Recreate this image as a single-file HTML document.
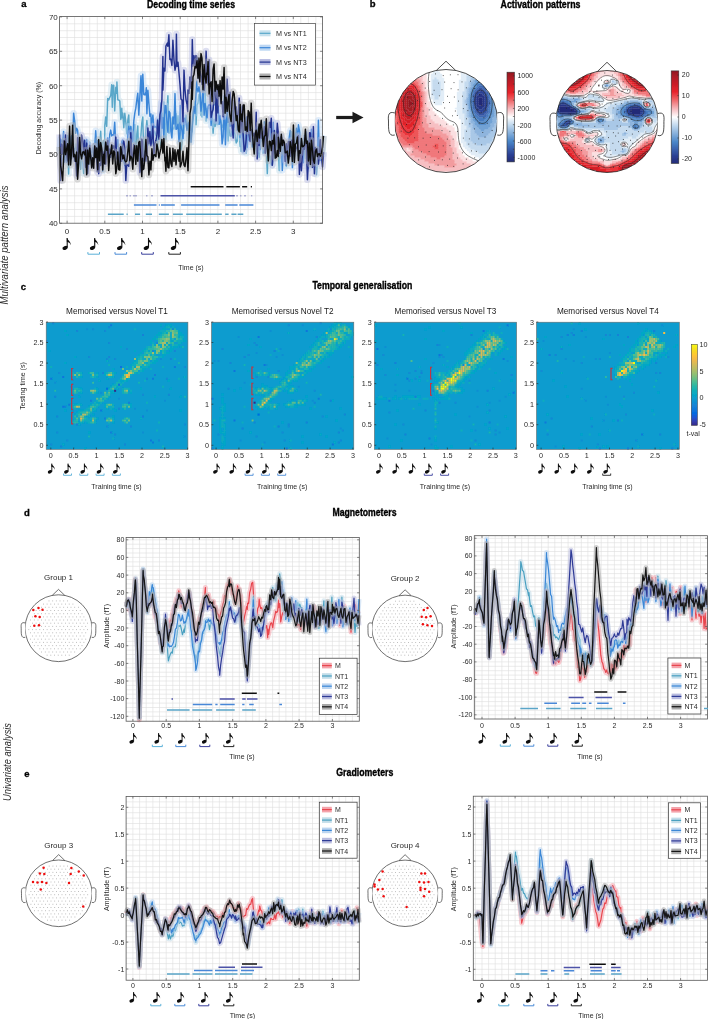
<!DOCTYPE html>
<html><head><meta charset="utf-8"><style>
html,body{margin:0;padding:0;background:#fff;width:708px;height:1019px;overflow:hidden}
svg{display:block;font-family:"Liberation Sans", sans-serif}
</style></head><body>
<svg width="708" height="1019" viewBox="0 0 708 1019">
<defs><filter id="soft" x="0" y="0" width="708" height="1019" filterUnits="userSpaceOnUse"><feGaussianBlur stdDeviation="0.35"/></filter></defs>
<rect width="708" height="1019" fill="#fff"/>
<g filter="url(#soft)"><text x="21.3" y="7.2" font-size="9.5" text-anchor="start" fill="#000" font-weight="bold" font-style="normal" stroke="#000" stroke-width="0.3">a</text><text x="369.8" y="7" font-size="9.5" text-anchor="start" fill="#000" font-weight="bold" font-style="normal" stroke="#000" stroke-width="0.3">b</text><text x="20.8" y="290.2" font-size="9.5" text-anchor="start" fill="#000" font-weight="bold" font-style="normal" stroke="#000" stroke-width="0.3">c</text><text x="24" y="516.2" font-size="9.5" text-anchor="start" fill="#000" font-weight="bold" font-style="normal" stroke="#000" stroke-width="0.3">d</text><text x="24.2" y="776.6" font-size="9.5" text-anchor="start" fill="#000" font-weight="bold" font-style="normal" stroke="#000" stroke-width="0.3">e</text><text x="191" y="8" font-size="10" font-weight="bold" text-anchor="middle" fill="#000" stroke="#000" stroke-width="0.35" textLength="88" lengthAdjust="spacingAndGlyphs">Decoding time series</text><text x="540.5" y="8" font-size="10" font-weight="bold" text-anchor="middle" fill="#000" stroke="#000" stroke-width="0.35" textLength="80" lengthAdjust="spacingAndGlyphs">Activation patterns</text><text x="362.4" y="289" font-size="10" font-weight="bold" text-anchor="middle" fill="#000" stroke="#000" stroke-width="0.35" textLength="100" lengthAdjust="spacingAndGlyphs">Temporal generalisation</text><text x="364.5" y="516.3" font-size="10" font-weight="bold" text-anchor="middle" fill="#000" stroke="#000" stroke-width="0.35" textLength="64" lengthAdjust="spacingAndGlyphs">Magnetometers</text><text x="364.8" y="776" font-size="10" font-weight="bold" text-anchor="middle" fill="#000" stroke="#000" stroke-width="0.35" textLength="57" lengthAdjust="spacingAndGlyphs">Gradiometers</text><text transform="translate(8.2 304.5) rotate(-90)" font-size="10" font-style="italic" fill="#2a2a2a" textLength="119" lengthAdjust="spacingAndGlyphs">Multivariate pattern analysis</text><text transform="translate(10.5 801) rotate(-90)" font-size="10" font-style="italic" fill="#2a2a2a" textLength="78" lengthAdjust="spacingAndGlyphs">Univariate analysis</text><path d="M67.1 16.6V223.2M74.6 16.6V223.2M82.2 16.6V223.2M89.7 16.6V223.2M97.3 16.6V223.2M104.8 16.6V223.2M112.3 16.6V223.2M119.9 16.6V223.2M127.4 16.6V223.2M135 16.6V223.2M142.5 16.6V223.2M150 16.6V223.2M157.6 16.6V223.2M165.1 16.6V223.2M172.7 16.6V223.2M180.2 16.6V223.2M187.7 16.6V223.2M195.3 16.6V223.2M202.8 16.6V223.2M210.4 16.6V223.2M217.9 16.6V223.2M225.4 16.6V223.2M233 16.6V223.2M240.5 16.6V223.2M248.1 16.6V223.2M255.6 16.6V223.2M263.1 16.6V223.2M270.7 16.6V223.2M278.2 16.6V223.2M285.8 16.6V223.2M293.3 16.6V223.2M300.8 16.6V223.2M308.4 16.6V223.2M315.9 16.6V223.2M59.6 216.4H322.6M59.6 209.5H322.6M59.6 202.7H322.6M59.6 195.8H322.6M59.6 188.9H322.6M59.6 182H322.6M59.6 175.1H322.6M59.6 168.3H322.6M59.6 161.4H322.6M59.6 154.5H322.6M59.6 147.6H322.6M59.6 140.7H322.6M59.6 133.9H322.6M59.6 127H322.6M59.6 120.1H322.6M59.6 113.2H322.6M59.6 106.3H322.6M59.6 99.5H322.6M59.6 92.6H322.6M59.6 85.7H322.6M59.6 78.8H322.6M59.6 71.9H322.6M59.6 65.1H322.6M59.6 58.2H322.6M59.6 51.3H322.6M59.6 44.4H322.6M59.6 37.5H322.6M59.6 30.7H322.6M59.6 23.8H322.6" stroke="#dedede" stroke-width="0.6" fill="none"/><path d="M59.6 154.1l1 -14.7l1 1.4l1 19.1l1 -2.5l1 2.5l1 -12.2l1 6.8l1 -8.9l1 28.4l1 -37.6l1 18.2l1 -8.6l1 8.9l1 2.5l1 -9.3l1 -4.1l1 11.2l1 -0.6l1 -9.3l1 17l1 7l1 -21.1l1 11.7l1 13.6l1 -12.2l1 -3.9l1.1 7.9l1 3.2l1 -17l1 -9.5l1 12.3l1 5.6l1 -12.5l1 -3.8l1 11.1l1 -9.4l1 -5.5l1 13.6l1 6.6l0.1 -12.8l0.9 -2.6l1 -13.3l1 22.2l1 -10.9l1 -2l1 5.8l0.1 -20.8l0.9 -8.6l1 9.3l1 -27.9l1 1.6l1 -2.4l1 -2.1l1 -10.7l0.6 22.4l0.4 -21.6l1 -0.3l1 25.6l1.1 -23.7l1 6.1l0.1 -11.4l0.9 17.9l1 0.3l1 1l1 18.4l1 -11.3l0.3 9.6l0.7 -4.5l1 14.4l1 -14.4l1 8.6l1 11.9l0.6 -6.9l0.4 -6.7l1 -5.2l1 37.6l1 -26.4l1 5.2l1 6.8l1 10.6l1 -24.3l1 28.4l1 -19.6l1 -7.4l0.9 32.4l0.1 -14.3l1 10.7l1 -17.4l1 -14.4l1 -5.9l1 41.4l1.1 -13.6l1 -14.4l1 -10l1 12.4l1 12.5l1 -11.9l1 3.1l1 1.7l1 5.5l1 -12.8l1 0.6l1 4l1 1.1l0.7 11.4l0.3 -9.2l1 -20l1 14l1 12.4l1 -32l1 7.5l1 -18.7l1 21.1l0.2 5.5l0.8 11l1 -30.3l1 -13.5l1 37.5l1 -1.8l1 -13.5l1 15.9l1 -6l1.1 1.1l1 -5.8l1 -9.7l1 12l1 -9.7l1 14.9l1 -8.1l1 27.4l1 -7.4l1 -24.6l1 15.5l0 -12.9l1 1.7l1 -7.2l1 6.9l1 -1l1 13.8l0.2 6.7l0.8 -3.5l1 -7.8l1 1.9l1 -11.5l1 -10.2l1 -8.9l0.3 5.1l0.7 18.2l1 -19.5l1 -2.4l1 -8.5l1 6.5l1 14.3l1 1.8l0.8 -29.4l0.2 14l1.1 -11.1l1 -2.6l1 33.1l1 -12.6l1 -0.1l1 -0.4l1 0.9l1 4.4l1 1l1 19.1l1 -14l1 7.1l1 -8.9l1 7.2l0.8 -11.4l0.2 -2.1l1 6.2l1 0.6l1 3l1 6.6l1 -2.5l1 4.2l1 -9.1l1 4.7l1 -5.6l1 21.7l1 -23.8l1 18.7l1 0.3l1 -5.3l1.1 4.7l1 -8.8l1 10.1l1 6.1l1 -1.9l1 -23.1l1 14.6l1 13.9l0.3 -12.7l0.7 17.6l1 -36.2l1 37.1l1 -21.5l1 -0.1l1 22.6l1 -18.7l1 -7l1 6.4l1 2.9l1 -7l1 9.3l1 -1.3l1 5.7l1 -7.7l1 17.9l1 -18.5l1 14.9l1 7.1l1 -15.5l1 -14l1.1 8.7l0.8 16.8l0.2 -13.4l1 12.8l1 -3.5l1 -2.2l1 26.6l1 -27.5l1 13.6l1 -3.6l1 8.7l1 0.6l1 -6.2l1 -19.4l1 -9.1l1 18.7l1 -12.2l1 15.1l1 18.2l1 -22.6l1 -3.1l1 9.7l1 -7.9l1 -2.9l1 16l1 6.8l1 -13.7l1 0l1 1.7l1 -14.6l1.1 -8.1l1 23.7l1 -12.1l1 -2.6l1 2.6l1 -3.5l1 15.9l1 -12.3l1 -14l1 13.5l1 15.8l1 -13.4l1 -7.1l1 10l1 10.3l1 -23l1 30.8l1 -19.2l1 5.9l1 13.1l1 -26.5l1 9.7l1 16.8l1 -19.4l1 11.5l1 16.3l1 -13.2l1 -10.4l1 -4l1 5.3l1.1 1.5l1 -4.6l1 7.6" stroke="#c6e1ee" stroke-width="6.5" stroke-opacity="0.45" fill="none" stroke-linejoin="round"/><path d="M59.6 154.1l1 -14.7l1 1.4l1 19.1l1 -2.5l1 2.5l1 -12.2l1 6.8l1 -8.9l1 28.4l1 -37.6l1 18.2l1 -8.6l1 8.9l1 2.5l1 -9.3l1 -4.1l1 11.2l1 -0.6l1 -9.3l1 17l1 7l1 -21.1l1 11.7l1 13.6l1 -12.2l1 -3.9l1.1 7.9l1 3.2l1 -17l1 -9.5l1 12.3l1 5.6l1 -12.5l1 -3.8l1 11.1l1 -9.4l1 -5.5l1 13.6l1 6.6l0.1 -12.8l0.9 -2.6l1 -13.3l1 22.2l1 -10.9l1 -2l1 5.8l0.1 -20.8l0.9 -8.6l1 9.3l1 -27.9l1 1.6l1 -2.4l1 -2.1l1 -10.7l0.6 22.4l0.4 -21.6l1 -0.3l1 25.6l1.1 -23.7l1 6.1l0.1 -11.4l0.9 17.9l1 0.3l1 1l1 18.4l1 -11.3l0.3 9.6l0.7 -4.5l1 14.4l1 -14.4l1 8.6l1 11.9l0.6 -6.9l0.4 -6.7l1 -5.2l1 37.6l1 -26.4l1 5.2l1 6.8l1 10.6l1 -24.3l1 28.4l1 -19.6l1 -7.4l0.9 32.4l0.1 -14.3l1 10.7l1 -17.4l1 -14.4l1 -5.9l1 41.4l1.1 -13.6l1 -14.4l1 -10l1 12.4l1 12.5l1 -11.9l1 3.1l1 1.7l1 5.5l1 -12.8l1 0.6l1 4l1 1.1l0.7 11.4l0.3 -9.2l1 -20l1 14l1 12.4l1 -32l1 7.5l1 -18.7l1 21.1l0.2 5.5l0.8 11l1 -30.3l1 -13.5l1 37.5l1 -1.8l1 -13.5l1 15.9l1 -6l1.1 1.1l1 -5.8l1 -9.7l1 12l1 -9.7l1 14.9l1 -8.1l1 27.4l1 -7.4l1 -24.6l1 15.5l0 -12.9l1 1.7l1 -7.2l1 6.9l1 -1l1 13.8l0.2 6.7l0.8 -3.5l1 -7.8l1 1.9l1 -11.5l1 -10.2l1 -8.9l0.3 5.1l0.7 18.2l1 -19.5l1 -2.4l1 -8.5l1 6.5l1 14.3l1 1.8l0.8 -29.4l0.2 14l1.1 -11.1l1 -2.6l1 33.1l1 -12.6l1 -0.1l1 -0.4l1 0.9l1 4.4l1 1l1 19.1l1 -14l1 7.1l1 -8.9l1 7.2l0.8 -11.4l0.2 -2.1l1 6.2l1 0.6l1 3l1 6.6l1 -2.5l1 4.2l1 -9.1l1 4.7l1 -5.6l1 21.7l1 -23.8l1 18.7l1 0.3l1 -5.3l1.1 4.7l1 -8.8l1 10.1l1 6.1l1 -1.9l1 -23.1l1 14.6l1 13.9l0.3 -12.7l0.7 17.6l1 -36.2l1 37.1l1 -21.5l1 -0.1l1 22.6l1 -18.7l1 -7l1 6.4l1 2.9l1 -7l1 9.3l1 -1.3l1 5.7l1 -7.7l1 17.9l1 -18.5l1 14.9l1 7.1l1 -15.5l1 -14l1.1 8.7l0.8 16.8l0.2 -13.4l1 12.8l1 -3.5l1 -2.2l1 26.6l1 -27.5l1 13.6l1 -3.6l1 8.7l1 0.6l1 -6.2l1 -19.4l1 -9.1l1 18.7l1 -12.2l1 15.1l1 18.2l1 -22.6l1 -3.1l1 9.7l1 -7.9l1 -2.9l1 16l1 6.8l1 -13.7l1 0l1 1.7l1 -14.6l1.1 -8.1l1 23.7l1 -12.1l1 -2.6l1 2.6l1 -3.5l1 15.9l1 -12.3l1 -14l1 13.5l1 15.8l1 -13.4l1 -7.1l1 10l1 10.3l1 -23l1 30.8l1 -19.2l1 5.9l1 13.1l1 -26.5l1 9.7l1 16.8l1 -19.4l1 11.5l1 16.3l1 -13.2l1 -10.4l1 -4l1 5.3l1.1 1.5l1 -4.6l1 7.6" stroke="#5aa7c9" stroke-width="1.45" fill="none" stroke-linejoin="round"/><path d="M59.6 151.1l1 -12l1 2.9l1 -0.3l1 -10.3l1 30.6l1 -6.8l1 7.2l0.5 -13.6l0.5 -13.3l1 9l1 -8l1 24.2l1 -25l1 9.3l1 -31.8l1 7.5l0 -0.7l1 13.3l1 -5.1l1 1.8l1 13.3l1 4l1 -1.9l1 7.6l0.6 1.2l0.4 -3.4l1 5.2l1 -16.3l1 26.3l1.1 -26.4l1 16.2l1 -0.7l1 9.1l1 -13.1l1 1.4l1 -4.6l1 8.2l1 -6.7l1 -18.7l1 15.7l0.6 11l0.4 -16.9l1 11.7l1 -8.2l1 -0.5l1 10.9l1 16.7l1 -17.7l1 -10.1l1 10l1 -9.2l1 -6.2l1 16.5l1 -19.7l1 -4.6l1 5.8l1 -1.2l1 0.5l1 -12.9l1.1 22.5l1 1.8l1 -6.9l1 16.5l1 6.8l1 -7.6l1 -14l1 -1.4l1 21.9l1 3.6l1 -17.5l1 -1.6l0.6 -1.7l0.4 -9.1l1 -9.3l1 7.7l1 -7.4l1 15.6l1 -2.3l1 -18.7l1 -8l0.2 -1.1l0.8 -3.9l1 -8.4l1 -6.6l1 21.9l1 -17.5l1 -19.4l0.2 -2.5l0.8 25.4l1 -26.9l1 20.3l1.1 0.4l1 -3l0.4 -4.1l0.6 25.9l1 -23.4l1 13.3l1 12.6l1 -2.2l0.6 23.3l0.4 -16l1 -6.3l1 12.7l1 -1.4l1 0.9l1 0.7l0.7 -8.7l0.3 11.1l1 1.2l1 -10.2l1 -18.3l1 25.3l1 -10.8l1 21.6l1 -33.5l0.2 7.2l0.8 -7.2l1 15.6l1 11l1 -21l1 1.7l1 18.1l1 6.9l1 -21l1.1 7.1l1 -30.4l1 35.7l1 -0.7l1 -4.4l1 17.4l1 -8.3l0.2 -27.9l0.8 19.9l1 5.6l1 7.7l1 -20l1 -0.5l1 4.8l1 7.5l1 -7.3l1 -0.4l0.2 11.8l0.8 -17.8l1 25.5l1 -13.6l1 -15.5l1 -6.7l1 7.1l1 -21.1l0.8 -11.4l0.2 7l1 3.9l1 -5.3l1 6.1l1 18.4l1 -8.9l1 -15l1.1 28.1l1 -11.8l1 6.4l0.5 6.3l0.5 1.6l1 -11.5l1 -1.6l1 0.8l1 20l1 -12l1 -6.2l1 -5.9l1 3.7l1 -1l1 -2.2l1 3.8l1 18.7l1 -8.8l1 9.2l1 19.1l1 -7l1 -40.8l1 36.1l0.3 12.6l0.7 -17.8l1 -22.5l1 17.9l1 -4.3l1 8.2l1 -1.4l1 -14.2l1.1 5.9l1 10.4l1 -10.1l1 -1.3l1 14.9l1 -4.7l1 0.9l1 10.8l1 -19.3l1 15.2l1 5.7l1 12.3l1 -3.9l1 -30l1 30l1 -16.6l1 9.5l1 -9l1 -0.3l1 15.9l1 -4.7l1 -3.6l1 0.5l0.4 1.9l0.6 3.2l1 -10.2l1 -7.5l1 8.7l1 14.3l1 -12.4l1.1 3.9l1 -4.3l1 -15.1l1 22.9l1 -2.1l1 9.8l1 -6.5l1 3.3l1 -23.7l1 14.4l1 9.8l1 -27.4l1 36l1 -23.9l1 -1.6l1 5l1 9.4l1 -1.3l1 2.5l1 -12.3l1 34.4l1 -19.8l1 -7.2l1 8.3l1 13.7l1 -17.2l1 5.8l1 -16.9l1 -6.5l1.1 14.8l1 22.2l1 -19l1 8.2l1 -17.5l1 -11l1 15.3l1 -18.8l1 5.9l1 9.2l1 17.3l1 -11.6l1 17.1l1 -27.2l1 10.2l1 -13.7l1 12l1 24.6l1 -28.3l1 -3.1l1 -7.9l1 29.2l1 -0.4l1 -10.7l1 12.4l1 3.8l1 -3l1 -40.4l1 35.7l1 4.5l1.1 -6l1 -4.7l1 -14" stroke="#bdd7f3" stroke-width="6.5" stroke-opacity="0.45" fill="none" stroke-linejoin="round"/><path d="M59.6 151.1l1 -12l1 2.9l1 -0.3l1 -10.3l1 30.6l1 -6.8l1 7.2l0.5 -13.6l0.5 -13.3l1 9l1 -8l1 24.2l1 -25l1 9.3l1 -31.8l1 7.5l0 -0.7l1 13.3l1 -5.1l1 1.8l1 13.3l1 4l1 -1.9l1 7.6l0.6 1.2l0.4 -3.4l1 5.2l1 -16.3l1 26.3l1.1 -26.4l1 16.2l1 -0.7l1 9.1l1 -13.1l1 1.4l1 -4.6l1 8.2l1 -6.7l1 -18.7l1 15.7l0.6 11l0.4 -16.9l1 11.7l1 -8.2l1 -0.5l1 10.9l1 16.7l1 -17.7l1 -10.1l1 10l1 -9.2l1 -6.2l1 16.5l1 -19.7l1 -4.6l1 5.8l1 -1.2l1 0.5l1 -12.9l1.1 22.5l1 1.8l1 -6.9l1 16.5l1 6.8l1 -7.6l1 -14l1 -1.4l1 21.9l1 3.6l1 -17.5l1 -1.6l0.6 -1.7l0.4 -9.1l1 -9.3l1 7.7l1 -7.4l1 15.6l1 -2.3l1 -18.7l1 -8l0.2 -1.1l0.8 -3.9l1 -8.4l1 -6.6l1 21.9l1 -17.5l1 -19.4l0.2 -2.5l0.8 25.4l1 -26.9l1 20.3l1.1 0.4l1 -3l0.4 -4.1l0.6 25.9l1 -23.4l1 13.3l1 12.6l1 -2.2l0.6 23.3l0.4 -16l1 -6.3l1 12.7l1 -1.4l1 0.9l1 0.7l0.7 -8.7l0.3 11.1l1 1.2l1 -10.2l1 -18.3l1 25.3l1 -10.8l1 21.6l1 -33.5l0.2 7.2l0.8 -7.2l1 15.6l1 11l1 -21l1 1.7l1 18.1l1 6.9l1 -21l1.1 7.1l1 -30.4l1 35.7l1 -0.7l1 -4.4l1 17.4l1 -8.3l0.2 -27.9l0.8 19.9l1 5.6l1 7.7l1 -20l1 -0.5l1 4.8l1 7.5l1 -7.3l1 -0.4l0.2 11.8l0.8 -17.8l1 25.5l1 -13.6l1 -15.5l1 -6.7l1 7.1l1 -21.1l0.8 -11.4l0.2 7l1 3.9l1 -5.3l1 6.1l1 18.4l1 -8.9l1 -15l1.1 28.1l1 -11.8l1 6.4l0.5 6.3l0.5 1.6l1 -11.5l1 -1.6l1 0.8l1 20l1 -12l1 -6.2l1 -5.9l1 3.7l1 -1l1 -2.2l1 3.8l1 18.7l1 -8.8l1 9.2l1 19.1l1 -7l1 -40.8l1 36.1l0.3 12.6l0.7 -17.8l1 -22.5l1 17.9l1 -4.3l1 8.2l1 -1.4l1 -14.2l1.1 5.9l1 10.4l1 -10.1l1 -1.3l1 14.9l1 -4.7l1 0.9l1 10.8l1 -19.3l1 15.2l1 5.7l1 12.3l1 -3.9l1 -30l1 30l1 -16.6l1 9.5l1 -9l1 -0.3l1 15.9l1 -4.7l1 -3.6l1 0.5l0.4 1.9l0.6 3.2l1 -10.2l1 -7.5l1 8.7l1 14.3l1 -12.4l1.1 3.9l1 -4.3l1 -15.1l1 22.9l1 -2.1l1 9.8l1 -6.5l1 3.3l1 -23.7l1 14.4l1 9.8l1 -27.4l1 36l1 -23.9l1 -1.6l1 5l1 9.4l1 -1.3l1 2.5l1 -12.3l1 34.4l1 -19.8l1 -7.2l1 8.3l1 13.7l1 -17.2l1 5.8l1 -16.9l1 -6.5l1.1 14.8l1 22.2l1 -19l1 8.2l1 -17.5l1 -11l1 15.3l1 -18.8l1 5.9l1 9.2l1 17.3l1 -11.6l1 17.1l1 -27.2l1 10.2l1 -13.7l1 12l1 24.6l1 -28.3l1 -3.1l1 -7.9l1 29.2l1 -0.4l1 -10.7l1 12.4l1 3.8l1 -3l1 -40.4l1 35.7l1 4.5l1.1 -6l1 -4.7l1 -14" stroke="#3b86d8" stroke-width="1.45" fill="none" stroke-linejoin="round"/><path d="M59.6 134.4l1 46.2l1 -36.5l1 9.9l1 -13.6l1 10.3l1 -15.8l1 19.9l1 6.1l1 -12l1 1.8l1 8.7l1 -1.1l1 -10.5l1 0.2l1 13.3l1 -1.3l1 15.9l1 -38.2l1 21l1 -17.1l1 10.2l1 -16.7l1 4.6l1 13.5l1 -12.7l1 26.8l1.1 -24.2l1 30.3l1 -20l1 -7.9l1 9.4l1 6.6l1 4.9l1 -5l1 -15.3l1 1.9l1 12.8l0.6 10.9l0.4 -21.2l1 23.2l1 -10.3l1 2.1l1 -16.4l1 5.4l1 -2.6l1 1.9l1 10.3l1 -13.5l1 -9.8l1 15.8l1 -7.5l1 8.2l1 -12.9l1 3.8l1 -2.4l1 5.6l1.1 -14.3l1 21.9l1 -0.5l1 2.7l1 -13.4l1 13.4l1 0.1l1 -15.2l1 -5l1 6.3l1 33.2l1 -16.7l1 1.2l1 1.3l1 -8.9l1 -24.7l1 23.3l1 4.5l1 -15.9l1 6.8l1 -0.8l1 8.8l1 -7.7l1 -5l1 25.7l1 -3.5l1 -29.8l0.7 2.6l0.3 14.5l1 4.8l1.1 -10.1l1 10.1l1 -10.3l1 -22.8l1 15.8l1 -12.3l1 14.4l1 -7.5l1 -12.1l1 29.1l1 -11.8l1 -3l1 -5.8l0.7 -14.6l0.3 6.1l1 12.9l1 -24.6l1 -4.3l1 -10.8l1 -43l0 33.6l1 -21.9l1 2.8l1 -25l1 -2l0.5 -1l0.5 3.3l1 -11.5l1 24.7l1 -0.3l1 6.2l1 -25.1l1.1 19.8l1 10.1l1 -4.9l0.4 -31.2l0.6 32.2l1 -4l1 10.7l1 11.8l1 14.1l0.7 0.8l0.3 0.5l1 21.6l1 -51.7l1 19.5l1 10l1 4.7l0.7 7.3l0.3 -21.5l1 3.3l1 -16.4l1 11.4l1 -28.6l0.3 -20.2l0.7 26.4l1 -10.3l1 10l1 -10.1l1 2l1 12.7l1 8.5l1 -7.7l1 4.4l1 8.9l0.8 -10.6l0.2 0.6l1.1 15.9l1 -7.2l1 -32l1 24.5l1 9.3l1 -25.2l1 34.1l1 23.6l1 -4.9l1 -2.9l1 -18.2l1 -6.5l1 36l1 -34.8l0.8 26.9l0.2 -16.2l1 -1.3l1 1.2l1 5.6l1 -0.9l1 15.4l1 -14.7l1 -6.8l1 1.5l1 -17.7l1 17.8l1 4.8l1 -9.4l1 16.6l1 17.8l1.1 11.3l1 -37.8l1 8.8l1 -2.2l1 13.9l1 -6.5l1 -16.1l1 18l0.3 16.3l0.7 -7l1 -19.3l1 28l1 17.2l1 -2.4l1 -9.7l1 -22.8l1 8.6l1 10l1 6.6l1 -12.1l1 1.3l1 5.2l1 -2.8l1 6.5l1 -27.5l1 46.7l1 -26.7l1 13.3l1 -18.2l1 11.1l1.1 -5.8l0.8 -1.2l0.2 3.7l1 -8.3l1 26.5l1 -25.4l1 13.2l1 -6.2l1 -12.6l1 5.1l1 -9.2l1 47l1 -13.9l1 -20.8l1 23.4l1 -10.1l1 -20.5l1 9.6l1 20.5l1 -15.2l1 -1.8l1 6.7l1 2.2l1 -2.3l1 18.4l1 -17.6l1 12.4l1 -14.6l1 -0.1l1 14.9l1.1 -16.2l1 3.2l0.9 4.7l0.1 -8.5l1 11.6l1 -0.2l1 -3.9l1 1.6l1 -13.1l1 38.8l1 -22.6l1 18.9l1 -16.3l1 -8.2l1 2.9l1 -10.4l1 7.3l1 33.8l1 -17.7l1 -29.3l1 0.1l1 16.2l1 18.3l1 -40.8l1 47.1l1 -26.3l1 4.1l1 -3.1l1 15.7l1 -8.3l1 -16.1l1.1 17.4l1 9.9l1 -14.9" stroke="#b4b9e0" stroke-width="6.5" stroke-opacity="0.45" fill="none" stroke-linejoin="round"/><path d="M59.6 134.4l1 46.2l1 -36.5l1 9.9l1 -13.6l1 10.3l1 -15.8l1 19.9l1 6.1l1 -12l1 1.8l1 8.7l1 -1.1l1 -10.5l1 0.2l1 13.3l1 -1.3l1 15.9l1 -38.2l1 21l1 -17.1l1 10.2l1 -16.7l1 4.6l1 13.5l1 -12.7l1 26.8l1.1 -24.2l1 30.3l1 -20l1 -7.9l1 9.4l1 6.6l1 4.9l1 -5l1 -15.3l1 1.9l1 12.8l0.6 10.9l0.4 -21.2l1 23.2l1 -10.3l1 2.1l1 -16.4l1 5.4l1 -2.6l1 1.9l1 10.3l1 -13.5l1 -9.8l1 15.8l1 -7.5l1 8.2l1 -12.9l1 3.8l1 -2.4l1 5.6l1.1 -14.3l1 21.9l1 -0.5l1 2.7l1 -13.4l1 13.4l1 0.1l1 -15.2l1 -5l1 6.3l1 33.2l1 -16.7l1 1.2l1 1.3l1 -8.9l1 -24.7l1 23.3l1 4.5l1 -15.9l1 6.8l1 -0.8l1 8.8l1 -7.7l1 -5l1 25.7l1 -3.5l1 -29.8l0.7 2.6l0.3 14.5l1 4.8l1.1 -10.1l1 10.1l1 -10.3l1 -22.8l1 15.8l1 -12.3l1 14.4l1 -7.5l1 -12.1l1 29.1l1 -11.8l1 -3l1 -5.8l0.7 -14.6l0.3 6.1l1 12.9l1 -24.6l1 -4.3l1 -10.8l1 -43l0 33.6l1 -21.9l1 2.8l1 -25l1 -2l0.5 -1l0.5 3.3l1 -11.5l1 24.7l1 -0.3l1 6.2l1 -25.1l1.1 19.8l1 10.1l1 -4.9l0.4 -31.2l0.6 32.2l1 -4l1 10.7l1 11.8l1 14.1l0.7 0.8l0.3 0.5l1 21.6l1 -51.7l1 19.5l1 10l1 4.7l0.7 7.3l0.3 -21.5l1 3.3l1 -16.4l1 11.4l1 -28.6l0.3 -20.2l0.7 26.4l1 -10.3l1 10l1 -10.1l1 2l1 12.7l1 8.5l1 -7.7l1 4.4l1 8.9l0.8 -10.6l0.2 0.6l1.1 15.9l1 -7.2l1 -32l1 24.5l1 9.3l1 -25.2l1 34.1l1 23.6l1 -4.9l1 -2.9l1 -18.2l1 -6.5l1 36l1 -34.8l0.8 26.9l0.2 -16.2l1 -1.3l1 1.2l1 5.6l1 -0.9l1 15.4l1 -14.7l1 -6.8l1 1.5l1 -17.7l1 17.8l1 4.8l1 -9.4l1 16.6l1 17.8l1.1 11.3l1 -37.8l1 8.8l1 -2.2l1 13.9l1 -6.5l1 -16.1l1 18l0.3 16.3l0.7 -7l1 -19.3l1 28l1 17.2l1 -2.4l1 -9.7l1 -22.8l1 8.6l1 10l1 6.6l1 -12.1l1 1.3l1 5.2l1 -2.8l1 6.5l1 -27.5l1 46.7l1 -26.7l1 13.3l1 -18.2l1 11.1l1.1 -5.8l0.8 -1.2l0.2 3.7l1 -8.3l1 26.5l1 -25.4l1 13.2l1 -6.2l1 -12.6l1 5.1l1 -9.2l1 47l1 -13.9l1 -20.8l1 23.4l1 -10.1l1 -20.5l1 9.6l1 20.5l1 -15.2l1 -1.8l1 6.7l1 2.2l1 -2.3l1 18.4l1 -17.6l1 12.4l1 -14.6l1 -0.1l1 14.9l1.1 -16.2l1 3.2l0.9 4.7l0.1 -8.5l1 11.6l1 -0.2l1 -3.9l1 1.6l1 -13.1l1 38.8l1 -22.6l1 18.9l1 -16.3l1 -8.2l1 2.9l1 -10.4l1 7.3l1 33.8l1 -17.7l1 -29.3l1 0.1l1 16.2l1 18.3l1 -40.8l1 47.1l1 -26.3l1 4.1l1 -3.1l1 15.7l1 -8.3l1 -16.1l1.1 17.4l1 9.9l1 -14.9" stroke="#23318e" stroke-width="1.45" fill="none" stroke-linejoin="round"/><path d="M59.6 146.8l1 18.6l1 6.6l1 8.6l1 -21.9l1 -17.6l1 13.5l1 -5.2l1 -5.6l1 21.1l1 -38.8l1 38.9l1 -13.7l1 -26l1 31.5l1 -2.4l1 7l1 -9.3l1 27.2l1 -16.2l1 -25.7l1 16.4l1 5l1 -6.7l1 -0.3l1 2.9l1 -4.6l1.1 24.7l1 -24.7l1 14l1 -16l1 9l1 10.8l1 -10.1l1 10.4l1 -22.2l1 11.6l1 -9.7l1 21.8l1 -30.1l1 21.3l1 -18.3l1 5.7l1 21.6l1 -15.6l1 9.6l0.1 -10.5l0.9 -11.3l1 8.1l1 -4.3l1 24.6l1 -15.3l1 -1.8l1 -8.1l1 18.7l1 -13.1l1 1.4l1.1 21.4l1 -5.4l1 -16.4l1 17.7l1 0.5l1 -23.5l1 6.6l1 5.7l1 -3.9l1 5.6l1 1.3l1 -0.9l1 -9.4l1 -10.4l1 19.6l1 -4.5l1 1.6l1 11.4l1 -16.8l1 -6.8l1 18.7l1 -18.6l1 15.4l1 -19l1 -0.8l1 17.5l1 17.7l0.7 -18.3l0.3 11.5l1 -0.8l1.1 -11.7l1 -17.8l1 16l1 1.4l1 18l1 -13.7l1 8.7l1 -21.1l1 11.5l1 -5.3l1 -0.3l1 1.9l1 -12.6l1 5.1l1 8.9l1 -5.2l1 -4.4l1 -9l1 13.7l1 -14.5l1 22.4l0.2 -3.9l0.8 14.2l1 -24.9l1 21l1 0.6l1 -20.1l1 15.6l1 3l1 -18.2l1.1 13.1l1 -11.6l1 15.1l1 -11.9l1 -3.3l1 11.5l1 -18.4l0.2 24.3l0.8 -2.2l1 -3.3l1 -10.4l1 14l1 1.5l1 -7.8l1 -11.1l0.7 18.2l0.3 4.7l1 -30.9l1 -26.6l1 -5.5l1 -25.6l0.3 17.3l0.7 -22.3l1 -2.9l1 -7.8l1 1.5l1 -7.1l1 17.4l1 -20.2l0.8 23.9l0.2 -11.2l1 -17.1l1 4.6l1 31.5l1.1 -25.2l1 13l1 5.5l0.5 -9.9l0.5 1.4l1 -12.9l1 32.3l1 -10.1l1 -2.1l1 19.8l1 -32.1l1 -5.4l1 27.3l1 -10l1 8.2l1 -4.8l1 11.4l1 -15.5l1 23.1l1 -26.8l1 12.2l1 -21.7l1 45.9l1 -16.1l1 14.2l1 -11.5l1 -5.3l0.1 15l0.9 7.1l1 4.8l1 -20l1.1 -10.1l1 2.7l1 14l1 12.5l1 -5l1 14.1l1 2.3l1 -27.6l0.3 15.3l0.7 -5.8l1 7.6l1 -16.5l1 -0.1l1 25.4l1 -3.4l1 4.5l1 -20.8l1 1.8l1 18.1l1 -27.4l1 26.1l1 14.8l1 10l1 -19.7l1 -4l1 11.1l1 -9.3l1 -8.1l0.2 14l0.8 -9.3l1 -8.4l1.1 13.6l1 12.6l1 -10.4l1 -0.4l1 -16.9l1 29l1 13.1l1 -19.7l1 0.5l1 8.9l1 -10.1l1 3.5l1 -9.1l1 23.2l1 -0.7l1 -6.8l0.9 6l0.1 -19.5l1 7.6l1 6.6l1 -17.1l1 11.3l1 -5.4l1 2.1l1 10.5l1 -0.1l1 -1.6l1 12.1l1 -8.2l1 -13.2l1.1 6l1 13.7l1 -36.4l1 37.4l1 -18.2l1 -1.1l1 -6.1l1 23.5l1 -9.7l1 2.4l1 -14.8l1 8.3l1 -0.3l1 -1.4l1 -15.7l1 14.1l1 -2.3l1 19.9l1 -17.9l1 21.3l1 -24.2l1 8.8l1 11.3l1 2.9l1 -11.7l1 -2.4l1 7.5l1 -2.6l1 -0.2l1 2.4l1.1 -3.8l1 -5.1l1 -11.3" stroke="#b0b0b0" stroke-width="6.5" stroke-opacity="0.45" fill="none" stroke-linejoin="round"/><path d="M59.6 146.8l1 18.6l1 6.6l1 8.6l1 -21.9l1 -17.6l1 13.5l1 -5.2l1 -5.6l1 21.1l1 -38.8l1 38.9l1 -13.7l1 -26l1 31.5l1 -2.4l1 7l1 -9.3l1 27.2l1 -16.2l1 -25.7l1 16.4l1 5l1 -6.7l1 -0.3l1 2.9l1 -4.6l1.1 24.7l1 -24.7l1 14l1 -16l1 9l1 10.8l1 -10.1l1 10.4l1 -22.2l1 11.6l1 -9.7l1 21.8l1 -30.1l1 21.3l1 -18.3l1 5.7l1 21.6l1 -15.6l1 9.6l0.1 -10.5l0.9 -11.3l1 8.1l1 -4.3l1 24.6l1 -15.3l1 -1.8l1 -8.1l1 18.7l1 -13.1l1 1.4l1.1 21.4l1 -5.4l1 -16.4l1 17.7l1 0.5l1 -23.5l1 6.6l1 5.7l1 -3.9l1 5.6l1 1.3l1 -0.9l1 -9.4l1 -10.4l1 19.6l1 -4.5l1 1.6l1 11.4l1 -16.8l1 -6.8l1 18.7l1 -18.6l1 15.4l1 -19l1 -0.8l1 17.5l1 17.7l0.7 -18.3l0.3 11.5l1 -0.8l1.1 -11.7l1 -17.8l1 16l1 1.4l1 18l1 -13.7l1 8.7l1 -21.1l1 11.5l1 -5.3l1 -0.3l1 1.9l1 -12.6l1 5.1l1 8.9l1 -5.2l1 -4.4l1 -9l1 13.7l1 -14.5l1 22.4l0.2 -3.9l0.8 14.2l1 -24.9l1 21l1 0.6l1 -20.1l1 15.6l1 3l1 -18.2l1.1 13.1l1 -11.6l1 15.1l1 -11.9l1 -3.3l1 11.5l1 -18.4l0.2 24.3l0.8 -2.2l1 -3.3l1 -10.4l1 14l1 1.5l1 -7.8l1 -11.1l0.7 18.2l0.3 4.7l1 -30.9l1 -26.6l1 -5.5l1 -25.6l0.3 17.3l0.7 -22.3l1 -2.9l1 -7.8l1 1.5l1 -7.1l1 17.4l1 -20.2l0.8 23.9l0.2 -11.2l1 -17.1l1 4.6l1 31.5l1.1 -25.2l1 13l1 5.5l0.5 -9.9l0.5 1.4l1 -12.9l1 32.3l1 -10.1l1 -2.1l1 19.8l1 -32.1l1 -5.4l1 27.3l1 -10l1 8.2l1 -4.8l1 11.4l1 -15.5l1 23.1l1 -26.8l1 12.2l1 -21.7l1 45.9l1 -16.1l1 14.2l1 -11.5l1 -5.3l0.1 15l0.9 7.1l1 4.8l1 -20l1.1 -10.1l1 2.7l1 14l1 12.5l1 -5l1 14.1l1 2.3l1 -27.6l0.3 15.3l0.7 -5.8l1 7.6l1 -16.5l1 -0.1l1 25.4l1 -3.4l1 4.5l1 -20.8l1 1.8l1 18.1l1 -27.4l1 26.1l1 14.8l1 10l1 -19.7l1 -4l1 11.1l1 -9.3l1 -8.1l0.2 14l0.8 -9.3l1 -8.4l1.1 13.6l1 12.6l1 -10.4l1 -0.4l1 -16.9l1 29l1 13.1l1 -19.7l1 0.5l1 8.9l1 -10.1l1 3.5l1 -9.1l1 23.2l1 -0.7l1 -6.8l0.9 6l0.1 -19.5l1 7.6l1 6.6l1 -17.1l1 11.3l1 -5.4l1 2.1l1 10.5l1 -0.1l1 -1.6l1 12.1l1 -8.2l1 -13.2l1.1 6l1 13.7l1 -36.4l1 37.4l1 -18.2l1 -1.1l1 -6.1l1 23.5l1 -9.7l1 2.4l1 -14.8l1 8.3l1 -0.3l1 -1.4l1 -15.7l1 14.1l1 -2.3l1 19.9l1 -17.9l1 21.3l1 -24.2l1 8.8l1 11.3l1 2.9l1 -11.7l1 -2.4l1 7.5l1 -2.6l1 -0.2l1 2.4l1.1 -3.8l1 -5.1l1 -11.3" stroke="#0d0d0d" stroke-width="1.45" fill="none" stroke-linejoin="round"/><rect x="59.6" y="16.6" width="263" height="206.6" fill="none" stroke="#555" stroke-width="0.8"/><path d="M67.1 223.2v-2.5M67.1 16.6v2.5M104.8 223.2v-2.5M104.8 16.6v2.5M142.5 223.2v-2.5M142.5 16.6v2.5M180.2 223.2v-2.5M180.2 16.6v2.5M217.9 223.2v-2.5M217.9 16.6v2.5M255.6 223.2v-2.5M255.6 16.6v2.5M293.3 223.2v-2.5M293.3 16.6v2.5M59.6 223.3h2.5M322.6 223.3h-2.5M59.6 188.9h2.5M322.6 188.9h-2.5M59.6 154.5h2.5M322.6 154.5h-2.5M59.6 120.1h2.5M322.6 120.1h-2.5M59.6 85.7h2.5M322.6 85.7h-2.5M59.6 51.3h2.5M322.6 51.3h-2.5M59.6 16.9h2.5M322.6 16.9h-2.5" stroke="#555" stroke-width="0.7" fill="none"/><text x="67.1" y="234" font-size="8" text-anchor="middle" fill="#2a2a2a" font-weight="normal" font-style="normal" >0</text><text x="104.8" y="234" font-size="8" text-anchor="middle" fill="#2a2a2a" font-weight="normal" font-style="normal" >0.5</text><text x="142.5" y="234" font-size="8" text-anchor="middle" fill="#2a2a2a" font-weight="normal" font-style="normal" >1</text><text x="180.2" y="234" font-size="8" text-anchor="middle" fill="#2a2a2a" font-weight="normal" font-style="normal" >1.5</text><text x="217.9" y="234" font-size="8" text-anchor="middle" fill="#2a2a2a" font-weight="normal" font-style="normal" >2</text><text x="255.6" y="234" font-size="8" text-anchor="middle" fill="#2a2a2a" font-weight="normal" font-style="normal" >2.5</text><text x="293.3" y="234" font-size="8" text-anchor="middle" fill="#2a2a2a" font-weight="normal" font-style="normal" >3</text><text x="57.8" y="226.2" font-size="8" text-anchor="end" fill="#2a2a2a" font-weight="normal" font-style="normal" >40</text><text x="57.8" y="191.8" font-size="8" text-anchor="end" fill="#2a2a2a" font-weight="normal" font-style="normal" >45</text><text x="57.8" y="157.4" font-size="8" text-anchor="end" fill="#2a2a2a" font-weight="normal" font-style="normal" >50</text><text x="57.8" y="123" font-size="8" text-anchor="end" fill="#2a2a2a" font-weight="normal" font-style="normal" >55</text><text x="57.8" y="88.6" font-size="8" text-anchor="end" fill="#2a2a2a" font-weight="normal" font-style="normal" >60</text><text x="57.8" y="54.2" font-size="8" text-anchor="end" fill="#2a2a2a" font-weight="normal" font-style="normal" >65</text><text x="57.8" y="19.8" font-size="8" text-anchor="end" fill="#2a2a2a" font-weight="normal" font-style="normal" >70</text><text transform="translate(40.8 118) rotate(-90)" font-size="7" text-anchor="middle" fill="#2a2a2a">Decoding accuracy (%)</text><text x="191" y="269.5" font-size="7" text-anchor="middle" fill="#2a2a2a" font-weight="normal" font-style="normal" >Time (s)</text><rect x="254.4" y="23.4" width="61" height="61.7" fill="#fff" stroke="#444" stroke-width="0.7"/><rect x="259.5" y="30.3" width="11" height="6" fill="#c6e1ee"/><path d="M259.5 33.3h11" stroke="#5aa7c9" stroke-width="1.2"/><text x="276" y="35.9" font-size="7.2" text-anchor="start" fill="#2a2a2a" font-weight="normal" font-style="normal" >M vs NT1</text><rect x="259.5" y="44.7" width="11" height="6" fill="#bdd7f3"/><path d="M259.5 47.7h11" stroke="#3b86d8" stroke-width="1.2"/><text x="276" y="50.3" font-size="7.2" text-anchor="start" fill="#2a2a2a" font-weight="normal" font-style="normal" >M vs NT2</text><rect x="259.5" y="59.1" width="11" height="6" fill="#b4b9e0"/><path d="M259.5 62.1h11" stroke="#23318e" stroke-width="1.2"/><text x="276" y="64.7" font-size="7.2" text-anchor="start" fill="#2a2a2a" font-weight="normal" font-style="normal" >M vs NT3</text><rect x="259.5" y="73.5" width="11" height="6" fill="#b0b0b0"/><path d="M259.5 76.5h11" stroke="#0d0d0d" stroke-width="1.2"/><text x="276" y="79.1" font-size="7.2" text-anchor="start" fill="#2a2a2a" font-weight="normal" font-style="normal" >M vs NT4</text><path d="M190.7 186.8H223.5M226.3 186.8H239.9M242.1 186.8H247.2M250.8 186.8H252" stroke="#111" stroke-width="1.5" stroke-opacity="1.0" fill="none"/><path d="M126 195.8H128M129.5 195.8H131M133 195.8H137M146 195.8H147.5M151 195.8H153" stroke="#6b70b8" stroke-width="1.5" stroke-opacity="0.5" fill="none"/><path d="M160.5 195.8H234.8" stroke="#4d52a8" stroke-width="1.5" stroke-opacity="1.0" fill="none"/><path d="M236 195.8H238M240 195.8H241.5M244 195.8H246M251 195.8H252.3" stroke="#6b70b8" stroke-width="1.5" stroke-opacity="0.5" fill="none"/><path d="M133.9 205.1H156.5M158.8 205.1H159.8M161 205.1H174.8M181.1 205.1H219.5M225.2 205.1H237.6M239.3 205.1H253.4" stroke="#4a88d8" stroke-width="1.5" stroke-opacity="1.0" fill="none"/><path d="M107.9 214.2H123.7M126.5 214.2H127.7M135 214.2H140.1M145.8 214.2H152M158.8 214.2H168.9M172.9 214.2H182.8M186.2 214.2H221.8M225.2 214.2H228.6M231.4 214.2H236.5M237.6 214.2H243.3" stroke="#5aa5c8" stroke-width="1.5" stroke-opacity="1.0" fill="none"/><ellipse cx="65.1" cy="247.9" rx="2.8" ry="1.9" transform="rotate(-24 65.1 247.9)" fill="#111"/><path d="M67.2 247.6V237.9" stroke="#111" stroke-width="1.1" fill="none"/><path d="M66.8 237.9C67.7 240.3 71.2 241.3 70.8 245.3C70.3 242.9 68.7 242.2 66.8 241.8z" fill="#111"/><ellipse cx="92.5" cy="247.9" rx="2.8" ry="1.9" transform="rotate(-24 92.5 247.9)" fill="#111"/><path d="M94.7 247.6V237.9" stroke="#111" stroke-width="1.1" fill="none"/><path d="M94.2 237.9C95.1 240.3 98.7 241.3 98.2 245.3C97.8 242.9 96.1 242.2 94.2 241.8z" fill="#111"/><path d="M87.9 252.1V254.2H99.5V252.1" stroke="#5ab0d8" stroke-width="1.0" fill="none"/><ellipse cx="119.6" cy="247.9" rx="2.8" ry="1.9" transform="rotate(-24 119.6 247.9)" fill="#111"/><path d="M121.8 247.6V237.9" stroke="#111" stroke-width="1.1" fill="none"/><path d="M121.2 237.9C122.2 240.3 125.8 241.3 125.2 245.3C124.8 242.9 123.2 242.2 121.2 241.8z" fill="#111"/><path d="M115 252.1V254.2H126.6V252.1" stroke="#4a8ad6" stroke-width="1.0" fill="none"/><ellipse cx="146.3" cy="247.9" rx="2.8" ry="1.9" transform="rotate(-24 146.3 247.9)" fill="#111"/><path d="M148.5 247.6V237.9" stroke="#111" stroke-width="1.1" fill="none"/><path d="M148 237.9C148.9 240.3 152.5 241.3 152 245.3C151.6 242.9 149.9 242.2 148 241.8z" fill="#111"/><path d="M141.7 252.1V254.2H153.3V252.1" stroke="#3a3f9c" stroke-width="1.0" fill="none"/><ellipse cx="173.4" cy="247.9" rx="2.8" ry="1.9" transform="rotate(-24 173.4 247.9)" fill="#111"/><path d="M175.6 247.6V237.9" stroke="#111" stroke-width="1.1" fill="none"/><path d="M175.1 237.9C176 240.3 179.6 241.3 179.1 245.3C178.7 242.9 177 242.2 175.1 241.8z" fill="#111"/><path d="M168.8 252.1V254.2H180.4V252.1" stroke="#222" stroke-width="1.0" fill="none"/><path d="M336.2 117.5H354" stroke="#1a1a1a" stroke-width="3.2"/><path d="M352.5 111.8L363.5 117.5L352.5 123.2z" fill="#1a1a1a"/><clipPath id="clip446"><circle cx="446" cy="121" r="51.5"/></clipPath><g clip-path="url(#clip446)"><path d="M436.5 69.5h2v2h-2zM432.5 71.5h8v2h-8zM460.5 71.5h2v2h-2zM430.5 73.5h12v2h-12zM460.5 73.5h8v2h-8zM430.5 75.5h12v2h-12zM460.5 75.5h6v2h-6zM430.5 77.5h4v2h-4zM436.5 77.5h8v2h-8zM460.5 77.5h6v2h-6zM430.5 79.5h2v2h-2zM438.5 79.5h6v2h-6zM458.5 79.5h8v2h-8zM430.5 81.5h2v2h-2zM440.5 81.5h4v2h-4zM458.5 81.5h6v2h-6zM430.5 83.5h2v2h-2zM440.5 83.5h4v2h-4zM458.5 83.5h6v2h-6zM430.5 85.5h2v2h-2zM440.5 85.5h4v2h-4zM458.5 85.5h6v2h-6zM430.5 87.5h2v2h-2zM440.5 87.5h4v2h-4zM458.5 87.5h6v2h-6zM430.5 89.5h2v2h-2zM440.5 89.5h4v2h-4zM458.5 89.5h6v2h-6zM430.5 91.5h2v2h-2zM440.5 91.5h4v2h-4zM456.5 91.5h6v2h-6zM430.5 93.5h2v2h-2zM440.5 93.5h4v2h-4zM456.5 93.5h6v2h-6zM430.5 95.5h4v2h-4zM438.5 95.5h6v2h-6zM456.5 95.5h6v2h-6zM430.5 97.5h4v2h-4zM438.5 97.5h6v2h-6zM456.5 97.5h6v2h-6zM432.5 99.5h12v2h-12zM456.5 99.5h6v2h-6zM432.5 101.5h10v2h-10zM456.5 101.5h6v2h-6zM434.5 103.5h8v2h-8zM456.5 103.5h6v2h-6zM456.5 105.5h6v2h-6zM454.5 107.5h8v2h-8zM456.5 109.5h6v2h-6zM456.5 111.5h6v2h-6zM456.5 113.5h8v2h-8zM458.5 115.5h6v2h-6zM458.5 117.5h6v2h-6zM460.5 119.5h4v2h-4zM460.5 121.5h4v2h-4zM460.5 123.5h4v2h-4zM460.5 125.5h6v2h-6zM460.5 127.5h6v2h-6zM460.5 129.5h4v2h-4zM460.5 131.5h4v2h-4zM460.5 133.5h4v2h-4zM460.5 135.5h4v2h-4zM460.5 137.5h4v2h-4zM460.5 139.5h4v2h-4zM460.5 141.5h6v2h-6zM462.5 143.5h4v2h-4zM462.5 145.5h6v2h-6zM464.5 147.5h6v2h-6zM466.5 149.5h8v2h-8zM468.5 151.5h10v2h-10zM470.5 153.5h14v2h-14zM474.5 155.5h8v2h-8zM478.5 157.5h2v2h-2z" fill="#e2edf7" stroke="#e2edf7" stroke-width="0.3"/><path d="M438.5 69.5h18v2h-18zM428.5 71.5h4v2h-4zM440.5 71.5h20v2h-20zM426.5 73.5h4v2h-4zM442.5 73.5h18v2h-18zM426.5 75.5h4v2h-4zM442.5 75.5h18v2h-18zM426.5 77.5h4v2h-4zM444.5 77.5h16v2h-16zM426.5 79.5h4v2h-4zM444.5 79.5h14v2h-14zM426.5 81.5h4v2h-4zM444.5 81.5h14v2h-14zM426.5 83.5h4v2h-4zM444.5 83.5h14v2h-14zM426.5 85.5h4v2h-4zM444.5 85.5h14v2h-14zM426.5 87.5h4v2h-4zM444.5 87.5h14v2h-14zM428.5 89.5h2v2h-2zM444.5 89.5h14v2h-14zM428.5 91.5h2v2h-2zM444.5 91.5h12v2h-12zM428.5 93.5h2v2h-2zM444.5 93.5h12v2h-12zM428.5 95.5h2v2h-2zM444.5 95.5h12v2h-12zM428.5 97.5h2v2h-2zM444.5 97.5h12v2h-12zM428.5 99.5h4v2h-4zM444.5 99.5h12v2h-12zM430.5 101.5h2v2h-2zM442.5 101.5h14v2h-14zM430.5 103.5h4v2h-4zM442.5 103.5h14v2h-14zM430.5 105.5h26v2h-26zM432.5 107.5h22v2h-22zM432.5 109.5h24v2h-24zM434.5 111.5h22v2h-22zM436.5 113.5h20v2h-20zM438.5 115.5h20v2h-20zM440.5 117.5h18v2h-18zM444.5 119.5h16v2h-16zM446.5 121.5h14v2h-14zM448.5 123.5h12v2h-12zM452.5 125.5h8v2h-8zM454.5 127.5h6v2h-6zM454.5 129.5h6v2h-6zM456.5 131.5h4v2h-4zM456.5 133.5h4v2h-4zM456.5 135.5h4v2h-4zM456.5 137.5h4v2h-4zM456.5 139.5h4v2h-4zM458.5 141.5h2v2h-2zM458.5 143.5h4v2h-4zM458.5 145.5h4v2h-4zM458.5 147.5h6v2h-6zM460.5 149.5h6v2h-6zM462.5 151.5h6v2h-6zM462.5 153.5h8v2h-8zM464.5 155.5h10v2h-10zM468.5 157.5h10v2h-10zM472.5 159.5h6v2h-6z" fill="#ffffff" stroke="#ffffff" stroke-width="0.3"/><path d="M424.5 73.5h2v2h-2zM422.5 75.5h4v2h-4zM422.5 77.5h4v2h-4zM422.5 79.5h4v2h-4zM424.5 81.5h2v2h-2zM424.5 83.5h2v2h-2zM424.5 85.5h2v2h-2zM424.5 87.5h2v2h-2zM424.5 89.5h4v2h-4zM426.5 91.5h2v2h-2zM426.5 93.5h2v2h-2zM426.5 95.5h2v2h-2zM426.5 97.5h2v2h-2zM426.5 99.5h2v2h-2zM426.5 101.5h4v2h-4zM426.5 103.5h4v2h-4zM426.5 105.5h4v2h-4zM428.5 107.5h4v2h-4zM428.5 109.5h4v2h-4zM428.5 111.5h6v2h-6zM428.5 113.5h8v2h-8zM430.5 115.5h8v2h-8zM430.5 117.5h10v2h-10zM432.5 119.5h12v2h-12zM434.5 121.5h12v2h-12zM438.5 123.5h10v2h-10zM442.5 125.5h10v2h-10zM446.5 127.5h8v2h-8zM448.5 129.5h6v2h-6zM450.5 131.5h6v2h-6zM450.5 133.5h6v2h-6zM452.5 135.5h4v2h-4zM452.5 137.5h4v2h-4zM454.5 139.5h2v2h-2zM454.5 141.5h4v2h-4zM454.5 143.5h4v2h-4zM454.5 145.5h4v2h-4zM406.5 147.5h2v2h-2zM456.5 147.5h2v2h-2zM406.5 149.5h4v2h-4zM456.5 149.5h4v2h-4zM456.5 151.5h6v2h-6zM458.5 153.5h4v2h-4zM458.5 155.5h6v2h-6zM460.5 157.5h8v2h-8zM462.5 159.5h10v2h-10zM466.5 161.5h10v2h-10zM470.5 163.5h4v2h-4z" fill="#fbdfe1" stroke="#fbdfe1" stroke-width="0.3"/><path d="M420.5 75.5h2v2h-2zM418.5 77.5h4v2h-4zM420.5 79.5h2v2h-2zM420.5 81.5h4v2h-4zM422.5 83.5h2v2h-2zM422.5 85.5h2v2h-2zM422.5 87.5h2v2h-2zM422.5 89.5h2v2h-2zM424.5 91.5h2v2h-2zM424.5 93.5h2v2h-2zM424.5 95.5h2v2h-2zM424.5 97.5h2v2h-2zM424.5 99.5h2v2h-2zM424.5 101.5h2v2h-2zM424.5 103.5h2v2h-2zM424.5 105.5h2v2h-2zM424.5 107.5h4v2h-4zM424.5 109.5h4v2h-4zM424.5 111.5h4v2h-4zM424.5 113.5h4v2h-4zM424.5 115.5h6v2h-6zM426.5 117.5h4v2h-4zM426.5 119.5h6v2h-6zM426.5 121.5h8v2h-8zM428.5 123.5h10v2h-10zM428.5 125.5h14v2h-14zM434.5 127.5h12v2h-12zM440.5 129.5h8v2h-8zM442.5 131.5h8v2h-8zM446.5 133.5h4v2h-4zM448.5 135.5h4v2h-4zM448.5 137.5h4v2h-4zM450.5 139.5h4v2h-4zM450.5 141.5h4v2h-4zM450.5 143.5h4v2h-4zM450.5 145.5h4v2h-4zM402.5 147.5h4v2h-4zM408.5 147.5h4v2h-4zM452.5 147.5h4v2h-4zM404.5 149.5h2v2h-2zM410.5 149.5h2v2h-2zM452.5 149.5h4v2h-4zM404.5 151.5h8v2h-8zM452.5 151.5h4v2h-4zM406.5 153.5h4v2h-4zM452.5 153.5h6v2h-6zM408.5 155.5h6v2h-6zM452.5 155.5h6v2h-6zM410.5 157.5h10v2h-10zM452.5 157.5h8v2h-8zM412.5 159.5h12v2h-12zM454.5 159.5h8v2h-8zM416.5 161.5h12v2h-12zM454.5 161.5h12v2h-12zM418.5 163.5h16v2h-16zM456.5 163.5h14v2h-14zM422.5 165.5h22v2h-22zM454.5 165.5h16v2h-16zM426.5 167.5h40v2h-40zM432.5 169.5h28v2h-28z" fill="#f7bfc3" stroke="#f7bfc3" stroke-width="0.3"/><path d="M466.5 75.5h6v2h-6zM434.5 77.5h2v2h-2zM466.5 77.5h4v2h-4zM432.5 79.5h6v2h-6zM466.5 79.5h4v2h-4zM432.5 81.5h8v2h-8zM464.5 81.5h4v2h-4zM432.5 83.5h8v2h-8zM464.5 83.5h4v2h-4zM432.5 85.5h8v2h-8zM464.5 85.5h4v2h-4zM432.5 87.5h8v2h-8zM464.5 87.5h2v2h-2zM432.5 89.5h8v2h-8zM464.5 89.5h2v2h-2zM432.5 91.5h8v2h-8zM462.5 91.5h4v2h-4zM432.5 93.5h8v2h-8zM462.5 93.5h4v2h-4zM434.5 95.5h4v2h-4zM462.5 95.5h4v2h-4zM434.5 97.5h4v2h-4zM462.5 97.5h4v2h-4zM462.5 99.5h2v2h-2zM462.5 101.5h2v2h-2zM462.5 103.5h4v2h-4zM462.5 105.5h4v2h-4zM462.5 107.5h4v2h-4zM462.5 109.5h4v2h-4zM462.5 111.5h4v2h-4zM464.5 113.5h2v2h-2zM464.5 115.5h2v2h-2zM464.5 117.5h4v2h-4zM464.5 119.5h4v2h-4zM464.5 121.5h4v2h-4zM464.5 123.5h4v2h-4zM466.5 125.5h2v2h-2zM466.5 127.5h4v2h-4zM464.5 129.5h6v2h-6zM464.5 131.5h6v2h-6zM464.5 133.5h6v2h-6zM464.5 135.5h6v2h-6zM464.5 137.5h6v2h-6zM492.5 137.5h2v2h-2zM464.5 139.5h6v2h-6zM492.5 139.5h2v2h-2zM466.5 141.5h6v2h-6zM490.5 141.5h2v2h-2zM466.5 143.5h10v2h-10zM486.5 143.5h6v2h-6zM468.5 145.5h22v2h-22zM470.5 147.5h20v2h-20zM474.5 149.5h14v2h-14zM478.5 151.5h8v2h-8z" fill="#c5dbef" stroke="#c5dbef" stroke-width="0.3"/><path d="M416.5 77.5h2v2h-2zM416.5 79.5h4v2h-4zM418.5 81.5h2v2h-2zM418.5 83.5h4v2h-4zM420.5 85.5h2v2h-2zM420.5 87.5h2v2h-2zM420.5 89.5h2v2h-2zM422.5 91.5h2v2h-2zM422.5 93.5h2v2h-2zM422.5 95.5h2v2h-2zM422.5 97.5h2v2h-2zM422.5 99.5h2v2h-2zM422.5 101.5h2v2h-2zM422.5 103.5h2v2h-2zM422.5 105.5h2v2h-2zM422.5 107.5h2v2h-2zM422.5 109.5h2v2h-2zM422.5 111.5h2v2h-2zM422.5 113.5h2v2h-2zM422.5 115.5h2v2h-2zM422.5 117.5h4v2h-4zM422.5 119.5h4v2h-4zM422.5 121.5h4v2h-4zM422.5 123.5h6v2h-6zM422.5 125.5h6v2h-6zM424.5 127.5h10v2h-10zM424.5 129.5h16v2h-16zM426.5 131.5h16v2h-16zM432.5 133.5h14v2h-14zM440.5 135.5h8v2h-8zM442.5 137.5h6v2h-6zM444.5 139.5h6v2h-6zM398.5 141.5h2v2h-2zM446.5 141.5h4v2h-4zM400.5 143.5h2v2h-2zM446.5 143.5h4v2h-4zM400.5 145.5h12v2h-12zM446.5 145.5h4v2h-4zM412.5 147.5h2v2h-2zM446.5 147.5h6v2h-6zM412.5 149.5h6v2h-6zM446.5 149.5h6v2h-6zM412.5 151.5h10v2h-10zM446.5 151.5h6v2h-6zM410.5 153.5h16v2h-16zM446.5 153.5h6v2h-6zM414.5 155.5h16v2h-16zM444.5 155.5h8v2h-8zM420.5 157.5h16v2h-16zM440.5 157.5h12v2h-12zM424.5 159.5h30v2h-30zM428.5 161.5h26v2h-26zM434.5 163.5h22v2h-22zM444.5 165.5h10v2h-10z" fill="#f39c9f" stroke="#f39c9f" stroke-width="0.3"/><path d="M470.5 77.5h4v2h-4zM470.5 79.5h2v2h-2zM468.5 81.5h2v2h-2zM468.5 83.5h2v2h-2zM468.5 85.5h2v2h-2zM466.5 87.5h2v2h-2zM466.5 89.5h2v2h-2zM466.5 91.5h2v2h-2zM466.5 93.5h2v2h-2zM466.5 95.5h2v2h-2zM464.5 99.5h2v2h-2zM464.5 101.5h2v2h-2zM466.5 105.5h2v2h-2zM466.5 107.5h2v2h-2zM466.5 109.5h2v2h-2zM466.5 111.5h2v2h-2zM466.5 113.5h2v2h-2zM466.5 115.5h2v2h-2zM468.5 117.5h2v2h-2zM468.5 119.5h2v2h-2zM468.5 121.5h2v2h-2zM468.5 123.5h4v2h-4zM494.5 123.5h2v2h-2zM468.5 125.5h4v2h-4zM494.5 125.5h2v2h-2zM470.5 127.5h2v2h-2zM492.5 127.5h4v2h-4zM470.5 129.5h4v2h-4zM492.5 129.5h4v2h-4zM470.5 131.5h4v2h-4zM490.5 131.5h6v2h-6zM470.5 133.5h6v2h-6zM488.5 133.5h8v2h-8zM470.5 135.5h8v2h-8zM486.5 135.5h8v2h-8zM470.5 137.5h22v2h-22zM470.5 139.5h22v2h-22zM472.5 141.5h18v2h-18zM476.5 143.5h10v2h-10z" fill="#a9c8e7" stroke="#a9c8e7" stroke-width="0.3"/><path d="M414.5 79.5h2v2h-2zM414.5 81.5h4v2h-4zM416.5 83.5h2v2h-2zM418.5 85.5h2v2h-2zM418.5 87.5h2v2h-2zM420.5 91.5h2v2h-2zM420.5 93.5h2v2h-2zM420.5 95.5h2v2h-2zM420.5 97.5h2v2h-2zM420.5 99.5h2v2h-2zM420.5 107.5h2v2h-2zM420.5 109.5h2v2h-2zM420.5 111.5h2v2h-2zM420.5 113.5h2v2h-2zM394.5 115.5h2v2h-2zM420.5 115.5h2v2h-2zM394.5 117.5h2v2h-2zM420.5 117.5h2v2h-2zM394.5 119.5h2v2h-2zM420.5 119.5h2v2h-2zM394.5 121.5h2v2h-2zM420.5 121.5h2v2h-2zM394.5 123.5h2v2h-2zM420.5 123.5h2v2h-2zM394.5 125.5h4v2h-4zM418.5 125.5h4v2h-4zM394.5 127.5h4v2h-4zM418.5 127.5h6v2h-6zM394.5 129.5h4v2h-4zM418.5 129.5h6v2h-6zM396.5 131.5h2v2h-2zM418.5 131.5h8v2h-8zM396.5 133.5h4v2h-4zM418.5 133.5h14v2h-14zM396.5 135.5h4v2h-4zM418.5 135.5h22v2h-22zM398.5 137.5h4v2h-4zM418.5 137.5h24v2h-24zM398.5 139.5h6v2h-6zM418.5 139.5h26v2h-26zM400.5 141.5h6v2h-6zM414.5 141.5h32v2h-32zM402.5 143.5h32v2h-32zM438.5 143.5h8v2h-8zM412.5 145.5h20v2h-20zM438.5 145.5h8v2h-8zM414.5 147.5h20v2h-20zM438.5 147.5h8v2h-8zM418.5 149.5h28v2h-28zM422.5 151.5h24v2h-24zM426.5 153.5h20v2h-20zM430.5 155.5h14v2h-14zM436.5 157.5h4v2h-4z" fill="#f0787b" stroke="#f0787b" stroke-width="0.3"/><path d="M472.5 79.5h2v2h-2zM470.5 81.5h4v2h-4zM470.5 83.5h2v2h-2zM470.5 85.5h2v2h-2zM468.5 87.5h2v2h-2zM468.5 89.5h2v2h-2zM468.5 91.5h2v2h-2zM466.5 97.5h2v2h-2zM466.5 99.5h2v2h-2zM466.5 101.5h2v2h-2zM466.5 103.5h2v2h-2zM494.5 107.5h2v2h-2zM468.5 109.5h2v2h-2zM494.5 109.5h2v2h-2zM468.5 111.5h2v2h-2zM494.5 111.5h2v2h-2zM468.5 113.5h2v2h-2zM494.5 113.5h2v2h-2zM468.5 115.5h2v2h-2zM494.5 115.5h2v2h-2zM470.5 117.5h2v2h-2zM492.5 117.5h4v2h-4zM470.5 119.5h2v2h-2zM492.5 119.5h4v2h-4zM470.5 121.5h4v2h-4zM492.5 121.5h4v2h-4zM472.5 123.5h2v2h-2zM490.5 123.5h4v2h-4zM472.5 125.5h4v2h-4zM490.5 125.5h4v2h-4zM472.5 127.5h6v2h-6zM488.5 127.5h4v2h-4zM474.5 129.5h6v2h-6zM484.5 129.5h8v2h-8zM474.5 131.5h16v2h-16zM476.5 133.5h12v2h-12zM478.5 135.5h8v2h-8z" fill="#8eb5de" stroke="#8eb5de" stroke-width="0.3"/><path d="M474.5 79.5h4v2h-4zM474.5 81.5h2v2h-2zM472.5 83.5h2v2h-2zM472.5 85.5h2v2h-2zM470.5 87.5h2v2h-2zM470.5 89.5h2v2h-2zM468.5 93.5h2v2h-2zM468.5 95.5h2v2h-2zM468.5 97.5h2v2h-2zM468.5 99.5h2v2h-2zM468.5 101.5h2v2h-2zM492.5 101.5h2v2h-2zM468.5 103.5h2v2h-2zM492.5 103.5h2v2h-2zM468.5 105.5h2v2h-2zM492.5 105.5h2v2h-2zM468.5 107.5h2v2h-2zM492.5 107.5h2v2h-2zM492.5 109.5h2v2h-2zM470.5 111.5h2v2h-2zM492.5 111.5h2v2h-2zM470.5 113.5h2v2h-2zM492.5 113.5h2v2h-2zM470.5 115.5h2v2h-2zM490.5 115.5h4v2h-4zM472.5 117.5h2v2h-2zM490.5 117.5h2v2h-2zM472.5 119.5h2v2h-2zM488.5 119.5h4v2h-4zM474.5 121.5h2v2h-2zM488.5 121.5h4v2h-4zM474.5 123.5h4v2h-4zM486.5 123.5h4v2h-4zM476.5 125.5h14v2h-14zM478.5 127.5h10v2h-10zM480.5 129.5h4v2h-4z" fill="#72a2d5" stroke="#72a2d5" stroke-width="0.3"/><path d="M412.5 81.5h2v2h-2zM414.5 83.5h2v2h-2zM416.5 85.5h2v2h-2zM416.5 87.5h2v2h-2zM418.5 89.5h2v2h-2zM418.5 91.5h2v2h-2zM418.5 93.5h2v2h-2zM420.5 101.5h2v2h-2zM420.5 103.5h2v2h-2zM420.5 105.5h2v2h-2zM394.5 111.5h2v2h-2zM418.5 111.5h2v2h-2zM394.5 113.5h4v2h-4zM418.5 113.5h2v2h-2zM396.5 115.5h2v2h-2zM418.5 115.5h2v2h-2zM396.5 117.5h2v2h-2zM418.5 117.5h2v2h-2zM396.5 119.5h2v2h-2zM418.5 119.5h2v2h-2zM396.5 121.5h2v2h-2zM416.5 121.5h4v2h-4zM396.5 123.5h4v2h-4zM416.5 123.5h4v2h-4zM398.5 125.5h2v2h-2zM416.5 125.5h2v2h-2zM398.5 127.5h2v2h-2zM416.5 127.5h2v2h-2zM398.5 129.5h4v2h-4zM414.5 129.5h4v2h-4zM398.5 131.5h4v2h-4zM414.5 131.5h4v2h-4zM400.5 133.5h4v2h-4zM412.5 133.5h6v2h-6zM400.5 135.5h8v2h-8zM410.5 135.5h8v2h-8zM402.5 137.5h16v2h-16zM404.5 139.5h14v2h-14zM406.5 141.5h8v2h-8zM434.5 143.5h4v2h-4zM432.5 145.5h6v2h-6zM434.5 147.5h4v2h-4z" fill="#ed5658" stroke="#ed5658" stroke-width="0.3"/><path d="M476.5 81.5h4v2h-4zM474.5 83.5h2v2h-2zM474.5 85.5h2v2h-2zM472.5 87.5h2v2h-2zM470.5 91.5h2v2h-2zM470.5 93.5h2v2h-2zM470.5 95.5h2v2h-2zM470.5 97.5h2v2h-2zM490.5 97.5h2v2h-2zM490.5 99.5h2v2h-2zM490.5 101.5h2v2h-2zM470.5 103.5h2v2h-2zM490.5 103.5h2v2h-2zM470.5 105.5h2v2h-2zM490.5 105.5h2v2h-2zM470.5 107.5h2v2h-2zM490.5 107.5h2v2h-2zM470.5 109.5h2v2h-2zM490.5 109.5h2v2h-2zM490.5 111.5h2v2h-2zM472.5 113.5h2v2h-2zM488.5 113.5h4v2h-4zM472.5 115.5h2v2h-2zM488.5 115.5h2v2h-2zM474.5 117.5h2v2h-2zM486.5 117.5h4v2h-4zM474.5 119.5h4v2h-4zM484.5 119.5h4v2h-4zM476.5 121.5h12v2h-12zM478.5 123.5h8v2h-8z" fill="#578fcc" stroke="#578fcc" stroke-width="0.3"/><path d="M410.5 83.5h4v2h-4zM414.5 85.5h2v2h-2zM414.5 87.5h2v2h-2zM416.5 89.5h2v2h-2zM416.5 91.5h2v2h-2zM418.5 95.5h2v2h-2zM418.5 97.5h2v2h-2zM418.5 99.5h2v2h-2zM418.5 101.5h2v2h-2zM396.5 103.5h2v2h-2zM418.5 103.5h2v2h-2zM396.5 105.5h2v2h-2zM418.5 105.5h2v2h-2zM396.5 107.5h2v2h-2zM418.5 107.5h2v2h-2zM396.5 109.5h2v2h-2zM418.5 109.5h2v2h-2zM396.5 111.5h4v2h-4zM398.5 113.5h2v2h-2zM398.5 115.5h2v2h-2zM416.5 115.5h2v2h-2zM398.5 117.5h2v2h-2zM416.5 117.5h2v2h-2zM398.5 119.5h4v2h-4zM416.5 119.5h2v2h-2zM398.5 121.5h4v2h-4zM414.5 121.5h2v2h-2zM400.5 123.5h2v2h-2zM414.5 123.5h2v2h-2zM400.5 125.5h4v2h-4zM412.5 125.5h4v2h-4zM400.5 127.5h6v2h-6zM410.5 127.5h6v2h-6zM402.5 129.5h12v2h-12zM402.5 131.5h12v2h-12zM404.5 133.5h8v2h-8zM408.5 135.5h2v2h-2z" fill="#ea353b" stroke="#ea353b" stroke-width="0.3"/><path d="M476.5 83.5h6v2h-6zM476.5 85.5h2v2h-2zM474.5 87.5h2v2h-2zM472.5 89.5h2v2h-2zM472.5 91.5h2v2h-2zM488.5 93.5h2v2h-2zM488.5 95.5h2v2h-2zM488.5 97.5h2v2h-2zM470.5 99.5h2v2h-2zM470.5 101.5h2v2h-2zM488.5 105.5h2v2h-2zM488.5 107.5h2v2h-2zM472.5 109.5h2v2h-2zM488.5 109.5h2v2h-2zM472.5 111.5h2v2h-2zM488.5 111.5h2v2h-2zM474.5 113.5h2v2h-2zM486.5 113.5h2v2h-2zM474.5 115.5h4v2h-4zM486.5 115.5h2v2h-2zM476.5 117.5h10v2h-10zM478.5 119.5h6v2h-6z" fill="#467cc0" stroke="#467cc0" stroke-width="0.3"/><path d="M408.5 85.5h6v2h-6zM412.5 87.5h2v2h-2zM414.5 89.5h2v2h-2zM416.5 93.5h2v2h-2zM400.5 95.5h2v2h-2zM416.5 95.5h2v2h-2zM416.5 97.5h2v2h-2zM398.5 99.5h2v2h-2zM398.5 101.5h2v2h-2zM398.5 103.5h2v2h-2zM398.5 105.5h2v2h-2zM398.5 107.5h2v2h-2zM416.5 107.5h2v2h-2zM398.5 109.5h2v2h-2zM416.5 109.5h2v2h-2zM400.5 111.5h2v2h-2zM416.5 111.5h2v2h-2zM400.5 113.5h2v2h-2zM416.5 113.5h2v2h-2zM400.5 115.5h2v2h-2zM414.5 115.5h2v2h-2zM400.5 117.5h4v2h-4zM414.5 117.5h2v2h-2zM402.5 119.5h2v2h-2zM412.5 119.5h4v2h-4zM402.5 121.5h4v2h-4zM410.5 121.5h4v2h-4zM402.5 123.5h12v2h-12zM404.5 125.5h8v2h-8zM406.5 127.5h4v2h-4z" fill="#e2212a" stroke="#e2212a" stroke-width="0.3"/><path d="M478.5 85.5h6v2h-6zM476.5 87.5h2v2h-2zM482.5 87.5h4v2h-4zM474.5 89.5h2v2h-2zM484.5 89.5h2v2h-2zM486.5 91.5h2v2h-2zM472.5 93.5h2v2h-2zM486.5 93.5h2v2h-2zM472.5 95.5h2v2h-2zM472.5 97.5h2v2h-2zM472.5 99.5h2v2h-2zM488.5 99.5h2v2h-2zM472.5 101.5h2v2h-2zM488.5 101.5h2v2h-2zM472.5 103.5h2v2h-2zM488.5 103.5h2v2h-2zM472.5 105.5h2v2h-2zM472.5 107.5h2v2h-2zM486.5 107.5h2v2h-2zM474.5 109.5h2v2h-2zM486.5 109.5h2v2h-2zM474.5 111.5h2v2h-2zM486.5 111.5h2v2h-2zM476.5 113.5h2v2h-2zM484.5 113.5h2v2h-2zM478.5 115.5h8v2h-8z" fill="#3d69b2" stroke="#3d69b2" stroke-width="0.3"/><path d="M406.5 87.5h6v2h-6zM404.5 89.5h2v2h-2zM412.5 89.5h2v2h-2zM402.5 91.5h2v2h-2zM414.5 91.5h2v2h-2zM402.5 93.5h2v2h-2zM414.5 93.5h2v2h-2zM400.5 97.5h2v2h-2zM400.5 99.5h2v2h-2zM416.5 99.5h2v2h-2zM400.5 101.5h2v2h-2zM416.5 101.5h2v2h-2zM400.5 103.5h2v2h-2zM416.5 103.5h2v2h-2zM400.5 105.5h2v2h-2zM416.5 105.5h2v2h-2zM400.5 107.5h2v2h-2zM400.5 109.5h2v2h-2zM402.5 111.5h2v2h-2zM414.5 111.5h2v2h-2zM402.5 113.5h2v2h-2zM414.5 113.5h2v2h-2zM402.5 115.5h2v2h-2zM412.5 115.5h2v2h-2zM404.5 117.5h2v2h-2zM410.5 117.5h4v2h-4zM404.5 119.5h8v2h-8zM406.5 121.5h4v2h-4z" fill="#d32028" stroke="#d32028" stroke-width="0.3"/><path d="M478.5 87.5h4v2h-4zM476.5 89.5h4v2h-4zM482.5 89.5h2v2h-2zM474.5 91.5h2v2h-2zM484.5 91.5h2v2h-2zM474.5 93.5h2v2h-2zM484.5 93.5h2v2h-2zM486.5 95.5h2v2h-2zM486.5 97.5h2v2h-2zM486.5 99.5h2v2h-2zM486.5 101.5h2v2h-2zM486.5 103.5h2v2h-2zM474.5 105.5h2v2h-2zM486.5 105.5h2v2h-2zM474.5 107.5h2v2h-2zM484.5 109.5h2v2h-2zM476.5 111.5h4v2h-4zM482.5 111.5h4v2h-4zM478.5 113.5h6v2h-6z" fill="#3455a3" stroke="#3455a3" stroke-width="0.3"/><path d="M406.5 89.5h6v2h-6zM404.5 91.5h4v2h-4zM410.5 91.5h4v2h-4zM404.5 93.5h2v2h-2zM412.5 93.5h2v2h-2zM402.5 95.5h2v2h-2zM414.5 95.5h2v2h-2zM402.5 97.5h2v2h-2zM414.5 97.5h2v2h-2zM402.5 99.5h2v2h-2zM414.5 99.5h2v2h-2zM402.5 101.5h2v2h-2zM414.5 101.5h2v2h-2zM402.5 103.5h2v2h-2zM414.5 103.5h2v2h-2zM402.5 105.5h2v2h-2zM414.5 105.5h2v2h-2zM402.5 107.5h2v2h-2zM414.5 107.5h2v2h-2zM402.5 109.5h2v2h-2zM414.5 109.5h2v2h-2zM404.5 111.5h2v2h-2zM412.5 111.5h2v2h-2zM404.5 113.5h2v2h-2zM410.5 113.5h4v2h-4zM404.5 115.5h8v2h-8zM406.5 117.5h4v2h-4z" fill="#c41e27" stroke="#c41e27" stroke-width="0.3"/><path d="M480.5 89.5h2v2h-2zM476.5 91.5h8v2h-8zM476.5 93.5h2v2h-2zM482.5 93.5h2v2h-2zM474.5 95.5h2v2h-2zM484.5 95.5h2v2h-2zM474.5 97.5h2v2h-2zM484.5 97.5h2v2h-2zM474.5 99.5h2v2h-2zM484.5 99.5h2v2h-2zM474.5 101.5h2v2h-2zM484.5 101.5h2v2h-2zM474.5 103.5h2v2h-2zM484.5 103.5h2v2h-2zM484.5 105.5h2v2h-2zM476.5 107.5h2v2h-2zM482.5 107.5h4v2h-4zM476.5 109.5h8v2h-8zM480.5 111.5h2v2h-2z" fill="#2c4295" stroke="#2c4295" stroke-width="0.3"/><path d="M408.5 91.5h2v2h-2zM406.5 93.5h6v2h-6zM404.5 95.5h2v2h-2zM412.5 95.5h2v2h-2zM404.5 97.5h2v2h-2zM412.5 97.5h2v2h-2zM404.5 99.5h2v2h-2zM404.5 101.5h2v2h-2zM404.5 103.5h2v2h-2zM404.5 105.5h2v2h-2zM412.5 105.5h2v2h-2zM404.5 107.5h2v2h-2zM412.5 107.5h2v2h-2zM404.5 109.5h4v2h-4zM412.5 109.5h2v2h-2zM406.5 111.5h6v2h-6zM406.5 113.5h4v2h-4z" fill="#b51c26" stroke="#b51c26" stroke-width="0.3"/><path d="M478.5 93.5h4v2h-4zM476.5 95.5h8v2h-8zM476.5 97.5h2v2h-2zM482.5 97.5h2v2h-2zM476.5 99.5h2v2h-2zM482.5 99.5h2v2h-2zM476.5 101.5h2v2h-2zM482.5 101.5h2v2h-2zM476.5 103.5h2v2h-2zM482.5 103.5h2v2h-2zM476.5 105.5h8v2h-8zM478.5 107.5h4v2h-4z" fill="#273686" stroke="#273686" stroke-width="0.3"/><path d="M406.5 95.5h6v2h-6zM406.5 97.5h6v2h-6zM406.5 99.5h2v2h-2zM410.5 99.5h4v2h-4zM406.5 101.5h2v2h-2zM412.5 101.5h2v2h-2zM406.5 103.5h2v2h-2zM412.5 103.5h2v2h-2zM406.5 105.5h2v2h-2zM410.5 105.5h2v2h-2zM406.5 107.5h6v2h-6zM408.5 109.5h4v2h-4z" fill="#a41a24" stroke="#a41a24" stroke-width="0.3"/><path d="M478.5 97.5h4v2h-4zM478.5 99.5h4v2h-4zM478.5 101.5h4v2h-4zM478.5 103.5h4v2h-4z" fill="#242c78" stroke="#242c78" stroke-width="0.3"/><path d="M408.5 99.5h2v2h-2zM408.5 101.5h4v2h-4zM408.5 103.5h4v2h-4zM408.5 105.5h2v2h-2z" fill="#921822" stroke="#921822" stroke-width="0.3"/><path d="M482.5 112.8L483.7 111.9L485 110.2L485.8 108.4L486.3 106.7L486.8 104.1L486.9 101.5L486.7 98.9L486.2 96.6L485.6 94.6L484.7 92.9L483.7 91.4L482 90.3L480.2 90L478.5 90.8L477.3 92L476.2 93.7L475.5 95.5L475 97.7L474.7 99.8L474.7 102.4L475 104.8L475.4 106.7L476 108.4L476.9 110.2L478.3 111.9L479.5 112.8L481.9 113M484.2 123.2L485.8 122.3L487.1 121.1L488.2 119.7L489.2 118L490 116.2L490.6 114.5L491.3 111.9L491.6 110.2L492 107.6L492.2 105L492.2 102.4L492.1 99.8L491.8 97.2L491.4 95.4L490.8 92.9L490.3 91.1L489.6 89.4L488.8 87.7L487.8 85.9L486.4 84.2L485.4 83.3L483.7 82.3L481.1 81.8L478.6 82.5L477.3 83.3L475.9 84.7L474.9 85.9L473.8 87.7L473 89.4L472.4 91.1L471.6 93.7L471.3 95.5L471 98.1L470.8 100.7L470.9 103.3L471.1 105.9L471.5 108.4L471.9 110.2L472.4 112L473.3 114.4L474.1 116.2L475 117.9L475.9 119.2L477 120.6L478.5 122L480.2 123L481.9 123.5L484.2 123.2M429.7 69.5L429.2 72.1L428.9 73.8L428.6 76.4L428.4 79L428.3 81.6L428.3 84.2L428.4 86.8L428.6 89.4L428.9 92L429.1 94L429.5 96.3L430 98.6L430.5 100.7L431.1 102.4L431.8 104.1L432.6 105.9L433.8 107.6L435.2 109.1L436.8 110.2L438.5 111L440.2 111.9L441.4 112.8L443 114.3L443.9 115.4L445.4 117.1L446.4 118.2L448.2 119.5L449.9 120.5L451.6 121.2L453.4 121.9L455.1 123L456 124L457 125.8L457.7 127.9L458 130.1L458.2 132.7L458.3 135.3L458.5 137.9L458.7 139.6L459.2 142.2L459.7 143.9L460.3 145.7L461.1 147.6L462 149.3L463 150.9L464.4 152.6L465.5 153.7L467.2 155.2L468.5 156.1L470 156.9L471.6 157.8L473.4 158.7L475.4 159.5L477.4 160.4L479.3 161.2L481.1 162L482.8 162.7L484.5 163.6L486.2 164.4L488 165.3L489.7 166.4L491 167.3L492.3 168.7L492.9 170.8L492 172.5M410.9 131.9L408.3 132.7L406.3 131.8L404.9 130.5L403.9 129.2L402.9 127.5L402.1 125.8L401.4 124L400.6 121.6L400 119.7L399.6 118L399 115.4L398.7 113.6L398.3 111L398.1 108.4L398 105.9L398.1 103.3L398.2 100.7L398.6 98.1L399 96.3L399.7 93.7L400.3 92L401 90.3L402 88.5L403.2 86.9L404 85.9L405.8 84.5L407.5 83.7L410.1 83.5L412.2 84.2L413.5 85.2L415.1 86.8L416.1 88.4L417 90L417.8 92L418.3 93.7L418.8 95.5L419.2 98.1L419.5 100.7L419.6 103.3L419.5 105.9L419.3 108.4L419 111L418.7 112.8L418.1 115.4L417.7 117.1L417 119.5L416.4 121.4L415.8 123.2L415.1 124.9L414.4 126.7L413.5 128.5L412.6 130.1L411 131.8M410.1 115.6L408 115.4L406.6 114.3L405.6 112.8L404.8 111L404.1 108.4L403.8 106.7L403.6 104.1L403.7 101.5L404 99.3L404.6 97.2L405.3 95.5L406.3 93.7L407.5 92.5L409.2 91.7L411.1 92L412.7 93.2L413.6 94.6L414.4 96.3L415.1 98.9L415.4 100.7L415.5 103.3L415.3 105.9L415 107.6L414.4 109.9L413.6 111.9L412.7 113.5L411.8 114.5L410.1 115.6" stroke="#222" stroke-width="0.6" fill="none"/><path d="M429.6 166.9h0.01M438.1 165.1h0.01M447.6 165.4h0.01M453.8 166.4h0.01M463.1 163.9h0.01M418.7 159.9h0.01M425.4 157h0.01M434.6 160.4h0.01M442.3 159.8h0.01M449.7 159.1h0.01M457.6 158h0.01M466.3 159.2h0.01M474.7 157.8h0.01M412.8 151.9h0.01M421.4 151.8h0.01M429.1 151.6h0.01M438.4 152h0.01M445.3 152.1h0.01M453.2 153.1h0.01M462.6 152.8h0.01M471.5 150.9h0.01M476.3 151.4h0.01M409.3 144.7h0.01M418.5 146.8h0.01M426.2 145h0.01M435.4 145.9h0.01M443.2 145.9h0.01M450 145.6h0.01M459.9 144.1h0.01M468.8 144.1h0.01M475.2 143.9h0.01M481.7 144.8h0.01M407.9 138.2h0.01M414.7 137.8h0.01M423.1 138.2h0.01M430.3 137.5h0.01M438.5 138.7h0.01M447.3 139.1h0.01M453.1 139.1h0.01M463.3 138.1h0.01M469.3 138.9h0.01M478.8 138.9h0.01M485 137.1h0.01M401.2 131.2h0.01M410.5 131.3h0.01M418.4 129.5h0.01M425.9 132.1h0.01M432.5 131h0.01M442 130.6h0.01M449.9 131.3h0.01M457.6 131.4h0.01M466.5 131.2h0.01M474.4 128.9h0.01M482.8 132.5h0.01M492.1 130.5h0.01M397.5 123h0.01M406.5 124.5h0.01M413.8 124.9h0.01M422.5 122.8h0.01M430.1 123.5h0.01M440.3 125.1h0.01M446.7 124.2h0.01M453.3 124.9h0.01M462.3 123.4h0.01M469.8 123.8h0.01M479.1 123.6h0.01M487.2 123.4h0.01M403 115.1h0.01M411.1 116.8h0.01M419.2 117.9h0.01M426.1 116.1h0.01M435.1 115.3h0.01M442.4 118.4h0.01M452.4 115.8h0.01M457.3 115.5h0.01M466.4 118.8h0.01M473.9 117.5h0.01M483.9 117.8h0.01M490 117.2h0.01M406.1 110.9h0.01M414.7 108.9h0.01M423.1 111h0.01M429.2 109.9h0.01M437.7 110.6h0.01M444.7 108h0.01M455.3 111h0.01M463.3 108.6h0.01M467.9 110.6h0.01M477.9 109.3h0.01M486.2 110.2h0.01M402.4 101.1h0.01M412.7 103.6h0.01M417.5 100.3h0.01M425.4 103.6h0.01M434.5 102.6h0.01M443.5 102.6h0.01M449.5 102.5h0.01M458.6 101.1h0.01M466.3 104.4h0.01M473.2 101.6h0.01M481.8 105.2h0.01M489.7 103.1h0.01M407.7 97.2h0.01M415.1 95.3h0.01M421.7 96.3h0.01M432.2 94.3h0.01M439.3 95.8h0.01M447.6 96.3h0.01M454.3 97h0.01M462.4 96.2h0.01M473.2 96.3h0.01M479.6 94.7h0.01M486.1 94.9h0.01M408.2 89.1h0.01M419.3 91.6h0.01M425.2 88.1h0.01M434.1 90.3h0.01M442 89.7h0.01M451.1 88.7h0.01M458.1 89.8h0.01M466.3 87.8h0.01M474.7 88.5h0.01M422.3 83.5h0.01M429.7 81.5h0.01M438.5 83.1h0.01M444.7 82.1h0.01M454 82.6h0.01M462 81.9h0.01M470.6 81.2h0.01M435.4 73.9h0.01M443.2 75.6h0.01M450.3 74.8h0.01M458 74.7h0.01" stroke="#222" stroke-width="0.9" stroke-linecap="round"/></g><circle cx="446" cy="121" r="51.5" fill="none" stroke="#222" stroke-width="0.8"/><path d="M436.5 70.3L446 61.2L455.5 70.3" fill="none" stroke="#222" stroke-width="0.8"/><path d="M394.8 113C388.5 111 388 115 388.5 121C388.5 129 388 137 394.8 135" fill="#fff" stroke="#222" stroke-width="0.8"/><path d="M497.2 113C503.5 111 504 115 503.5 121C503.5 129 504 137 497.2 135" fill="#fff" stroke="#222" stroke-width="0.8"/><clipPath id="clip607"><circle cx="607" cy="121.5" r="51"/></clipPath><g clip-path="url(#clip607)"><path d="M596 70.5h2v2h-2zM616 70.5h2v2h-2zM594 72.5h4v2h-4zM618 72.5h2v2h-2zM594 74.5h2v2h-2zM618 74.5h2v2h-2zM592 76.5h2v2h-2zM620 76.5h2v2h-2zM592 78.5h2v2h-2zM620 78.5h2v2h-2zM590 80.5h2v2h-2zM622 80.5h2v2h-2zM588 82.5h2v2h-2zM624 82.5h2v2h-2zM586 84.5h2v2h-2zM626 84.5h2v2h-2zM584 86.5h2v2h-2zM628 86.5h2v2h-2zM582 88.5h4v2h-4zM610 88.5h4v2h-4zM632 88.5h2v2h-2zM578 90.5h4v2h-4zM610 90.5h4v2h-4zM570 92.5h6v2h-6zM610 92.5h4v2h-4zM634 92.5h4v2h-4zM604 94.5h12v2h-12zM642 94.5h4v2h-4zM580 102.5h2v2h-2zM592 102.5h2v2h-2zM644 102.5h2v2h-2zM578 104.5h2v2h-2zM588 104.5h4v2h-4zM594 104.5h2v2h-2zM580 114.5h2v2h-2zM596 114.5h2v2h-2zM594 116.5h2v2h-2zM578 118.5h2v2h-2zM590 118.5h2v2h-2zM576 130.5h6v2h-6zM558 132.5h2v2h-2zM566 132.5h4v2h-4zM574 132.5h2v2h-2zM582 132.5h2v2h-2zM558 134.5h2v2h-2zM564 134.5h4v2h-4zM576 134.5h2v2h-2zM584 134.5h2v2h-2zM560 136.5h2v2h-2zM578 136.5h6v2h-6zM652 136.5h4v2h-4zM560 138.5h2v2h-2zM648 138.5h4v2h-4zM564 140.5h2v2h-2zM568 140.5h8v2h-8zM644 140.5h4v2h-4zM574 142.5h2v2h-2zM642 142.5h2v2h-2zM576 144.5h4v2h-4zM640 144.5h2v2h-2zM578 146.5h6v2h-6zM638 146.5h2v2h-2zM580 148.5h6v2h-6zM598 148.5h4v2h-4zM634 148.5h2v2h-2zM582 150.5h6v2h-6zM598 150.5h4v2h-4zM632 150.5h2v2h-2zM582 152.5h6v2h-6zM630 152.5h2v2h-2zM584 154.5h4v2h-4zM628 154.5h2v2h-2zM586 156.5h4v2h-4zM626 156.5h2v2h-2zM588 158.5h4v2h-4zM622 158.5h4v2h-4zM592 160.5h6v2h-6zM618 160.5h4v2h-4zM600 162.5h2v2h-2zM612 162.5h4v2h-4zM604 164.5h2v2h-2zM608 164.5h2v2h-2z" fill="#f39c9f" stroke="#f39c9f" stroke-width="0.3"/><path d="M598 70.5h6v2h-6zM610 70.5h6v2h-6zM598 72.5h2v2h-2zM614 72.5h4v2h-4zM596 74.5h2v2h-2zM616 74.5h2v2h-2zM594 76.5h4v2h-4zM618 76.5h2v2h-2zM594 78.5h2v2h-2zM618 78.5h2v2h-2zM592 80.5h2v2h-2zM606 80.5h2v2h-2zM620 80.5h2v2h-2zM590 82.5h2v2h-2zM622 82.5h2v2h-2zM588 84.5h4v2h-4zM622 84.5h4v2h-4zM586 86.5h4v2h-4zM612 86.5h2v2h-2zM624 86.5h4v2h-4zM586 88.5h2v2h-2zM608 88.5h2v2h-2zM614 88.5h2v2h-2zM630 88.5h2v2h-2zM582 90.5h6v2h-6zM608 90.5h2v2h-2zM614 90.5h4v2h-4zM632 90.5h2v2h-2zM566 92.5h4v2h-4zM576 92.5h8v2h-8zM602 92.5h8v2h-8zM614 92.5h8v2h-8zM632 92.5h2v2h-2zM602 94.5h2v2h-2zM616 94.5h8v2h-8zM634 94.5h8v2h-8zM606 96.5h14v2h-14zM594 102.5h2v2h-2zM596 104.5h2v2h-2zM644 104.5h2v2h-2zM648 104.5h2v2h-2zM580 106.5h4v2h-4zM590 112.5h4v2h-4zM578 114.5h2v2h-2zM598 114.5h4v2h-4zM574 116.5h2v2h-2zM576 118.5h2v2h-2zM592 118.5h2v2h-2zM650 118.5h2v2h-2zM650 120.5h2v2h-2zM648 122.5h2v2h-2zM558 130.5h2v2h-2zM566 130.5h10v2h-10zM582 130.5h2v2h-2zM570 132.5h4v2h-4zM584 132.5h2v2h-2zM568 134.5h2v2h-2zM586 134.5h8v2h-8zM652 134.5h4v2h-4zM562 136.5h2v2h-2zM574 136.5h4v2h-4zM584 136.5h4v2h-4zM648 136.5h4v2h-4zM562 138.5h2v2h-2zM570 138.5h14v2h-14zM644 138.5h4v2h-4zM566 140.5h2v2h-2zM576 140.5h6v2h-6zM642 140.5h2v2h-2zM576 142.5h10v2h-10zM640 142.5h2v2h-2zM580 144.5h14v2h-14zM638 144.5h2v2h-2zM584 146.5h16v2h-16zM636 146.5h2v2h-2zM586 148.5h12v2h-12zM602 148.5h2v2h-2zM632 148.5h2v2h-2zM588 150.5h10v2h-10zM602 150.5h2v2h-2zM630 150.5h2v2h-2zM588 152.5h4v2h-4zM588 154.5h4v2h-4zM590 156.5h4v2h-4zM622 156.5h4v2h-4zM592 158.5h6v2h-6zM620 158.5h2v2h-2zM598 160.5h6v2h-6zM612 160.5h6v2h-6zM602 162.5h2v2h-2zM610 162.5h2v2h-2zM606 164.5h2v2h-2z" fill="#f7bfc3" stroke="#f7bfc3" stroke-width="0.3"/><path d="M604 70.5h6v2h-6zM600 72.5h14v2h-14zM598 74.5h18v2h-18zM598 76.5h4v2h-4zM612 76.5h6v2h-6zM596 78.5h4v2h-4zM616 78.5h2v2h-2zM594 80.5h4v2h-4zM604 80.5h2v2h-2zM608 80.5h2v2h-2zM618 80.5h2v2h-2zM592 82.5h4v2h-4zM618 82.5h4v2h-4zM592 84.5h2v2h-2zM598 84.5h2v2h-2zM620 84.5h2v2h-2zM590 86.5h2v2h-2zM610 86.5h2v2h-2zM614 86.5h4v2h-4zM620 86.5h4v2h-4zM588 88.5h4v2h-4zM606 88.5h2v2h-2zM616 88.5h4v2h-4zM622 88.5h4v2h-4zM628 88.5h2v2h-2zM588 90.5h20v2h-20zM618 90.5h6v2h-6zM630 90.5h2v2h-2zM564 92.5h2v2h-2zM584 92.5h4v2h-4zM596 92.5h6v2h-6zM622 92.5h10v2h-10zM570 94.5h14v2h-14zM600 94.5h2v2h-2zM624 94.5h10v2h-10zM602 96.5h4v2h-4zM620 96.5h6v2h-6zM638 96.5h14v2h-14zM606 98.5h12v2h-12zM588 100.5h2v2h-2zM578 102.5h2v2h-2zM596 102.5h4v2h-4zM648 102.5h2v2h-2zM576 104.5h2v2h-2zM598 104.5h2v2h-2zM584 106.5h2v2h-2zM594 106.5h2v2h-2zM592 110.5h2v2h-2zM594 112.5h6v2h-6zM602 114.5h4v2h-4zM624 118.5h2v2h-2zM646 122.5h2v2h-2zM570 128.5h4v2h-4zM656 128.5h2v2h-2zM556 130.5h2v2h-2zM656 130.5h2v2h-2zM586 132.5h2v2h-2zM590 132.5h8v2h-8zM654 132.5h2v2h-2zM574 134.5h2v2h-2zM594 134.5h4v2h-4zM648 134.5h4v2h-4zM564 136.5h10v2h-10zM588 136.5h6v2h-6zM644 136.5h4v2h-4zM568 138.5h2v2h-2zM642 138.5h2v2h-2zM582 140.5h2v2h-2zM590 140.5h2v2h-2zM638 140.5h4v2h-4zM586 142.5h8v2h-8zM622 142.5h4v2h-4zM636 142.5h4v2h-4zM594 144.5h4v2h-4zM622 144.5h4v2h-4zM636 144.5h2v2h-2zM600 146.5h4v2h-4zM632 146.5h4v2h-4zM604 148.5h2v2h-2zM630 148.5h2v2h-2zM592 152.5h10v2h-10zM628 152.5h2v2h-2zM592 154.5h6v2h-6zM622 154.5h6v2h-6zM594 156.5h6v2h-6zM620 156.5h2v2h-2zM598 158.5h6v2h-6zM612 158.5h8v2h-8zM604 160.5h8v2h-8zM604 162.5h6v2h-6z" fill="#fbdfe1" stroke="#fbdfe1" stroke-width="0.3"/><path d="M590 72.5h2v2h-2zM622 72.5h2v2h-2zM590 74.5h2v2h-2zM622 74.5h2v2h-2zM588 76.5h2v2h-2zM624 76.5h2v2h-2zM588 78.5h2v2h-2zM624 78.5h2v2h-2zM586 80.5h2v2h-2zM626 80.5h2v2h-2zM584 82.5h2v2h-2zM628 82.5h2v2h-2zM582 84.5h2v2h-2zM630 84.5h2v2h-2zM578 86.5h4v2h-4zM632 86.5h2v2h-2zM576 88.5h2v2h-2zM636 88.5h2v2h-2zM570 90.5h4v2h-4zM638 90.5h8v2h-8zM584 102.5h2v2h-2zM580 104.5h2v2h-2zM586 104.5h2v2h-2zM646 104.5h2v2h-2zM586 114.5h6v2h-6zM592 116.5h2v2h-2zM648 118.5h2v2h-2zM646 120.5h2v2h-2zM562 130.5h2v2h-2zM560 140.5h2v2h-2zM652 140.5h2v2h-2zM564 142.5h6v2h-6zM648 142.5h4v2h-4zM570 144.5h2v2h-2zM644 144.5h4v2h-4zM570 146.5h4v2h-4zM642 146.5h2v2h-2zM572 148.5h4v2h-4zM638 148.5h2v2h-2zM574 150.5h2v2h-2zM636 150.5h2v2h-2zM574 152.5h4v2h-4zM634 152.5h2v2h-2zM576 154.5h4v2h-4zM632 154.5h2v2h-2zM578 156.5h4v2h-4zM630 156.5h2v2h-2zM580 158.5h4v2h-4zM628 158.5h2v2h-2zM584 160.5h4v2h-4zM624 160.5h2v2h-2zM588 162.5h4v2h-4zM620 162.5h2v2h-2zM600 164.5h2v2h-2zM612 164.5h6v2h-6zM604 166.5h6v2h-6z" fill="#ed5658" stroke="#ed5658" stroke-width="0.3"/><path d="M592 72.5h2v2h-2zM620 72.5h2v2h-2zM592 74.5h2v2h-2zM620 74.5h2v2h-2zM590 76.5h2v2h-2zM622 76.5h2v2h-2zM590 78.5h2v2h-2zM622 78.5h2v2h-2zM588 80.5h2v2h-2zM624 80.5h2v2h-2zM586 82.5h2v2h-2zM626 82.5h2v2h-2zM584 84.5h2v2h-2zM628 84.5h2v2h-2zM582 86.5h2v2h-2zM630 86.5h2v2h-2zM578 88.5h4v2h-4zM634 88.5h2v2h-2zM566 90.5h4v2h-4zM574 90.5h4v2h-4zM634 90.5h4v2h-4zM646 90.5h2v2h-2zM638 92.5h12v2h-12zM646 94.5h4v2h-4zM582 102.5h2v2h-2zM586 102.5h6v2h-6zM646 102.5h2v2h-2zM592 104.5h2v2h-2zM582 114.5h4v2h-4zM592 114.5h4v2h-4zM576 116.5h2v2h-2zM580 118.5h10v2h-10zM646 118.5h2v2h-2zM560 130.5h2v2h-2zM564 130.5h2v2h-2zM560 132.5h6v2h-6zM576 132.5h6v2h-6zM560 134.5h4v2h-4zM578 134.5h6v2h-6zM558 136.5h2v2h-2zM652 138.5h2v2h-2zM562 140.5h2v2h-2zM648 140.5h4v2h-4zM570 142.5h4v2h-4zM644 142.5h4v2h-4zM572 144.5h4v2h-4zM642 144.5h2v2h-2zM574 146.5h4v2h-4zM640 146.5h2v2h-2zM576 148.5h4v2h-4zM636 148.5h2v2h-2zM576 150.5h6v2h-6zM634 150.5h2v2h-2zM578 152.5h4v2h-4zM632 152.5h2v2h-2zM580 154.5h4v2h-4zM630 154.5h2v2h-2zM582 156.5h4v2h-4zM628 156.5h2v2h-2zM584 158.5h4v2h-4zM626 158.5h2v2h-2zM588 160.5h4v2h-4zM622 160.5h2v2h-2zM592 162.5h8v2h-8zM616 162.5h4v2h-4zM602 164.5h2v2h-2zM610 164.5h2v2h-2z" fill="#f0787b" stroke="#f0787b" stroke-width="0.3"/><path d="M584 74.5h2v2h-2zM584 76.5h2v2h-2zM628 76.5h2v2h-2zM630 78.5h2v2h-2zM580 80.5h2v2h-2zM632 80.5h2v2h-2zM578 82.5h2v2h-2zM634 82.5h2v2h-2zM574 84.5h2v2h-2zM636 84.5h2v2h-2zM570 86.5h2v2h-2zM640 86.5h6v2h-6zM582 116.5h6v2h-6zM564 148.5h2v2h-2zM646 148.5h4v2h-4zM566 150.5h2v2h-2zM642 150.5h4v2h-4zM568 152.5h2v2h-2zM640 152.5h2v2h-2zM568 154.5h2v2h-2zM638 154.5h2v2h-2zM570 156.5h2v2h-2zM636 156.5h2v2h-2zM572 158.5h2v2h-2zM634 158.5h2v2h-2zM632 160.5h2v2h-2zM578 162.5h2v2h-2zM626 162.5h2v2h-2zM582 164.5h4v2h-4zM622 164.5h2v2h-2zM584 166.5h14v2h-14zM620 166.5h2v2h-2zM590 168.5h8v2h-8zM620 168.5h2v2h-2zM596 170.5h2v2h-2z" fill="#d32028" stroke="#d32028" stroke-width="0.3"/><path d="M586 74.5h2v2h-2zM626 74.5h2v2h-2zM586 76.5h2v2h-2zM626 76.5h2v2h-2zM584 78.5h2v2h-2zM628 78.5h2v2h-2zM582 80.5h2v2h-2zM630 80.5h2v2h-2zM580 82.5h2v2h-2zM632 82.5h2v2h-2zM576 84.5h4v2h-4zM634 84.5h2v2h-2zM568 86.5h2v2h-2zM572 86.5h4v2h-4zM636 86.5h4v2h-4zM580 116.5h2v2h-2zM588 116.5h4v2h-4zM562 144.5h2v2h-2zM564 146.5h4v2h-4zM646 146.5h4v2h-4zM566 148.5h4v2h-4zM644 148.5h2v2h-2zM568 150.5h2v2h-2zM640 150.5h2v2h-2zM570 152.5h2v2h-2zM638 152.5h2v2h-2zM570 154.5h4v2h-4zM636 154.5h2v2h-2zM572 156.5h2v2h-2zM634 156.5h2v2h-2zM574 158.5h2v2h-2zM632 158.5h2v2h-2zM576 160.5h4v2h-4zM628 160.5h4v2h-4zM580 162.5h4v2h-4zM624 162.5h2v2h-2zM586 164.5h6v2h-6zM620 164.5h2v2h-2zM598 166.5h2v2h-2zM618 166.5h2v2h-2zM598 168.5h8v2h-8zM618 168.5h2v2h-2zM598 170.5h14v2h-14z" fill="#e2212a" stroke="#e2212a" stroke-width="0.3"/><path d="M588 74.5h2v2h-2zM624 74.5h2v2h-2zM586 78.5h2v2h-2zM626 78.5h2v2h-2zM584 80.5h2v2h-2zM628 80.5h2v2h-2zM582 82.5h2v2h-2zM630 82.5h2v2h-2zM580 84.5h2v2h-2zM632 84.5h2v2h-2zM576 86.5h2v2h-2zM634 86.5h2v2h-2zM568 88.5h8v2h-8zM638 88.5h8v2h-8zM582 104.5h4v2h-4zM578 116.5h2v2h-2zM648 120.5h2v2h-2zM560 142.5h4v2h-4zM652 142.5h2v2h-2zM564 144.5h6v2h-6zM648 144.5h4v2h-4zM568 146.5h2v2h-2zM644 146.5h2v2h-2zM570 148.5h2v2h-2zM640 148.5h4v2h-4zM570 150.5h4v2h-4zM638 150.5h2v2h-2zM572 152.5h2v2h-2zM636 152.5h2v2h-2zM574 154.5h2v2h-2zM634 154.5h2v2h-2zM574 156.5h4v2h-4zM632 156.5h2v2h-2zM576 158.5h4v2h-4zM630 158.5h2v2h-2zM580 160.5h4v2h-4zM626 160.5h2v2h-2zM584 162.5h4v2h-4zM622 162.5h2v2h-2zM592 164.5h8v2h-8zM618 164.5h2v2h-2zM600 166.5h4v2h-4zM610 166.5h8v2h-8zM606 168.5h12v2h-12zM612 170.5h6v2h-6z" fill="#ea353b" stroke="#ea353b" stroke-width="0.3"/><path d="M628 74.5h2v2h-2zM582 76.5h2v2h-2zM582 78.5h2v2h-2zM634 80.5h4v2h-4zM576 82.5h2v2h-2zM636 82.5h2v2h-2zM570 84.5h4v2h-4zM638 84.5h4v2h-4zM646 150.5h2v2h-2zM642 152.5h2v2h-2zM640 154.5h2v2h-2zM638 156.5h2v2h-2zM636 158.5h2v2h-2zM634 160.5h2v2h-2zM628 162.5h4v2h-4zM622 168.5h2v2h-2z" fill="#c41e27" stroke="#c41e27" stroke-width="0.3"/><path d="M602 76.5h10v2h-10zM600 78.5h10v2h-10zM614 78.5h2v2h-2zM598 80.5h6v2h-6zM596 82.5h10v2h-10zM594 84.5h4v2h-4zM600 84.5h2v2h-2zM610 84.5h10v2h-10zM592 86.5h10v2h-10zM608 86.5h2v2h-2zM618 86.5h2v2h-2zM592 88.5h14v2h-14zM620 88.5h2v2h-2zM626 88.5h2v2h-2zM624 90.5h6v2h-6zM588 92.5h8v2h-8zM566 94.5h4v2h-4zM584 94.5h4v2h-4zM598 94.5h2v2h-2zM626 96.5h12v2h-12zM604 98.5h2v2h-2zM618 98.5h6v2h-6zM644 98.5h2v2h-2zM652 98.5h2v2h-2zM584 100.5h4v2h-4zM590 100.5h8v2h-8zM604 100.5h10v2h-10zM644 100.5h2v2h-2zM600 102.5h6v2h-6zM600 104.5h4v2h-4zM578 106.5h2v2h-2zM586 106.5h2v2h-2zM592 106.5h2v2h-2zM596 106.5h4v2h-4zM590 110.5h2v2h-2zM594 110.5h2v2h-2zM588 112.5h2v2h-2zM600 112.5h6v2h-6zM576 114.5h2v2h-2zM606 114.5h2v2h-2zM596 116.5h2v2h-2zM604 116.5h4v2h-4zM648 116.5h2v2h-2zM574 118.5h2v2h-2zM594 118.5h2v2h-2zM622 118.5h2v2h-2zM644 120.5h2v2h-2zM650 122.5h2v2h-2zM656 124.5h2v2h-2zM654 126.5h4v2h-4zM562 128.5h2v2h-2zM568 128.5h2v2h-2zM574 128.5h8v2h-8zM654 128.5h2v2h-2zM584 130.5h2v2h-2zM592 130.5h8v2h-8zM654 130.5h2v2h-2zM588 132.5h2v2h-2zM598 132.5h4v2h-4zM650 132.5h4v2h-4zM570 134.5h4v2h-4zM598 134.5h2v2h-2zM644 134.5h4v2h-4zM594 136.5h2v2h-2zM640 136.5h4v2h-4zM564 138.5h4v2h-4zM584 138.5h2v2h-2zM590 138.5h4v2h-4zM638 138.5h4v2h-4zM584 140.5h2v2h-2zM588 140.5h2v2h-2zM592 140.5h2v2h-2zM636 140.5h2v2h-2zM594 142.5h2v2h-2zM620 142.5h2v2h-2zM626 142.5h2v2h-2zM634 142.5h2v2h-2zM598 144.5h8v2h-8zM626 144.5h2v2h-2zM632 144.5h4v2h-4zM604 146.5h2v2h-2zM630 146.5h2v2h-2zM604 150.5h2v2h-2zM628 150.5h2v2h-2zM602 152.5h4v2h-4zM598 154.5h6v2h-6zM620 154.5h2v2h-2zM600 156.5h8v2h-8zM612 156.5h8v2h-8zM604 158.5h8v2h-8z" fill="#ffffff" stroke="#ffffff" stroke-width="0.3"/><path d="M630 76.5h2v2h-2zM580 78.5h2v2h-2zM632 78.5h4v2h-4zM578 80.5h2v2h-2zM572 82.5h4v2h-4zM638 82.5h2v2h-2zM642 84.5h2v2h-2zM644 152.5h2v2h-2zM642 154.5h2v2h-2zM640 156.5h4v2h-4zM638 158.5h4v2h-4zM636 160.5h2v2h-2zM632 162.5h2v2h-2zM624 164.5h2v2h-2zM622 166.5h2v2h-2z" fill="#b51c26" stroke="#b51c26" stroke-width="0.3"/><path d="M578 78.5h2v2h-2zM576 80.5h2v2h-2zM640 82.5h2v2h-2zM644 154.5h2v2h-2zM634 162.5h2v2h-2zM626 164.5h6v2h-6zM628 166.5h2v2h-2z" fill="#a41a24" stroke="#a41a24" stroke-width="0.3"/><path d="M610 78.5h4v2h-4zM610 80.5h2v2h-2zM616 80.5h2v2h-2zM606 82.5h8v2h-8zM616 82.5h2v2h-2zM602 84.5h2v2h-2zM602 86.5h6v2h-6zM564 94.5h2v2h-2zM594 94.5h4v2h-4zM580 96.5h8v2h-8zM600 96.5h2v2h-2zM584 98.5h10v2h-10zM600 98.5h4v2h-4zM624 98.5h4v2h-4zM638 98.5h6v2h-6zM646 98.5h2v2h-2zM650 98.5h2v2h-2zM582 100.5h2v2h-2zM598 100.5h6v2h-6zM614 100.5h6v2h-6zM642 100.5h2v2h-2zM646 100.5h2v2h-2zM576 102.5h2v2h-2zM606 102.5h8v2h-8zM642 102.5h2v2h-2zM604 104.5h6v2h-6zM650 104.5h2v2h-2zM590 106.5h2v2h-2zM600 106.5h8v2h-8zM646 106.5h2v2h-2zM592 108.5h12v2h-12zM596 110.5h10v2h-10zM586 112.5h2v2h-2zM606 112.5h4v2h-4zM608 114.5h4v2h-4zM572 116.5h2v2h-2zM598 116.5h6v2h-6zM608 116.5h4v2h-4zM646 116.5h2v2h-2zM644 118.5h2v2h-2zM580 120.5h14v2h-14zM622 120.5h4v2h-4zM652 120.5h2v2h-2zM656 120.5h2v2h-2zM644 122.5h2v2h-2zM652 122.5h6v2h-6zM646 124.5h10v2h-10zM570 126.5h4v2h-4zM652 126.5h2v2h-2zM556 128.5h6v2h-6zM564 128.5h4v2h-4zM582 128.5h4v2h-4zM592 128.5h6v2h-6zM652 128.5h2v2h-2zM586 130.5h6v2h-6zM600 130.5h4v2h-4zM644 130.5h2v2h-2zM652 130.5h2v2h-2zM602 132.5h4v2h-4zM640 132.5h10v2h-10zM600 134.5h6v2h-6zM638 134.5h6v2h-6zM596 136.5h2v2h-2zM628 136.5h4v2h-4zM636 136.5h4v2h-4zM588 138.5h2v2h-2zM594 138.5h2v2h-2zM624 138.5h14v2h-14zM586 140.5h2v2h-2zM594 140.5h2v2h-2zM620 140.5h16v2h-16zM596 142.5h2v2h-2zM604 142.5h6v2h-6zM628 142.5h6v2h-6zM606 144.5h4v2h-4zM620 144.5h2v2h-2zM628 144.5h4v2h-4zM606 146.5h4v2h-4zM622 146.5h8v2h-8zM606 148.5h4v2h-4zM628 148.5h2v2h-2zM606 150.5h6v2h-6zM606 152.5h6v2h-6zM626 152.5h2v2h-2zM604 154.5h16v2h-16zM608 156.5h4v2h-4z" fill="#e2edf7" stroke="#e2edf7" stroke-width="0.3"/><path d="M612 80.5h2v2h-2zM604 84.5h2v2h-2zM608 84.5h2v2h-2zM562 96.5h6v2h-6zM580 98.5h2v2h-2zM578 100.5h2v2h-2zM624 100.5h6v2h-6zM638 100.5h4v2h-4zM648 100.5h4v2h-4zM620 102.5h4v2h-4zM616 104.5h4v2h-4zM642 104.5h2v2h-2zM652 104.5h2v2h-2zM576 106.5h2v2h-2zM614 106.5h4v2h-4zM644 106.5h2v2h-2zM650 106.5h6v2h-6zM580 108.5h10v2h-10zM612 108.5h4v2h-4zM654 108.5h2v2h-2zM586 110.5h2v2h-2zM612 110.5h4v2h-4zM654 110.5h2v2h-2zM580 112.5h2v2h-2zM612 112.5h4v2h-4zM654 112.5h2v2h-2zM614 114.5h2v2h-2zM654 114.5h2v2h-2zM570 116.5h2v2h-2zM614 116.5h4v2h-4zM622 116.5h4v2h-4zM652 116.5h6v2h-6zM604 118.5h2v2h-2zM614 118.5h6v2h-6zM556 120.5h2v2h-2zM574 120.5h2v2h-2zM606 120.5h16v2h-16zM642 120.5h2v2h-2zM556 122.5h2v2h-2zM582 122.5h16v2h-16zM604 122.5h26v2h-26zM642 122.5h2v2h-2zM556 124.5h2v2h-2zM588 124.5h42v2h-42zM642 124.5h2v2h-2zM578 126.5h42v2h-42zM628 126.5h4v2h-4zM640 126.5h2v2h-2zM604 128.5h14v2h-14zM632 128.5h2v2h-2zM638 128.5h2v2h-2zM622 132.5h2v2h-2zM626 132.5h2v2h-2zM622 134.5h4v2h-4zM600 136.5h4v2h-4zM604 138.5h2v2h-2zM622 148.5h4v2h-4zM620 150.5h2v2h-2zM624 150.5h2v2h-2z" fill="#a9c8e7" stroke="#a9c8e7" stroke-width="0.3"/><path d="M614 80.5h2v2h-2zM614 82.5h2v2h-2zM588 94.5h6v2h-6zM568 96.5h12v2h-12zM588 96.5h12v2h-12zM582 98.5h2v2h-2zM594 98.5h6v2h-6zM628 98.5h10v2h-10zM648 98.5h2v2h-2zM580 100.5h2v2h-2zM620 100.5h4v2h-4zM652 100.5h2v2h-2zM574 102.5h2v2h-2zM614 102.5h6v2h-6zM650 102.5h4v2h-4zM574 104.5h2v2h-2zM610 104.5h6v2h-6zM654 104.5h2v2h-2zM588 106.5h2v2h-2zM608 106.5h6v2h-6zM648 106.5h2v2h-2zM590 108.5h2v2h-2zM604 108.5h8v2h-8zM588 110.5h2v2h-2zM606 110.5h6v2h-6zM656 110.5h2v2h-2zM582 112.5h4v2h-4zM610 112.5h2v2h-2zM656 112.5h2v2h-2zM574 114.5h2v2h-2zM612 114.5h2v2h-2zM656 114.5h2v2h-2zM612 116.5h2v2h-2zM650 116.5h2v2h-2zM572 118.5h2v2h-2zM606 118.5h8v2h-8zM620 118.5h2v2h-2zM626 118.5h2v2h-2zM652 118.5h6v2h-6zM576 120.5h4v2h-4zM594 120.5h2v2h-2zM626 120.5h2v2h-2zM654 120.5h2v2h-2zM570 124.5h4v2h-4zM644 124.5h2v2h-2zM556 126.5h2v2h-2zM568 126.5h2v2h-2zM574 126.5h4v2h-4zM620 126.5h8v2h-8zM642 126.5h10v2h-10zM586 128.5h6v2h-6zM598 128.5h6v2h-6zM618 128.5h14v2h-14zM640 128.5h12v2h-12zM604 130.5h40v2h-40zM646 130.5h6v2h-6zM606 132.5h16v2h-16zM628 132.5h12v2h-12zM606 134.5h16v2h-16zM626 134.5h12v2h-12zM598 136.5h2v2h-2zM604 136.5h24v2h-24zM632 136.5h4v2h-4zM586 138.5h2v2h-2zM596 138.5h2v2h-2zM606 138.5h18v2h-18zM596 140.5h2v2h-2zM604 140.5h16v2h-16zM598 142.5h6v2h-6zM610 142.5h10v2h-10zM610 144.5h10v2h-10zM610 146.5h12v2h-12zM610 148.5h12v2h-12zM626 148.5h2v2h-2zM612 150.5h8v2h-8zM626 150.5h2v2h-2zM612 152.5h14v2h-14z" fill="#c5dbef" stroke="#c5dbef" stroke-width="0.3"/><path d="M606 84.5h2v2h-2zM560 98.5h2v2h-2zM564 98.5h4v2h-4zM574 98.5h4v2h-4zM570 100.5h6v2h-6zM570 102.5h2v2h-2zM626 102.5h4v2h-4zM622 104.5h4v2h-4zM620 106.5h2v2h-2zM620 108.5h2v2h-2zM648 108.5h4v2h-4zM580 110.5h4v2h-4zM618 110.5h4v2h-4zM652 110.5h2v2h-2zM578 112.5h2v2h-2zM618 112.5h4v2h-4zM652 112.5h2v2h-2zM556 114.5h2v2h-2zM570 114.5h2v2h-2zM620 114.5h2v2h-2zM648 114.5h2v2h-2zM558 116.5h6v2h-6zM628 116.5h2v2h-2zM560 118.5h4v2h-4zM570 118.5h2v2h-2zM602 118.5h2v2h-2zM630 118.5h2v2h-2zM642 118.5h2v2h-2zM560 120.5h2v2h-2zM602 120.5h2v2h-2zM632 120.5h10v2h-10zM558 122.5h2v2h-2zM572 122.5h2v2h-2zM634 122.5h4v2h-4zM558 124.5h2v2h-2zM568 124.5h2v2h-2zM632 124.5h2v2h-2zM638 124.5h2v2h-2zM560 126.5h2v2h-2zM566 126.5h2v2h-2zM632 126.5h2v2h-2zM638 126.5h2v2h-2zM598 138.5h4v2h-4zM600 140.5h2v2h-2z" fill="#72a2d5" stroke="#72a2d5" stroke-width="0.3"/><path d="M562 98.5h2v2h-2zM568 100.5h2v2h-2zM630 102.5h10v2h-10zM626 104.5h2v2h-2zM640 104.5h2v2h-2zM574 106.5h2v2h-2zM622 106.5h4v2h-4zM642 106.5h2v2h-2zM622 108.5h2v2h-2zM646 108.5h2v2h-2zM622 110.5h2v2h-2zM650 110.5h2v2h-2zM622 112.5h2v2h-2zM648 112.5h4v2h-4zM558 114.5h2v2h-2zM562 114.5h8v2h-8zM622 114.5h4v2h-4zM646 114.5h2v2h-2zM630 116.5h2v2h-2zM642 116.5h2v2h-2zM564 118.5h6v2h-6zM598 118.5h4v2h-4zM632 118.5h10v2h-10zM562 120.5h2v2h-2zM572 120.5h2v2h-2zM598 120.5h4v2h-4zM570 122.5h2v2h-2zM636 124.5h2v2h-2zM562 126.5h4v2h-4z" fill="#578fcc" stroke="#578fcc" stroke-width="0.3"/><path d="M568 98.5h6v2h-6zM578 98.5h2v2h-2zM576 100.5h2v2h-2zM630 100.5h8v2h-8zM572 102.5h2v2h-2zM624 102.5h2v2h-2zM640 102.5h2v2h-2zM572 104.5h2v2h-2zM620 104.5h2v2h-2zM618 106.5h2v2h-2zM578 108.5h2v2h-2zM616 108.5h4v2h-4zM652 108.5h2v2h-2zM584 110.5h2v2h-2zM616 110.5h2v2h-2zM616 112.5h2v2h-2zM572 114.5h2v2h-2zM616 114.5h4v2h-4zM650 114.5h4v2h-4zM556 116.5h2v2h-2zM564 116.5h6v2h-6zM618 116.5h4v2h-4zM626 116.5h2v2h-2zM644 116.5h2v2h-2zM556 118.5h4v2h-4zM596 118.5h2v2h-2zM628 118.5h2v2h-2zM558 120.5h2v2h-2zM596 120.5h2v2h-2zM604 120.5h2v2h-2zM628 120.5h4v2h-4zM574 122.5h8v2h-8zM598 122.5h6v2h-6zM630 122.5h4v2h-4zM638 122.5h4v2h-4zM574 124.5h14v2h-14zM630 124.5h2v2h-2zM640 124.5h2v2h-2zM558 126.5h2v2h-2zM634 128.5h4v2h-4zM624 132.5h2v2h-2zM602 138.5h2v2h-2zM598 140.5h2v2h-2zM602 140.5h2v2h-2zM622 150.5h2v2h-2z" fill="#8eb5de" stroke="#8eb5de" stroke-width="0.3"/><path d="M560 100.5h2v2h-2zM564 100.5h4v2h-4zM568 102.5h2v2h-2zM570 104.5h2v2h-2zM628 104.5h2v2h-2zM576 108.5h2v2h-2zM624 108.5h2v2h-2zM644 108.5h2v2h-2zM578 110.5h2v2h-2zM646 110.5h4v2h-4zM556 112.5h2v2h-2zM576 112.5h2v2h-2zM624 112.5h2v2h-2zM646 112.5h2v2h-2zM560 114.5h2v2h-2zM626 114.5h2v2h-2zM644 114.5h2v2h-2zM632 116.5h4v2h-4zM640 116.5h2v2h-2zM560 122.5h2v2h-2zM634 124.5h2v2h-2zM634 126.5h4v2h-4z" fill="#467cc0" stroke="#467cc0" stroke-width="0.3"/><path d="M562 100.5h2v2h-2zM566 102.5h2v2h-2zM630 104.5h4v2h-4zM638 104.5h2v2h-2zM572 106.5h2v2h-2zM626 106.5h2v2h-2zM556 110.5h2v2h-2zM624 110.5h2v2h-2zM644 110.5h2v2h-2zM558 112.5h2v2h-2zM626 112.5h2v2h-2zM644 112.5h2v2h-2zM628 114.5h4v2h-4zM642 114.5h2v2h-2zM636 116.5h4v2h-4zM564 120.5h2v2h-2zM570 120.5h2v2h-2zM562 122.5h2v2h-2zM560 124.5h2v2h-2zM566 124.5h2v2h-2z" fill="#3d69b2" stroke="#3d69b2" stroke-width="0.3"/><path d="M560 102.5h2v2h-2zM564 102.5h2v2h-2zM558 104.5h2v2h-2zM568 104.5h2v2h-2zM634 104.5h4v2h-4zM628 106.5h2v2h-2zM640 106.5h2v2h-2zM626 108.5h2v2h-2zM642 108.5h2v2h-2zM576 110.5h2v2h-2zM626 110.5h2v2h-2zM560 112.5h2v2h-2zM574 112.5h2v2h-2zM642 112.5h2v2h-2zM632 114.5h2v2h-2zM640 114.5h2v2h-2zM566 120.5h2v2h-2zM564 122.5h2v2h-2zM568 122.5h2v2h-2zM562 124.5h4v2h-4z" fill="#3455a3" stroke="#3455a3" stroke-width="0.3"/><path d="M562 102.5h2v2h-2zM566 104.5h2v2h-2zM558 106.5h2v2h-2zM570 106.5h2v2h-2zM630 106.5h2v2h-2zM638 106.5h2v2h-2zM574 108.5h2v2h-2zM628 108.5h2v2h-2zM640 108.5h2v2h-2zM558 110.5h2v2h-2zM628 110.5h2v2h-2zM642 110.5h2v2h-2zM562 112.5h6v2h-6zM572 112.5h2v2h-2zM628 112.5h2v2h-2zM640 112.5h2v2h-2zM634 114.5h6v2h-6zM568 120.5h2v2h-2zM566 122.5h2v2h-2z" fill="#2c4295" stroke="#2c4295" stroke-width="0.3"/><path d="M560 104.5h6v2h-6zM632 106.5h6v2h-6zM558 108.5h2v2h-2zM630 108.5h2v2h-2zM640 110.5h2v2h-2zM568 112.5h4v2h-4zM630 112.5h2v2h-2z" fill="#273686" stroke="#273686" stroke-width="0.3"/><path d="M560 106.5h10v2h-10zM560 108.5h14v2h-14zM632 108.5h8v2h-8zM560 110.5h16v2h-16zM630 110.5h10v2h-10zM632 112.5h8v2h-8z" fill="#242c78" stroke="#242c78" stroke-width="0.3"/><path d="M624 166.5h4v2h-4z" fill="#921822" stroke="#921822" stroke-width="0.3"/><path d="M575.5 113.4L576.8 112.5L576.6 110.1L575.4 109.1L573.8 108.2L571.8 107.4L570.1 106.5L568.7 105.6L567.1 104.6L565.4 103.5L563.7 102.9L561.7 103.1L560.2 103.9L558.8 105.6L558 107.4L557.7 109.9L558.6 112.3L559.9 113.4L562 113.8L564.6 113.8L567.1 114.1L569.7 114.1L572.3 113.9L574.9 113.6M640.5 115.9L642 115.1L643.4 113.7L644 111.6L643 109.9L641.7 108.5L640.4 107.4L639 106.5L636.6 105.8L634 105.9L631.4 106.5L629.7 107.4L628.7 108.2L627.5 109.9L627.4 112.5L628.9 114L630.6 114.7L632.3 115.2L634.3 115.9L636.6 116.6L639.1 116.4M566 125.4L567.1 124.4L568.9 123.4L570.6 122.1L570 121.1L568 120.8L566.3 121.7L565.2 122.8L563.7 123.9L562.6 125.4L564.6 125.9M556 114.4L557.4 115.9L558.7 116.8L561.1 116.9L562.9 116.2L564.6 115.8L567.1 115.9L569.7 115.8L572.3 115.2L574 114.9L576.3 114.2L578.3 113.4L580 112.5L580 111L578.8 109.9L577.4 108.8L575.7 107.7L574 106.8L572.3 105.7L571.4 104.7L570.9 102.2L569.7 101.1L568 100.4L565.6 99.6L563.7 99.3L561.1 99.4L559.4 99.9L557.7 101.1L556.8 102.2M640.8 120.2L642.2 119.4L643.4 118.2L645 116.8L646.4 115.9L648.6 115.1L650.3 114.5L651.4 113.4L651.2 110.8L650.1 109.9L647.7 109.6L645.9 109.1L644.3 108.2L642.6 106.5L641.7 105.4L640.2 103.9L638.3 103.2L636.6 102.9L634 102.8L631.6 103.1L629.7 103.5L628 104.1L626.3 104.8L624.6 105.9L622.9 107.4L622 108.5L621.1 110.3L620.9 112.5L621.4 114.2L622.9 115.7L624.6 116.2L626.6 116.8L628.9 117.5L630.6 118.2L632.3 119.4L633.7 120.2L635.7 120.7L638.3 120.7L640.8 120.2M567 127.1L568 126.2L569.6 124.5L571.4 123.8L573.1 123.1L573.1 121.6L571.7 120.2L570.1 119.4L568 118.8L565.4 119.1L563.7 119.7L562 120.7L560.7 121.9L559.4 123.4L558.9 125.4L560.1 127.1L562 127.7L564.6 127.9L567 127.1M602.1 121.9L603 120.2L601.4 119.2L598.9 119.2L597.9 120.2L598.9 121.8L600.6 122.3M638 127.9L638.7 126.2L637.4 124.6L635.7 124.2L634 124.8L633 126.2L633.8 127.9L635.7 128.6L638 127.9M601.7 140.8L600.6 139.7L600.6 141M608.1 87.6L609.6 86.8L610.8 85.1L611.7 83.9L613.4 84.4L616 84.4L617 83.4L616.9 81.3L615.6 79.9L613.4 79.2L610.9 79.4L610 80.8L610.3 82.5L608.3 83.3L606.6 83.6L604 83.8L602.4 85.1L602.6 87.6L604.9 88.4L607.4 88M658 104.8L656.5 103.1L655.4 102.1L653.7 100.6L652.5 99.6L650.3 98.8L648.6 98.7L646.9 99L645.1 99.6L643.2 99.6L640.9 99.1L638.8 98.8L636.6 98.5L634 98.2L631.5 97.9L630.6 98L628 98.5L626.3 98.9L623.7 99.5L622 99.9L619.4 100.5L617.7 100.9L615.8 101.4L613.4 101.9L611.7 102.3L609.1 102.9L607.4 103.4L605.7 104.5L604.6 105.6L603.1 106.7L601.4 107.4L598.9 108.1L597.1 108.4L594.6 108.6L592.9 108.2L591 107.4L588.6 107.2L586.9 107.7L585 108.2L582.6 108.6L580.2 108.2L578.6 107.4L577.3 106.5L575.8 104.8L577.4 103.3L579.1 102.7L580.9 102.2L583.4 101.5L585.1 101.1L587.7 100.5L589.4 100.1L592 100.3L593.7 100.7L596.3 101.2L598.3 101.4L600.6 101.4L602.6 101.4L604 100.5L603.1 99.2L601.5 97.9L600.6 97.1L598.9 95.7L597.1 95.2L594.6 94.8L592.9 94.3L590.3 93.9L588.6 94.5L587.1 96.2L586 97.6L583.6 97.1L581.7 96.9L579.1 96.5L576.6 96.4L574 96.6L571.4 96.6L568.9 96.2L567.1 95.8L565.4 95.3L562.9 94.5L562.6 92.8L562.2 90.2L561.1 89.3L559.4 88.5L558 89.4L557.3 91.1L557.7 93.2L557.6 94.5L556 95.6M647.7 107.4L646 107.2L644.3 105.9L643.4 104L643.4 102.6L644.3 100.7L646 101.4L647.8 102.2L649.5 103.1L650.6 104.8L649.7 106.5L648 107.4M592 121.2L589.4 121.4L586.9 121.4L584.3 121.4L581.7 121.2L580 121L577.4 120.6L575.7 120.1L574 119.1L573 117.6L574 116.7L575.7 115.9L578.2 115.1L580 114.6L582.5 114.2L584.3 114L586.9 113.6L588.6 113.1L590.1 111.6L591.3 110.8L593.7 110.5L595.4 111.5L597.1 112.2L599.7 112.2L602.3 112.4L604 112.7L606.2 113.4L607.9 114.2L609.1 115.7L609.1 116.8L606.8 117.6L605.7 117.6L603.1 117.4L600.6 117.1L598 117.5L596.3 118.5L595.4 119.4L593.7 120.7L592 121.2M650.3 125L647.7 125.1L646 124.2L645.1 122.8L644.9 120.2L646 118.5L647.4 117.6L649.4 117.4L651.1 118.2L652.2 119.4L652.7 121.9L652 123.7L650.3 125M625.4 121.2L623.3 121.1L622.6 119.4L624.6 118.5L626.3 119.4L625.6 121.1M556 129.5L557.7 129.7L559.5 129.6L562 129.4L564.6 129.5L567.1 129.5L568.9 128.8L570.6 127.6L573.1 127.8L574.9 128.6L576.6 129L579.1 129.2L581.7 129.3L583.4 129.7L585.1 130.6L586.9 132L588.6 132.6L590.5 132.2L592 131.2L593.7 130.5L596.3 130.4L598 130.8L599.7 131.4L601.4 132.6L601.8 134.8L600.4 135.6L598.5 136.5L597 137.4L595.4 138.8L594.9 140.8L595.9 142.5L597.1 143.5L598.9 144.3L601.4 144.9L604 144.8L605.7 144.2L606.6 144.9L606.1 146.8L606.8 148.5L607.2 151.1L606.5 152.8L605.1 154.5L604.8 156.2L606.6 157L608.3 157.3L610.9 157.4L613.4 157.1L615.1 156.7L616.9 156.2L619.4 155.4L621.1 154.9L623.7 154.5L625.4 154.3L627.1 153.4L628.1 151.9L628.9 149.6L629.3 147.6L630.5 145.9L631.5 145.1L633.1 143.6L634.5 142.5L635.7 141.5L637.4 140.1L638.6 139.1L640 137.9L641.5 136.5L642.6 135.6L644.3 134.4L646 133.7L648.6 133.4L650.7 133.1L652.6 132.2L653.7 130.9L654.4 128.8L654.9 127.1L656 125.4L657.1 123.9L658 122.6M589.7 140.8L588.9 139.1L586.9 138.9L585.5 139.9L586.9 141.5L589.4 141M627.1 146L624.6 146.7L622 146.4L620.6 145.1L621.1 143.1L622.9 142.1L625.4 142.2L627.1 143.2L627.9 145.1M658 100.8L656.3 99.8L654.6 99.1L652.9 98.5L650.3 98L647.7 98L645.1 98.2L642.8 97.9L640.9 97.7L638.3 97.5L635.7 97.2L634 96.9L631.4 96.4L629.7 96L628 96.3L626.1 97.1L623.7 97.8L622 98.2L619.8 98.8L617.7 99.2L615.7 99.6L613.4 100L610.9 100.4L608.3 100.3L606.6 99.6L604.9 98.5L603.1 97.5L601.4 96.2L600.5 95.4L598.9 94.1L597.1 93.6L594.6 93L592.9 91.9L595.4 91.5L598 91.2L599.7 91L602.3 90.8L604.9 90.6L606.6 90L608.3 88.7L609.7 87.6L610.9 86.7L612.6 85.7L614.3 86.2L616 86.9L617.7 88.2L618.6 89.4L620.3 90.7L622 91.3L623.7 92.1L625.4 93L628 93.5L629.7 92.6L630.2 90.2L628.8 89.4L626.3 89.2L624.6 89.4L622.9 89.3L621.1 87.8L620.3 86.5L619.4 84.7L618.8 82.5L618.1 80.8L616.9 79.4L615.1 78.2L613.4 77.4L611.7 76.7L610 76L608 75.6L605.7 75.6L604 76L602.3 76.8L600.6 77.9L599.2 79.1L598 80.2L596.8 81.6L595.6 83.4L594.6 84.7L593.6 85.9L592.3 87.6L591.3 89.4L590.9 91.1L589.4 92.3L587.7 93.3L586 94.4L584.3 95.2L582.6 95.4L580 95.5L577.4 95.5L574.9 95.6L572.3 95.6L570.1 95.4L568 94.9L566.3 94.4L564.4 93.6L563.7 91.9L562.9 90.1L561.2 88.5L560.5 86.8L559.4 85.7L557.7 86.1L556.7 87.6L556.5 90.2L556 92.5M608.3 82.8L605.7 83.3L603.8 82.5L604.6 80.8L606.6 80.2L608.3 80.8L608.3 82.8M599.7 86.1L598.2 85.1L599.9 85.1M596.3 107.4L593.7 107.5L592 107.1L589.4 106.6L586.9 107.2L585.1 107.7L582.6 108L580 107.6L578.3 106.6L577.2 105.6L577.6 103.9L579.6 103.1L581.7 102.5L583.4 102.1L586 101.7L588.6 101.5L591.1 101.6L593.7 101.9L595.4 102.2L598 102.8L599.7 103.6L600.2 105.6L598.9 106.6L596.4 107.4M648.6 106.7L646 106.8L644.5 105.6L643.9 103.9L644.6 102.2L646.9 102.2L648.6 103L649.7 103.9L649.4 105.9M592.9 120.3L590.3 120.8L587.7 120.9L585.1 120.9L582.6 120.8L580 120.5L578.1 120.2L575.7 119.5L574.3 118.5L574.9 116.8L576.7 115.9L579.1 115.2L580.9 114.8L583.4 114.5L586 114.2L587.7 114L589.6 113.4L591.1 111.8L592.9 111.4L594.6 112.3L596.3 113.2L598 113.4L600.6 113.6L603.1 114L604.9 114.6L606 115.9L604 116.6L601.4 116.6L598.9 116.7L597.1 117.3L595.6 118.5L594.6 119.4L592.9 120.3M650.3 123.9L647.7 124.2L646 123.1L645.3 121.1L646 119.1L647.7 117.9L650.3 118.3L651.4 119.4L651.8 121.9L650.6 123.6M624.6 120.5L623.7 119.6L625.1 119.4M556 131.1L558.6 130.6L560.3 130.1L562.9 129.8L565.4 130L568 130.1L569.7 129.4L572.3 128.9L574.9 129.6L576.6 129.9L579.1 130L581.7 130.2L583.4 130.7L585.1 131.9L586.6 133.1L588.6 133.9L591.1 133.4L592.9 132.5L594.6 132L596.7 132.2L598 133.1L598 134.8L596.3 136.2L594.7 137.4L593.6 138.2L592 139.4L590.3 138.6L588.6 138.1L586.9 138.2L585 139.1L584.9 141.6L586.9 142.4L589.4 142.2L591.1 141.5L592.9 141.8L594.5 143.4L595.7 144.2L597.2 145.1L599.4 145.9L601.4 146.6L603.1 147.4L604.3 148.5L605 150.2L604.6 151.9L603.1 153.3L601.4 154L599.1 154.5L597.7 155.4L598.4 157.1L599.7 157.9L601.8 158.8L604 159.5L605.7 160.1L608.3 160.4L610.9 160L612.9 159.6L615.1 159.2L616.9 158.7L618.8 157.9L620.3 157L622 155.7L623.7 155.3L626.3 155L628 153.8L628.9 152.5L629.7 150.9L630.7 149.4L632.3 147.6L634 146.9L635.7 146L636.2 144.2L637.4 143L639.1 141.6L640.2 140.8L641.7 139.6L643.4 138.4L645 137.4L646.4 136.5L648.1 135.6L650.3 134.9L652 134.3L653.7 133.4L655.2 132.2L656.3 130.8L657.1 129.5M574.1 136.5L573.6 134.8L571.4 134.4L570.1 135.6L571.4 137.3L574 136.6M567.9 139.9L568 138.2L566.3 137.8L564.5 138.2L564.6 140.1L567.1 140.3M625.4 145.3L622.9 145.6L621.8 144.2L622.9 143.2L625 143.4L625.6 145.1M590.4 70.5L591 73.1L590.3 74.8L589.4 76.7L588.6 78.4L587.6 79.9L586.2 81.6L585.1 82.5L583.4 83.8L581.8 85.1L580.9 86L579.1 87.3L577.4 88.4L575.8 89.4L574.6 90.2L572.6 91.1L571 91.1L568.9 90.4L567.1 89.5L566.3 88.5L565.4 86.8L565.6 85.1L566.2 82.5L565.4 80.6L562.9 80.1L560.9 80.8L559.1 81.6L557 82.5M658 84.7L655.4 84.9L653.7 85.1L651.1 85.8L649.4 86.5L647.9 87.6L646.9 89.2L645.6 90.2L643.4 90.8L640.9 90.7L639 90.2L637 89.4L635.6 88.5L634 87.4L632.3 86.2L630.7 85.1L629.7 84.1L628.3 82.5L627.1 80.9L626.3 79.6L625.4 78.2L624.5 76.5L623.7 74.8L623.2 72.2M586 105.7L583.4 106L581.7 105.2L582.6 104.4L584.6 103.9L586.1 103.9L586.9 105.1M591.1 118.5L588.6 118.9L586 119.1L583.4 119.1L580.9 118.8L579.1 118.1L579.6 116.8L581.7 116.2L583.6 115.9L586 115.8L588.6 115.8L591.1 115.9L592.9 116.4L592.9 117.6L591.1 118.5M649.4 121.2L647.4 121.1L648.6 119.7L649.5 121.1M556 148.1L557 146.8L558.1 145.1L559.4 143.6L561.1 142.9L563.7 143.3L565.4 143.7L567.4 144.2L568.9 145.1L570.6 146.7L571.4 147.8L572.5 149.4L573.6 151.1L574.7 152.8L575.7 154.5L576.6 155.8L577.6 157.1L579.1 158.6L580.5 159.6L581.9 160.5L583.6 161.4L585.6 162.2L587.7 163L589.4 163.7L591.1 164.2L593.7 164.5L596.3 164.7L598 165L600.1 165.6L601.9 166.5L604 167.4L605.7 167.8L608.3 167.8L610.5 167.4L612.6 166.8L614.3 166.3L616.9 165.7L618.6 165.2L620.3 164.5L622 163.6L623.7 162.7L625.4 161.9L627.1 161L628.9 160L630.5 158.8L631.4 157.9L633.1 156.2L634 155.3L635.7 153.6L636.7 152.8L638.3 151.4L639.8 150.2L640.9 149.4L642.6 148.2L644.3 147.1L646 146.1L647.7 145.2L649.4 144.4L651.1 143.6L652.9 142.9L655.4 143.2L657.1 143.7M556 171.9L558.3 171.6L559.4 169.9L558.3 168.2L556 167.7M580.7 70.5L580.5 73.1L581.7 74.5L583.3 75.6L583.6 77.4L582.6 79.1L581.7 80L580 81.5L578.6 82.5L577.3 83.4L575.7 84.2L573.4 85.1L571.4 85.5L569.7 84.2L569.1 82.5L568.8 80.8L569.7 79.8L572.3 79.4L573.7 78.2L573.1 76.4L570.6 75.9L568.9 76.8L568 78.4L565.4 78.3L563.7 77.9L561.1 77.5L559.4 76.9L557.7 75.6L556.7 74.8M658 73.2L656.3 74.8L655.4 75.8L654.6 77.4L653.7 79.7L652.9 81.2L651.6 82.5L650.3 83.4L648.6 84.3L646.5 85.1L644.3 85.9L642.6 86L640.9 85.5L639.1 84.8L637.4 83.9L636 82.5L634.9 81.3L633.1 80.5L631.5 79.1L630.6 78.1L629.2 76.5L628.7 74.8L629.4 73.1L630.6 71.5M639.4 80.8L640.3 79.1L639.1 77.7L637.4 78.3L636.6 79.9L637.4 81.1L639.4 80.8M562.9 152L560.3 152.2L558.9 151.1L560.1 149.4L562 148.7L564 149.4L563.7 151.6M629.7 172.5L627.7 171.6L625.4 171.1L623.7 170.6L622.3 169.1L622.8 166.5L623.8 165.6L625.4 164.8L628 163.9L629.7 163.6L631.6 163.1L633.3 162.2L634.9 161L636.5 159.6L637.5 158.8L639.1 157.4L640.5 156.2L641.7 155.1L643.4 153.6L644.6 152.8L646 151.9L647.7 150.9L650.3 150.9L651.9 151.9L653.2 152.8L654.6 153.7L655.9 155.4L655.7 157.9L657.1 159.2M644.8 159.6L644.2 158.8L644.8 159.6M633.4 171.6L635.3 170.8L636.1 169.1L634.9 167.4L633.1 167.1L631.4 167.8L630.3 169.1L630.6 171.5L632.3 171.9M567.1 171.9L564.6 172.2L563.1 170.8L563.7 168.6L565.4 168.1L567.1 168.5L568.4 169.9L567.6 171.6M649 170.8L649.4 169.8L647.7 168.5L645.6 169.1L645.1 170L646.9 171.4L649 170.8" stroke="#222" stroke-width="0.5" fill="none"/><path d="M598.3 166.5h0.01M604 166.1h0.01M613.5 167.2h0.01M619.4 166.5h0.01M582.1 161.8h0.01M587.1 159.5h0.01M595.7 158.4h0.01M603.3 160.7h0.01M608.4 159.5h0.01M615.2 159.4h0.01M621.9 160.8h0.01M627.4 158.6h0.01M579.1 155.6h0.01M586.7 156.1h0.01M593.2 156.4h0.01M599.7 156.3h0.01M603.9 155.8h0.01M610.9 154.6h0.01M619 154.7h0.01M625.7 155.6h0.01M632.3 154.1h0.01M638.7 156h0.01M568.3 149.7h0.01M575.1 147.5h0.01M581.3 150.5h0.01M588.8 148.8h0.01M595.5 150.4h0.01M601.6 149.8h0.01M610 150.4h0.01M615.6 150.1h0.01M622.6 149h0.01M627.4 147h0.01M635.8 149.9h0.01M641.3 149.7h0.01M566 143.1h0.01M572.6 143.2h0.01M577.6 144.4h0.01M584.8 143.5h0.01M592.9 145.2h0.01M598.9 142.9h0.01M606.7 144.8h0.01M612.9 143.3h0.01M618.5 141.7h0.01M624.5 143.9h0.01M632.7 143.4h0.01M638.7 142.3h0.01M647 142.7h0.01M563.7 137.9h0.01M568.1 135.7h0.01M574.9 135.6h0.01M582.4 137.7h0.01M589 136.9h0.01M595.3 136h0.01M603 137.7h0.01M608.5 137.6h0.01M615.7 136h0.01M623.3 139.5h0.01M630.5 140.3h0.01M637.1 139.8h0.01M642.2 137.1h0.01M648.8 139h0.01M567.2 133.9h0.01M571.1 130.7h0.01M578.3 131.9h0.01M586.7 132.2h0.01M592.7 132h0.01M599.3 130.9h0.01M606.7 131.8h0.01M613.3 132.7h0.01M618.2 133.1h0.01M626.4 130.5h0.01M632.3 134.1h0.01M638.4 131.6h0.01M645.8 132h0.01M653.1 131.2h0.01M561.3 125.9h0.01M568.5 126.1h0.01M577.2 124.5h0.01M583.2 126.9h0.01M588.8 125.8h0.01M594.8 126.4h0.01M603 125.4h0.01M608.7 126h0.01M617.1 126h0.01M620.5 126.1h0.01M629.2 126.8h0.01M635.6 127.9h0.01M643.5 125.9h0.01M648.3 126.1h0.01M566.1 121.5h0.01M569.9 123.5h0.01M581.3 121.7h0.01M585.5 120h0.01M592.1 119.4h0.01M598.1 120h0.01M603.6 119.9h0.01M613.1 120.2h0.01M619.3 120.3h0.01M626.5 119.6h0.01M631.3 119.5h0.01M637.9 120.4h0.01M645.2 120.1h0.01M651.8 120.2h0.01M562.1 115.8h0.01M570.3 114.2h0.01M576.4 113.8h0.01M581.4 113.9h0.01M588.1 114.4h0.01M595.6 114.5h0.01M603.1 114.8h0.01M608.1 113.9h0.01M616.9 114.1h0.01M623.4 116.6h0.01M629 114.9h0.01M633.6 114.7h0.01M642.2 116.4h0.01M648 114.7h0.01M566.6 108.3h0.01M571.4 110.1h0.01M578.7 109.1h0.01M585.2 109.2h0.01M593.2 108.4h0.01M599.2 110.2h0.01M605.2 108.5h0.01M613.2 108h0.01M617.9 109.5h0.01M624.4 112.1h0.01M631.1 110.9h0.01M640.3 108.6h0.01M644.9 109h0.01M652.6 107.3h0.01M570.1 101.7h0.01M576.4 102h0.01M584 102.3h0.01M589.2 102.2h0.01M595.4 101.8h0.01M602.1 104h0.01M611 103.7h0.01M615.8 104.4h0.01M621.6 103.6h0.01M627.9 102h0.01M634.8 104.6h0.01M643.3 102.6h0.01M646.5 103.9h0.01M573.6 98.3h0.01M578.9 97.8h0.01M583.5 98.4h0.01M593.3 96h0.01M599 97.6h0.01M606.3 97.3h0.01M612.9 98.4h0.01M619 97h0.01M626.2 99.1h0.01M633.1 97.4h0.01M639.1 99.3h0.01M645.6 99.1h0.01M573.3 91.6h0.01M582.5 91.7h0.01M589.4 91.7h0.01M596.9 90.9h0.01M604.1 89.1h0.01M609.9 90.9h0.01M617.6 92.6h0.01M622 91.4h0.01M627.4 90.7h0.01M637.2 93h0.01M641.4 90.8h0.01M580.6 87.6h0.01M586.4 86.2h0.01M590.6 86.4h0.01M598.5 85.9h0.01M605.8 86.2h0.01M612.2 86.1h0.01M619.5 85h0.01M626.6 86.9h0.01M631.4 86.7h0.01M590.6 79.7h0.01M595 81.4h0.01M601.4 80.2h0.01M607.9 80.2h0.01M617 80.5h0.01M623.2 81.8h0.01M629.3 79.9h0.01M604.8 73h0.01M612.3 75.1h0.01" stroke="#222" stroke-width="0.9" stroke-linecap="round"/></g><circle cx="607" cy="121.5" r="51" fill="none" stroke="#222" stroke-width="0.8"/><path d="M597.6 71.3L607 62.3L616.4 71.3" fill="none" stroke="#222" stroke-width="0.8"/><path d="M556.3 113.6C550.1 111.6 549.6 115.6 550.1 121.5C550.1 129.4 549.6 137.3 556.3 135.4" fill="#fff" stroke="#222" stroke-width="0.8"/><path d="M657.7 113.6C663.9 111.6 664.4 115.6 663.9 121.5C663.9 129.4 664.4 137.3 657.7 135.4" fill="#fff" stroke="#222" stroke-width="0.8"/><linearGradient id="grb507" x1="0" y1="0" x2="0" y2="1"><stop offset="0%" stop-color="#921822"/><stop offset="7.5%" stop-color="#b21c26"/><stop offset="22.5%" stop-color="#e8222a"/><stop offset="30%" stop-color="#ee5c5e"/><stop offset="41%" stop-color="#f6babe"/><stop offset="50%" stop-color="#ffffff"/><stop offset="59%" stop-color="#c0d8ee"/><stop offset="77%" stop-color="#4a86c8"/><stop offset="92.5%" stop-color="#2a3e92"/><stop offset="100%" stop-color="#242c78"/></linearGradient><rect x="507" y="72.2" width="7.4" height="89.7" fill="url(#grb507)" stroke="#333" stroke-width="0.6"/><path d="M514.4 75.8h-1.5M514.4 84h-1.5M514.4 92.1h-1.5M514.4 100.2h-1.5M514.4 108.4h-1.5M514.4 116.5h-1.5M514.4 124.7h-1.5M514.4 132.8h-1.5M514.4 141h-1.5M514.4 149.2h-1.5M514.4 157.3h-1.5" stroke="#333" stroke-width="0.6"/><text x="517.4" y="78.2" font-size="7" text-anchor="start" fill="#2a2a2a" font-weight="normal" font-style="normal" >1000</text><text x="517.4" y="95.2" font-size="7" text-anchor="start" fill="#2a2a2a" font-weight="normal" font-style="normal" >600</text><text x="517.4" y="111.2" font-size="7" text-anchor="start" fill="#2a2a2a" font-weight="normal" font-style="normal" >200</text><text x="517.4" y="127.7" font-size="7" text-anchor="start" fill="#2a2a2a" font-weight="normal" font-style="normal" >-200</text><text x="517.4" y="143.7" font-size="7" text-anchor="start" fill="#2a2a2a" font-weight="normal" font-style="normal" >-600</text><text x="517.4" y="159.7" font-size="7" text-anchor="start" fill="#2a2a2a" font-weight="normal" font-style="normal" >-1000</text><linearGradient id="grb671" x1="0" y1="0" x2="0" y2="1"><stop offset="0%" stop-color="#921822"/><stop offset="7.5%" stop-color="#b21c26"/><stop offset="22.5%" stop-color="#e8222a"/><stop offset="30%" stop-color="#ee5c5e"/><stop offset="41%" stop-color="#f6babe"/><stop offset="50%" stop-color="#ffffff"/><stop offset="59%" stop-color="#c0d8ee"/><stop offset="77%" stop-color="#4a86c8"/><stop offset="92.5%" stop-color="#2a3e92"/><stop offset="100%" stop-color="#242c78"/></linearGradient><rect x="671.2" y="70.9" width="7.6" height="92.5" fill="url(#grb671)" stroke="#333" stroke-width="0.6"/><path d="M678.8 75h-1.5M678.8 95.6h-1.5M678.8 117h-1.5M678.8 138h-1.5M678.8 159h-1.5" stroke="#333" stroke-width="0.6"/><text x="681.8" y="77.4" font-size="7" text-anchor="start" fill="#2a2a2a" font-weight="normal" font-style="normal" >20</text><text x="681.8" y="98" font-size="7" text-anchor="start" fill="#2a2a2a" font-weight="normal" font-style="normal" >10</text><text x="681.8" y="119.4" font-size="7" text-anchor="start" fill="#2a2a2a" font-weight="normal" font-style="normal" >0</text><text x="681.8" y="140.4" font-size="7" text-anchor="start" fill="#2a2a2a" font-weight="normal" font-style="normal" >-10</text><text x="681.8" y="161.4" font-size="7" text-anchor="start" fill="#2a2a2a" font-weight="normal" font-style="normal" >-20</text><rect x="46.2" y="322.2" width="141.7" height="127.2" fill="#079ccf"/><path d="M52.2 322.2h2v2h-2zM108.1 326.2h2v2h-2zM171.9 328.2h2v2h-2zM76.1 330.1h2v2h-2zM156 342.1h2v2h-2zM173.9 350h2v2h-2zM108.1 356h2v2h-2zM169.9 358h2v2h-2zM102.1 371.9h2v2h-2zM146 377.8h2v2h-2zM165.9 377.8h2v2h-2zM167.9 393.8h2v2h-2zM118 407.7h2v2h-2zM56.2 415.6h2v2h-2zM130 425.5h2v2h-2zM114.1 433.5h2v2h-2zM158 439.5h2v2h-2zM124 443.4h2v2h-2z" fill="#1485d4"/><path d="M110.1 324.2h2v2h-2zM173.9 365.9h2v2h-2zM152 377.8h2v2h-2zM68.2 403.7h2v2h-2zM100.1 409.6h2v2h-2zM150 439.5h2v2h-2zM152 441.4h2v2h-2z" fill="#1079da"/><path d="M160 324.2h2v2h-2zM165.9 324.2h2v2h-2zM169.9 324.2h2v2h-2zM164 326.2h2v2h-2zM162 328.2h4v2h-4zM64.2 330.1h2v2h-2zM177.9 330.1h2v2h-2zM158 332.1h4v2h-4zM165.9 332.1h2v2h-2zM177.9 332.1h4v2h-4zM66.2 334.1h2v2h-2zM156 334.1h4v2h-4zM179.9 334.1h4v2h-4zM154 336.1h2v2h-2zM177.9 336.1h2v2h-2zM152 338.1h4v2h-4zM150 340.1h2v2h-2zM171.9 340.1h2v2h-2zM183.9 340.1h2v2h-2zM150 342.1h2v2h-2zM154 344.1h2v2h-2zM177.9 344.1h2v2h-2zM120 346.1h2v2h-2zM169.9 346.1h2v2h-2zM173.9 346.1h4v2h-4zM179.9 346.1h2v2h-2zM144 348h2v2h-2zM169.9 348h4v2h-4zM48.2 350h2v2h-2zM134 350h2v2h-2zM142 350h2v2h-2zM148 350h2v2h-2zM154 350h2v2h-2zM160 350h2v2h-2zM169.9 350h2v2h-2zM140 352h2v2h-2zM165.9 352h4v2h-4zM138 354h2v2h-2zM162 354h4v2h-4zM74.1 356h2v2h-2zM162 356h2v2h-2zM136 358h2v2h-2zM134 360h2v2h-2zM154 360h4v2h-4zM64.2 361.9h2v2h-2zM132 361.9h2v2h-2zM146 361.9h2v2h-2zM152 361.9h4v2h-4zM130 363.9h2v2h-2zM134 365.9h2v2h-2zM140 365.9h2v2h-2zM148 365.9h2v2h-2zM112.1 367.9h2v2h-2zM142 367.9h4v2h-4zM142 369.9h2v2h-2zM96.1 371.9h2v2h-2zM104.1 371.9h2v2h-2zM114.1 371.9h2v2h-2zM136 371.9h2v2h-2zM104.1 373.9h2v2h-2zM80.1 375.9h2v2h-2zM96.1 375.9h2v2h-2zM126 377.8h2v2h-2zM120 379.8h4v2h-4zM126 379.8h2v2h-2zM167.9 379.8h2v2h-2zM120 381.8h2v2h-2zM112.1 383.8h2v2h-2zM110.1 385.8h2v2h-2zM116.1 385.8h2v2h-2zM80.1 387.8h2v2h-2zM96.1 387.8h2v2h-2zM108.1 387.8h2v2h-2zM114.1 387.8h2v2h-2zM140 387.8h2v2h-2zM169.9 387.8h2v2h-2zM112.1 389.8h2v2h-2zM128 389.8h2v2h-2zM96.1 391.8h2v2h-2zM110.1 391.8h2v2h-2zM130 391.8h2v2h-2zM78.1 395.7h2v2h-2zM108.1 395.7h2v2h-2zM154 395.7h2v2h-2zM179.9 395.7h2v2h-2zM102.1 397.7h2v2h-2zM106.1 397.7h2v2h-2zM96.1 401.7h4v2h-4zM74.1 403.7h2v2h-2zM90.1 403.7h2v2h-2zM104.1 403.7h2v2h-2zM130 403.7h2v2h-2zM88.1 405.7h2v2h-2zM104.1 405.7h2v2h-2zM130 405.7h2v2h-2zM92.1 407.7h2v2h-2zM112.1 407.7h2v2h-2zM122 407.7h2v2h-2zM64.2 409.6h2v2h-2zM78.1 409.6h6v2h-6zM94.1 409.6h2v2h-2zM114.1 409.6h2v2h-2zM179.9 409.6h2v2h-2zM76.1 411.6h2v2h-2zM74.1 413.6h2v2h-2zM80.1 413.6h2v2h-2zM92.1 413.6h2v2h-2zM112.1 415.6h2v2h-2zM96.1 417.6h2v2h-2zM72.1 419.6h2v2h-2zM78.1 421.6h2v2h-2zM86.1 421.6h2v2h-2zM112.1 421.6h2v2h-2zM88.1 431.5h2v2h-2zM84.1 447.4h2v2h-2z" fill="#06a7c6"/><path d="M167.9 324.2h2v2h-2zM160 330.1h6v2h-6zM169.9 332.1h2v2h-2zM160 334.1h2v2h-2zM169.9 334.1h2v2h-2zM177.9 334.1h2v2h-2zM169.9 336.1h2v2h-2zM169.9 338.1h2v2h-2zM181.9 338.1h2v2h-2zM169.9 340.1h2v2h-2zM181.9 340.1h2v2h-2zM152 342.1h2v2h-2zM165.9 342.1h2v2h-2zM179.9 342.1h2v2h-2zM158 344.1h4v2h-4zM164 344.1h2v2h-2zM167.9 344.1h2v2h-2zM146 346.1h2v2h-2zM160 346.1h2v2h-2zM171.9 346.1h2v2h-2zM154 352h2v2h-2zM140 354h2v2h-2zM146 354h2v2h-2zM150 354h2v2h-2zM154 354h2v2h-2zM136 356h4v2h-4zM158 356h4v2h-4zM142 358h4v2h-4zM148 358h2v2h-2zM106.1 360h2v2h-2zM136 360h2v2h-2zM144 361.9h2v2h-2zM132 363.9h2v2h-2zM142 363.9h2v2h-2zM144 365.9h4v2h-4zM130 367.9h2v2h-2zM80.1 371.9h2v2h-2zM88.1 371.9h2v2h-2zM112.1 371.9h2v2h-2zM138 371.9h2v2h-2zM90.1 373.9h2v2h-2zM94.1 373.9h2v2h-2zM122 373.9h2v2h-2zM78.1 375.9h2v2h-2zM94.1 375.9h2v2h-2zM112.1 375.9h2v2h-2zM183.9 375.9h2v2h-2zM106.1 377.8h2v2h-2zM98.1 379.8h2v2h-2zM78.1 387.8h2v2h-2zM116.1 387.8h2v2h-2zM122 387.8h2v2h-2zM72.1 389.8h2v2h-2zM110.1 389.8h2v2h-2zM72.1 391.8h2v2h-2zM80.1 391.8h2v2h-2zM112.1 391.8h2v2h-2zM72.1 403.7h2v2h-2zM76.1 403.7h2v2h-2zM80.1 403.7h2v2h-2zM106.1 407.7h2v2h-2zM88.1 409.6h2v2h-2zM92.1 409.6h2v2h-2zM84.1 415.6h2v2h-2zM88.1 415.6h2v2h-2zM112.1 417.6h2v2h-2zM140 417.6h2v2h-2zM90.1 419.6h2v2h-2zM94.1 419.6h2v2h-2zM82.1 421.6h2v2h-2zM78.1 423.6h2v2h-2zM62.2 443.4h2v2h-2z" fill="#07a9c2"/><path d="M165.9 326.2h2v2h-2zM162 332.1h2v2h-2zM158 336.1h2v2h-2zM156 338.1h2v2h-2zM177.9 342.1h2v2h-2zM150 346.1h2v2h-2zM146 348h2v2h-2zM167.9 348h2v2h-2zM164 350h2v2h-2zM142 354h2v2h-2zM142 356h2v2h-2zM173.9 358h2v2h-2zM136 361.9h2v2h-2zM108.1 363.9h2v2h-2zM50.2 365.9h2v2h-2zM126 365.9h2v2h-2zM142 365.9h2v2h-2zM72.1 371.9h2v2h-2zM124 371.9h2v2h-2zM134 371.9h2v2h-2zM76.1 373.9h2v2h-2zM130 373.9h2v2h-2zM110.1 375.9h2v2h-2zM177.9 377.8h2v2h-2zM118 379.8h2v2h-2zM114.1 383.8h2v2h-2zM162 385.8h2v2h-2zM128 387.8h2v2h-2zM76.1 389.8h2v2h-2zM122 389.8h2v2h-2zM90.1 391.8h2v2h-2zM106.1 391.8h2v2h-2zM122 391.8h2v2h-2zM96.1 399.7h2v2h-2zM146 401.7h2v2h-2zM78.1 403.7h2v2h-2zM98.1 403.7h2v2h-2zM128 403.7h2v2h-2zM74.1 407.7h2v2h-2zM94.1 407.7h2v2h-2zM110.1 407.7h2v2h-2zM84.1 409.6h2v2h-2zM78.1 411.6h2v2h-2zM90.1 411.6h2v2h-2zM74.1 417.6h2v2h-2zM86.1 417.6h2v2h-2zM126 419.6h2v2h-2zM94.1 421.6h2v2h-2zM158 421.6h2v2h-2zM156 429.5h2v2h-2z" fill="#0faeb9"/><path d="M167.9 326.2h2v2h-2zM160 336.1h2v2h-2zM179.9 336.1h2v2h-2zM175.9 340.1h2v2h-2zM148 346.1h2v2h-2zM165.9 346.1h2v2h-2zM181.9 346.1h2v2h-2zM138 358h2v2h-2zM148 361.9h2v2h-2zM177.9 361.9h2v2h-2zM146 363.9h2v2h-2zM72.1 373.9h2v2h-2zM96.1 373.9h2v2h-2zM108.1 375.9h2v2h-2zM120 377.8h2v2h-2zM116.1 381.8h4v2h-4zM138 381.8h2v2h-2zM120 383.8h2v2h-2zM126 387.8h2v2h-2zM80.1 389.8h2v2h-2zM76.1 391.8h2v2h-2zM94.1 391.8h2v2h-2zM98.1 397.7h2v2h-2zM94.1 401.7h2v2h-2zM122 403.7h2v2h-2zM88.1 407.7h2v2h-2zM86.1 409.6h2v2h-2zM106.1 417.6h2v2h-2zM74.1 419.6h2v2h-2zM112.1 419.6h2v2h-2zM72.1 421.6h2v2h-2zM108.1 421.6h2v2h-2zM124 421.6h2v2h-2zM162 445.4h2v2h-2z" fill="#15b1b4"/><path d="M171.9 326.2h2v2h-2zM134 328.2h2v2h-2zM181.9 336.1h2v2h-2zM177.9 340.1h4v2h-4zM173.9 344.1h4v2h-4zM144 350h2v2h-2zM164 352h2v2h-2zM152 360h2v2h-2zM134 361.9h2v2h-2zM150 361.9h2v2h-2zM134 363.9h2v2h-2zM148 363.9h2v2h-2zM162 365.9h2v2h-2zM150 367.9h2v2h-2zM140 369.9h2v2h-2zM106.1 371.9h2v2h-2zM126 371.9h2v2h-2zM90.1 375.9h2v2h-2zM128 377.8h2v2h-2zM124 379.8h2v2h-2zM144 379.8h2v2h-2zM122 381.8h2v2h-2zM118 385.8h2v2h-2zM94.1 387.8h2v2h-2zM96.1 389.8h2v2h-2zM130 389.8h2v2h-2zM100.1 395.7h2v2h-2zM100.1 401.7h2v2h-2zM94.1 403.7h2v2h-2zM112.1 403.7h2v2h-2zM72.1 405.7h2v2h-2zM96.1 405.7h2v2h-2zM108.1 405.7h4v2h-4zM126 405.7h2v2h-2zM86.1 407.7h2v2h-2zM76.1 413.6h2v2h-2zM88.1 413.6h2v2h-2zM78.1 417.6h2v2h-2zM90.1 417.6h2v2h-2zM84.1 419.6h6v2h-6zM80.1 421.6h2v2h-2zM88.1 421.6h2v2h-2zM112.1 437.5h2v2h-2z" fill="#0aacbe"/><path d="M86.1 328.2h2v2h-2zM160 358h2v2h-2zM54.2 381.8h2v2h-2zM70.1 385.8h2v2h-2zM100.1 391.8h2v2h-2zM118 397.7h2v2h-2zM164 399.7h2v2h-2zM134 407.7h2v2h-2zM146 409.6h2v2h-2zM142 431.5h2v2h-2zM183.9 435.5h2v2h-2z" fill="#108ed2"/><path d="M92.1 328.2h2v2h-2zM104.1 330.1h2v2h-2zM46.2 340.1h2v2h-2zM108.1 342.1h2v2h-2zM126 348h2v2h-2zM152 350h2v2h-2zM88.1 356h2v2h-2zM106.1 358h2v2h-2zM114.1 358h2v2h-2zM183.9 365.9h2v2h-2zM58.2 371.9h2v2h-2zM142 393.8h2v2h-2zM183.9 423.6h2v2h-2zM106.1 425.5h2v2h-2zM56.2 431.5h2v2h-2zM66.2 439.5h2v2h-2zM50.2 443.4h2v2h-2z" fill="#1389d3"/><path d="M169.9 328.2h2v2h-2zM173.9 328.2h2v2h-2zM173.9 334.1h2v2h-2zM164 336.1h2v2h-2zM158 338.1h2v2h-2zM173.9 340.1h2v2h-2zM152 346.1h2v2h-2zM167.9 346.1h2v2h-2zM150 350h2v2h-2zM158 352h2v2h-2zM152 354h2v2h-2zM154 356h4v2h-4zM132 365.9h2v2h-2zM132 367.9h2v2h-2zM132 369.9h2v2h-2zM108.1 371.9h2v2h-2zM78.1 389.8h2v2h-2zM126 391.8h2v2h-2zM102.1 395.7h2v2h-2zM126 403.7h2v2h-2zM82.1 411.6h4v2h-4zM78.1 413.6h2v2h-2zM74.1 415.6h2v2h-2zM76.1 419.6h2v2h-2zM74.1 421.6h2v2h-2z" fill="#2eb7a4"/><path d="M165.9 330.1h4v2h-4zM162 334.1h2v2h-2zM171.9 338.1h2v2h-2zM179.9 338.1h2v2h-2zM162 340.1h2v2h-2zM169.9 342.1h2v2h-2zM152 344.1h2v2h-2zM171.9 344.1h2v2h-2zM148 348h6v2h-6zM165.9 348h2v2h-2zM148 352h4v2h-4zM162 352h2v2h-2zM140 358h2v2h-2zM76.1 375.9h2v2h-2zM92.1 375.9h2v2h-2zM122 375.9h2v2h-2zM114.1 385.8h2v2h-2zM110.1 387.8h2v2h-2zM54.2 389.8h2v2h-2zM124 391.8h2v2h-2zM106.1 393.8h2v2h-2zM102.1 399.7h2v2h-2zM96.1 403.7h2v2h-2zM94.1 405.7h2v2h-2zM94.1 417.6h2v2h-2zM110.1 417.6h2v2h-2zM82.1 419.6h2v2h-2zM76.1 421.6h2v2h-2zM90.1 421.6h2v2h-2z" fill="#25b5a9"/><path d="M169.9 330.1h2v2h-2zM173.9 332.1h2v2h-2zM167.9 336.1h2v2h-2zM160 340.1h2v2h-2zM167.9 340.1h2v2h-2zM158 346.1h2v2h-2zM140 361.9h2v2h-2zM110.1 371.9h2v2h-2zM124 375.9h2v2h-2zM92.1 391.8h2v2h-2zM108.1 391.8h2v2h-2zM100.1 397.7h2v2h-2zM110.1 403.7h2v2h-2zM106.1 405.7h2v2h-2zM90.1 409.6h2v2h-2zM86.1 413.6h2v2h-2zM76.1 417.6h2v2h-2zM124 419.6h2v2h-2z" fill="#59bd8c"/><path d="M171.9 330.1h2v2h-2zM164 340.1h2v2h-2zM156 350h2v2h-2zM144 356h2v2h-2zM144 360h2v2h-2zM130 369.9h2v2h-2zM78.1 373.9h2v2h-2zM94.1 389.8h2v2h-2zM82.1 415.6h2v2h-2z" fill="#7cbf7b"/><path d="M173.9 330.1h2v2h-2zM165.9 334.1h2v2h-2zM165.9 336.1h2v2h-2zM160 338.1h2v2h-2zM175.9 338.1h2v2h-2zM158 342.1h2v2h-2zM154 346.1h2v2h-2zM156 348h2v2h-2zM148 354h2v2h-2zM150 356h2v2h-2zM138 361.9h2v2h-2zM144 363.9h2v2h-2zM106.1 373.9h2v2h-2zM122 377.8h2v2h-2zM92.1 405.7h2v2h-2zM124 405.7h2v2h-2zM92.1 417.6h2v2h-2zM108.1 419.6h2v2h-2zM126 421.6h2v2h-2z" fill="#4dbc92"/><path d="M175.9 330.1h2v2h-2zM175.9 334.1h2v2h-2zM175.9 336.1h2v2h-2zM158 340.1h2v2h-2zM171.9 342.1h2v2h-2zM154 348h2v2h-2zM146 352h2v2h-2zM142 360h2v2h-2zM138 363.9h4v2h-4zM128 369.9h2v2h-2zM76.1 371.9h2v2h-2zM90.1 371.9h2v2h-2zM92.1 381.8h2v2h-2zM74.1 391.8h2v2h-2zM104.1 393.8h2v2h-2zM108.1 393.8h2v2h-2zM104.1 395.7h4v2h-4zM98.1 399.7h2v2h-2zM106.1 403.7h2v2h-2zM124 403.7h2v2h-2zM90.1 405.7h2v2h-2zM122 405.7h2v2h-2zM78.1 415.6h2v2h-2zM122 419.6h2v2h-2z" fill="#38b99e"/><path d="M164 332.1h2v2h-2zM177.9 338.1h2v2h-2zM164 348h2v2h-2zM146 350h2v2h-2zM162 350h2v2h-2zM144 352h2v2h-2zM144 354h2v2h-2zM140 356h2v2h-2zM152 356h2v2h-2zM152 358h4v2h-4zM148 360h2v2h-2zM140 367.9h2v2h-2zM78.1 371.9h2v2h-2zM80.1 373.9h2v2h-2zM112.1 373.9h2v2h-2zM116.1 383.8h2v2h-2zM112.1 385.8h2v2h-2zM74.1 387.8h4v2h-4zM124 387.8h2v2h-2zM108.1 389.8h2v2h-2zM183.9 395.7h2v2h-2zM104.1 397.7h2v2h-2zM92.1 403.7h2v2h-2zM112.1 405.7h2v2h-2zM124 407.7h2v2h-2zM80.1 411.6h2v2h-2zM84.1 417.6h2v2h-2zM124 417.6h2v2h-2zM128 417.6h2v2h-2zM88.1 435.5h2v2h-2z" fill="#1db3af"/><path d="M167.9 332.1h2v2h-2zM175.9 332.1h2v2h-2zM173.9 336.1h2v2h-2zM162 338.1h2v2h-2zM164 346.1h2v2h-2zM158 348h2v2h-2zM150 358h2v2h-2zM140 360h2v2h-2zM138 367.9h2v2h-2zM132 371.9h2v2h-2zM112.1 387.8h2v2h-2zM74.1 389.8h2v2h-2zM124 389.8h2v2h-2zM104.1 391.8h2v2h-2zM96.1 397.7h2v2h-2z" fill="#65be86"/><path d="M171.9 332.1h2v2h-2zM167.9 334.1h2v2h-2zM167.9 338.1h2v2h-2zM165.9 340.1h2v2h-2zM156 344.1h2v2h-2zM156 346.1h2v2h-2zM158 350h2v2h-2zM156 352h2v2h-2zM148 356h2v2h-2zM126 369.9h2v2h-2zM92.1 373.9h2v2h-2zM86.1 411.6h2v2h-2zM80.1 419.6h2v2h-2z" fill="#87bf77"/><path d="M142 334.1h2v2h-2zM54.2 395.7h2v2h-2zM76.1 423.6h2v2h-2zM60.2 445.4h2v2h-2z" fill="#1481d6"/><path d="M164 334.1h2v2h-2zM162 336.1h2v2h-2zM162 348h2v2h-2zM138 360h2v2h-2zM136 363.9h2v2h-2zM136 367.9h2v2h-2zM134 369.9h4v2h-4zM92.1 371.9h2v2h-2zM100.1 399.7h2v2h-2zM74.1 405.7h2v2h-2zM88.1 411.6h2v2h-2zM108.1 417.6h2v2h-2zM126 417.6h2v2h-2zM92.1 421.6h2v2h-2z" fill="#42bb98"/><path d="M171.9 334.1h2v2h-2zM162 342.1h2v2h-2zM162 344.1h2v2h-2zM152 352h2v2h-2zM136 365.9h2v2h-2zM110.1 373.9h2v2h-2zM128 375.9h2v2h-2zM124 377.8h2v2h-2zM78.1 405.7h2v2h-2z" fill="#a5be6b"/><path d="M171.9 336.1h2v2h-2zM162 346.1h2v2h-2zM142 361.9h2v2h-2zM74.1 373.9h2v2h-2zM124 373.9h2v2h-2zM90.1 389.8h2v2h-2z" fill="#92bf73"/><path d="M164 338.1h2v2h-2zM160 342.1h2v2h-2zM167.9 342.1h2v2h-2zM165.9 344.1h2v2h-2zM146 356h2v2h-2zM146 358h2v2h-2zM146 360h2v2h-2zM122 367.9h2v2h-2zM108.1 403.7h2v2h-2zM128 405.7h2v2h-2zM90.1 407.7h2v2h-2zM82.1 417.6h2v2h-2zM106.1 419.6h2v2h-2zM128 419.6h2v2h-2z" fill="#71bf80"/><path d="M165.9 338.1h2v2h-2zM160 348h2v2h-2zM134 358h2v2h-2zM138 365.9h2v2h-2zM126 389.8h2v2h-2zM80.1 415.6h2v2h-2z" fill="#9cbf6f"/><path d="M164 342.1h2v2h-2zM134 367.9h2v2h-2zM92.1 389.8h2v2h-2zM92.1 419.6h2v2h-2zM110.1 419.6h2v2h-2z" fill="#aebe67"/><path d="M120 365.9h2v2h-2zM118 383.8h2v2h-2z" fill="#0871de"/><path d="M128 371.9h2v2h-2z" fill="#d1bb59"/><path d="M130 371.9h2v2h-2zM76.1 405.7h2v2h-2z" fill="#c8bc5d"/><path d="M108.1 373.9h2v2h-2z" fill="#d9ba56"/><path d="M126 373.9h2v2h-2z" fill="#f1b94a"/><path d="M128 373.9h2v2h-2z" fill="#e1b952"/><path d="M154 373.9h2v2h-2zM90.1 399.7h2v2h-2zM128 401.7h2v2h-2zM64.2 405.7h2v2h-2zM142 415.6h2v2h-2zM104.1 417.6h2v2h-2zM110.1 431.5h2v2h-2z" fill="#127dd8"/><path d="M62.2 375.9h2v2h-2zM50.2 377.8h2v2h-2zM62.2 405.7h2v2h-2z" fill="#0d75dc"/><path d="M126 375.9h2v2h-2z" fill="#ffc337"/><path d="M106.1 387.8h2v2h-2z" fill="#046de0"/><path d="M114.1 389.8h2v2h-2z" fill="#352a87"/><path d="M82.1 413.6h2v2h-2z" fill="#b7bd64"/><path d="M84.1 413.6h2v2h-2z" fill="#c0bc60"/><path d="M80.1 417.6h2v2h-2z" fill="#e9b94e"/><rect x="46.2" y="322.2" width="141.7" height="127.2" fill="none" stroke="#6a6a6a" stroke-width="0.6"/><path d="M50.8 449.4v-1.8M46.2 445.3h1.8M73.6 449.4v-1.8M46.2 424.7h1.8M96.4 449.4v-1.8M46.2 404.2h1.8M119.2 449.4v-1.8M46.2 383.6h1.8M142 449.4v-1.8M46.2 363.1h1.8M164.8 449.4v-1.8M46.2 342.5h1.8M187.6 449.4v-1.8M46.2 322h1.8" stroke="#222" stroke-width="0.6"/><text x="50.8" y="457.8" font-size="7.2" text-anchor="middle" fill="#2a2a2a" font-weight="normal" font-style="normal" >0</text><text x="43.6" y="447.9" font-size="7.2" text-anchor="end" fill="#2a2a2a" font-weight="normal" font-style="normal" >0</text><text x="73.6" y="457.8" font-size="7.2" text-anchor="middle" fill="#2a2a2a" font-weight="normal" font-style="normal" >0.5</text><text x="43.6" y="427.3" font-size="7.2" text-anchor="end" fill="#2a2a2a" font-weight="normal" font-style="normal" >0.5</text><text x="96.4" y="457.8" font-size="7.2" text-anchor="middle" fill="#2a2a2a" font-weight="normal" font-style="normal" >1</text><text x="43.6" y="406.8" font-size="7.2" text-anchor="end" fill="#2a2a2a" font-weight="normal" font-style="normal" >1</text><text x="119.2" y="457.8" font-size="7.2" text-anchor="middle" fill="#2a2a2a" font-weight="normal" font-style="normal" >1.5</text><text x="43.6" y="386.2" font-size="7.2" text-anchor="end" fill="#2a2a2a" font-weight="normal" font-style="normal" >1.5</text><text x="142" y="457.8" font-size="7.2" text-anchor="middle" fill="#2a2a2a" font-weight="normal" font-style="normal" >2</text><text x="43.6" y="365.7" font-size="7.2" text-anchor="end" fill="#2a2a2a" font-weight="normal" font-style="normal" >2</text><text x="164.8" y="457.8" font-size="7.2" text-anchor="middle" fill="#2a2a2a" font-weight="normal" font-style="normal" >2.5</text><text x="43.6" y="345.1" font-size="7.2" text-anchor="end" fill="#2a2a2a" font-weight="normal" font-style="normal" >2.5</text><text x="187.6" y="457.8" font-size="7.2" text-anchor="middle" fill="#2a2a2a" font-weight="normal" font-style="normal" >3</text><text x="43.6" y="324.6" font-size="7.2" text-anchor="end" fill="#2a2a2a" font-weight="normal" font-style="normal" >3</text><text x="117" y="314" font-size="8.2" text-anchor="middle" fill="#1a1a1a" font-weight="normal" font-style="normal" >Memorised versus Novel T1</text><text x="116.5" y="488.5" font-size="7" text-anchor="middle" fill="#2a2a2a" font-weight="normal" font-style="normal" >Training time (s)</text><path d="M73.2 368.5H71.7V379.7H73.2M73.2 384.4H71.7V395.4H73.2M73.2 398.4H71.7V409.7H73.2M73.2 412.4H71.7V423.8H73.2" stroke="#c8323f" stroke-width="1.15" fill="none"/><ellipse cx="50" cy="471.8" rx="2.3" ry="1.6" transform="rotate(-24 50 471.8)" fill="#111"/><path d="M51.8 471.6V463.6" stroke="#111" stroke-width="0.9" fill="none"/><path d="M51.4 463.6C52.1 465.5 55.1 466.4 54.7 469.7C54.3 467.7 52.9 467.1 51.4 466.8z" fill="#111"/><ellipse cx="66.3" cy="471.8" rx="2.3" ry="1.6" transform="rotate(-24 66.3 471.8)" fill="#111"/><path d="M68.1 471.6V463.6" stroke="#111" stroke-width="0.9" fill="none"/><path d="M67.7 463.6C68.4 465.5 71.4 466.4 71 469.7C70.6 467.7 69.2 467.1 67.7 466.8z" fill="#111"/><path d="M63.5 473.5V475.3H71.5V473.5" stroke="#5ab0d8" stroke-width="0.9" fill="none"/><ellipse cx="82.6" cy="471.8" rx="2.3" ry="1.6" transform="rotate(-24 82.6 471.8)" fill="#111"/><path d="M84.4 471.6V463.6" stroke="#111" stroke-width="0.9" fill="none"/><path d="M84 463.6C84.7 465.5 87.7 466.4 87.3 469.7C86.9 467.7 85.5 467.1 84 466.8z" fill="#111"/><path d="M79.8 473.5V475.3H87.8V473.5" stroke="#5ab0d8" stroke-width="0.9" fill="none"/><ellipse cx="98.9" cy="471.8" rx="2.3" ry="1.6" transform="rotate(-24 98.9 471.8)" fill="#111"/><path d="M100.7 471.6V463.6" stroke="#111" stroke-width="0.9" fill="none"/><path d="M100.3 463.6C101 465.5 104 466.4 103.6 469.7C103.2 467.7 101.8 467.1 100.3 466.8z" fill="#111"/><path d="M96.1 473.5V475.3H104.1V473.5" stroke="#5ab0d8" stroke-width="0.9" fill="none"/><ellipse cx="115.2" cy="471.8" rx="2.3" ry="1.6" transform="rotate(-24 115.2 471.8)" fill="#111"/><path d="M117 471.6V463.6" stroke="#111" stroke-width="0.9" fill="none"/><path d="M116.6 463.6C117.3 465.5 120.3 466.4 119.9 469.7C119.5 467.7 118.1 467.1 116.6 466.8z" fill="#111"/><path d="M112.4 473.5V475.3H120.4V473.5" stroke="#5ab0d8" stroke-width="0.9" fill="none"/><rect x="211.5" y="322.2" width="142.3" height="127.2" fill="#079ccf"/><path d="M319.7 322.2h2v2h-2zM287.7 324.2h2v2h-2zM329.7 328.2h2v2h-2zM253.6 342.1h2v2h-2zM247.6 354h2v2h-2zM327.7 365.9h2v2h-2zM277.6 369.9h2v2h-2zM255.6 375.9h2v2h-2zM267.6 375.9h2v2h-2zM313.7 389.8h2v2h-2zM269.6 391.8h2v2h-2zM321.7 415.6h2v2h-2zM287.7 425.5h2v2h-2zM341.8 429.5h2v2h-2zM281.6 431.5h2v2h-2zM217.5 433.5h2v2h-2zM255.6 435.5h2v2h-2zM283.7 439.5h2v2h-2z" fill="#1389d3"/><path d="M333.8 322.2h2v2h-2zM333.8 326.2h2v2h-2zM331.8 330.1h2v2h-2zM329.7 332.1h2v2h-2zM349.8 334.1h2v2h-2zM325.7 336.1h2v2h-2zM341.8 340.1h2v2h-2zM347.8 346.1h2v2h-2zM329.7 350h2v2h-2zM307.7 352h2v2h-2zM305.7 354h4v2h-4zM299.7 360h2v2h-2zM303.7 371.9h2v2h-2zM265.6 373.9h2v2h-2zM287.7 373.9h2v2h-2zM295.7 377.8h2v2h-2zM289.7 379.8h2v2h-2zM275.6 385.8h2v2h-2zM281.6 387.8h2v2h-2zM261.6 389.8h2v2h-2zM267.6 389.8h2v2h-2zM253.6 391.8h2v2h-2zM265.6 391.8h2v2h-2zM265.6 393.8h2v2h-2zM261.6 397.7h2v2h-2zM257.6 401.7h2v2h-2zM255.6 403.7h2v2h-2zM259.6 403.7h2v2h-2zM265.6 403.7h2v2h-2zM271.6 403.7h2v2h-2zM275.6 403.7h2v2h-2zM243.6 405.7h2v2h-2zM289.7 405.7h4v2h-4zM313.7 405.7h2v2h-2zM221.5 411.6h2v2h-2zM221.5 439.5h2v2h-2z" fill="#0faeb9"/><path d="M335.8 322.2h2v2h-2zM331.8 324.2h4v2h-4zM329.7 326.2h2v2h-2zM347.8 326.2h2v2h-2zM325.7 330.1h2v2h-2zM329.7 330.1h2v2h-2zM323.7 332.1h2v2h-2zM343.8 332.1h4v2h-4zM321.7 334.1h2v2h-2zM319.7 336.1h2v2h-2zM249.6 338.1h2v2h-2zM317.7 338.1h2v2h-2zM337.8 338.1h2v2h-2zM315.7 340.1h4v2h-4zM323.7 340.1h2v2h-2zM313.7 342.1h2v2h-2zM335.8 342.1h2v2h-2zM247.6 344.1h2v2h-2zM311.7 344.1h2v2h-2zM339.8 344.1h4v2h-4zM259.6 346.1h2v2h-2zM309.7 346.1h2v2h-2zM317.7 346.1h2v2h-2zM339.8 346.1h2v2h-2zM337.8 348h2v2h-2zM327.7 352h6v2h-6zM329.7 354h2v2h-2zM319.7 356h2v2h-2zM323.7 356h2v2h-2zM327.7 356h2v2h-2zM349.8 356h2v2h-2zM299.7 358h2v2h-2zM323.7 358h2v2h-2zM297.7 360h2v2h-2zM313.7 360h2v2h-2zM321.7 360h2v2h-2zM317.7 361.9h4v2h-4zM293.7 363.9h4v2h-4zM289.7 365.9h6v2h-6zM297.7 365.9h2v2h-2zM307.7 365.9h2v2h-2zM313.7 365.9h2v2h-2zM267.6 367.9h2v2h-2zM289.7 367.9h4v2h-4zM311.7 367.9h2v2h-2zM247.6 369.9h2v2h-2zM287.7 369.9h2v2h-2zM293.7 369.9h2v2h-2zM305.7 369.9h6v2h-6zM253.6 371.9h2v2h-2zM267.6 371.9h2v2h-2zM285.7 371.9h2v2h-2zM299.7 371.9h2v2h-2zM305.7 371.9h2v2h-2zM255.6 373.9h2v2h-2zM261.6 373.9h2v2h-2zM285.7 373.9h2v2h-2zM303.7 373.9h2v2h-2zM297.7 375.9h6v2h-6zM351.8 375.9h2v2h-2zM277.6 377.8h2v2h-2zM283.7 377.8h2v2h-2zM297.7 377.8h2v2h-2zM285.7 379.8h2v2h-2zM295.7 379.8h2v2h-2zM285.7 381.8h2v2h-2zM289.7 381.8h2v2h-2zM261.6 383.8h2v2h-2zM287.7 383.8h2v2h-2zM261.6 385.8h6v2h-6zM287.7 385.8h6v2h-6zM239.6 387.8h2v2h-2zM255.6 387.8h2v2h-2zM259.6 387.8h2v2h-2zM269.6 387.8h2v2h-2zM279.6 387.8h2v2h-2zM287.7 387.8h2v2h-2zM233.5 389.8h2v2h-2zM251.6 389.8h2v2h-2zM255.6 389.8h2v2h-2zM271.6 389.8h2v2h-2zM283.7 389.8h2v2h-2zM287.7 389.8h2v2h-2zM251.6 391.8h2v2h-2zM287.7 391.8h6v2h-6zM221.5 393.8h2v2h-2zM255.6 393.8h4v2h-4zM261.6 393.8h2v2h-2zM263.6 395.7h2v2h-2zM305.7 395.7h2v2h-2zM221.5 397.7h2v2h-2zM269.6 397.7h4v2h-4zM221.5 399.7h2v2h-2zM267.6 399.7h4v2h-4zM291.7 399.7h2v2h-2zM301.7 399.7h2v2h-2zM305.7 399.7h2v2h-2zM331.8 399.7h2v2h-2zM221.5 401.7h2v2h-2zM289.7 401.7h2v2h-2zM295.7 401.7h2v2h-2zM223.5 403.7h2v2h-2zM277.6 403.7h2v2h-2zM283.7 403.7h2v2h-2zM293.7 403.7h2v2h-2zM301.7 403.7h4v2h-4zM223.5 405.7h2v2h-2zM255.6 405.7h2v2h-2zM275.6 405.7h2v2h-2zM285.7 405.7h2v2h-2zM293.7 405.7h4v2h-4zM223.5 407.7h2v2h-2zM257.6 407.7h2v2h-2zM261.6 407.7h2v2h-2zM267.6 407.7h2v2h-2zM309.7 407.7h2v2h-2zM339.8 407.7h2v2h-2zM223.5 409.6h2v2h-2zM325.7 415.6h2v2h-2zM219.5 417.6h2v2h-2zM223.5 417.6h2v2h-2zM219.5 419.6h2v2h-2zM335.8 419.6h2v2h-2zM219.5 421.6h2v2h-2zM281.6 421.6h2v2h-2zM219.5 423.6h2v2h-2zM219.5 425.5h2v2h-2zM219.5 427.5h2v2h-2zM219.5 429.5h2v2h-2zM219.5 431.5h2v2h-2zM223.5 433.5h2v2h-2zM301.7 435.5h2v2h-2zM325.7 435.5h2v2h-2zM223.5 437.5h2v2h-2zM223.5 439.5h2v2h-2zM223.5 441.4h2v2h-2zM301.7 441.4h2v2h-2zM223.5 443.4h2v2h-2zM221.5 447.4h2v2h-2z" fill="#06a7c6"/><path d="M337.8 322.2h2v2h-2zM313.7 328.2h2v2h-2zM327.7 328.2h2v2h-2zM333.8 328.2h2v2h-2zM321.7 336.1h2v2h-2zM343.8 336.1h2v2h-2zM347.8 336.1h2v2h-2zM319.7 338.1h2v2h-2zM343.8 338.1h6v2h-6zM319.7 340.1h2v2h-2zM315.7 342.1h2v2h-2zM315.7 344.1h2v2h-2zM337.8 344.1h2v2h-2zM335.8 346.1h2v2h-2zM277.6 350h2v2h-2zM307.7 350h2v2h-2zM269.6 354h2v2h-2zM323.7 354h4v2h-4zM305.7 356h2v2h-2zM301.7 360h2v2h-2zM297.7 361.9h2v2h-2zM315.7 361.9h2v2h-2zM313.7 363.9h2v2h-2zM309.7 365.9h2v2h-2zM299.7 367.9h2v2h-2zM259.6 369.9h2v2h-2zM255.6 371.9h2v2h-2zM295.7 371.9h2v2h-2zM257.6 373.9h2v2h-2zM279.6 375.9h2v2h-2zM273.6 377.8h2v2h-2zM249.6 383.8h2v2h-2zM267.6 387.8h2v2h-2zM263.6 391.8h2v2h-2zM273.6 395.7h2v2h-2zM267.6 401.7h2v2h-2zM287.7 401.7h2v2h-2zM221.5 405.7h2v2h-2zM265.6 405.7h2v2h-2zM271.6 405.7h2v2h-2zM269.6 407.7h4v2h-4zM267.6 411.6h2v2h-2zM221.5 415.6h2v2h-2zM221.5 421.6h2v2h-2zM241.6 421.6h2v2h-2zM221.5 423.6h2v2h-2zM273.6 425.5h2v2h-2zM223.5 429.5h2v2h-2zM221.5 435.5h2v2h-2zM221.5 437.5h2v2h-2zM289.7 439.5h2v2h-2zM261.6 443.4h2v2h-2zM289.7 447.4h2v2h-2z" fill="#0aacbe"/><path d="M339.8 322.2h2v2h-2zM335.8 324.2h2v2h-2zM331.8 326.2h2v2h-2zM345.8 328.2h2v2h-2zM327.7 330.1h2v2h-2zM339.8 330.1h4v2h-4zM287.7 332.1h2v2h-2zM335.8 332.1h2v2h-2zM351.8 332.1h2v2h-2zM325.7 334.1h2v2h-2zM351.8 334.1h2v2h-2zM323.7 336.1h2v2h-2zM337.8 336.1h2v2h-2zM349.8 336.1h2v2h-2zM329.7 338.1h4v2h-4zM343.8 340.1h2v2h-2zM343.8 342.1h2v2h-2zM313.7 344.1h2v2h-2zM321.7 344.1h4v2h-4zM327.7 344.1h2v2h-2zM319.7 346.1h2v2h-2zM325.7 346.1h2v2h-2zM317.7 348h2v2h-2zM335.8 348h2v2h-2zM305.7 352h2v2h-2zM313.7 352h2v2h-2zM319.7 352h4v2h-4zM303.7 354h2v2h-2zM301.7 356h4v2h-4zM311.7 356h2v2h-2zM315.7 356h2v2h-2zM325.7 356h2v2h-2zM307.7 358h8v2h-8zM307.7 360h2v2h-2zM311.7 360h2v2h-2zM305.7 361.9h2v2h-2zM303.7 365.9h2v2h-2zM311.7 365.9h2v2h-2zM297.7 367.9h2v2h-2zM301.7 367.9h2v2h-2zM307.7 367.9h2v2h-2zM259.6 371.9h4v2h-4zM293.7 371.9h2v2h-2zM297.7 371.9h2v2h-2zM269.6 373.9h2v2h-2zM289.7 375.9h2v2h-2zM275.6 377.8h2v2h-2zM281.6 379.8h2v2h-2zM293.7 379.8h2v2h-2zM279.6 381.8h2v2h-2zM287.7 381.8h2v2h-2zM263.6 387.8h2v2h-2zM271.6 387.8h2v2h-2zM277.6 387.8h2v2h-2zM289.7 387.8h2v2h-2zM295.7 389.8h2v2h-2zM257.6 391.8h2v2h-2zM267.6 391.8h2v2h-2zM259.6 401.7h2v2h-2zM299.7 401.7h2v2h-2zM263.6 403.7h2v2h-2zM297.7 403.7h4v2h-4zM257.6 405.7h2v2h-2zM263.6 405.7h2v2h-2zM287.7 405.7h2v2h-2zM219.5 407.7h4v2h-4zM259.6 407.7h2v2h-2zM275.6 407.7h2v2h-2zM221.5 409.6h2v2h-2zM221.5 413.6h2v2h-2zM223.5 423.6h2v2h-2zM223.5 425.5h2v2h-2zM223.5 427.5h2v2h-2zM221.5 431.5h4v2h-4zM249.6 431.5h2v2h-2zM319.7 433.5h2v2h-2zM221.5 441.4h2v2h-2zM333.8 441.4h2v2h-2zM221.5 445.4h2v2h-2z" fill="#07a9c2"/><path d="M301.7 324.2h2v2h-2zM269.6 330.1h2v2h-2zM237.6 336.1h2v2h-2zM279.6 348h2v2h-2zM255.6 352h2v2h-2zM281.6 354h2v2h-2zM275.6 356h2v2h-2zM213.5 360h2v2h-2zM217.5 360h2v2h-2zM265.6 363.9h2v2h-2zM243.6 381.8h2v2h-2zM297.7 385.8h2v2h-2zM311.7 399.7h2v2h-2zM339.8 427.5h2v2h-2zM239.6 439.5h2v2h-2zM263.6 441.4h2v2h-2z" fill="#108ed2"/><path d="M337.8 324.2h2v2h-2zM347.8 328.2h2v2h-2zM347.8 330.1h2v2h-2zM339.8 334.1h4v2h-4zM331.8 336.1h4v2h-4zM309.7 361.9h2v2h-2zM309.7 363.9h2v2h-2zM291.7 371.9h2v2h-2zM295.7 373.9h2v2h-2zM283.7 381.8h2v2h-2zM289.7 389.8h2v2h-2zM261.6 391.8h2v2h-2zM273.6 393.8h2v2h-2z" fill="#4dbc92"/><path d="M341.8 324.2h2v2h-2zM335.8 326.2h2v2h-2zM339.8 338.1h2v2h-2zM321.7 342.1h2v2h-2zM339.8 342.1h2v2h-2zM319.7 344.1h2v2h-2zM313.7 346.1h4v2h-4zM275.6 348h2v2h-2zM311.7 348h6v2h-6zM331.8 348h4v2h-4zM309.7 352h2v2h-2zM301.7 358h2v2h-2zM305.7 358h2v2h-2zM319.7 358h2v2h-2zM243.6 363.9h2v2h-2zM299.7 363.9h2v2h-2zM311.7 363.9h2v2h-2zM259.6 373.9h2v2h-2zM263.6 373.9h2v2h-2zM277.6 373.9h2v2h-2zM285.7 375.9h4v2h-4zM293.7 377.8h2v2h-2zM283.7 379.8h2v2h-2zM305.7 381.8h2v2h-2zM285.7 383.8h2v2h-2zM281.6 385.8h4v2h-4zM265.6 387.8h2v2h-2zM285.7 387.8h2v2h-2zM293.7 387.8h2v2h-2zM253.6 389.8h2v2h-2zM259.6 391.8h2v2h-2zM259.6 399.7h2v2h-2zM263.6 399.7h2v2h-2zM303.7 399.7h2v2h-2zM267.6 403.7h2v2h-2zM285.7 403.7h2v2h-2zM213.5 419.6h2v2h-2zM221.5 419.6h4v2h-4zM221.5 425.5h2v2h-2z" fill="#15b1b4"/><path d="M343.8 324.2h2v2h-2zM337.8 326.2h4v2h-4zM331.8 328.2h2v2h-2zM349.8 332.1h2v2h-2zM327.7 336.1h2v2h-2zM345.8 336.1h2v2h-2zM321.7 340.1h2v2h-2zM325.7 340.1h2v2h-2zM335.8 340.1h2v2h-2zM333.8 344.1h2v2h-2zM329.7 346.1h2v2h-2zM333.8 346.1h2v2h-2zM329.7 348h2v2h-2zM323.7 350h6v2h-6zM331.8 350h2v2h-2zM309.7 354h2v2h-2zM321.7 356h2v2h-2zM315.7 360h4v2h-4zM311.7 361.9h2v2h-2zM297.7 363.9h2v2h-2zM295.7 365.9h2v2h-2zM303.7 367.9h4v2h-4zM291.7 369.9h2v2h-2zM265.6 371.9h2v2h-2zM277.6 375.9h2v2h-2zM257.6 387.8h2v2h-2zM279.6 389.8h2v2h-2zM275.6 393.8h2v2h-2zM319.7 393.8h2v2h-2zM265.6 395.7h2v2h-2zM269.6 405.7h2v2h-2z" fill="#1db3af"/><path d="M341.8 326.2h2v2h-2zM335.8 328.2h2v2h-2zM341.8 328.2h2v2h-2zM349.8 330.1h2v2h-2zM339.8 332.1h2v2h-2zM335.8 334.1h2v2h-2zM343.8 334.1h2v2h-2zM341.8 336.1h2v2h-2zM327.7 338.1h2v2h-2zM341.8 338.1h2v2h-2zM317.7 342.1h2v2h-2zM333.8 342.1h2v2h-2zM317.7 344.1h2v2h-2zM329.7 344.1h2v2h-2zM311.7 350h2v2h-2zM303.7 360h2v2h-2zM313.7 361.9h2v2h-2zM299.7 369.9h4v2h-4zM289.7 373.9h2v2h-2zM297.7 373.9h2v2h-2zM281.6 383.8h2v2h-2zM277.6 385.8h2v2h-2zM273.6 387.8h2v2h-2zM269.6 393.8h2v2h-2zM297.7 399.7h4v2h-4zM265.6 401.7h2v2h-2zM289.7 403.7h4v2h-4z" fill="#2eb7a4"/><path d="M343.8 326.2h2v2h-2zM335.8 330.1h2v2h-2zM329.7 336.1h2v2h-2zM339.8 336.1h2v2h-2zM333.8 340.1h2v2h-2zM327.7 342.1h4v2h-4zM319.7 348h2v2h-2zM321.7 350h2v2h-2zM317.7 354h2v2h-2zM317.7 356h2v2h-2zM303.7 361.9h2v2h-2zM303.7 363.9h2v2h-2zM295.7 369.9h2v2h-2zM263.6 371.9h2v2h-2zM275.6 387.8h2v2h-2zM291.7 387.8h2v2h-2zM261.6 399.7h2v2h-2zM287.7 403.7h2v2h-2z" fill="#65be86"/><path d="M345.8 326.2h2v2h-2zM333.8 330.1h2v2h-2zM341.8 332.1h2v2h-2zM327.7 334.1h2v2h-2zM335.8 336.1h2v2h-2zM337.8 340.1h2v2h-2zM331.8 342.1h2v2h-2zM331.8 344.1h2v2h-2zM331.8 346.1h2v2h-2zM315.7 350h2v2h-2zM311.7 352h2v2h-2zM315.7 352h2v2h-2zM323.7 352h2v2h-2zM321.7 354h2v2h-2zM269.6 375.9h4v2h-4zM293.7 375.9h4v2h-4zM287.7 377.8h2v2h-2zM291.7 377.8h2v2h-2zM281.6 381.8h2v2h-2zM251.6 387.8h2v2h-2zM267.6 395.7h2v2h-2zM271.6 395.7h2v2h-2zM269.6 403.7h2v2h-2z" fill="#25b5a9"/><path d="M337.8 328.2h2v2h-2zM331.8 332.1h2v2h-2zM347.8 332.1h2v2h-2zM331.8 334.1h4v2h-4zM331.8 340.1h2v2h-2zM323.7 342.1h2v2h-2zM321.7 348h2v2h-2zM257.6 371.9h2v2h-2zM301.7 373.9h2v2h-2zM289.7 377.8h2v2h-2zM279.6 385.8h2v2h-2zM291.7 389.8h2v2h-2zM275.6 391.8h2v2h-2z" fill="#42bb98"/><path d="M339.8 328.2h2v2h-2zM343.8 330.1h2v2h-2zM327.7 348h2v2h-2zM313.7 350h2v2h-2zM315.7 354h2v2h-2zM319.7 354h2v2h-2zM301.7 361.9h2v2h-2zM305.7 365.9h2v2h-2zM295.7 367.9h2v2h-2zM273.6 373.9h2v2h-2zM273.6 375.9h2v2h-2zM265.6 389.8h2v2h-2zM291.7 401.7h4v2h-4zM301.7 401.7h2v2h-2z" fill="#59bd8c"/><path d="M343.8 328.2h2v2h-2zM335.8 338.1h2v2h-2zM327.7 340.1h2v2h-2zM323.7 346.1h2v2h-2zM317.7 352h2v2h-2zM313.7 354h2v2h-2zM305.7 360h2v2h-2zM295.7 361.9h2v2h-2zM291.7 375.9h2v2h-2zM273.6 405.7h2v2h-2z" fill="#92bf73"/><path d="M305.7 330.1h2v2h-2zM257.6 336.1h2v2h-2zM263.6 363.9h2v2h-2zM233.5 369.9h2v2h-2zM211.5 397.7h2v2h-2zM233.5 419.6h2v2h-2zM331.8 443.4h2v2h-2z" fill="#0d75dc"/><path d="M337.8 330.1h2v2h-2zM337.8 332.1h2v2h-2zM325.7 348h2v2h-2zM319.7 350h2v2h-2zM313.7 356h2v2h-2zM315.7 358h2v2h-2zM291.7 373.9h2v2h-2zM261.6 387.8h2v2h-2zM257.6 389.8h2v2h-2zM271.6 393.8h2v2h-2zM263.6 397.7h2v2h-2zM297.7 401.7h2v2h-2zM251.6 419.6h2v2h-2z" fill="#71bf80"/><path d="M345.8 330.1h2v2h-2zM333.8 332.1h2v2h-2zM329.7 334.1h2v2h-2zM339.8 340.1h2v2h-2zM337.8 342.1h2v2h-2zM327.7 346.1h2v2h-2zM323.7 348h2v2h-2zM311.7 354h2v2h-2zM307.7 356h4v2h-4zM299.7 365.9h4v2h-4zM271.6 373.9h2v2h-2zM275.6 373.9h2v2h-2zM283.7 383.8h2v2h-2zM277.6 389.8h2v2h-2zM255.6 391.8h2v2h-2zM273.6 403.7h2v2h-2zM261.6 405.7h2v2h-2z" fill="#38b99e"/><path d="M325.7 332.1h2v2h-2zM305.7 363.9h2v2h-2z" fill="#a5be6b"/><path d="M337.8 334.1h2v2h-2zM325.7 342.1h2v2h-2zM325.7 344.1h2v2h-2zM321.7 346.1h2v2h-2zM309.7 360h2v2h-2zM287.7 379.8h2v2h-2zM271.6 391.8h2v2h-2zM257.6 403.7h2v2h-2z" fill="#7cbf7b"/><path d="M315.7 336.1h2v2h-2zM255.6 344.1h2v2h-2zM221.5 348h2v2h-2zM243.6 356h2v2h-2zM229.5 361.9h2v2h-2zM227.5 387.8h2v2h-2zM313.7 401.7h2v2h-2zM343.8 413.6h2v2h-2zM253.6 421.6h2v2h-2zM287.7 423.6h2v2h-2zM337.8 431.5h2v2h-2zM339.8 439.5h2v2h-2zM337.8 441.4h2v2h-2z" fill="#1485d4"/><path d="M333.8 338.1h2v2h-2z" fill="#f6f313"/><path d="M329.7 340.1h2v2h-2zM307.7 361.9h2v2h-2zM301.7 363.9h2v2h-2zM293.7 373.9h2v2h-2zM265.6 397.7h2v2h-2zM259.6 405.7h2v2h-2z" fill="#9cbf6f"/><path d="M273.6 350h2v2h-2zM329.7 399.7h2v2h-2zM305.7 421.6h2v2h-2zM241.6 427.5h2v2h-2z" fill="#1481d6"/><path d="M317.7 350h2v2h-2zM307.7 363.9h2v2h-2zM275.6 375.9h2v2h-2zM259.6 389.8h2v2h-2zM269.6 395.7h2v2h-2zM261.6 401.7h2v2h-2z" fill="#87bf77"/><path d="M297.7 369.9h2v2h-2z" fill="#d9ba56"/><path d="M263.6 389.8h2v2h-2z" fill="#c0bc60"/><path d="M273.6 389.8h4v2h-4zM273.6 391.8h2v2h-2zM267.6 397.7h2v2h-2z" fill="#b7bd64"/><path d="M317.7 397.7h2v2h-2zM285.7 447.4h2v2h-2z" fill="#1079da"/><path d="M265.6 399.7h2v2h-2z" fill="#e9b94e"/><path d="M253.6 401.7h2v2h-2z" fill="#352a87"/><path d="M263.6 401.7h2v2h-2z" fill="#ffc337"/><path d="M261.6 403.7h2v2h-2z" fill="#fcce2e"/><path d="M257.6 413.6h2v2h-2z" fill="#0268e1"/><path d="M277.6 425.5h2v2h-2zM211.5 447.4h2v2h-2z" fill="#127dd8"/><rect x="211.5" y="322.2" width="142.3" height="127.2" fill="none" stroke="#6a6a6a" stroke-width="0.6"/><path d="M216.1 449.4v-1.8M211.5 445.3h1.8M238.9 449.4v-1.8M211.5 424.7h1.8M261.7 449.4v-1.8M211.5 404.2h1.8M284.5 449.4v-1.8M211.5 383.6h1.8M307.3 449.4v-1.8M211.5 363.1h1.8M330.1 449.4v-1.8M211.5 342.5h1.8M352.9 449.4v-1.8M211.5 322h1.8" stroke="#222" stroke-width="0.6"/><text x="216.1" y="457.8" font-size="7.2" text-anchor="middle" fill="#2a2a2a" font-weight="normal" font-style="normal" >0</text><text x="208.9" y="447.9" font-size="7.2" text-anchor="end" fill="#2a2a2a" font-weight="normal" font-style="normal" >0</text><text x="238.9" y="457.8" font-size="7.2" text-anchor="middle" fill="#2a2a2a" font-weight="normal" font-style="normal" >0.5</text><text x="208.9" y="427.3" font-size="7.2" text-anchor="end" fill="#2a2a2a" font-weight="normal" font-style="normal" >0.5</text><text x="261.7" y="457.8" font-size="7.2" text-anchor="middle" fill="#2a2a2a" font-weight="normal" font-style="normal" >1</text><text x="208.9" y="406.8" font-size="7.2" text-anchor="end" fill="#2a2a2a" font-weight="normal" font-style="normal" >1</text><text x="284.5" y="457.8" font-size="7.2" text-anchor="middle" fill="#2a2a2a" font-weight="normal" font-style="normal" >1.5</text><text x="208.9" y="386.2" font-size="7.2" text-anchor="end" fill="#2a2a2a" font-weight="normal" font-style="normal" >1.5</text><text x="307.3" y="457.8" font-size="7.2" text-anchor="middle" fill="#2a2a2a" font-weight="normal" font-style="normal" >2</text><text x="208.9" y="365.7" font-size="7.2" text-anchor="end" fill="#2a2a2a" font-weight="normal" font-style="normal" >2</text><text x="330.1" y="457.8" font-size="7.2" text-anchor="middle" fill="#2a2a2a" font-weight="normal" font-style="normal" >2.5</text><text x="208.9" y="345.1" font-size="7.2" text-anchor="end" fill="#2a2a2a" font-weight="normal" font-style="normal" >2.5</text><text x="352.9" y="457.8" font-size="7.2" text-anchor="middle" fill="#2a2a2a" font-weight="normal" font-style="normal" >3</text><text x="208.9" y="324.6" font-size="7.2" text-anchor="end" fill="#2a2a2a" font-weight="normal" font-style="normal" >3</text><text x="282.6" y="314" font-size="8.2" text-anchor="middle" fill="#1a1a1a" font-weight="normal" font-style="normal" >Memorised versus Novel T2</text><text x="282.1" y="488.5" font-size="7" text-anchor="middle" fill="#2a2a2a" font-weight="normal" font-style="normal" >Training time (s)</text><path d="M253.4 367.1H251.9V378.5H253.4M253.4 383.2H251.9V394.7H253.4M253.4 398.4H251.9V409.7H253.4" stroke="#c8323f" stroke-width="1.15" fill="none"/><ellipse cx="215.3" cy="471.8" rx="2.3" ry="1.6" transform="rotate(-24 215.3 471.8)" fill="#111"/><path d="M217.1 471.6V463.6" stroke="#111" stroke-width="0.9" fill="none"/><path d="M216.7 463.6C217.4 465.5 220.4 466.4 220 469.7C219.6 467.7 218.2 467.1 216.7 466.8z" fill="#111"/><ellipse cx="231.6" cy="471.8" rx="2.3" ry="1.6" transform="rotate(-24 231.6 471.8)" fill="#111"/><path d="M233.4 471.6V463.6" stroke="#111" stroke-width="0.9" fill="none"/><path d="M233 463.6C233.7 465.5 236.7 466.4 236.3 469.7C235.9 467.7 234.5 467.1 233 466.8z" fill="#111"/><ellipse cx="247.9" cy="471.8" rx="2.3" ry="1.6" transform="rotate(-24 247.9 471.8)" fill="#111"/><path d="M249.7 471.6V463.6" stroke="#111" stroke-width="0.9" fill="none"/><path d="M249.3 463.6C250 465.5 253 466.4 252.6 469.7C252.2 467.7 250.8 467.1 249.3 466.8z" fill="#111"/><path d="M245.1 473.5V475.3H253.1V473.5" stroke="#4a8ad6" stroke-width="0.9" fill="none"/><ellipse cx="264.2" cy="471.8" rx="2.3" ry="1.6" transform="rotate(-24 264.2 471.8)" fill="#111"/><path d="M266 471.6V463.6" stroke="#111" stroke-width="0.9" fill="none"/><path d="M265.6 463.6C266.3 465.5 269.3 466.4 268.9 469.7C268.5 467.7 267.1 467.1 265.6 466.8z" fill="#111"/><path d="M261.4 473.5V475.3H269.4V473.5" stroke="#4a8ad6" stroke-width="0.9" fill="none"/><ellipse cx="280.5" cy="471.8" rx="2.3" ry="1.6" transform="rotate(-24 280.5 471.8)" fill="#111"/><path d="M282.3 471.6V463.6" stroke="#111" stroke-width="0.9" fill="none"/><path d="M281.9 463.6C282.6 465.5 285.6 466.4 285.2 469.7C284.8 467.7 283.4 467.1 281.9 466.8z" fill="#111"/><path d="M277.7 473.5V475.3H285.7V473.5" stroke="#4a8ad6" stroke-width="0.9" fill="none"/><rect x="374.4" y="322.2" width="142.2" height="127.2" fill="#079ccf"/><path d="M458.5 322.2h2v2h-2zM488.6 332.1h2v2h-2zM484.6 334.1h2v2h-2zM482.6 338.1h2v2h-2zM500.6 338.1h2v2h-2zM480.5 340.1h2v2h-2zM490.6 340.1h2v2h-2zM446.5 346.1h2v2h-2zM470.5 348h2v2h-2zM488.6 348h2v2h-2zM478.5 352h2v2h-2zM476.5 354h2v2h-2zM474.5 356h2v2h-2zM486.6 356h2v2h-2zM470.5 358h2v2h-2zM474.5 358h2v2h-2zM470.5 360h2v2h-2zM484.6 360h2v2h-2zM460.5 361.9h2v2h-2zM466.5 361.9h2v2h-2zM480.5 361.9h4v2h-4zM456.5 363.9h2v2h-2zM466.5 363.9h2v2h-2zM478.5 363.9h2v2h-2zM478.5 367.9h2v2h-2zM456.5 369.9h2v2h-2zM436.5 373.9h2v2h-2zM466.5 373.9h2v2h-2zM436.5 375.9h2v2h-2zM448.5 375.9h2v2h-2zM462.5 381.8h2v2h-2zM468.5 381.8h2v2h-2zM448.5 385.8h2v2h-2zM458.5 387.8h2v2h-2zM450.5 391.8h2v2h-2zM380.4 395.7h2v2h-2zM388.4 397.7h2v2h-2zM400.4 397.7h2v2h-2zM410.5 397.7h2v2h-2zM426.5 397.7h2v2h-2zM434.5 401.7h4v2h-4zM460.5 429.5h2v2h-2z" fill="#0faeb9"/><path d="M374.4 324.2h2v2h-2zM460.5 326.2h2v2h-2zM488.6 330.1h2v2h-2zM482.6 336.1h2v2h-2zM486.6 338.1h4v2h-4zM498.6 342.1h2v2h-2zM496.6 344.1h2v2h-2zM472.5 346.1h2v2h-2zM502.6 346.1h2v2h-2zM498.6 350h2v2h-2zM466.5 354h2v2h-2zM482.6 356h2v2h-2zM464.5 358h2v2h-2zM456.5 361.9h2v2h-2zM484.6 361.9h2v2h-2zM442.5 363.9h2v2h-2zM418.5 365.9h2v2h-2zM454.5 365.9h2v2h-2zM458.5 365.9h2v2h-2zM470.5 365.9h2v2h-2zM478.5 365.9h2v2h-2zM396.4 367.9h2v2h-2zM450.5 367.9h2v2h-2zM450.5 369.9h2v2h-2zM436.5 371.9h2v2h-2zM444.5 371.9h2v2h-2zM440.5 373.9h2v2h-2zM446.5 375.9h2v2h-2zM468.5 375.9h2v2h-2zM444.5 377.8h2v2h-2zM462.5 377.8h2v2h-2zM418.5 379.8h2v2h-2zM434.5 379.8h2v2h-2zM458.5 381.8h2v2h-2zM448.5 387.8h2v2h-2zM492.6 387.8h2v2h-2zM434.5 391.8h2v2h-2zM448.5 391.8h2v2h-2zM456.5 391.8h2v2h-2zM434.5 393.8h2v2h-2zM446.5 393.8h2v2h-2zM508.6 393.8h2v2h-2zM394.4 397.7h2v2h-2zM404.4 397.7h2v2h-2zM438.5 397.7h2v2h-2zM434.5 399.7h2v2h-2zM486.6 403.7h2v2h-2zM486.6 411.6h2v2h-2zM504.6 415.6h2v2h-2zM436.5 421.6h2v2h-2zM488.6 427.5h2v2h-2zM434.5 437.5h2v2h-2zM478.5 443.4h2v2h-2zM388.4 445.4h2v2h-2zM434.5 445.4h2v2h-2z" fill="#07a9c2"/><path d="M506.6 324.2h2v2h-2zM482.6 330.1h2v2h-2zM376.4 348h2v2h-2zM438.5 354h2v2h-2zM406.4 377.8h2v2h-2zM512.6 391.8h2v2h-2z" fill="#0d75dc"/><path d="M428.5 326.2h2v2h-2zM424.5 328.2h2v2h-2zM442.5 330.1h2v2h-2zM486.6 330.1h2v2h-2zM470.5 332.1h2v2h-2zM484.6 332.1h2v2h-2zM482.6 334.1h2v2h-2zM490.6 334.1h2v2h-2zM480.5 336.1h2v2h-2zM424.5 338.1h2v2h-2zM478.5 338.1h2v2h-2zM374.4 340.1h2v2h-2zM476.5 340.1h2v2h-2zM502.6 340.1h2v2h-2zM474.5 342.1h2v2h-2zM504.6 342.1h2v2h-2zM472.5 344.1h2v2h-2zM478.5 344.1h2v2h-2zM470.5 346.1h2v2h-2zM498.6 346.1h2v2h-2zM504.6 346.1h2v2h-2zM468.5 348h2v2h-2zM496.6 348h2v2h-2zM502.6 348h2v2h-2zM466.5 350h4v2h-4zM472.5 350h2v2h-2zM500.6 350h2v2h-2zM464.5 352h4v2h-4zM490.6 352h2v2h-2zM498.6 352h2v2h-2zM464.5 354h2v2h-2zM496.6 354h2v2h-2zM510.6 356h2v2h-2zM424.5 358h2v2h-2zM490.6 358h2v2h-2zM458.5 360h2v2h-2zM478.5 361.9h2v2h-2zM454.5 363.9h2v2h-2zM476.5 363.9h2v2h-2zM482.6 363.9h2v2h-2zM446.5 365.9h2v2h-2zM452.5 365.9h2v2h-2zM480.5 365.9h2v2h-2zM380.4 367.9h2v2h-2zM474.5 367.9h4v2h-4zM474.5 369.9h2v2h-2zM446.5 371.9h2v2h-2zM470.5 371.9h4v2h-4zM494.6 371.9h2v2h-2zM396.4 373.9h2v2h-2zM448.5 373.9h2v2h-2zM416.5 375.9h2v2h-2zM466.5 375.9h2v2h-2zM434.5 377.8h6v2h-6zM464.5 377.8h2v2h-2zM410.5 379.8h2v2h-2zM436.5 379.8h2v2h-2zM462.5 379.8h2v2h-2zM510.6 379.8h2v2h-2zM460.5 381.8h2v2h-2zM432.5 383.8h2v2h-2zM456.5 383.8h4v2h-4zM432.5 385.8h2v2h-2zM454.5 385.8h4v2h-4zM460.5 387.8h2v2h-2zM462.5 389.8h2v2h-2zM436.5 391.8h2v2h-2zM458.5 391.8h4v2h-4zM394.4 395.7h2v2h-2zM402.4 395.7h12v2h-12zM416.5 395.7h4v2h-4zM436.5 395.7h2v2h-2zM444.5 395.7h4v2h-4zM376.4 397.7h10v2h-10zM392.4 397.7h2v2h-2zM398.4 397.7h2v2h-2zM432.5 397.7h2v2h-2zM440.5 397.7h8v2h-8zM418.5 403.7h2v2h-2zM396.4 409.6h2v2h-2zM454.5 413.6h2v2h-2zM394.4 423.6h2v2h-2zM484.6 423.6h2v2h-2zM434.5 427.5h2v2h-2zM506.6 427.5h2v2h-2zM470.5 429.5h2v2h-2zM400.4 439.5h2v2h-2zM434.5 439.5h2v2h-2zM450.5 445.4h2v2h-2zM434.5 447.4h4v2h-4z" fill="#06a7c6"/><path d="M498.6 326.2h2v2h-2zM486.6 332.1h2v2h-2zM500.6 332.1h2v2h-2zM496.6 334.1h2v2h-2zM494.6 336.1h2v2h-2zM484.6 344.1h2v2h-2zM482.6 346.1h2v2h-2zM492.6 346.1h2v2h-2zM472.5 348h2v2h-2zM470.5 350h2v2h-2zM496.6 350h2v2h-2zM468.5 352h2v2h-2zM484.6 352h2v2h-2zM494.6 352h2v2h-2zM474.5 354h2v2h-2zM494.6 354h2v2h-2zM486.6 358h2v2h-2zM446.5 360h2v2h-2zM476.5 360h2v2h-2zM480.5 363.9h2v2h-2zM488.6 367.9h2v2h-2zM448.5 369.9h2v2h-2zM470.5 369.9h2v2h-2zM440.5 371.9h4v2h-4zM448.5 371.9h2v2h-2zM452.5 371.9h2v2h-2zM434.5 373.9h2v2h-2zM440.5 375.9h2v2h-2zM440.5 377.8h2v2h-2zM426.5 379.8h2v2h-2zM460.5 379.8h2v2h-2zM498.6 379.8h2v2h-2zM438.5 383.8h2v2h-2zM456.5 387.8h2v2h-2zM436.5 389.8h2v2h-2zM446.5 391.8h2v2h-2zM444.5 393.8h2v2h-2zM378.4 395.7h2v2h-2zM408.4 397.7h2v2h-2zM412.5 397.7h6v2h-6zM422.5 397.7h4v2h-4zM434.5 405.7h2v2h-2zM434.5 417.6h2v2h-2zM434.5 421.6h2v2h-2zM496.6 423.6h2v2h-2zM434.5 435.5h2v2h-2zM470.5 439.5h2v2h-2z" fill="#0aacbe"/><path d="M492.6 332.1h2v2h-2zM492.6 334.1h2v2h-2zM486.6 336.1h2v2h-2zM476.5 344.1h2v2h-2zM474.5 346.1h2v2h-2zM500.6 346.1h2v2h-2zM498.6 348h2v2h-2zM462.5 360h2v2h-2zM462.5 361.9h2v2h-2zM434.5 371.9h2v2h-2zM468.5 371.9h2v2h-2zM442.5 375.9h2v2h-2zM450.5 375.9h2v2h-2zM462.5 375.9h2v2h-2zM458.5 379.8h2v2h-2zM436.5 383.8h2v2h-2zM438.5 385.8h2v2h-2zM452.5 387.8h4v2h-4zM434.5 389.8h2v2h-2zM454.5 391.8h2v2h-2zM434.5 403.7h2v2h-2zM434.5 411.6h2v2h-2zM488.6 431.5h2v2h-2zM474.5 443.4h2v2h-2z" fill="#1db3af"/><path d="M402.4 334.1h2v2h-2zM494.6 334.1h2v2h-2zM502.6 342.1h2v2h-2zM480.5 346.1h2v2h-2zM506.6 348h2v2h-2zM470.5 352h2v2h-2zM478.5 356h2v2h-2zM474.5 363.9h2v2h-2zM456.5 365.9h2v2h-2zM446.5 373.9h2v2h-2zM438.5 375.9h2v2h-2zM442.5 381.8h2v2h-2zM456.5 381.8h2v2h-2zM434.5 383.8h2v2h-2zM454.5 383.8h2v2h-2zM450.5 389.8h2v2h-2zM442.5 393.8h2v2h-2zM448.5 397.7h2v2h-2zM412.5 407.7h2v2h-2zM472.5 423.6h2v2h-2zM434.5 425.5h2v2h-2z" fill="#15b1b4"/><path d="M470.5 334.1h2v2h-2zM436.5 344.1h2v2h-2zM394.4 361.9h2v2h-2zM462.5 363.9h2v2h-2zM420.5 371.9h2v2h-2zM432.5 389.8h2v2h-2zM486.6 389.8h2v2h-2zM404.4 433.5h2v2h-2z" fill="#1481d6"/><path d="M488.6 334.1h2v2h-2zM476.5 342.1h2v2h-2zM500.6 342.1h2v2h-2zM490.6 350h2v2h-2zM472.5 352h2v2h-2zM468.5 354h2v2h-2zM466.5 356h2v2h-2zM470.5 356h2v2h-2zM484.6 356h2v2h-2zM472.5 365.9h2v2h-2zM454.5 369.9h2v2h-2zM444.5 375.9h2v2h-2zM444.5 383.8h2v2h-2z" fill="#38b99e"/><path d="M488.6 336.1h2v2h-2zM482.6 342.1h2v2h-2zM498.6 344.1h4v2h-4zM474.5 348h2v2h-2zM482.6 358h2v2h-2zM474.5 365.9h2v2h-2zM472.5 367.9h2v2h-2zM468.5 369.9h2v2h-2zM438.5 371.9h2v2h-2zM456.5 373.9h2v2h-2zM462.5 373.9h2v2h-2zM460.5 377.8h2v2h-2zM440.5 379.8h2v2h-2zM456.5 379.8h2v2h-2zM438.5 387.8h2v2h-2zM446.5 389.8h2v2h-2zM444.5 391.8h2v2h-2z" fill="#2eb7a4"/><path d="M490.6 336.1h2v2h-2zM494.6 338.1h2v2h-2zM498.6 338.1h2v2h-2zM486.6 348h2v2h-2zM494.6 348h2v2h-2zM486.6 350h2v2h-2zM474.5 352h2v2h-2zM472.5 354h2v2h-2zM466.5 358h2v2h-2zM474.5 361.9h2v2h-2zM456.5 367.9h2v2h-2z" fill="#65be86"/><path d="M492.6 336.1h2v2h-2zM490.6 342.1h2v2h-2zM494.6 342.1h2v2h-2zM478.5 346.1h2v2h-2zM488.6 352h2v2h-2zM464.5 360h2v2h-2zM476.5 361.9h2v2h-2zM458.5 367.9h2v2h-2zM464.5 371.9h2v2h-2zM458.5 377.8h2v2h-2z" fill="#71bf80"/><path d="M496.6 336.1h2v2h-2zM496.6 338.1h2v2h-2zM482.6 340.1h2v2h-2zM480.5 344.1h2v2h-2zM476.5 346.1h2v2h-2zM494.6 346.1h2v2h-2zM476.5 348h2v2h-2zM492.6 348h2v2h-2zM492.6 350h2v2h-2zM488.6 354h2v2h-2zM468.5 356h2v2h-2zM460.5 363.9h2v2h-2zM472.5 363.9h2v2h-2zM454.5 367.9h2v2h-2zM452.5 369.9h2v2h-2zM462.5 371.9h2v2h-2zM466.5 371.9h2v2h-2zM450.5 387.8h2v2h-2zM456.5 389.8h2v2h-2z" fill="#42bb98"/><path d="M484.6 338.1h2v2h-2zM478.5 342.1h2v2h-2zM496.6 346.1h2v2h-2zM488.6 356h2v2h-2zM470.5 367.9h2v2h-2zM442.5 373.9h2v2h-2zM464.5 373.9h2v2h-2zM454.5 375.9h2v2h-2zM442.5 377.8h2v2h-2zM446.5 379.8h2v2h-2zM450.5 385.8h4v2h-4zM448.5 389.8h2v2h-2zM434.5 407.7h2v2h-2zM434.5 413.6h2v2h-2zM434.5 419.6h2v2h-2z" fill="#25b5a9"/><path d="M490.6 338.1h2v2h-2zM484.6 340.1h4v2h-4zM492.6 342.1h2v2h-2zM496.6 342.1h2v2h-2zM482.6 344.1h2v2h-2zM476.5 352h2v2h-2zM478.5 358h2v2h-2zM464.5 365.9h2v2h-2zM458.5 373.9h2v2h-2zM452.5 383.8h2v2h-2zM440.5 391.8h4v2h-4z" fill="#87bf77"/><path d="M492.6 338.1h2v2h-2zM484.6 346.1h2v2h-2zM470.5 361.9h2v2h-2zM456.5 375.9h2v2h-2zM452.5 381.8h2v2h-2z" fill="#c0bc60"/><path d="M488.6 340.1h2v2h-2zM466.5 360h2v2h-2zM460.5 365.9h2v2h-2zM466.5 365.9h2v2h-2zM460.5 373.9h2v2h-2zM458.5 375.9h2v2h-2zM444.5 389.8h2v2h-2z" fill="#9cbf6f"/><path d="M492.6 340.1h2v2h-2zM486.6 344.1h2v2h-2zM492.6 344.1h2v2h-2zM478.5 350h2v2h-2zM478.5 354h2v2h-2zM454.5 371.9h2v2h-2zM454.5 377.8h4v2h-4z" fill="#c8bc5d"/><path d="M494.6 340.1h2v2h-2zM486.6 346.1h2v2h-2zM462.5 365.9h2v2h-2zM462.5 369.9h2v2h-2zM448.5 381.8h2v2h-2z" fill="#e1b952"/><path d="M496.6 340.1h2v2h-2zM490.6 346.1h2v2h-2zM474.5 350h2v2h-2zM486.6 354h2v2h-2zM472.5 356h2v2h-2zM468.5 360h2v2h-2zM478.5 360h2v2h-2zM472.5 361.9h2v2h-2zM470.5 363.9h2v2h-2zM454.5 381.8h2v2h-2zM450.5 383.8h2v2h-2zM434.5 385.8h2v2h-2zM454.5 389.8h2v2h-2zM438.5 391.8h2v2h-2z" fill="#7cbf7b"/><path d="M498.6 340.1h2v2h-2zM494.6 344.1h2v2h-2zM488.6 350h2v2h-2zM482.6 352h2v2h-2zM440.5 381.8h2v2h-2zM436.5 385.8h2v2h-2zM444.5 387.8h2v2h-2z" fill="#a5be6b"/><path d="M500.6 340.1h2v2h-2zM480.5 342.1h2v2h-2zM490.6 344.1h2v2h-2zM484.6 348h2v2h-2zM476.5 350h2v2h-2zM470.5 354h2v2h-2zM468.5 358h2v2h-2zM480.5 358h2v2h-2zM472.5 360h2v2h-2zM480.5 360h2v2h-2zM464.5 361.9h2v2h-2zM452.5 389.8h2v2h-2z" fill="#59bd8c"/><path d="M484.6 342.1h2v2h-2zM478.5 348h2v2h-2zM484.6 350h2v2h-2zM410.5 360h2v2h-2zM466.5 369.9h2v2h-2zM450.5 371.9h2v2h-2zM438.5 373.9h2v2h-2zM450.5 373.9h2v2h-2zM460.5 375.9h2v2h-2zM438.5 381.8h2v2h-2zM434.5 387.8h2v2h-2zM458.5 389.8h2v2h-2z" fill="#4dbc92"/><path d="M486.6 342.1h2v2h-2zM482.6 350h2v2h-2zM448.5 379.8h2v2h-2z" fill="#e9b94e"/><path d="M488.6 342.1h2v2h-2zM488.6 344.1h2v2h-2zM480.5 352h2v2h-2zM480.5 354h2v2h-2zM474.5 360h2v2h-2zM468.5 361.9h2v2h-2zM462.5 367.9h2v2h-2zM460.5 369.9h2v2h-2zM456.5 371.9h2v2h-2zM446.5 377.8h4v2h-4z" fill="#d9ba56"/><path d="M438.5 344.1h2v2h-2zM384.4 346.1h2v2h-2zM482.6 348h2v2h-2zM506.6 360h2v2h-2zM420.5 369.9h2v2h-2zM468.5 379.8h2v2h-2zM394.4 383.8h2v2h-2zM394.4 389.8h2v2h-2zM408.4 389.8h2v2h-2zM476.5 389.8h2v2h-2zM504.6 395.7h2v2h-2zM498.6 399.7h2v2h-2zM488.6 401.7h2v2h-2zM476.5 405.7h2v2h-2zM468.5 415.6h2v2h-2zM474.5 429.5h2v2h-2zM498.6 431.5h2v2h-2zM386.4 437.5h2v2h-2zM430.5 443.4h2v2h-2z" fill="#108ed2"/><path d="M488.6 346.1h2v2h-2zM490.6 348h2v2h-2zM484.6 354h2v2h-2zM440.5 383.8h2v2h-2zM446.5 385.8h2v2h-2zM442.5 389.8h2v2h-2z" fill="#aebe67"/><path d="M480.5 348h2v2h-2zM476.5 356h2v2h-2zM464.5 367.9h6v2h-6zM464.5 369.9h2v2h-2zM442.5 379.8h2v2h-2zM448.5 383.8h2v2h-2z" fill="#92bf73"/><path d="M480.5 350h2v2h-2zM476.5 358h2v2h-2zM464.5 363.9h2v2h-2zM468.5 365.9h2v2h-2zM460.5 371.9h2v2h-2zM446.5 387.8h2v2h-2zM438.5 389.8h2v2h-2z" fill="#d1bb59"/><path d="M486.6 352h2v2h-2zM482.6 354h2v2h-2zM480.5 356h2v2h-2zM472.5 358h2v2h-2zM460.5 367.9h2v2h-2z" fill="#b7bd64"/><path d="M382.4 354h2v2h-2zM438.5 356h2v2h-2zM442.5 356h2v2h-2zM432.5 361.9h2v2h-2zM408.4 371.9h2v2h-2zM384.4 373.9h2v2h-2zM418.5 375.9h2v2h-2zM414.5 377.8h2v2h-2zM408.4 379.8h2v2h-2zM454.5 401.7h2v2h-2zM388.4 411.6h2v2h-2zM402.4 423.6h2v2h-2zM494.6 429.5h2v2h-2zM494.6 433.5h2v2h-2z" fill="#1389d3"/><path d="M440.5 354h2v2h-2zM376.4 363.9h2v2h-2zM414.5 369.9h2v2h-2zM510.6 373.9h2v2h-2zM438.5 401.7h2v2h-2zM424.5 409.6h2v2h-2zM488.6 409.6h2v2h-2zM474.5 439.5h2v2h-2z" fill="#1485d4"/><path d="M502.6 358h2v2h-2zM388.4 399.7h2v2h-2z" fill="#1079da"/><path d="M458.5 369.9h2v2h-2zM446.5 381.8h2v2h-2z" fill="#ffc337"/><path d="M458.5 371.9h2v2h-2zM452.5 375.9h2v2h-2zM450.5 377.8h2v2h-2zM450.5 379.8h2v2h-2zM444.5 381.8h2v2h-2zM442.5 383.8h2v2h-2zM446.5 383.8h2v2h-2zM444.5 385.8h2v2h-2zM440.5 387.8h4v2h-4z" fill="#f9fb0e"/><path d="M452.5 373.9h2v2h-2z" fill="#f1b94a"/><path d="M454.5 373.9h2v2h-2zM454.5 379.8h2v2h-2zM440.5 385.8h2v2h-2z" fill="#f5eb18"/><path d="M452.5 377.8h2v2h-2z" fill="#f7d826"/><path d="M444.5 379.8h2v2h-2zM440.5 389.8h2v2h-2z" fill="#f8bb44"/><path d="M452.5 379.8h2v2h-2zM450.5 381.8h2v2h-2z" fill="#f5de21"/><path d="M442.5 385.8h2v2h-2z" fill="#f5e41d"/><path d="M436.5 387.8h2v2h-2z" fill="#fdbe3d"/><path d="M414.5 395.7h2v2h-2zM488.6 421.6h2v2h-2zM428.5 437.5h2v2h-2z" fill="#127dd8"/><rect x="374.4" y="322.2" width="142.2" height="127.2" fill="none" stroke="#6a6a6a" stroke-width="0.6"/><path d="M379 449.4v-1.8M374.4 445.3h1.8M401.8 449.4v-1.8M374.4 424.7h1.8M424.6 449.4v-1.8M374.4 404.2h1.8M447.4 449.4v-1.8M374.4 383.6h1.8M470.2 449.4v-1.8M374.4 363.1h1.8M493 449.4v-1.8M374.4 342.5h1.8M515.8 449.4v-1.8M374.4 322h1.8" stroke="#222" stroke-width="0.6"/><text x="379" y="457.8" font-size="7.2" text-anchor="middle" fill="#2a2a2a" font-weight="normal" font-style="normal" >0</text><text x="371.8" y="447.9" font-size="7.2" text-anchor="end" fill="#2a2a2a" font-weight="normal" font-style="normal" >0</text><text x="401.8" y="457.8" font-size="7.2" text-anchor="middle" fill="#2a2a2a" font-weight="normal" font-style="normal" >0.5</text><text x="371.8" y="427.3" font-size="7.2" text-anchor="end" fill="#2a2a2a" font-weight="normal" font-style="normal" >0.5</text><text x="424.6" y="457.8" font-size="7.2" text-anchor="middle" fill="#2a2a2a" font-weight="normal" font-style="normal" >1</text><text x="371.8" y="406.8" font-size="7.2" text-anchor="end" fill="#2a2a2a" font-weight="normal" font-style="normal" >1</text><text x="447.4" y="457.8" font-size="7.2" text-anchor="middle" fill="#2a2a2a" font-weight="normal" font-style="normal" >1.5</text><text x="371.8" y="386.2" font-size="7.2" text-anchor="end" fill="#2a2a2a" font-weight="normal" font-style="normal" >1.5</text><text x="470.2" y="457.8" font-size="7.2" text-anchor="middle" fill="#2a2a2a" font-weight="normal" font-style="normal" >2</text><text x="371.8" y="365.7" font-size="7.2" text-anchor="end" fill="#2a2a2a" font-weight="normal" font-style="normal" >2</text><text x="493" y="457.8" font-size="7.2" text-anchor="middle" fill="#2a2a2a" font-weight="normal" font-style="normal" >2.5</text><text x="371.8" y="345.1" font-size="7.2" text-anchor="end" fill="#2a2a2a" font-weight="normal" font-style="normal" >2.5</text><text x="515.8" y="457.8" font-size="7.2" text-anchor="middle" fill="#2a2a2a" font-weight="normal" font-style="normal" >3</text><text x="371.8" y="324.6" font-size="7.2" text-anchor="end" fill="#2a2a2a" font-weight="normal" font-style="normal" >3</text><text x="445.5" y="314" font-size="8.2" text-anchor="middle" fill="#1a1a1a" font-weight="normal" font-style="normal" >Memorised versus Novel T3</text><text x="445" y="488.5" font-size="7" text-anchor="middle" fill="#2a2a2a" font-weight="normal" font-style="normal" >Training time (s)</text><path d="M432.1 367.2H430.6V379H432.1M432.1 383.5H430.6V395.2H432.1" stroke="#c8323f" stroke-width="1.15" fill="none"/><ellipse cx="378.2" cy="471.8" rx="2.3" ry="1.6" transform="rotate(-24 378.2 471.8)" fill="#111"/><path d="M380 471.6V463.6" stroke="#111" stroke-width="0.9" fill="none"/><path d="M379.6 463.6C380.3 465.5 383.3 466.4 382.9 469.7C382.5 467.7 381.1 467.1 379.6 466.8z" fill="#111"/><ellipse cx="394.5" cy="471.8" rx="2.3" ry="1.6" transform="rotate(-24 394.5 471.8)" fill="#111"/><path d="M396.3 471.6V463.6" stroke="#111" stroke-width="0.9" fill="none"/><path d="M395.9 463.6C396.6 465.5 399.6 466.4 399.2 469.7C398.8 467.7 397.4 467.1 395.9 466.8z" fill="#111"/><ellipse cx="410.8" cy="471.8" rx="2.3" ry="1.6" transform="rotate(-24 410.8 471.8)" fill="#111"/><path d="M412.6 471.6V463.6" stroke="#111" stroke-width="0.9" fill="none"/><path d="M412.2 463.6C412.9 465.5 415.9 466.4 415.5 469.7C415.1 467.7 413.7 467.1 412.2 466.8z" fill="#111"/><ellipse cx="427.1" cy="471.8" rx="2.3" ry="1.6" transform="rotate(-24 427.1 471.8)" fill="#111"/><path d="M428.9 471.6V463.6" stroke="#111" stroke-width="0.9" fill="none"/><path d="M428.5 463.6C429.2 465.5 432.2 466.4 431.8 469.7C431.4 467.7 430 467.1 428.5 466.8z" fill="#111"/><path d="M424.3 473.5V475.3H432.3V473.5" stroke="#3a3f9c" stroke-width="0.9" fill="none"/><ellipse cx="443.4" cy="471.8" rx="2.3" ry="1.6" transform="rotate(-24 443.4 471.8)" fill="#111"/><path d="M445.2 471.6V463.6" stroke="#111" stroke-width="0.9" fill="none"/><path d="M444.8 463.6C445.5 465.5 448.5 466.4 448.1 469.7C447.7 467.7 446.3 467.1 444.8 466.8z" fill="#111"/><path d="M440.6 473.5V475.3H448.6V473.5" stroke="#3a3f9c" stroke-width="0.9" fill="none"/><rect x="536.5" y="322.2" width="142.8" height="127.2" fill="#079ccf"/><path d="M570.7 322.2h2v2h-2zM647.1 332.1h2v2h-2zM643.1 336.1h2v2h-2zM641.1 338.1h2v2h-2zM645.1 338.1h2v2h-2zM641.1 342.1h2v2h-2zM639.1 344.1h2v2h-2zM637.1 348h2v2h-2zM661.2 350h2v2h-2zM631 354h2v2h-2zM608.9 356h2v2h-2zM623 361.9h2v2h-2zM637.1 363.9h2v2h-2zM621 367.9h2v2h-2zM629 371.9h4v2h-4zM627 373.9h2v2h-2zM623 375.9h2v2h-2zM653.2 385.8h2v2h-2z" fill="#15b1b4"/><path d="M578.7 322.2h2v2h-2zM637.1 322.2h2v2h-2zM584.8 328.2h2v2h-2zM645.1 328.2h2v2h-2zM643.1 330.1h2v2h-2zM649.1 330.1h2v2h-2zM641.1 332.1h4v2h-4zM641.1 334.1h2v2h-2zM649.1 334.1h2v2h-2zM544.5 336.1h2v2h-2zM639.1 336.1h2v2h-2zM602.9 338.1h2v2h-2zM637.1 338.1h2v2h-2zM647.1 338.1h2v2h-2zM635.1 340.1h2v2h-2zM643.1 340.1h2v2h-2zM659.2 340.1h2v2h-2zM635.1 342.1h4v2h-4zM568.7 344.1h2v2h-2zM623 344.1h2v2h-2zM633 344.1h2v2h-2zM675.3 344.1h2v2h-2zM631 346.1h2v2h-2zM673.3 346.1h2v2h-2zM629 348h2v2h-2zM629 350h2v2h-2zM663.2 350h2v2h-2zM627 352h2v2h-2zM633 352h2v2h-2zM653.2 352h4v2h-4zM665.2 352h2v2h-2zM619 354h2v2h-2zM625 354h2v2h-2zM659.2 354h6v2h-6zM623 356h2v2h-2zM659.2 356h2v2h-2zM621 358h2v2h-2zM651.1 358h6v2h-6zM649.1 360h2v2h-2zM653.2 360h2v2h-2zM639.1 361.9h2v2h-2zM649.1 361.9h2v2h-2zM617 363.9h2v2h-2zM643.1 363.9h6v2h-6zM614.9 365.9h2v2h-2zM643.1 365.9h2v2h-2zM641.1 367.9h2v2h-2zM635.1 369.9h4v2h-4zM635.1 371.9h2v2h-2zM629 373.9h4v2h-4zM629 375.9h2v2h-2zM633 375.9h2v2h-2zM625 377.8h2v2h-2zM552.6 379.8h2v2h-2zM629 379.8h2v2h-2zM631 383.8h2v2h-2zM564.7 385.8h2v2h-2zM657.2 391.8h2v2h-2zM566.7 395.7h2v2h-2zM619 403.7h2v2h-2zM621 405.7h2v2h-2zM651.1 409.6h2v2h-2zM590.8 417.6h2v2h-2zM612.9 419.6h2v2h-2zM580.7 433.5h2v2h-2zM598.8 433.5h2v2h-2zM596.8 445.4h2v2h-2zM606.9 445.4h2v2h-2zM578.7 447.4h2v2h-2zM659.2 447.4h2v2h-2z" fill="#06a7c6"/><path d="M661.2 324.2h2v2h-2zM572.7 328.2h2v2h-2zM584.8 336.1h2v2h-2zM542.5 340.1h2v2h-2zM608.9 352h2v2h-2zM564.7 358h2v2h-2zM594.8 358h2v2h-2zM572.7 360h2v2h-2zM621 375.9h2v2h-2zM580.7 387.8h2v2h-2zM604.9 395.7h2v2h-2zM584.8 399.7h2v2h-2zM606.9 403.7h2v2h-2zM602.9 419.6h2v2h-2zM580.7 439.5h2v2h-2zM554.6 445.4h2v2h-2z" fill="#108ed2"/><path d="M580.7 330.1h2v2h-2zM653.2 330.1h2v2h-2zM617 334.1h2v2h-2zM627 336.1h2v2h-2zM617 419.6h2v2h-2zM671.3 447.4h2v2h-2z" fill="#1481d6"/><path d="M647.1 330.1h2v2h-2zM651.1 332.1h2v2h-2zM675.3 334.1h2v2h-2zM647.1 340.1h2v2h-2zM645.1 342.1h2v2h-2zM635.1 344.1h2v2h-2zM560.6 346.1h2v2h-2zM540.5 348h2v2h-2zM631 348h4v2h-4zM639.1 350h2v2h-2zM629 352h2v2h-2zM629 354h2v2h-2zM657.2 354h2v2h-2zM631 356h2v2h-2zM623 358h2v2h-2zM629 358h2v2h-2zM641.1 358h4v2h-4zM647.1 360h2v2h-2zM619 361.9h4v2h-4zM637.1 361.9h2v2h-2zM623 363.9h2v2h-2zM641.1 363.9h2v2h-2zM617 365.9h2v2h-2zM641.1 365.9h2v2h-2zM614.9 367.9h2v2h-2zM633 369.9h2v2h-2zM560.6 371.9h2v2h-2zM614.9 373.9h2v2h-2zM619 377.8h2v2h-2zM546.6 413.6h2v2h-2zM562.6 445.4h2v2h-2zM602.9 445.4h2v2h-2z" fill="#07a9c2"/><path d="M570.7 332.1h2v2h-2zM608.9 334.1h2v2h-2zM560.6 336.1h2v2h-2zM667.2 356h2v2h-2zM598.8 358h2v2h-2zM580.7 361.9h2v2h-2zM540.5 369.9h2v2h-2zM655.2 371.9h2v2h-2zM633 391.8h2v2h-2zM623 395.7h2v2h-2zM625 413.6h2v2h-2zM635.1 439.5h2v2h-2zM596.8 443.4h2v2h-2z" fill="#1389d3"/><path d="M645.1 332.1h2v2h-2zM649.1 332.1h2v2h-2zM635.1 346.1h2v2h-2zM653.2 356h2v2h-2zM625 358h2v2h-2zM633 360h4v2h-4zM621 363.9h2v2h-2zM631 365.9h2v2h-2zM637.1 365.9h2v2h-2zM617 367.9h2v2h-2zM614.9 369.9h2v2h-2zM627 369.9h2v2h-2zM617 375.9h2v2h-2zM586.8 377.8h2v2h-2zM655.2 379.8h2v2h-2zM623 397.7h2v2h-2zM604.9 413.6h2v2h-2zM546.6 429.5h2v2h-2z" fill="#0faeb9"/><path d="M663.2 332.1h2v2h-2zM619 373.9h2v2h-2z" fill="#fdbe3d"/><path d="M566.7 334.1h2v2h-2zM572.7 334.1h2v2h-2zM548.6 354h2v2h-2zM627 447.4h2v2h-2z" fill="#127dd8"/><path d="M604.9 334.1h2v2h-2zM560.6 348h2v2h-2zM554.6 354h2v2h-2zM655.2 361.9h2v2h-2zM659.2 371.9h2v2h-2zM550.6 417.6h2v2h-2zM590.8 425.5h2v2h-2zM546.6 433.5h2v2h-2zM659.2 433.5h2v2h-2zM598.8 447.4h2v2h-2z" fill="#1485d4"/><path d="M645.1 334.1h2v2h-2zM653.2 334.1h2v2h-2zM647.1 336.1h2v2h-2zM655.2 336.1h2v2h-2zM643.1 338.1h2v2h-2zM641.1 340.1h2v2h-2zM639.1 342.1h2v2h-2zM661.2 342.1h2v2h-2zM641.1 344.1h2v2h-2zM663.2 344.1h2v2h-2zM663.2 346.1h2v2h-2zM657.2 350h4v2h-4zM649.1 354h2v2h-2zM655.2 354h2v2h-2zM629 356h2v2h-2zM556.6 360h2v2h-2zM623 360h4v2h-4zM645.1 360h2v2h-2zM639.1 363.9h2v2h-2zM625 365.9h2v2h-2zM627 367.9h2v2h-2zM635.1 367.9h2v2h-2zM619 369.9h2v2h-2zM631 369.9h2v2h-2zM617 377.8h2v2h-2zM619 385.8h2v2h-2z" fill="#1db3af"/><path d="M647.1 334.1h2v2h-2zM663.2 342.1h2v2h-2zM637.1 346.1h4v2h-4zM635.1 348h2v2h-2zM639.1 348h2v2h-2zM635.1 350h4v2h-4zM647.1 356h2v2h-2zM651.1 356h2v2h-2zM641.1 361.9h2v2h-2zM619 365.9h2v2h-2zM617 369.9h2v2h-2zM621 371.9h2v2h-2zM619 375.9h2v2h-2z" fill="#25b5a9"/><path d="M651.1 334.1h2v2h-2zM536.5 338.1h2v2h-2zM661.2 348h2v2h-2zM651.1 350h2v2h-2zM633 356h2v2h-2zM645.1 356h2v2h-2zM627 358h2v2h-2zM647.1 358h2v2h-2zM633 367.9h2v2h-2zM604.9 375.9h2v2h-2z" fill="#2eb7a4"/><path d="M641.1 336.1h2v2h-2zM653.2 336.1h2v2h-2zM639.1 338.1h2v2h-2zM639.1 340.1h2v2h-2zM657.2 340.1h2v2h-2zM655.2 342.1h6v2h-6zM649.1 344.1h2v2h-2zM649.1 346.1h2v2h-2zM655.2 346.1h2v2h-2zM643.1 348h4v2h-4zM667.2 348h2v2h-2zM631 350h4v2h-4zM665.2 350h2v2h-2zM645.1 352h2v2h-2zM659.2 352h2v2h-2zM627 354h2v2h-2zM582.8 356h2v2h-2zM625 356h2v2h-2zM639.1 356h4v2h-4zM655.2 356h2v2h-2zM665.2 356h2v2h-2zM631 358h2v2h-2zM649.1 358h2v2h-2zM631 360h2v2h-2zM635.1 361.9h2v2h-2zM643.1 361.9h6v2h-6zM614.9 371.9h2v2h-2zM625 375.9h2v2h-2zM580.7 397.7h2v2h-2zM542.5 399.7h2v2h-2zM653.2 413.6h2v2h-2zM621 419.6h2v2h-2zM608.9 429.5h2v2h-2zM588.8 433.5h2v2h-2zM673.3 443.4h2v2h-2zM637.1 445.4h2v2h-2z" fill="#0aacbe"/><path d="M649.1 336.1h2v2h-2zM657.2 344.1h2v2h-2z" fill="#7cbf7b"/><path d="M651.1 336.1h2v2h-2zM643.1 346.1h2v2h-2zM657.2 348h2v2h-2zM635.1 352h2v2h-2zM643.1 356h2v2h-2zM633 358h2v2h-2zM625 363.9h2v2h-2zM633 363.9h2v2h-2zM619 367.9h2v2h-2zM627 371.9h2v2h-2z" fill="#59bd8c"/><path d="M649.1 338.1h4v2h-4zM651.1 346.1h2v2h-2zM647.1 348h2v2h-2zM643.1 350h2v2h-2zM637.1 356h2v2h-2zM639.1 360h2v2h-2zM625 361.9h2v2h-2zM623 365.9h2v2h-2z" fill="#92bf73"/><path d="M653.2 338.1h2v2h-2zM645.1 346.1h2v2h-2zM643.1 352h2v2h-2zM631 361.9h2v2h-2zM629 367.9h2v2h-2zM621 373.9h2v2h-2z" fill="#c0bc60"/><path d="M655.2 338.1h2v2h-2zM651.1 342.1h2v2h-2zM655.2 344.1h2v2h-2zM661.2 344.1h2v2h-2zM621 365.9h2v2h-2zM629 369.9h2v2h-2z" fill="#71bf80"/><path d="M657.2 338.1h2v2h-2zM643.1 342.1h2v2h-2zM661.2 346.1h2v2h-2zM659.2 348h2v2h-2zM655.2 350h2v2h-2zM649.1 352h2v2h-2zM635.1 356h2v2h-2zM645.1 358h2v2h-2zM641.1 360h2v2h-2zM627 363.9h2v2h-2zM633 371.9h2v2h-2zM623 373.9h2v2h-2z" fill="#42bb98"/><path d="M645.1 340.1h2v2h-2zM653.2 344.1h2v2h-2zM641.1 348h2v2h-2zM649.1 348h4v2h-4zM641.1 350h2v2h-2zM645.1 350h2v2h-2zM639.1 352h4v2h-4zM651.1 352h2v2h-2zM633 354h4v2h-4zM625 373.9h2v2h-2zM614.9 375.9h2v2h-2z" fill="#4dbc92"/><path d="M649.1 340.1h2v2h-2zM655.2 340.1h2v2h-2zM647.1 342.1h4v2h-4zM659.2 344.1h2v2h-2zM637.1 352h2v2h-2zM637.1 354h2v2h-2zM635.1 358h2v2h-2zM637.1 360h2v2h-2zM627 361.9h2v2h-2zM627 365.9h2v2h-2zM623 367.9h2v2h-2zM625 371.9h2v2h-2z" fill="#a5be6b"/><path d="M651.1 340.1h2v2h-2zM641.1 354h2v2h-2zM629 361.9h2v2h-2zM617 371.9h2v2h-2z" fill="#9cbf6f"/><path d="M653.2 340.1h2v2h-2zM643.1 344.1h2v2h-2zM647.1 344.1h2v2h-2zM657.2 346.1h4v2h-4zM647.1 354h2v2h-2zM629 363.9h2v2h-2zM635.1 365.9h2v2h-2zM631 367.9h2v2h-2z" fill="#87bf77"/><path d="M653.2 342.1h2v2h-2zM651.1 344.1h2v2h-2zM647.1 350h2v2h-2zM629 365.9h2v2h-2z" fill="#d1bb59"/><path d="M641.1 346.1h2v2h-2zM653.2 348h2v2h-2zM649.1 350h2v2h-2zM629 360h2v2h-2zM631 363.9h2v2h-2zM633 365.9h2v2h-2z" fill="#65be86"/><path d="M647.1 346.1h2v2h-2z" fill="#c8bc5d"/><path d="M653.2 346.1h2v2h-2zM647.1 352h2v2h-2zM645.1 354h2v2h-2zM617 373.9h2v2h-2z" fill="#b7bd64"/><path d="M655.2 348h2v2h-2zM653.2 350h2v2h-2zM651.1 354h2v2h-2zM649.1 356h2v2h-2zM639.1 358h2v2h-2zM643.1 360h2v2h-2zM635.1 363.9h2v2h-2z" fill="#38b99e"/><path d="M639.1 354h2v2h-2zM637.1 358h2v2h-2z" fill="#d9ba56"/><path d="M643.1 354h2v2h-2zM625 367.9h2v2h-2zM619 371.9h2v2h-2zM623 371.9h2v2h-2z" fill="#f8bb44"/><path d="M633 361.9h2v2h-2z" fill="#f9fb0e"/><path d="M621 369.9h2v2h-2z" fill="#f6f313"/><path d="M623 369.9h2v2h-2z" fill="#fec832"/><path d="M625 369.9h2v2h-2z" fill="#e9b94e"/><path d="M544.5 421.6h2v2h-2zM641.1 433.5h2v2h-2z" fill="#1079da"/><rect x="536.5" y="322.2" width="142.8" height="127.2" fill="none" stroke="#6a6a6a" stroke-width="0.6"/><path d="M541.1 449.4v-1.8M536.5 445.3h1.8M563.9 449.4v-1.8M536.5 424.7h1.8M586.7 449.4v-1.8M536.5 404.2h1.8M609.5 449.4v-1.8M536.5 383.6h1.8M632.3 449.4v-1.8M536.5 363.1h1.8M655.1 449.4v-1.8M536.5 342.5h1.8M677.9 449.4v-1.8M536.5 322h1.8" stroke="#222" stroke-width="0.6"/><text x="541.1" y="457.8" font-size="7.2" text-anchor="middle" fill="#2a2a2a" font-weight="normal" font-style="normal" >0</text><text x="533.9" y="447.9" font-size="7.2" text-anchor="end" fill="#2a2a2a" font-weight="normal" font-style="normal" >0</text><text x="563.9" y="457.8" font-size="7.2" text-anchor="middle" fill="#2a2a2a" font-weight="normal" font-style="normal" >0.5</text><text x="533.9" y="427.3" font-size="7.2" text-anchor="end" fill="#2a2a2a" font-weight="normal" font-style="normal" >0.5</text><text x="586.7" y="457.8" font-size="7.2" text-anchor="middle" fill="#2a2a2a" font-weight="normal" font-style="normal" >1</text><text x="533.9" y="406.8" font-size="7.2" text-anchor="end" fill="#2a2a2a" font-weight="normal" font-style="normal" >1</text><text x="609.5" y="457.8" font-size="7.2" text-anchor="middle" fill="#2a2a2a" font-weight="normal" font-style="normal" >1.5</text><text x="533.9" y="386.2" font-size="7.2" text-anchor="end" fill="#2a2a2a" font-weight="normal" font-style="normal" >1.5</text><text x="632.3" y="457.8" font-size="7.2" text-anchor="middle" fill="#2a2a2a" font-weight="normal" font-style="normal" >2</text><text x="533.9" y="365.7" font-size="7.2" text-anchor="end" fill="#2a2a2a" font-weight="normal" font-style="normal" >2</text><text x="655.1" y="457.8" font-size="7.2" text-anchor="middle" fill="#2a2a2a" font-weight="normal" font-style="normal" >2.5</text><text x="533.9" y="345.1" font-size="7.2" text-anchor="end" fill="#2a2a2a" font-weight="normal" font-style="normal" >2.5</text><text x="677.9" y="457.8" font-size="7.2" text-anchor="middle" fill="#2a2a2a" font-weight="normal" font-style="normal" >3</text><text x="533.9" y="324.6" font-size="7.2" text-anchor="end" fill="#2a2a2a" font-weight="normal" font-style="normal" >3</text><text x="607.9" y="314" font-size="8.2" text-anchor="middle" fill="#1a1a1a" font-weight="normal" font-style="normal" >Memorised versus Novel T4</text><text x="607.4" y="488.5" font-size="7" text-anchor="middle" fill="#2a2a2a" font-weight="normal" font-style="normal" >Training time (s)</text><path d="M612.5 368.3H611V379.7H612.5" stroke="#c8323f" stroke-width="1.15" fill="none"/><ellipse cx="540.3" cy="471.8" rx="2.3" ry="1.6" transform="rotate(-24 540.3 471.8)" fill="#111"/><path d="M542.1 471.6V463.6" stroke="#111" stroke-width="0.9" fill="none"/><path d="M541.7 463.6C542.4 465.5 545.4 466.4 545 469.7C544.6 467.7 543.2 467.1 541.7 466.8z" fill="#111"/><ellipse cx="556.6" cy="471.8" rx="2.3" ry="1.6" transform="rotate(-24 556.6 471.8)" fill="#111"/><path d="M558.4 471.6V463.6" stroke="#111" stroke-width="0.9" fill="none"/><path d="M558 463.6C558.7 465.5 561.7 466.4 561.3 469.7C560.9 467.7 559.5 467.1 558 466.8z" fill="#111"/><ellipse cx="572.9" cy="471.8" rx="2.3" ry="1.6" transform="rotate(-24 572.9 471.8)" fill="#111"/><path d="M574.7 471.6V463.6" stroke="#111" stroke-width="0.9" fill="none"/><path d="M574.3 463.6C575 465.5 578 466.4 577.6 469.7C577.2 467.7 575.8 467.1 574.3 466.8z" fill="#111"/><ellipse cx="589.2" cy="471.8" rx="2.3" ry="1.6" transform="rotate(-24 589.2 471.8)" fill="#111"/><path d="M591 471.6V463.6" stroke="#111" stroke-width="0.9" fill="none"/><path d="M590.6 463.6C591.3 465.5 594.3 466.4 593.9 469.7C593.5 467.7 592.1 467.1 590.6 466.8z" fill="#111"/><ellipse cx="605.5" cy="471.8" rx="2.3" ry="1.6" transform="rotate(-24 605.5 471.8)" fill="#111"/><path d="M607.3 471.6V463.6" stroke="#111" stroke-width="0.9" fill="none"/><path d="M606.9 463.6C607.6 465.5 610.6 466.4 610.2 469.7C609.8 467.7 608.4 467.1 606.9 466.8z" fill="#111"/><path d="M602.7 473.5V475.3H610.7V473.5" stroke="#222" stroke-width="0.9" fill="none"/><text transform="translate(25 386) rotate(-90)" font-size="7" text-anchor="middle" fill="#2a2a2a">Testing time (s)</text><linearGradient id="gpar" x1="0" y1="0" x2="0" y2="1"><stop offset="0%" stop-color="#f9fb0e"/><stop offset="4.8%" stop-color="#f5e41d"/><stop offset="9.5%" stop-color="#fad32a"/><stop offset="14.3%" stop-color="#ffc337"/><stop offset="19%" stop-color="#f1b94a"/><stop offset="23.8%" stop-color="#d9ba56"/><stop offset="28.6%" stop-color="#c0bc60"/><stop offset="33.3%" stop-color="#a5be6b"/><stop offset="38.1%" stop-color="#87bf77"/><stop offset="42.9%" stop-color="#65be86"/><stop offset="47.6%" stop-color="#42bb98"/><stop offset="52.4%" stop-color="#25b5a9"/><stop offset="57.1%" stop-color="#0faeb9"/><stop offset="61.9%" stop-color="#06a7c6"/><stop offset="66.7%" stop-color="#079ccf"/><stop offset="71.4%" stop-color="#108ed2"/><stop offset="76.2%" stop-color="#1481d6"/><stop offset="81%" stop-color="#0d75dc"/><stop offset="85.7%" stop-color="#0268e1"/><stop offset="90.5%" stop-color="#2053d4"/><stop offset="95.2%" stop-color="#353dad"/><stop offset="100%" stop-color="#352a87"/></linearGradient><rect x="691.3" y="344.4" width="6.1" height="81" fill="url(#gpar)" stroke="#333" stroke-width="0.5"/><text x="699.4" y="347" font-size="7.2" text-anchor="start" fill="#2a2a2a" font-weight="normal" font-style="normal" >10</text><text x="699.4" y="373.6" font-size="7.2" text-anchor="start" fill="#2a2a2a" font-weight="normal" font-style="normal" >5</text><text x="699.4" y="400.1" font-size="7.2" text-anchor="start" fill="#2a2a2a" font-weight="normal" font-style="normal" >0</text><text x="699.4" y="426.6" font-size="7.2" text-anchor="start" fill="#2a2a2a" font-weight="normal" font-style="normal" >-5</text><text x="686.6" y="436" font-size="7" text-anchor="start" fill="#2a2a2a" font-weight="normal" font-style="normal" >t-val</text><path d="M132.9 537.6V721.2M139.6 537.6V721.2M146.2 537.6V721.2M152.9 537.6V721.2M159.5 537.6V721.2M166.2 537.6V721.2M172.8 537.6V721.2M179.5 537.6V721.2M186.1 537.6V721.2M192.8 537.6V721.2M199.4 537.6V721.2M206.1 537.6V721.2M212.7 537.6V721.2M219.4 537.6V721.2M226 537.6V721.2M232.7 537.6V721.2M239.3 537.6V721.2M245.9 537.6V721.2M252.6 537.6V721.2M259.2 537.6V721.2M265.9 537.6V721.2M272.6 537.6V721.2M279.2 537.6V721.2M285.9 537.6V721.2M292.5 537.6V721.2M299.1 537.6V721.2M305.8 537.6V721.2M312.5 537.6V721.2M319.1 537.6V721.2M325.8 537.6V721.2M332.4 537.6V721.2M339.1 537.6V721.2M345.7 537.6V721.2M352.4 537.6V721.2M126.1 716.3H359.3M126.1 711.9H359.3M126.1 707.5H359.3M126.1 703.1H359.3M126.1 698.6H359.3M126.1 694.2H359.3M126.1 689.8H359.3M126.1 685.4H359.3M126.1 681H359.3M126.1 676.6H359.3M126.1 672.2H359.3M126.1 667.8H359.3M126.1 663.4H359.3M126.1 658.9H359.3M126.1 654.5H359.3M126.1 650.1H359.3M126.1 645.7H359.3M126.1 641.3H359.3M126.1 636.9H359.3M126.1 632.5H359.3M126.1 628H359.3M126.1 623.6H359.3M126.1 619.2H359.3M126.1 614.8H359.3M126.1 610.4H359.3M126.1 606H359.3M126.1 601.6H359.3M126.1 597.2H359.3M126.1 592.8H359.3M126.1 588.3H359.3M126.1 583.9H359.3M126.1 579.5H359.3M126.1 575.1H359.3M126.1 570.7H359.3M126.1 566.3H359.3M126.1 561.9H359.3M126.1 557.4H359.3M126.1 553H359.3M126.1 548.6H359.3M126.1 544.2H359.3M126.1 539.8H359.3" stroke="#dedede" stroke-width="0.6" fill="none"/><path d="M126.2 601.6l1.1 5l1 2.6l1 -3.8l0.3 -6l0.7 6.9l1 6.7l0.9 4l0.1 -0.7l1 -13.3l1 -9.6l1 -14.6l0.3 1.1l0.7 25.6l1 38.2l1 35.7l1 32.1l0 8.4l1 -38.8l1 -40.6l1 -42.8l0.8 -27.6l0.2 4.7l1 7.1l1 12.7l1 8.8l0.9 7.1l0.1 -3.4l1 -0.3l1 -3.3l1 -5.3l1 1.8l1 -6.6l0.2 5.3l0.8 -3.3l1 14.4l1 7.2l1 -0.2l1.1 6.5l1 3.1l1 5.3l1 11.3l1 1.9l0.8 -2l0.2 5.4l1 -14.3l1 -5l1 -7.9l0.1 0.8l0.9 2.5l1 6.4l0.7 -5l0.3 3.4l1 -1.8l1 -7.4l1 1.5l1 -7.3l1 -3.9l1 -4l1 -1.7l1 -5.9l1 0.6l1 -5.5l0.4 -3l0.6 4.1l1 0.7l1 11.4l1 -5.6l1 2.4l1 4.4l1 -0.7l0 -2.8l1 -2.1l1 -6.4l1.1 -2.7l0.3 -1.3l0.7 3l1 9.6l1 3.8l1 4.1l1 9.2l1 6.9l1 7.8l0.3 -2.8l0.7 -0.2l1 -4.6l1 -5.3l1 -6.1l1 0.8l1 -5.8l1 -8.6l1 -0.1l1 -6.9l0.9 -9.5l0.1 10.4l1 -2.6l1 0.3l1 -0.9l1 5.7l1 4.9l1 1l1 -1l0.2 4.3l0.8 -8.4l1 9.9l1 -4.1l1 3.5l1 3.3l1 0.9l1.1 6.7l0.1 -2.6l0.9 -5.7l1 -2.7l1 -4.8l1 -3.6l1 -6.4l1 1.5l1 -6.7l1 -6l1 -0.4l0.7 -2l0.3 -2.9l1 3.4l1 7.9l1 4l1 0l1 2.1l0.7 7.1l0.3 -0.7l1 -7.4l1 -9.6l1 4.7l0.7 -1.8l0.3 4l1 2.7l1 12.3l1 12.7l0.5 3.1l0.5 -2l1 -5.4l1 -4.3l1 -5.3l0.7 2.8l0.3 -6.2l1 0.4l1 -10.7l1.1 -3.8l1 -6.1l0.9 0.3l0.1 -0.9l1 15l1 12.5l0.6 13l0.4 -3.7l1 -3.4l1 -7.2l1 -2.1l0.5 -7.3l0.5 4.8l1 4.7l1 -1.1l1 3.5l1 7.7l1 -1.3l1 10.5l1 -2.5l1 12.1l0.2 -8.5l0.8 5.2l1 -7.7l1 -3.2l1 -0.5l1 4.8l1 -7.2l1 -3.9l1 -5.2l1 1.2l1 -1.6l0.8 -10.9l0.2 7.5l1 -3.9l1 18.3l1.1 -5.9l1 -3.6l1 2.5l1 0l1 -8.5l0 -4.5l1 7.9l1 5.5l1 4l1 -2.8l1 -17.4l1 15.2l0.7 1.2l0.3 -2.4l1 -8.3l1 12.1l1 -9.8l1 12.7l1 5.6l0 -1l1 -0.1l1 1l1 4.1l1 -10.2l1 -2.8l1 4l1 4.6l1 -8.5l1 2.7l1 2.2l1 -6.9l1 -4.3l1 11.6l1 1.9l0.7 -12.8l0.4 6.5l1 -11.1l1 7.2l1 2.5l1 6l1 2.3l1 -13.4l1 4.5l1 4.6l1 0.7l1 -2l1 3.8l1 -4.5l1 3.1l1 -10.8l1 4.4l1 6.7l1 -0.3l1 -12.4l1 2.9l0.5 1.3l0.5 12.3l1 -8.4l1 2.1l1 -5.7l1 -2.4l1 -1.5l1 -0.9l1 16.9l1 -17.3l1 13l1 -15.1l1.1 -0.3l1 18.6l1 -10.5l1 1.7l1 0.9l1 -3.9l1 1.9l1 17.7l1 -14.4l1 0.4l1 -5.3l1 -8.5l1 2.1l1 5.7l1 0.4l1 -1.7" stroke="#f4a3ab" stroke-width="5.0" stroke-opacity="0.55" fill="none" stroke-linejoin="round"/><path d="M126.2 601.6l1.1 5l1 2.6l1 -3.8l0.3 -6l0.7 6.9l1 6.7l0.9 4l0.1 -0.7l1 -13.3l1 -9.6l1 -14.6l0.3 1.1l0.7 25.6l1 38.2l1 35.7l1 32.1l0 8.4l1 -38.8l1 -40.6l1 -42.8l0.8 -27.6l0.2 4.7l1 7.1l1 12.7l1 8.8l0.9 7.1l0.1 -3.4l1 -0.3l1 -3.3l1 -5.3l1 1.8l1 -6.6l0.2 5.3l0.8 -3.3l1 14.4l1 7.2l1 -0.2l1.1 6.5l1 3.1l1 5.3l1 11.3l1 1.9l0.8 -2l0.2 5.4l1 -14.3l1 -5l1 -7.9l0.1 0.8l0.9 2.5l1 6.4l0.7 -5l0.3 3.4l1 -1.8l1 -7.4l1 1.5l1 -7.3l1 -3.9l1 -4l1 -1.7l1 -5.9l1 0.6l1 -5.5l0.4 -3l0.6 4.1l1 0.7l1 11.4l1 -5.6l1 2.4l1 4.4l1 -0.7l0 -2.8l1 -2.1l1 -6.4l1.1 -2.7l0.3 -1.3l0.7 3l1 9.6l1 3.8l1 4.1l1 9.2l1 6.9l1 7.8l0.3 -2.8l0.7 -0.2l1 -4.6l1 -5.3l1 -6.1l1 0.8l1 -5.8l1 -8.6l1 -0.1l1 -6.9l0.9 -9.5l0.1 10.4l1 -2.6l1 0.3l1 -0.9l1 5.7l1 4.9l1 1l1 -1l0.2 4.3l0.8 -8.4l1 9.9l1 -4.1l1 3.5l1 3.3l1 0.9l1.1 6.7l0.1 -2.6l0.9 -5.7l1 -2.7l1 -4.8l1 -3.6l1 -6.4l1 1.5l1 -6.7l1 -6l1 -0.4l0.7 -2l0.3 -2.9l1 3.4l1 7.9l1 4l1 0l1 2.1l0.7 7.1l0.3 -0.7l1 -7.4l1 -9.6l1 4.7l0.7 -1.8l0.3 4l1 2.7l1 12.3l1 12.7l0.5 3.1l0.5 -2l1 -5.4l1 -4.3l1 -5.3l0.7 2.8l0.3 -6.2l1 0.4l1 -10.7l1.1 -3.8l1 -6.1l0.9 0.3l0.1 -0.9l1 15l1 12.5l0.6 13l0.4 -3.7l1 -3.4l1 -7.2l1 -2.1l0.5 -7.3l0.5 4.8l1 4.7l1 -1.1l1 3.5l1 7.7l1 -1.3l1 10.5l1 -2.5l1 12.1l0.2 -8.5l0.8 5.2l1 -7.7l1 -3.2l1 -0.5l1 4.8l1 -7.2l1 -3.9l1 -5.2l1 1.2l1 -1.6l0.8 -10.9l0.2 7.5l1 -3.9l1 18.3l1.1 -5.9l1 -3.6l1 2.5l1 0l1 -8.5l0 -4.5l1 7.9l1 5.5l1 4l1 -2.8l1 -17.4l1 15.2l0.7 1.2l0.3 -2.4l1 -8.3l1 12.1l1 -9.8l1 12.7l1 5.6l0 -1l1 -0.1l1 1l1 4.1l1 -10.2l1 -2.8l1 4l1 4.6l1 -8.5l1 2.7l1 2.2l1 -6.9l1 -4.3l1 11.6l1 1.9l0.7 -12.8l0.4 6.5l1 -11.1l1 7.2l1 2.5l1 6l1 2.3l1 -13.4l1 4.5l1 4.6l1 0.7l1 -2l1 3.8l1 -4.5l1 3.1l1 -10.8l1 4.4l1 6.7l1 -0.3l1 -12.4l1 2.9l0.5 1.3l0.5 12.3l1 -8.4l1 2.1l1 -5.7l1 -2.4l1 -1.5l1 -0.9l1 16.9l1 -17.3l1 13l1 -15.1l1.1 -0.3l1 18.6l1 -10.5l1 1.7l1 0.9l1 -3.9l1 1.9l1 17.7l1 -14.4l1 0.4l1 -5.3l1 -8.5l1 2.1l1 5.7l1 0.4l1 -1.7" stroke="#e8464f" stroke-width="1.2" fill="none" stroke-linejoin="round"/><path d="M126.2 601.8l1.1 5.1l1 0l1 -2.4l0.3 1.5l0.7 -2.5l1 6.8l0.9 5.7l0.1 -2.2l1 -7.1l1 -10l1 -15.6l0.3 -3.2l0.7 29.4l1 33.9l1 34.9l1 41.5l0 -2.1l1 -38.9l1 -38.8l1 -39.8l0.8 -28.7l0.2 0.2l1 14.5l1 8.4l1 6.2l0.9 11.1l0.1 -0.2l1 -5l1 -4.8l1 -1.8l1 -6.5l1 -5.7l0.2 6.9l0.8 6.7l1 -0.6l1 10.4l1 1.3l1.1 3.3l1 14l1 7.3l1 5.8l1 6l0.8 6.1l0.2 0l1 -13.4l1 -4.1l1 -16l0.1 -0.4l0.9 10.4l1 17.8l0.7 10.5l0.3 3.2l1 -4l1 -2.9l1 -1.9l1 0.9l0.4 -4.2l0.6 -2l1 0l1 -0.2l1 -8.1l1 -7.7l1 -4.9l0.4 -0.6l0.6 1.1l1 -1.3l1 4.4l1 5.2l1 -3.2l0.7 -2.5l0.3 3.3l1 -7.9l1 -4l1 -2.7l1.1 -5.3l0.3 2.1l0.7 2.4l1 3.3l1 11.1l1 9.6l1 0.5l1 14.3l1 -0.7l0.3 6.3l0.7 -4.1l1 -3.6l1 -3.4l1 -7l1 -1.3l1 -2.3l1 -6.5l1 0.4l1 -8.4l0.9 0.5l0.1 -4.6l1 -1.5l1 0.6l1 2.4l1 7.1l1 -5.5l1 -4.3l1 5.4l0.2 -3l0.8 6.8l1 -1.5l1 14.2l1 0.3l1 4l1 2.1l1.1 5.7l0.1 0.3l0.9 2.4l1 -16.2l1 0l1 -2.6l1 -10.2l1 2l1 -8.7l1 -6.6l1 -4.1l0.7 -2.2l0.3 1.3l1 4l1 -2.2l1 5.9l1 -4.9l1 2l0.7 3.4l0.3 5l1 -7.9l1 -0.9l1 3.8l0.7 -2.4l0.3 0.1l1 3.6l1 8.1l1 6.4l1 4.3l1 6.4l0 -7.4l1 12.8l1 23.7l0.7 3.7l0.3 -9.9l1 -12.1l1 -14.2l1.1 -10.6l1 -10.4l1 -12.1l0.6 -10.6l0.4 7.1l1 17.4l0.6 1.9l0.4 5.7l1 -6.4l1 2.2l1 2.2l1 -0.4l1 6.8l1 -2.7l0.9 1.1l0.1 -2.9l1 -4.8l1 -7.2l1 -6.1l0.2 4.7l0.8 -2l1 -10.9l1 5.8l1 -4.7l1 -6l1 2.9l1 -13.2l1 12l1 -3.3l1 5l1 -16l1 4.2l0.8 -6.7l0.2 0.7l1 -9.4l1 11.2l1.1 6.4l0.1 0.4l0.9 -2.4l1 20.8l1 -2.7l1 11.3l0 -2.8l1 -12.5l1 12.2l1 -2.7l1 -7.5l1 13.9l1 -9.7l1 7.7l1 -8.2l1 3.8l1 -8.6l0 6.5l1 -2.9l1 -5.3l1 9.4l1 -8l1 4.1l1 -0.8l1 10.2l1 -5.1l1 0.8l1 -3.2l1 -1.9l1 1.1l1 2.7l1 7.5l1 0l1 -5.5l0.7 10.3l0.4 -5l1 -1.5l1 -3.5l1 -0.8l1 10.6l1 -11.3l1 15.7l1 -7.8l1 -9.8l1 7.5l1 -4.6l1 -13l1 16.8l1 -0.3l1 11.9l1 -15.3l1 -6.9l1 7.6l1 0.6l1 -18.2l0.5 17.6l0.5 0l1 0.3l1 7l1 -11.2l1 -3.5l1 1.2l1 1.6l1 10.1l1 -1.8l1 -21.1l1 26l1.1 0.9l1 -8.7l1 9.5l1 -1.8l1 1.6l1 -2l1 -6.2l1 -6.2l1 3.9l1 -4.2l1 7.6l1 14.9l1 -12.4l1 6.3l1 -13l1 -1.9" stroke="#c2dde9" stroke-width="5.0" stroke-opacity="0.55" fill="none" stroke-linejoin="round"/><path d="M126.2 601.8l1.1 5.1l1 0l1 -2.4l0.3 1.5l0.7 -2.5l1 6.8l0.9 5.7l0.1 -2.2l1 -7.1l1 -10l1 -15.6l0.3 -3.2l0.7 29.4l1 33.9l1 34.9l1 41.5l0 -2.1l1 -38.9l1 -38.8l1 -39.8l0.8 -28.7l0.2 0.2l1 14.5l1 8.4l1 6.2l0.9 11.1l0.1 -0.2l1 -5l1 -4.8l1 -1.8l1 -6.5l1 -5.7l0.2 6.9l0.8 6.7l1 -0.6l1 10.4l1 1.3l1.1 3.3l1 14l1 7.3l1 5.8l1 6l0.8 6.1l0.2 0l1 -13.4l1 -4.1l1 -16l0.1 -0.4l0.9 10.4l1 17.8l0.7 10.5l0.3 3.2l1 -4l1 -2.9l1 -1.9l1 0.9l0.4 -4.2l0.6 -2l1 0l1 -0.2l1 -8.1l1 -7.7l1 -4.9l0.4 -0.6l0.6 1.1l1 -1.3l1 4.4l1 5.2l1 -3.2l0.7 -2.5l0.3 3.3l1 -7.9l1 -4l1 -2.7l1.1 -5.3l0.3 2.1l0.7 2.4l1 3.3l1 11.1l1 9.6l1 0.5l1 14.3l1 -0.7l0.3 6.3l0.7 -4.1l1 -3.6l1 -3.4l1 -7l1 -1.3l1 -2.3l1 -6.5l1 0.4l1 -8.4l0.9 0.5l0.1 -4.6l1 -1.5l1 0.6l1 2.4l1 7.1l1 -5.5l1 -4.3l1 5.4l0.2 -3l0.8 6.8l1 -1.5l1 14.2l1 0.3l1 4l1 2.1l1.1 5.7l0.1 0.3l0.9 2.4l1 -16.2l1 0l1 -2.6l1 -10.2l1 2l1 -8.7l1 -6.6l1 -4.1l0.7 -2.2l0.3 1.3l1 4l1 -2.2l1 5.9l1 -4.9l1 2l0.7 3.4l0.3 5l1 -7.9l1 -0.9l1 3.8l0.7 -2.4l0.3 0.1l1 3.6l1 8.1l1 6.4l1 4.3l1 6.4l0 -7.4l1 12.8l1 23.7l0.7 3.7l0.3 -9.9l1 -12.1l1 -14.2l1.1 -10.6l1 -10.4l1 -12.1l0.6 -10.6l0.4 7.1l1 17.4l0.6 1.9l0.4 5.7l1 -6.4l1 2.2l1 2.2l1 -0.4l1 6.8l1 -2.7l0.9 1.1l0.1 -2.9l1 -4.8l1 -7.2l1 -6.1l0.2 4.7l0.8 -2l1 -10.9l1 5.8l1 -4.7l1 -6l1 2.9l1 -13.2l1 12l1 -3.3l1 5l1 -16l1 4.2l0.8 -6.7l0.2 0.7l1 -9.4l1 11.2l1.1 6.4l0.1 0.4l0.9 -2.4l1 20.8l1 -2.7l1 11.3l0 -2.8l1 -12.5l1 12.2l1 -2.7l1 -7.5l1 13.9l1 -9.7l1 7.7l1 -8.2l1 3.8l1 -8.6l0 6.5l1 -2.9l1 -5.3l1 9.4l1 -8l1 4.1l1 -0.8l1 10.2l1 -5.1l1 0.8l1 -3.2l1 -1.9l1 1.1l1 2.7l1 7.5l1 0l1 -5.5l0.7 10.3l0.4 -5l1 -1.5l1 -3.5l1 -0.8l1 10.6l1 -11.3l1 15.7l1 -7.8l1 -9.8l1 7.5l1 -4.6l1 -13l1 16.8l1 -0.3l1 11.9l1 -15.3l1 -6.9l1 7.6l1 0.6l1 -18.2l0.5 17.6l0.5 0l1 0.3l1 7l1 -11.2l1 -3.5l1 1.2l1 1.6l1 10.1l1 -1.8l1 -21.1l1 26l1.1 0.9l1 -8.7l1 9.5l1 -1.8l1 1.6l1 -2l1 -6.2l1 -6.2l1 3.9l1 -4.2l1 7.6l1 14.9l1 -12.4l1 6.3l1 -13l1 -1.9" stroke="#4aa0c0" stroke-width="1.2" fill="none" stroke-linejoin="round"/><path d="M126.2 607.2l1.1 -1.2l1 -3.8l1 -2.4l0.3 5.7l0.7 -3.7l1 8.4l0.9 9.2l0.1 -0.3l1 -13.5l1 -10.7l1 -9.5l0.3 -2l0.7 20.3l1 41.1l1 31.1l1 35.4l0 5.8l1 -43l1 -33.8l1 -44.6l0.8 -26.8l0.2 8.1l1 6.4l1 8.6l1 7.9l0.9 5.3l0.1 7.5l1 -9.1l1 -11.9l1 3.6l1 -4.1l1 -6.6l0.2 2.6l0.8 0.5l1 8.1l1 5l1 6.3l1.1 4.6l1 12.7l1 5l1 12.2l1 -0.4l0.8 7.5l0.2 -2.5l1 -7l1 -9.8l1 -11.8l0.1 2l0.9 8.2l1 11l0.7 7.2l0.3 -2.4l1 3.2l1 -0.7l1 0.2l1 -1.3l0.4 -1l0.6 -1.4l1 -5.7l1 -7.7l1 -1.1l1 -5.2l1 -8.6l0.4 1l0.6 -0.3l1 6l1 -0.8l1 -5.2l1 5.9l0.7 2.6l0.3 -1.6l1 0.6l1 -3.3l1 -4.8l1.1 -5l0.3 6.6l0.7 -5.8l1 15.9l1 6.9l1 13.2l1 5.1l1 4.8l1 7l0.3 7.3l0.7 -2.5l1 -5.5l1 -11.4l1 0.9l1 -8.5l1 -2.7l1 -8.1l1 -2l1 -1.5l0.9 -3.2l0.1 -5.1l1 1.8l1 -0.8l1 -2.8l1 2.5l1 -1.5l1 3l1 1l0.2 -0.2l0.8 1.9l1 -1.5l1 6.7l1 4.9l1 6.2l1 1.3l1.1 -0.7l0.1 2.1l0.9 -1.5l1 -3.6l1 -6.6l1 -2.5l1 -6.7l1 -4.2l1 -4.7l1 0.1l1 -3l0.7 -10.4l0.3 7.6l1 1.6l1 -0.2l1 0.2l1 3.6l1 -1.4l0.7 7.8l0.3 -0.3l1 -2.4l1 -4.4l1 -0.5l0.7 1.8l0.3 -1.8l1 6.2l1 5.8l1 6l1 1.9l1 7l0 -1.4l1 16.4l1 12.8l0.7 8l0.3 -3.5l1 -14.6l1 -11.3l1.1 -11.3l1 -14.8l1 -6.3l0.6 -14.3l0.4 11.8l1 2.7l0.6 5.6l0.4 -0.2l1 4l1 0.1l1 0.9l1 2.9l1 0.7l1 -0.7l0.9 2.7l0.1 0.5l1 -7.4l1 -6.2l1 -10.7l0.2 6.5l0.8 -2.1l1 -7.1l1 2.8l1 -0.1l1 -5.9l1 -4.3l1 -4.2l1 7.8l1 -4.5l1 -4.6l1 -2.8l1 -3.6l0.8 -0.3l0.2 3.1l1 6.7l1 -2.9l1.1 -9.5l0.1 1.6l0.9 9.1l1 13.4l1 1.9l1 -3l0 14.9l1 -3.8l1 -7.4l1 13.2l1 -14.8l1 6.8l1 -15.7l1 12.8l1 -3.8l1 1l1 -7.2l0 10.4l1 -3.1l1 6.4l1 6.7l1 -8.6l1 -0.4l1 4.9l1 1.8l1 -6.4l1 1.3l1 2.6l1 -17l1 16.8l1 -7.1l1 14.1l1 -15.9l1 12.2l0.7 2.3l0.4 -1l1 -1.8l1 2.9l1 2.5l1 -5l1 4.8l1 -4.4l1 0l1 3.6l1 -6.6l1 1.6l1 0.8l1 4.5l1 8.4l1 -29.3l1 11.4l1 4.9l1 -5.2l1 2.5l1 0.8l0.5 8.9l0.5 -1.4l1 -12.6l1 -2.8l1 -1.5l1 16l1 -13.4l1 -10.8l1 11.7l1 0l1 0.9l1 15l1.1 -17.7l1 -0.5l1 6.9l1 4.1l1 -2.2l1 -4.7l1 -4.9l1 6.4l1 -1.6l1 1.7l1 4.3l1 2l1 -7.4l1 2.7l1 -2.3l1 -14.6" stroke="#bcd5f0" stroke-width="5.0" stroke-opacity="0.55" fill="none" stroke-linejoin="round"/><path d="M126.2 607.2l1.1 -1.2l1 -3.8l1 -2.4l0.3 5.7l0.7 -3.7l1 8.4l0.9 9.2l0.1 -0.3l1 -13.5l1 -10.7l1 -9.5l0.3 -2l0.7 20.3l1 41.1l1 31.1l1 35.4l0 5.8l1 -43l1 -33.8l1 -44.6l0.8 -26.8l0.2 8.1l1 6.4l1 8.6l1 7.9l0.9 5.3l0.1 7.5l1 -9.1l1 -11.9l1 3.6l1 -4.1l1 -6.6l0.2 2.6l0.8 0.5l1 8.1l1 5l1 6.3l1.1 4.6l1 12.7l1 5l1 12.2l1 -0.4l0.8 7.5l0.2 -2.5l1 -7l1 -9.8l1 -11.8l0.1 2l0.9 8.2l1 11l0.7 7.2l0.3 -2.4l1 3.2l1 -0.7l1 0.2l1 -1.3l0.4 -1l0.6 -1.4l1 -5.7l1 -7.7l1 -1.1l1 -5.2l1 -8.6l0.4 1l0.6 -0.3l1 6l1 -0.8l1 -5.2l1 5.9l0.7 2.6l0.3 -1.6l1 0.6l1 -3.3l1 -4.8l1.1 -5l0.3 6.6l0.7 -5.8l1 15.9l1 6.9l1 13.2l1 5.1l1 4.8l1 7l0.3 7.3l0.7 -2.5l1 -5.5l1 -11.4l1 0.9l1 -8.5l1 -2.7l1 -8.1l1 -2l1 -1.5l0.9 -3.2l0.1 -5.1l1 1.8l1 -0.8l1 -2.8l1 2.5l1 -1.5l1 3l1 1l0.2 -0.2l0.8 1.9l1 -1.5l1 6.7l1 4.9l1 6.2l1 1.3l1.1 -0.7l0.1 2.1l0.9 -1.5l1 -3.6l1 -6.6l1 -2.5l1 -6.7l1 -4.2l1 -4.7l1 0.1l1 -3l0.7 -10.4l0.3 7.6l1 1.6l1 -0.2l1 0.2l1 3.6l1 -1.4l0.7 7.8l0.3 -0.3l1 -2.4l1 -4.4l1 -0.5l0.7 1.8l0.3 -1.8l1 6.2l1 5.8l1 6l1 1.9l1 7l0 -1.4l1 16.4l1 12.8l0.7 8l0.3 -3.5l1 -14.6l1 -11.3l1.1 -11.3l1 -14.8l1 -6.3l0.6 -14.3l0.4 11.8l1 2.7l0.6 5.6l0.4 -0.2l1 4l1 0.1l1 0.9l1 2.9l1 0.7l1 -0.7l0.9 2.7l0.1 0.5l1 -7.4l1 -6.2l1 -10.7l0.2 6.5l0.8 -2.1l1 -7.1l1 2.8l1 -0.1l1 -5.9l1 -4.3l1 -4.2l1 7.8l1 -4.5l1 -4.6l1 -2.8l1 -3.6l0.8 -0.3l0.2 3.1l1 6.7l1 -2.9l1.1 -9.5l0.1 1.6l0.9 9.1l1 13.4l1 1.9l1 -3l0 14.9l1 -3.8l1 -7.4l1 13.2l1 -14.8l1 6.8l1 -15.7l1 12.8l1 -3.8l1 1l1 -7.2l0 10.4l1 -3.1l1 6.4l1 6.7l1 -8.6l1 -0.4l1 4.9l1 1.8l1 -6.4l1 1.3l1 2.6l1 -17l1 16.8l1 -7.1l1 14.1l1 -15.9l1 12.2l0.7 2.3l0.4 -1l1 -1.8l1 2.9l1 2.5l1 -5l1 4.8l1 -4.4l1 0l1 3.6l1 -6.6l1 1.6l1 0.8l1 4.5l1 8.4l1 -29.3l1 11.4l1 4.9l1 -5.2l1 2.5l1 0.8l0.5 8.9l0.5 -1.4l1 -12.6l1 -2.8l1 -1.5l1 16l1 -13.4l1 -10.8l1 11.7l1 0l1 0.9l1 15l1.1 -17.7l1 -0.5l1 6.9l1 4.1l1 -2.2l1 -4.7l1 -4.9l1 6.4l1 -1.6l1 1.7l1 4.3l1 2l1 -7.4l1 2.7l1 -2.3l1 -14.6" stroke="#3a87d6" stroke-width="1.2" fill="none" stroke-linejoin="round"/><path d="M126.2 603.8l1.1 1l1 -5.6l1 1.9l0.3 2.1l0.7 5.7l1 5.3l0.9 2.5l0.1 4.8l1 -16.4l1 -8.4l1 -12.8l0.3 -4.3l0.7 23.2l1 38.6l1 34l1 38.7l0 3.7l1 -41.1l1 -36l1 -45.7l0.8 -22.2l0.2 -1.2l1 13l1 5.9l1 6.9l0.9 9.4l0.1 -0.5l1 -3l1 2.1l1 -2l1 -2.8l1 -3.7l0.2 1.4l0.8 7.2l1 0.5l1 8l1 1.8l1.1 8.2l1 7.8l1 0l1 4.7l1 8.2l0.8 5.5l0.2 0.5l1 -16.3l1 -2.2l1 -13.7l0.1 -4.3l0.9 11.8l1 12.3l0.7 -0.9l0.3 -0.7l1 -7.1l1 2.8l1 -9l1 2.2l1 -9.4l1 -7.6l1 -3.4l1 -1l1 -3.3l1 -5.7l0.4 -0.1l0.6 0.7l1 1.8l1 5.7l1 0.4l1 -0.1l1 6.9l1 -2.9l0 -1l1 -1.3l1 -8.4l1.1 -4.8l0.3 3l0.7 -2.2l1 8.1l1 12.3l1 5.5l1 8.8l1 2.8l1 11.5l0.3 -0.8l0.7 -1.5l1 0.9l1 -11.5l1 -1.4l1 -7.2l1 -7.8l1 -1.2l1 -2.4l1 -5.7l0.9 -2.6l0.1 -3.7l1 0.5l1 12.2l1 -3.8l1 0.8l1 -2.7l1 4.5l1 -2.2l0.2 0.2l0.8 14l1 6.7l1 8.4l1 12.5l1 8l1 10.8l1.1 4.9l0.1 3.4l0.9 -9.8l1 -7.1l1 -5.6l1 -7.3l1 -4.2l1 -12.6l1 -4.5l1 -4.3l1 -4.5l0.7 -6.7l0.3 1.9l1 -3.6l1 5.8l1 5.4l1 0.7l1 3.4l0.7 -2.2l0.3 -3l1 -1.7l1 -0.4l1 -3l0.7 -4.3l0.3 3.8l1 6.4l1 9.8l1 1.2l1 3.2l1 0l0 7.4l1 12.1l1 18.2l0.7 11.3l0.3 -11.4l1 -5.8l1 -15.7l1.1 -9l1 -6.9l1 -19.5l0.6 -3.5l0.4 9.3l1 -2.3l0.6 1.2l0.4 9l1 0l1 1.6l1 3.9l1 -3.2l1 7.7l1 -1.7l0.9 -7.6l0.1 2.7l1 -6l1 -8.7l1 -4.8l0.2 1.3l0.8 -2.9l1 2.4l1 1.4l1 -10.9l1 3.2l1 -7.8l1 -5.2l1 2.4l1 -2.5l1 3.2l1 -2.5l1 -3.6l0.8 -0.5l0.2 -4.4l1 10.4l1 -7.9l1.1 12l0.1 -3.6l0.9 0.5l1 8.6l1 -1.4l1 11.4l0 -10l1 -1.2l1 3l1 6.5l1 -10.2l1 14.8l1 -6.8l1 -0.4l1 -5.8l1 12.3l1 -2.9l0 1.5l1 7.3l1 -0.6l1 -13l1 2.8l1 4.1l1 -5.6l1 3.4l1 6.5l1 2.1l1 -9l1 12.1l1 -11.7l1 1.1l1 -8.8l1 0.2l1 13.2l0.7 -2.2l0.4 -10.4l1 10.1l1 11.3l1 -2.5l1 -8l1 7.6l1 -1.4l1 -4.6l1 1.8l1 -6.5l1 -5.5l1 11l1 -3.6l1 8.1l1 -9.3l1 11.7l1 -11.7l1 -5l1 7.3l1 2.3l0.5 -4.2l0.5 1l1 7.5l1 -7.2l1 -13.9l1 5.8l1 3.4l1 5.4l1 -5.5l1 11.7l1 -21.3l1 4.8l1.1 9.8l1 -4.2l1 8.7l1 2.6l1 -5.2l1 -7.2l1 1.3l1 2.1l1 4.5l1 -10.1l1 -11.1l1 18.3l1 -1.2l1 1.9l1 -1.9l1 10.4" stroke="#b9bcdf" stroke-width="5.0" stroke-opacity="0.55" fill="none" stroke-linejoin="round"/><path d="M126.2 603.8l1.1 1l1 -5.6l1 1.9l0.3 2.1l0.7 5.7l1 5.3l0.9 2.5l0.1 4.8l1 -16.4l1 -8.4l1 -12.8l0.3 -4.3l0.7 23.2l1 38.6l1 34l1 38.7l0 3.7l1 -41.1l1 -36l1 -45.7l0.8 -22.2l0.2 -1.2l1 13l1 5.9l1 6.9l0.9 9.4l0.1 -0.5l1 -3l1 2.1l1 -2l1 -2.8l1 -3.7l0.2 1.4l0.8 7.2l1 0.5l1 8l1 1.8l1.1 8.2l1 7.8l1 0l1 4.7l1 8.2l0.8 5.5l0.2 0.5l1 -16.3l1 -2.2l1 -13.7l0.1 -4.3l0.9 11.8l1 12.3l0.7 -0.9l0.3 -0.7l1 -7.1l1 2.8l1 -9l1 2.2l1 -9.4l1 -7.6l1 -3.4l1 -1l1 -3.3l1 -5.7l0.4 -0.1l0.6 0.7l1 1.8l1 5.7l1 0.4l1 -0.1l1 6.9l1 -2.9l0 -1l1 -1.3l1 -8.4l1.1 -4.8l0.3 3l0.7 -2.2l1 8.1l1 12.3l1 5.5l1 8.8l1 2.8l1 11.5l0.3 -0.8l0.7 -1.5l1 0.9l1 -11.5l1 -1.4l1 -7.2l1 -7.8l1 -1.2l1 -2.4l1 -5.7l0.9 -2.6l0.1 -3.7l1 0.5l1 12.2l1 -3.8l1 0.8l1 -2.7l1 4.5l1 -2.2l0.2 0.2l0.8 14l1 6.7l1 8.4l1 12.5l1 8l1 10.8l1.1 4.9l0.1 3.4l0.9 -9.8l1 -7.1l1 -5.6l1 -7.3l1 -4.2l1 -12.6l1 -4.5l1 -4.3l1 -4.5l0.7 -6.7l0.3 1.9l1 -3.6l1 5.8l1 5.4l1 0.7l1 3.4l0.7 -2.2l0.3 -3l1 -1.7l1 -0.4l1 -3l0.7 -4.3l0.3 3.8l1 6.4l1 9.8l1 1.2l1 3.2l1 0l0 7.4l1 12.1l1 18.2l0.7 11.3l0.3 -11.4l1 -5.8l1 -15.7l1.1 -9l1 -6.9l1 -19.5l0.6 -3.5l0.4 9.3l1 -2.3l0.6 1.2l0.4 9l1 0l1 1.6l1 3.9l1 -3.2l1 7.7l1 -1.7l0.9 -7.6l0.1 2.7l1 -6l1 -8.7l1 -4.8l0.2 1.3l0.8 -2.9l1 2.4l1 1.4l1 -10.9l1 3.2l1 -7.8l1 -5.2l1 2.4l1 -2.5l1 3.2l1 -2.5l1 -3.6l0.8 -0.5l0.2 -4.4l1 10.4l1 -7.9l1.1 12l0.1 -3.6l0.9 0.5l1 8.6l1 -1.4l1 11.4l0 -10l1 -1.2l1 3l1 6.5l1 -10.2l1 14.8l1 -6.8l1 -0.4l1 -5.8l1 12.3l1 -2.9l0 1.5l1 7.3l1 -0.6l1 -13l1 2.8l1 4.1l1 -5.6l1 3.4l1 6.5l1 2.1l1 -9l1 12.1l1 -11.7l1 1.1l1 -8.8l1 0.2l1 13.2l0.7 -2.2l0.4 -10.4l1 10.1l1 11.3l1 -2.5l1 -8l1 7.6l1 -1.4l1 -4.6l1 1.8l1 -6.5l1 -5.5l1 11l1 -3.6l1 8.1l1 -9.3l1 11.7l1 -11.7l1 -5l1 7.3l1 2.3l0.5 -4.2l0.5 1l1 7.5l1 -7.2l1 -13.9l1 5.8l1 3.4l1 5.4l1 -5.5l1 11.7l1 -21.3l1 4.8l1.1 9.8l1 -4.2l1 8.7l1 2.6l1 -5.2l1 -7.2l1 1.3l1 2.1l1 4.5l1 -10.1l1 -11.1l1 18.3l1 -1.2l1 1.9l1 -1.9l1 10.4" stroke="#2f3a96" stroke-width="1.2" fill="none" stroke-linejoin="round"/><path d="M126.2 606.8l1.1 -5.9l1 -0.9l1 2.3l0.3 0.1l0.7 4.7l1 3.7l0.9 4.1l0.1 1.9l1 -14.9l1 -9l1 -13l0.3 3l0.7 17.6l1 42.7l1 34.1l1 40.9l0 -7.5l1 -32.7l1 -34.8l1 -40.6l0.8 -32.2l0.2 5l1 4.7l1 11.1l1 14.7l0.9 5.6l0.1 -1.4l1 -4l1 -2.3l1 -0.9l1 -1l1 -3.9l0.2 -3.8l0.8 7.5l1 6.5l1 4.4l1 0.8l1.1 8.7l1 11.6l1 -2.4l1 6.2l1 7.7l0.8 6.6l0.2 -4.9l1 -0.9l1 -18.9l1 -5.2l0.1 -2.2l0.9 3.7l1 9.6l0.7 7.3l0.3 0.8l1 -8.7l1 -0.7l1 -6.6l1 -2.4l1 -7.9l1 -0.9l1 -9.5l1 3.2l1 -7.5l1 -1.6l0.4 -4.2l0.6 0.2l1 5.2l1 -2.3l1 4l1 2.1l1 5.4l1 1.8l0 -0.7l1 -5.6l1 -1.8l1.1 -6.3l0.3 -6.4l0.7 7.6l1 3.4l1 7.5l1 4.6l1 9l1 8.7l1 2.1l0.3 2.3l0.7 -0.4l1 -3.9l1 -8.6l1 2.1l1 -7.2l1 -4.9l1 -4.2l1 -5.2l1 -5.4l0.9 0l0.1 -0.7l1 -1.4l1 1.6l1 2.6l1 3.4l1 -1.2l1 1.7l1 -1.2l0.2 3.1l0.8 2l1 -0.1l1 1.6l1 9.1l1 2.4l1 -0.1l1.1 12.6l0.1 -6.9l0.9 -3.4l1 -5.4l1 -1.1l1 -8l1 -1.8l1 -3.6l1 -11l1 -4.5l1 -1.4l0.7 -6.3l0.3 7.4l1 -3l1 0.5l1 6.2l1 5.5l1 5.6l0.7 1.8l0.3 1.1l1 -5l1 -7.1l1 -2.9l0.7 0.5l0.3 2.4l1 10.3l1 18.9l1 15.7l0.5 7.2l0.5 6l1 7.9l1 8.9l1 -2.2l0.7 11.1l0.3 -1.3l1 -15.8l1 -15.8l1.1 -5.1l1 -11.1l0.2 -3.8l0.8 -4l1 1.3l1 -2.2l0.6 6.7l0.4 -1l1 -1.6l1 -2.2l1 -3.6l1 2.1l1 2.8l1 -4.4l1 1l1 -5.3l1 -3.5l1 2.2l0.2 -4.8l0.8 -1.3l1 4.3l1 -0.4l1 -14.5l1 4.9l1 -9.9l1 7.7l1 1l1 -7.2l1 3.6l1 -3.3l1 -2.8l0.8 -11.6l0.2 12.1l1 -10.2l1 17.3l1.1 1.6l1 -2.9l1 -1.1l1 16.2l1 0.6l0 0.9l1 -8.1l1 12.7l1 -1.8l1 -15.6l1 4.8l1 8.3l1 3.8l1 1.7l1 4.2l1 4.1l1 -2.2l1 -6.6l0 0.4l1 -6.3l1 10.4l1 5.1l1 -9.3l1 -4.6l1 19l1 -11.7l1 -6.5l1 7.2l1 10.5l1 -20.1l1 21.5l1 -11.4l1 -9.7l0.7 11l0.4 -17.9l1 8.6l1 4.7l1 9l1 -16.2l1 5.4l1 -9.8l1 18.9l1 -18.7l1 5.1l1 7.5l1 -9.3l1 6l1 7.3l1 -10.7l1 -11.2l1 25.9l1 -14.7l1 -0.1l1 2.1l0.5 -10.2l0.5 8.2l1 -5.6l1 6.2l1 -4.3l1 -0.3l1 6.8l1 2.2l1 -4.2l1 -4.9l1 7.5l1 2.3l1.1 -9.2l1 -0.5l1 14l1 -5.4l1 -2.3l1 -2.9l1 10.6l1 5.8l1 -15.9l1 5.9l1 -1l1 -0.7l1 -2.5l1 2.2l1 7.2l1 -8.3" stroke="#a8a8a8" stroke-width="5.0" stroke-opacity="0.55" fill="none" stroke-linejoin="round"/><path d="M126.2 606.8l1.1 -5.9l1 -0.9l1 2.3l0.3 0.1l0.7 4.7l1 3.7l0.9 4.1l0.1 1.9l1 -14.9l1 -9l1 -13l0.3 3l0.7 17.6l1 42.7l1 34.1l1 40.9l0 -7.5l1 -32.7l1 -34.8l1 -40.6l0.8 -32.2l0.2 5l1 4.7l1 11.1l1 14.7l0.9 5.6l0.1 -1.4l1 -4l1 -2.3l1 -0.9l1 -1l1 -3.9l0.2 -3.8l0.8 7.5l1 6.5l1 4.4l1 0.8l1.1 8.7l1 11.6l1 -2.4l1 6.2l1 7.7l0.8 6.6l0.2 -4.9l1 -0.9l1 -18.9l1 -5.2l0.1 -2.2l0.9 3.7l1 9.6l0.7 7.3l0.3 0.8l1 -8.7l1 -0.7l1 -6.6l1 -2.4l1 -7.9l1 -0.9l1 -9.5l1 3.2l1 -7.5l1 -1.6l0.4 -4.2l0.6 0.2l1 5.2l1 -2.3l1 4l1 2.1l1 5.4l1 1.8l0 -0.7l1 -5.6l1 -1.8l1.1 -6.3l0.3 -6.4l0.7 7.6l1 3.4l1 7.5l1 4.6l1 9l1 8.7l1 2.1l0.3 2.3l0.7 -0.4l1 -3.9l1 -8.6l1 2.1l1 -7.2l1 -4.9l1 -4.2l1 -5.2l1 -5.4l0.9 0l0.1 -0.7l1 -1.4l1 1.6l1 2.6l1 3.4l1 -1.2l1 1.7l1 -1.2l0.2 3.1l0.8 2l1 -0.1l1 1.6l1 9.1l1 2.4l1 -0.1l1.1 12.6l0.1 -6.9l0.9 -3.4l1 -5.4l1 -1.1l1 -8l1 -1.8l1 -3.6l1 -11l1 -4.5l1 -1.4l0.7 -6.3l0.3 7.4l1 -3l1 0.5l1 6.2l1 5.5l1 5.6l0.7 1.8l0.3 1.1l1 -5l1 -7.1l1 -2.9l0.7 0.5l0.3 2.4l1 10.3l1 18.9l1 15.7l0.5 7.2l0.5 6l1 7.9l1 8.9l1 -2.2l0.7 11.1l0.3 -1.3l1 -15.8l1 -15.8l1.1 -5.1l1 -11.1l0.2 -3.8l0.8 -4l1 1.3l1 -2.2l0.6 6.7l0.4 -1l1 -1.6l1 -2.2l1 -3.6l1 2.1l1 2.8l1 -4.4l1 1l1 -5.3l1 -3.5l1 2.2l0.2 -4.8l0.8 -1.3l1 4.3l1 -0.4l1 -14.5l1 4.9l1 -9.9l1 7.7l1 1l1 -7.2l1 3.6l1 -3.3l1 -2.8l0.8 -11.6l0.2 12.1l1 -10.2l1 17.3l1.1 1.6l1 -2.9l1 -1.1l1 16.2l1 0.6l0 0.9l1 -8.1l1 12.7l1 -1.8l1 -15.6l1 4.8l1 8.3l1 3.8l1 1.7l1 4.2l1 4.1l1 -2.2l1 -6.6l0 0.4l1 -6.3l1 10.4l1 5.1l1 -9.3l1 -4.6l1 19l1 -11.7l1 -6.5l1 7.2l1 10.5l1 -20.1l1 21.5l1 -11.4l1 -9.7l0.7 11l0.4 -17.9l1 8.6l1 4.7l1 9l1 -16.2l1 5.4l1 -9.8l1 18.9l1 -18.7l1 5.1l1 7.5l1 -9.3l1 6l1 7.3l1 -10.7l1 -11.2l1 25.9l1 -14.7l1 -0.1l1 2.1l0.5 -10.2l0.5 8.2l1 -5.6l1 6.2l1 -4.3l1 -0.3l1 6.8l1 2.2l1 -4.2l1 -4.9l1 7.5l1 2.3l1.1 -9.2l1 -0.5l1 14l1 -5.4l1 -2.3l1 -2.9l1 10.6l1 5.8l1 -15.9l1 5.9l1 -1l1 -0.7l1 -2.5l1 2.2l1 7.2l1 -8.3" stroke="#141414" stroke-width="1.2" fill="none" stroke-linejoin="round"/><rect x="126.1" y="537.6" width="233.2" height="183.6" fill="none" stroke="#555" stroke-width="0.8"/><path d="M132.9 721.2v-2.2M132.9 537.6v2.2M166.2 721.2v-2.2M166.2 537.6v2.2M199.4 721.2v-2.2M199.4 537.6v2.2M232.7 721.2v-2.2M232.7 537.6v2.2M265.9 721.2v-2.2M265.9 537.6v2.2M299.1 721.2v-2.2M299.1 537.6v2.2M332.4 721.2v-2.2M332.4 537.6v2.2M126.1 716.3h2.2M359.3 716.3h-2.2M126.1 698.6h2.2M359.3 698.6h-2.2M126.1 681h2.2M359.3 681h-2.2M126.1 663.4h2.2M359.3 663.4h-2.2M126.1 645.7h2.2M359.3 645.7h-2.2M126.1 628h2.2M359.3 628h-2.2M126.1 610.4h2.2M359.3 610.4h-2.2M126.1 592.8h2.2M359.3 592.8h-2.2M126.1 575.1h2.2M359.3 575.1h-2.2M126.1 557.4h2.2M359.3 557.4h-2.2M126.1 539.8h2.2M359.3 539.8h-2.2" stroke="#555" stroke-width="0.7" fill="none"/><text x="132.9" y="727.6" font-size="7" text-anchor="middle" fill="#2a2a2a" font-weight="normal" font-style="normal" >0</text><text x="166.2" y="727.6" font-size="7" text-anchor="middle" fill="#2a2a2a" font-weight="normal" font-style="normal" >0.5</text><text x="199.4" y="727.6" font-size="7" text-anchor="middle" fill="#2a2a2a" font-weight="normal" font-style="normal" >1</text><text x="232.7" y="727.6" font-size="7" text-anchor="middle" fill="#2a2a2a" font-weight="normal" font-style="normal" >1.5</text><text x="265.9" y="727.6" font-size="7" text-anchor="middle" fill="#2a2a2a" font-weight="normal" font-style="normal" >2</text><text x="299.1" y="727.6" font-size="7" text-anchor="middle" fill="#2a2a2a" font-weight="normal" font-style="normal" >2.5</text><text x="332.4" y="727.6" font-size="7" text-anchor="middle" fill="#2a2a2a" font-weight="normal" font-style="normal" >3</text><text x="124.3" y="718.8" font-size="7" text-anchor="end" fill="#2a2a2a" font-weight="normal" font-style="normal" >-120</text><text x="124.3" y="701.1" font-size="7" text-anchor="end" fill="#2a2a2a" font-weight="normal" font-style="normal" >-100</text><text x="124.3" y="683.5" font-size="7" text-anchor="end" fill="#2a2a2a" font-weight="normal" font-style="normal" >-80</text><text x="124.3" y="665.9" font-size="7" text-anchor="end" fill="#2a2a2a" font-weight="normal" font-style="normal" >-60</text><text x="124.3" y="648.2" font-size="7" text-anchor="end" fill="#2a2a2a" font-weight="normal" font-style="normal" >-40</text><text x="124.3" y="630.5" font-size="7" text-anchor="end" fill="#2a2a2a" font-weight="normal" font-style="normal" >-20</text><text x="124.3" y="612.9" font-size="7" text-anchor="end" fill="#2a2a2a" font-weight="normal" font-style="normal" >0</text><text x="124.3" y="595.2" font-size="7" text-anchor="end" fill="#2a2a2a" font-weight="normal" font-style="normal" >20</text><text x="124.3" y="577.6" font-size="7" text-anchor="end" fill="#2a2a2a" font-weight="normal" font-style="normal" >40</text><text x="124.3" y="559.9" font-size="7" text-anchor="end" fill="#2a2a2a" font-weight="normal" font-style="normal" >60</text><text x="124.3" y="542.3" font-size="7" text-anchor="end" fill="#2a2a2a" font-weight="normal" font-style="normal" >80</text><text transform="translate(109 626) rotate(-90)" font-size="7" text-anchor="middle" fill="#2a2a2a">Amplitude (fT)</text><text x="242" y="758.5" font-size="7" text-anchor="middle" fill="#2a2a2a" font-weight="normal" font-style="normal" >Time (s)</text><rect x="319.3" y="658.2" width="37.8" height="56.2" fill="#fff" stroke="#333" stroke-width="0.7"/><rect x="322" y="662.8" width="9.8" height="5.6" fill="#f4a3ab"/><path d="M322 665.6h9.8" stroke="#e8464f" stroke-width="1.2"/><text x="335" y="668.1" font-size="7" text-anchor="start" fill="#2a2a2a" font-weight="normal" font-style="normal" >M</text><rect x="322" y="673.2" width="9.8" height="5.6" fill="#c2dde9"/><path d="M322 676h9.8" stroke="#4aa0c0" stroke-width="1.2"/><text x="335" y="678.5" font-size="7" text-anchor="start" fill="#2a2a2a" font-weight="normal" font-style="normal" >NT1</text><rect x="322" y="683.4" width="9.8" height="5.6" fill="#bcd5f0"/><path d="M322 686.2h9.8" stroke="#3a87d6" stroke-width="1.2"/><text x="335" y="688.7" font-size="7" text-anchor="start" fill="#2a2a2a" font-weight="normal" font-style="normal" >NT2</text><rect x="322" y="693.7" width="9.8" height="5.6" fill="#b9bcdf"/><path d="M322 696.5h9.8" stroke="#2f3a96" stroke-width="1.2"/><text x="335" y="699" font-size="7" text-anchor="start" fill="#2a2a2a" font-weight="normal" font-style="normal" >NT3</text><rect x="322" y="704" width="9.8" height="5.6" fill="#a8a8a8"/><path d="M322 706.8h9.8" stroke="#141414" stroke-width="1.2"/><text x="335" y="709.3" font-size="7" text-anchor="start" fill="#2a2a2a" font-weight="normal" font-style="normal" >NT4</text><path d="M241.8 693.3H256.8M277.5 693.3H279.3" stroke="#111" stroke-width="1.5" stroke-opacity="1.0" fill="none"/><path d="M171.5 699H173M219.7 699H234.7M242.2 699H245.7M247 699H257.5" stroke="#4d52a8" stroke-width="1.5" stroke-opacity="1.0" fill="none"/><path d="M192.8 704.6H212.2M215.3 704.6H217.6M220.2 704.6H234.7M242.2 704.6H244.5M249.2 704.6H253.7M279.3 704.6H282" stroke="#4a88d8" stroke-width="1.5" stroke-opacity="1.0" fill="none"/><path d="M167 710.1H189.6M192.3 710.1H212.2M216.1 710.1H234.7M242.2 710.1H255.8" stroke="#5aa5c8" stroke-width="1.5" stroke-opacity="1.0" fill="none"/><ellipse cx="131.7" cy="741.8" rx="2.4" ry="1.7" transform="rotate(-24 131.7 741.8)" fill="#111"/><path d="M133.6 741.5V733" stroke="#111" stroke-width="0.9" fill="none"/><path d="M133.1 733C133.9 735.1 137.1 736 136.6 739.5C136.3 737.4 134.8 736.8 133.1 736.5z" fill="#111"/><ellipse cx="156.7" cy="741.8" rx="2.4" ry="1.7" transform="rotate(-24 156.7 741.8)" fill="#111"/><path d="M158.6 741.5V733" stroke="#111" stroke-width="0.9" fill="none"/><path d="M158.1 733C158.9 735.1 162.1 736 161.6 739.5C161.3 737.4 159.8 736.8 158.1 736.5z" fill="#111"/><path d="M152.3 744.7V746.6H162.3V744.7" stroke="#5ab0d8" stroke-width="1.0" fill="none"/><ellipse cx="180.2" cy="741.8" rx="2.4" ry="1.7" transform="rotate(-24 180.2 741.8)" fill="#111"/><path d="M182.1 741.5V733" stroke="#111" stroke-width="0.9" fill="none"/><path d="M181.6 733C182.4 735.1 185.6 736 185.1 739.5C184.8 737.4 183.3 736.8 181.6 736.5z" fill="#111"/><path d="M175.8 744.7V746.6H185.8V744.7" stroke="#4a8ad6" stroke-width="1.0" fill="none"/><ellipse cx="204.2" cy="741.8" rx="2.4" ry="1.7" transform="rotate(-24 204.2 741.8)" fill="#111"/><path d="M206.1 741.5V733" stroke="#111" stroke-width="0.9" fill="none"/><path d="M205.6 733C206.4 735.1 209.6 736 209.1 739.5C208.8 737.4 207.3 736.8 205.6 736.5z" fill="#111"/><path d="M199.8 744.7V746.6H209.8V744.7" stroke="#3a3f9c" stroke-width="1.0" fill="none"/><ellipse cx="228.2" cy="741.8" rx="2.4" ry="1.7" transform="rotate(-24 228.2 741.8)" fill="#111"/><path d="M230.1 741.5V733" stroke="#111" stroke-width="0.9" fill="none"/><path d="M229.6 733C230.4 735.1 233.6 736 233.1 739.5C232.8 737.4 231.3 736.8 229.6 736.5z" fill="#111"/><path d="M223.8 744.7V746.6H233.8V744.7" stroke="#222" stroke-width="1.0" fill="none"/><text x="58.5" y="580.3" font-size="8" text-anchor="middle" fill="#2a2a2a" font-weight="normal" font-style="normal" >Group 1</text><circle cx="58.5" cy="628.2" r="33.4" fill="none" stroke="#333" stroke-width="0.7"/><path d="M52.3 595.3L58.5 589.4L64.7 595.3" fill="none" stroke="#333" stroke-width="0.7"/><path d="M25.3 623C21.2 621.7 20.9 624.3 21.2 628.2C21.2 633.4 20.9 638.6 25.3 637.3" fill="#fff" stroke="#333" stroke-width="0.7"/><path d="M91.7 623C95.8 621.7 96.1 624.3 95.8 628.2C95.8 633.4 96.1 638.6 91.7 637.3" fill="#fff" stroke="#333" stroke-width="0.7"/><path d="M47.1 655.2h0.01M50.8 655.2h0.01M54.5 655.2h0.01M58.2 655.2h0.01M61.8 655.2h0.01M65.5 655.2h0.01M69.2 655.2h0.01M41.6 652h0.01M45.3 652h0.01M49 652h0.01M52.7 652h0.01M56.3 652h0.01M60 652h0.01M63.7 652h0.01M67.4 652h0.01M71 652h0.01M74.7 652h0.01M39.8 648.8h0.01M43.5 648.8h0.01M47.1 648.8h0.01M50.8 648.8h0.01M54.5 648.8h0.01M58.2 648.8h0.01M61.8 648.8h0.01M65.5 648.8h0.01M69.2 648.8h0.01M72.9 648.8h0.01M76.5 648.8h0.01M80.2 648.8h0.01M34.3 645.6h0.01M38 645.6h0.01M41.6 645.6h0.01M45.3 645.6h0.01M49 645.6h0.01M52.7 645.6h0.01M56.3 645.6h0.01M60 645.6h0.01M63.7 645.6h0.01M67.4 645.6h0.01M71 645.6h0.01M74.7 645.6h0.01M78.4 645.6h0.01M82 645.6h0.01M32.4 642.4h0.01M36.1 642.4h0.01M39.8 642.4h0.01M43.5 642.4h0.01M47.1 642.4h0.01M50.8 642.4h0.01M54.5 642.4h0.01M58.2 642.4h0.01M61.8 642.4h0.01M65.5 642.4h0.01M69.2 642.4h0.01M72.9 642.4h0.01M76.5 642.4h0.01M80.2 642.4h0.01M83.9 642.4h0.01M30.6 639.2h0.01M34.3 639.2h0.01M38 639.2h0.01M41.6 639.2h0.01M45.3 639.2h0.01M49 639.2h0.01M52.7 639.2h0.01M56.3 639.2h0.01M60 639.2h0.01M63.7 639.2h0.01M67.4 639.2h0.01M71 639.2h0.01M74.7 639.2h0.01M78.4 639.2h0.01M82 639.2h0.01M85.7 639.2h0.01M32.4 636h0.01M36.1 636h0.01M39.8 636h0.01M43.5 636h0.01M47.1 636h0.01M50.8 636h0.01M54.5 636h0.01M58.2 636h0.01M61.8 636h0.01M65.5 636h0.01M69.2 636h0.01M72.9 636h0.01M76.5 636h0.01M80.2 636h0.01M83.9 636h0.01M30.6 632.8h0.01M34.3 632.8h0.01M38 632.8h0.01M41.6 632.8h0.01M45.3 632.8h0.01M49 632.8h0.01M52.7 632.8h0.01M56.3 632.8h0.01M60 632.8h0.01M63.7 632.8h0.01M67.4 632.8h0.01M71 632.8h0.01M74.7 632.8h0.01M78.4 632.8h0.01M82 632.8h0.01M85.7 632.8h0.01M28.8 629.6h0.01M32.4 629.6h0.01M36.1 629.6h0.01M39.8 629.6h0.01M43.5 629.6h0.01M47.1 629.6h0.01M50.8 629.6h0.01M54.5 629.6h0.01M58.2 629.6h0.01M61.8 629.6h0.01M65.5 629.6h0.01M69.2 629.6h0.01M72.9 629.6h0.01M76.5 629.6h0.01M80.2 629.6h0.01M83.9 629.6h0.01M87.6 629.6h0.01M30.6 626.4h0.01M34.3 626.4h0.01M38 626.4h0.01M41.6 626.4h0.01M45.3 626.4h0.01M49 626.4h0.01M52.7 626.4h0.01M56.3 626.4h0.01M60 626.4h0.01M63.7 626.4h0.01M67.4 626.4h0.01M71 626.4h0.01M74.7 626.4h0.01M78.4 626.4h0.01M82 626.4h0.01M85.7 626.4h0.01M32.4 623.2h0.01M36.1 623.2h0.01M39.8 623.2h0.01M43.5 623.2h0.01M47.1 623.2h0.01M50.8 623.2h0.01M54.5 623.2h0.01M58.2 623.2h0.01M61.8 623.2h0.01M65.5 623.2h0.01M69.2 623.2h0.01M72.9 623.2h0.01M76.5 623.2h0.01M80.2 623.2h0.01M83.9 623.2h0.01M87.6 623.2h0.01M30.6 620h0.01M34.3 620h0.01M38 620h0.01M41.6 620h0.01M45.3 620h0.01M49 620h0.01M52.7 620h0.01M56.3 620h0.01M60 620h0.01M63.7 620h0.01M67.4 620h0.01M71 620h0.01M74.7 620h0.01M78.4 620h0.01M82 620h0.01M85.7 620h0.01M32.4 616.9h0.01M36.1 616.9h0.01M39.8 616.9h0.01M43.5 616.9h0.01M47.1 616.9h0.01M50.8 616.9h0.01M54.5 616.9h0.01M58.2 616.9h0.01M61.8 616.9h0.01M65.5 616.9h0.01M69.2 616.9h0.01M72.9 616.9h0.01M76.5 616.9h0.01M80.2 616.9h0.01M83.9 616.9h0.01M34.3 613.7h0.01M38 613.7h0.01M41.6 613.7h0.01M45.3 613.7h0.01M49 613.7h0.01M52.7 613.7h0.01M56.3 613.7h0.01M60 613.7h0.01M63.7 613.7h0.01M67.4 613.7h0.01M71 613.7h0.01M74.7 613.7h0.01M78.4 613.7h0.01M82 613.7h0.01M36.1 610.5h0.01M39.8 610.5h0.01M43.5 610.5h0.01M47.1 610.5h0.01M50.8 610.5h0.01M54.5 610.5h0.01M58.2 610.5h0.01M61.8 610.5h0.01M65.5 610.5h0.01M69.2 610.5h0.01M72.9 610.5h0.01M76.5 610.5h0.01M80.2 610.5h0.01M38 607.3h0.01M41.6 607.3h0.01M45.3 607.3h0.01M49 607.3h0.01M52.7 607.3h0.01M56.3 607.3h0.01M60 607.3h0.01M63.7 607.3h0.01M67.4 607.3h0.01M71 607.3h0.01M74.7 607.3h0.01M78.4 607.3h0.01M43.5 604.1h0.01M47.1 604.1h0.01M50.8 604.1h0.01M54.5 604.1h0.01M58.2 604.1h0.01M61.8 604.1h0.01M65.5 604.1h0.01M69.2 604.1h0.01M72.9 604.1h0.01M49 600.9h0.01M52.7 600.9h0.01M56.3 600.9h0.01M60 600.9h0.01M63.7 600.9h0.01M67.4 600.9h0.01" stroke="#7a7a7a" stroke-width="0.6" stroke-linecap="round"/><circle cx="33.3" cy="610.1" r="1.25" fill="#ee1111"/><circle cx="38.5" cy="608" r="1.25" fill="#ee1111"/><circle cx="42.5" cy="609.7" r="1.25" fill="#ee1111"/><circle cx="35.4" cy="616.2" r="1.25" fill="#ee1111"/><circle cx="39.7" cy="616.9" r="1.25" fill="#ee1111"/><circle cx="34.3" cy="625.7" r="1.25" fill="#ee1111"/><circle cx="39" cy="625.3" r="1.25" fill="#ee1111"/><text x="405.1" y="580.5" font-size="8" text-anchor="middle" fill="#2a2a2a" font-weight="normal" font-style="normal" >Group 2</text><circle cx="405.1" cy="628.4" r="33.2" fill="none" stroke="#333" stroke-width="0.7"/><path d="M399 595.7L405.1 589.8L411.2 595.7" fill="none" stroke="#333" stroke-width="0.7"/><path d="M372.1 623.2C368 622 367.7 624.5 368 628.4C368 633.6 367.7 638.7 372.1 637.4" fill="#fff" stroke="#333" stroke-width="0.7"/><path d="M438.1 623.2C442.2 622 442.5 624.5 442.2 628.4C442.2 633.6 442.5 638.7 438.1 637.4" fill="#fff" stroke="#333" stroke-width="0.7"/><path d="M393.8 655.2h0.01M397.5 655.2h0.01M401.1 655.2h0.01M404.8 655.2h0.01M408.4 655.2h0.01M412.1 655.2h0.01M415.7 655.2h0.01M388.3 652.1h0.01M392 652.1h0.01M395.6 652.1h0.01M399.3 652.1h0.01M402.9 652.1h0.01M406.6 652.1h0.01M410.2 652.1h0.01M413.9 652.1h0.01M417.6 652.1h0.01M421.2 652.1h0.01M386.5 648.9h0.01M390.2 648.9h0.01M393.8 648.9h0.01M397.5 648.9h0.01M401.1 648.9h0.01M404.8 648.9h0.01M408.4 648.9h0.01M412.1 648.9h0.01M415.7 648.9h0.01M419.4 648.9h0.01M423 648.9h0.01M426.7 648.9h0.01M381 645.7h0.01M384.7 645.7h0.01M388.3 645.7h0.01M392 645.7h0.01M395.6 645.7h0.01M399.3 645.7h0.01M402.9 645.7h0.01M406.6 645.7h0.01M410.2 645.7h0.01M413.9 645.7h0.01M417.6 645.7h0.01M421.2 645.7h0.01M424.9 645.7h0.01M428.5 645.7h0.01M379.2 642.5h0.01M382.9 642.5h0.01M386.5 642.5h0.01M390.2 642.5h0.01M393.8 642.5h0.01M397.5 642.5h0.01M401.1 642.5h0.01M404.8 642.5h0.01M408.4 642.5h0.01M412.1 642.5h0.01M415.7 642.5h0.01M419.4 642.5h0.01M423 642.5h0.01M426.7 642.5h0.01M430.3 642.5h0.01M377.4 639.4h0.01M381 639.4h0.01M384.7 639.4h0.01M388.3 639.4h0.01M392 639.4h0.01M395.6 639.4h0.01M399.3 639.4h0.01M402.9 639.4h0.01M406.6 639.4h0.01M410.2 639.4h0.01M413.9 639.4h0.01M417.6 639.4h0.01M421.2 639.4h0.01M424.9 639.4h0.01M428.5 639.4h0.01M432.2 639.4h0.01M379.2 636.2h0.01M382.9 636.2h0.01M386.5 636.2h0.01M390.2 636.2h0.01M393.8 636.2h0.01M397.5 636.2h0.01M401.1 636.2h0.01M404.8 636.2h0.01M408.4 636.2h0.01M412.1 636.2h0.01M415.7 636.2h0.01M419.4 636.2h0.01M423 636.2h0.01M426.7 636.2h0.01M430.3 636.2h0.01M377.4 633h0.01M381 633h0.01M384.7 633h0.01M388.3 633h0.01M392 633h0.01M395.6 633h0.01M399.3 633h0.01M402.9 633h0.01M406.6 633h0.01M410.2 633h0.01M413.9 633h0.01M417.6 633h0.01M421.2 633h0.01M424.9 633h0.01M428.5 633h0.01M432.2 633h0.01M375.6 629.8h0.01M379.2 629.8h0.01M382.9 629.8h0.01M386.5 629.8h0.01M390.2 629.8h0.01M393.8 629.8h0.01M397.5 629.8h0.01M401.1 629.8h0.01M404.8 629.8h0.01M408.4 629.8h0.01M412.1 629.8h0.01M415.7 629.8h0.01M419.4 629.8h0.01M423 629.8h0.01M426.7 629.8h0.01M430.3 629.8h0.01M434 629.8h0.01M377.4 626.7h0.01M381 626.7h0.01M384.7 626.7h0.01M388.3 626.7h0.01M392 626.7h0.01M395.6 626.7h0.01M399.3 626.7h0.01M402.9 626.7h0.01M406.6 626.7h0.01M410.2 626.7h0.01M413.9 626.7h0.01M417.6 626.7h0.01M421.2 626.7h0.01M424.9 626.7h0.01M428.5 626.7h0.01M432.2 626.7h0.01M379.2 623.5h0.01M382.9 623.5h0.01M386.5 623.5h0.01M390.2 623.5h0.01M393.8 623.5h0.01M397.5 623.5h0.01M401.1 623.5h0.01M404.8 623.5h0.01M408.4 623.5h0.01M412.1 623.5h0.01M415.7 623.5h0.01M419.4 623.5h0.01M423 623.5h0.01M426.7 623.5h0.01M430.3 623.5h0.01M434 623.5h0.01M377.4 620.3h0.01M381 620.3h0.01M384.7 620.3h0.01M388.3 620.3h0.01M392 620.3h0.01M395.6 620.3h0.01M399.3 620.3h0.01M402.9 620.3h0.01M406.6 620.3h0.01M410.2 620.3h0.01M413.9 620.3h0.01M417.6 620.3h0.01M421.2 620.3h0.01M424.9 620.3h0.01M428.5 620.3h0.01M432.2 620.3h0.01M379.2 617.1h0.01M382.9 617.1h0.01M386.5 617.1h0.01M390.2 617.1h0.01M393.8 617.1h0.01M397.5 617.1h0.01M401.1 617.1h0.01M404.8 617.1h0.01M408.4 617.1h0.01M412.1 617.1h0.01M415.7 617.1h0.01M419.4 617.1h0.01M423 617.1h0.01M426.7 617.1h0.01M430.3 617.1h0.01M381 613.9h0.01M384.7 613.9h0.01M388.3 613.9h0.01M392 613.9h0.01M395.6 613.9h0.01M399.3 613.9h0.01M402.9 613.9h0.01M406.6 613.9h0.01M410.2 613.9h0.01M413.9 613.9h0.01M417.6 613.9h0.01M421.2 613.9h0.01M424.9 613.9h0.01M428.5 613.9h0.01M382.9 610.8h0.01M386.5 610.8h0.01M390.2 610.8h0.01M393.8 610.8h0.01M397.5 610.8h0.01M401.1 610.8h0.01M404.8 610.8h0.01M408.4 610.8h0.01M412.1 610.8h0.01M415.7 610.8h0.01M419.4 610.8h0.01M423 610.8h0.01M426.7 610.8h0.01M384.7 607.6h0.01M388.3 607.6h0.01M392 607.6h0.01M395.6 607.6h0.01M399.3 607.6h0.01M402.9 607.6h0.01M406.6 607.6h0.01M410.2 607.6h0.01M413.9 607.6h0.01M417.6 607.6h0.01M421.2 607.6h0.01M424.9 607.6h0.01M390.2 604.4h0.01M393.8 604.4h0.01M397.5 604.4h0.01M401.1 604.4h0.01M404.8 604.4h0.01M408.4 604.4h0.01M412.1 604.4h0.01M415.7 604.4h0.01M419.4 604.4h0.01M395.6 601.2h0.01M399.3 601.2h0.01M402.9 601.2h0.01M406.6 601.2h0.01M410.2 601.2h0.01M413.9 601.2h0.01" stroke="#7a7a7a" stroke-width="0.6" stroke-linecap="round"/><circle cx="423.8" cy="609.9" r="1.25" fill="#ee1111"/><circle cx="427.5" cy="608" r="1.25" fill="#ee1111"/><circle cx="421.7" cy="616.8" r="1.25" fill="#ee1111"/><circle cx="426.1" cy="617.2" r="1.25" fill="#ee1111"/><circle cx="430.6" cy="616.2" r="1.25" fill="#ee1111"/><circle cx="422.9" cy="624.3" r="1.25" fill="#ee1111"/><circle cx="427.4" cy="625.3" r="1.25" fill="#ee1111"/><circle cx="432" cy="626" r="1.25" fill="#ee1111"/><text x="58.7" y="847.9" font-size="8" text-anchor="middle" fill="#2a2a2a" font-weight="normal" font-style="normal" >Group 3</text><circle cx="58.7" cy="893.3" r="33.3" fill="none" stroke="#333" stroke-width="0.7"/><path d="M52.6 860.5L58.7 854.6L64.8 860.5" fill="none" stroke="#333" stroke-width="0.7"/><path d="M25.6 888.1C21.5 886.8 21.2 889.4 21.5 893.3C21.5 898.5 21.2 903.6 25.6 902.4" fill="#fff" stroke="#333" stroke-width="0.7"/><path d="M91.8 888.1C95.9 886.8 96.2 889.4 95.9 893.3C95.9 898.5 96.2 903.6 91.8 902.4" fill="#fff" stroke="#333" stroke-width="0.7"/><path d="M47.4 920.2h0.01M51 920.2h0.01M54.7 920.2h0.01M58.4 920.2h0.01M62 920.2h0.01M65.7 920.2h0.01M69.4 920.2h0.01M41.9 917h0.01M45.5 917h0.01M49.2 917h0.01M52.9 917h0.01M56.5 917h0.01M60.2 917h0.01M63.9 917h0.01M67.5 917h0.01M71.2 917h0.01M74.9 917h0.01M40.1 913.9h0.01M43.7 913.9h0.01M47.4 913.9h0.01M51 913.9h0.01M54.7 913.9h0.01M58.4 913.9h0.01M62 913.9h0.01M65.7 913.9h0.01M69.4 913.9h0.01M73 913.9h0.01M76.7 913.9h0.01M80.3 913.9h0.01M34.6 910.7h0.01M38.2 910.7h0.01M41.9 910.7h0.01M45.5 910.7h0.01M49.2 910.7h0.01M52.9 910.7h0.01M56.5 910.7h0.01M60.2 910.7h0.01M63.9 910.7h0.01M67.5 910.7h0.01M71.2 910.7h0.01M74.9 910.7h0.01M78.5 910.7h0.01M82.2 910.7h0.01M32.7 907.5h0.01M36.4 907.5h0.01M40.1 907.5h0.01M43.7 907.5h0.01M47.4 907.5h0.01M51 907.5h0.01M54.7 907.5h0.01M58.4 907.5h0.01M62 907.5h0.01M65.7 907.5h0.01M69.4 907.5h0.01M73 907.5h0.01M76.7 907.5h0.01M80.3 907.5h0.01M84 907.5h0.01M30.9 904.3h0.01M34.6 904.3h0.01M38.2 904.3h0.01M41.9 904.3h0.01M45.5 904.3h0.01M49.2 904.3h0.01M52.9 904.3h0.01M56.5 904.3h0.01M60.2 904.3h0.01M63.9 904.3h0.01M67.5 904.3h0.01M71.2 904.3h0.01M74.9 904.3h0.01M78.5 904.3h0.01M82.2 904.3h0.01M85.8 904.3h0.01M32.7 901.1h0.01M36.4 901.1h0.01M40.1 901.1h0.01M43.7 901.1h0.01M47.4 901.1h0.01M51 901.1h0.01M54.7 901.1h0.01M58.4 901.1h0.01M62 901.1h0.01M65.7 901.1h0.01M69.4 901.1h0.01M73 901.1h0.01M76.7 901.1h0.01M80.3 901.1h0.01M84 901.1h0.01M30.9 897.9h0.01M34.6 897.9h0.01M38.2 897.9h0.01M41.9 897.9h0.01M45.5 897.9h0.01M49.2 897.9h0.01M52.9 897.9h0.01M56.5 897.9h0.01M60.2 897.9h0.01M63.9 897.9h0.01M67.5 897.9h0.01M71.2 897.9h0.01M74.9 897.9h0.01M78.5 897.9h0.01M82.2 897.9h0.01M85.8 897.9h0.01M29.1 894.7h0.01M32.7 894.7h0.01M36.4 894.7h0.01M40.1 894.7h0.01M43.7 894.7h0.01M47.4 894.7h0.01M51 894.7h0.01M54.7 894.7h0.01M58.4 894.7h0.01M62 894.7h0.01M65.7 894.7h0.01M69.4 894.7h0.01M73 894.7h0.01M76.7 894.7h0.01M80.3 894.7h0.01M84 894.7h0.01M87.7 894.7h0.01M30.9 891.5h0.01M34.6 891.5h0.01M38.2 891.5h0.01M41.9 891.5h0.01M45.5 891.5h0.01M49.2 891.5h0.01M52.9 891.5h0.01M56.5 891.5h0.01M60.2 891.5h0.01M63.9 891.5h0.01M67.5 891.5h0.01M71.2 891.5h0.01M74.9 891.5h0.01M78.5 891.5h0.01M82.2 891.5h0.01M85.8 891.5h0.01M32.7 888.4h0.01M36.4 888.4h0.01M40.1 888.4h0.01M43.7 888.4h0.01M47.4 888.4h0.01M51 888.4h0.01M54.7 888.4h0.01M58.4 888.4h0.01M62 888.4h0.01M65.7 888.4h0.01M69.4 888.4h0.01M73 888.4h0.01M76.7 888.4h0.01M80.3 888.4h0.01M84 888.4h0.01M87.7 888.4h0.01M30.9 885.2h0.01M34.6 885.2h0.01M38.2 885.2h0.01M41.9 885.2h0.01M45.5 885.2h0.01M49.2 885.2h0.01M52.9 885.2h0.01M56.5 885.2h0.01M60.2 885.2h0.01M63.9 885.2h0.01M67.5 885.2h0.01M71.2 885.2h0.01M74.9 885.2h0.01M78.5 885.2h0.01M82.2 885.2h0.01M85.8 885.2h0.01M32.7 882h0.01M36.4 882h0.01M40.1 882h0.01M43.7 882h0.01M47.4 882h0.01M51 882h0.01M54.7 882h0.01M58.4 882h0.01M62 882h0.01M65.7 882h0.01M69.4 882h0.01M73 882h0.01M76.7 882h0.01M80.3 882h0.01M84 882h0.01M34.6 878.8h0.01M38.2 878.8h0.01M41.9 878.8h0.01M45.5 878.8h0.01M49.2 878.8h0.01M52.9 878.8h0.01M56.5 878.8h0.01M60.2 878.8h0.01M63.9 878.8h0.01M67.5 878.8h0.01M71.2 878.8h0.01M74.9 878.8h0.01M78.5 878.8h0.01M82.2 878.8h0.01M36.4 875.6h0.01M40.1 875.6h0.01M43.7 875.6h0.01M47.4 875.6h0.01M51 875.6h0.01M54.7 875.6h0.01M58.4 875.6h0.01M62 875.6h0.01M65.7 875.6h0.01M69.4 875.6h0.01M73 875.6h0.01M76.7 875.6h0.01M80.3 875.6h0.01M38.2 872.4h0.01M41.9 872.4h0.01M45.5 872.4h0.01M49.2 872.4h0.01M52.9 872.4h0.01M56.5 872.4h0.01M60.2 872.4h0.01M63.9 872.4h0.01M67.5 872.4h0.01M71.2 872.4h0.01M74.9 872.4h0.01M78.5 872.4h0.01M43.7 869.2h0.01M47.4 869.2h0.01M51 869.2h0.01M54.7 869.2h0.01M58.4 869.2h0.01M62 869.2h0.01M65.7 869.2h0.01M69.4 869.2h0.01M73 869.2h0.01M49.2 866.1h0.01M52.9 866.1h0.01M56.5 866.1h0.01M60.2 866.1h0.01M63.9 866.1h0.01M67.5 866.1h0.01" stroke="#7a7a7a" stroke-width="0.6" stroke-linecap="round"/><circle cx="43.6" cy="867.7" r="1.25" fill="#ee1111"/><circle cx="71.4" cy="868" r="1.25" fill="#ee1111"/><circle cx="39.9" cy="873.4" r="1.25" fill="#ee1111"/><circle cx="44.3" cy="874" r="1.25" fill="#ee1111"/><circle cx="70.7" cy="874" r="1.25" fill="#ee1111"/><circle cx="78.8" cy="871.6" r="1.25" fill="#ee1111"/><circle cx="83.7" cy="875.5" r="1.25" fill="#ee1111"/><circle cx="33" cy="881.9" r="1.25" fill="#ee1111"/><circle cx="37.5" cy="882.4" r="1.25" fill="#ee1111"/><circle cx="42" cy="882.1" r="1.25" fill="#ee1111"/><circle cx="46.4" cy="883.1" r="1.25" fill="#ee1111"/><circle cx="69" cy="883.1" r="1.25" fill="#ee1111"/><circle cx="40.8" cy="889.6" r="1.25" fill="#ee1111"/><circle cx="83.2" cy="906.6" r="1.25" fill="#ee1111"/><text x="405.1" y="847.9" font-size="8" text-anchor="middle" fill="#2a2a2a" font-weight="normal" font-style="normal" >Group 4</text><circle cx="405.1" cy="893.3" r="33.2" fill="none" stroke="#333" stroke-width="0.7"/><path d="M399 860.6L405.1 854.7L411.2 860.6" fill="none" stroke="#333" stroke-width="0.7"/><path d="M372.1 888.1C368 886.9 367.7 889.4 368 893.3C368 898.5 367.7 903.6 372.1 902.3" fill="#fff" stroke="#333" stroke-width="0.7"/><path d="M438.1 888.1C442.2 886.9 442.5 889.4 442.2 893.3C442.2 898.5 442.5 903.6 438.1 902.3" fill="#fff" stroke="#333" stroke-width="0.7"/><path d="M393.8 920.1h0.01M397.5 920.1h0.01M401.1 920.1h0.01M404.8 920.1h0.01M408.4 920.1h0.01M412.1 920.1h0.01M415.7 920.1h0.01M388.3 917h0.01M392 917h0.01M395.6 917h0.01M399.3 917h0.01M402.9 917h0.01M406.6 917h0.01M410.2 917h0.01M413.9 917h0.01M417.6 917h0.01M421.2 917h0.01M386.5 913.8h0.01M390.2 913.8h0.01M393.8 913.8h0.01M397.5 913.8h0.01M401.1 913.8h0.01M404.8 913.8h0.01M408.4 913.8h0.01M412.1 913.8h0.01M415.7 913.8h0.01M419.4 913.8h0.01M423 913.8h0.01M426.7 913.8h0.01M381 910.6h0.01M384.7 910.6h0.01M388.3 910.6h0.01M392 910.6h0.01M395.6 910.6h0.01M399.3 910.6h0.01M402.9 910.6h0.01M406.6 910.6h0.01M410.2 910.6h0.01M413.9 910.6h0.01M417.6 910.6h0.01M421.2 910.6h0.01M424.9 910.6h0.01M428.5 910.6h0.01M379.2 907.4h0.01M382.9 907.4h0.01M386.5 907.4h0.01M390.2 907.4h0.01M393.8 907.4h0.01M397.5 907.4h0.01M401.1 907.4h0.01M404.8 907.4h0.01M408.4 907.4h0.01M412.1 907.4h0.01M415.7 907.4h0.01M419.4 907.4h0.01M423 907.4h0.01M426.7 907.4h0.01M430.3 907.4h0.01M377.4 904.3h0.01M381 904.3h0.01M384.7 904.3h0.01M388.3 904.3h0.01M392 904.3h0.01M395.6 904.3h0.01M399.3 904.3h0.01M402.9 904.3h0.01M406.6 904.3h0.01M410.2 904.3h0.01M413.9 904.3h0.01M417.6 904.3h0.01M421.2 904.3h0.01M424.9 904.3h0.01M428.5 904.3h0.01M432.2 904.3h0.01M379.2 901.1h0.01M382.9 901.1h0.01M386.5 901.1h0.01M390.2 901.1h0.01M393.8 901.1h0.01M397.5 901.1h0.01M401.1 901.1h0.01M404.8 901.1h0.01M408.4 901.1h0.01M412.1 901.1h0.01M415.7 901.1h0.01M419.4 901.1h0.01M423 901.1h0.01M426.7 901.1h0.01M430.3 901.1h0.01M377.4 897.9h0.01M381 897.9h0.01M384.7 897.9h0.01M388.3 897.9h0.01M392 897.9h0.01M395.6 897.9h0.01M399.3 897.9h0.01M402.9 897.9h0.01M406.6 897.9h0.01M410.2 897.9h0.01M413.9 897.9h0.01M417.6 897.9h0.01M421.2 897.9h0.01M424.9 897.9h0.01M428.5 897.9h0.01M432.2 897.9h0.01M375.6 894.7h0.01M379.2 894.7h0.01M382.9 894.7h0.01M386.5 894.7h0.01M390.2 894.7h0.01M393.8 894.7h0.01M397.5 894.7h0.01M401.1 894.7h0.01M404.8 894.7h0.01M408.4 894.7h0.01M412.1 894.7h0.01M415.7 894.7h0.01M419.4 894.7h0.01M423 894.7h0.01M426.7 894.7h0.01M430.3 894.7h0.01M434 894.7h0.01M377.4 891.6h0.01M381 891.6h0.01M384.7 891.6h0.01M388.3 891.6h0.01M392 891.6h0.01M395.6 891.6h0.01M399.3 891.6h0.01M402.9 891.6h0.01M406.6 891.6h0.01M410.2 891.6h0.01M413.9 891.6h0.01M417.6 891.6h0.01M421.2 891.6h0.01M424.9 891.6h0.01M428.5 891.6h0.01M432.2 891.6h0.01M379.2 888.4h0.01M382.9 888.4h0.01M386.5 888.4h0.01M390.2 888.4h0.01M393.8 888.4h0.01M397.5 888.4h0.01M401.1 888.4h0.01M404.8 888.4h0.01M408.4 888.4h0.01M412.1 888.4h0.01M415.7 888.4h0.01M419.4 888.4h0.01M423 888.4h0.01M426.7 888.4h0.01M430.3 888.4h0.01M434 888.4h0.01M377.4 885.2h0.01M381 885.2h0.01M384.7 885.2h0.01M388.3 885.2h0.01M392 885.2h0.01M395.6 885.2h0.01M399.3 885.2h0.01M402.9 885.2h0.01M406.6 885.2h0.01M410.2 885.2h0.01M413.9 885.2h0.01M417.6 885.2h0.01M421.2 885.2h0.01M424.9 885.2h0.01M428.5 885.2h0.01M432.2 885.2h0.01M379.2 882h0.01M382.9 882h0.01M386.5 882h0.01M390.2 882h0.01M393.8 882h0.01M397.5 882h0.01M401.1 882h0.01M404.8 882h0.01M408.4 882h0.01M412.1 882h0.01M415.7 882h0.01M419.4 882h0.01M423 882h0.01M426.7 882h0.01M430.3 882h0.01M381 878.8h0.01M384.7 878.8h0.01M388.3 878.8h0.01M392 878.8h0.01M395.6 878.8h0.01M399.3 878.8h0.01M402.9 878.8h0.01M406.6 878.8h0.01M410.2 878.8h0.01M413.9 878.8h0.01M417.6 878.8h0.01M421.2 878.8h0.01M424.9 878.8h0.01M428.5 878.8h0.01M382.9 875.7h0.01M386.5 875.7h0.01M390.2 875.7h0.01M393.8 875.7h0.01M397.5 875.7h0.01M401.1 875.7h0.01M404.8 875.7h0.01M408.4 875.7h0.01M412.1 875.7h0.01M415.7 875.7h0.01M419.4 875.7h0.01M423 875.7h0.01M426.7 875.7h0.01M384.7 872.5h0.01M388.3 872.5h0.01M392 872.5h0.01M395.6 872.5h0.01M399.3 872.5h0.01M402.9 872.5h0.01M406.6 872.5h0.01M410.2 872.5h0.01M413.9 872.5h0.01M417.6 872.5h0.01M421.2 872.5h0.01M424.9 872.5h0.01M390.2 869.3h0.01M393.8 869.3h0.01M397.5 869.3h0.01M401.1 869.3h0.01M404.8 869.3h0.01M408.4 869.3h0.01M412.1 869.3h0.01M415.7 869.3h0.01M419.4 869.3h0.01M395.6 866.1h0.01M399.3 866.1h0.01M402.9 866.1h0.01M406.6 866.1h0.01M410.2 866.1h0.01M413.9 866.1h0.01" stroke="#7a7a7a" stroke-width="0.6" stroke-linecap="round"/><circle cx="382.6" cy="871.6" r="1.25" fill="#ee1111"/><circle cx="379.4" cy="880" r="1.25" fill="#ee1111"/><circle cx="374.5" cy="884.5" r="1.25" fill="#ee1111"/><circle cx="374.5" cy="886.4" r="1.25" fill="#ee1111"/><circle cx="377.9" cy="889.6" r="1.25" fill="#ee1111"/><circle cx="382.6" cy="888.9" r="1.25" fill="#ee1111"/><circle cx="383.6" cy="896.3" r="1.25" fill="#ee1111"/><circle cx="421.4" cy="873.4" r="1.25" fill="#ee1111"/><circle cx="425" cy="873.4" r="1.25" fill="#ee1111"/><circle cx="419.3" cy="882.1" r="1.25" fill="#ee1111"/><circle cx="424" cy="882.4" r="1.25" fill="#ee1111"/><circle cx="428.5" cy="881.9" r="1.25" fill="#ee1111"/><circle cx="420.5" cy="887.8" r="1.25" fill="#ee1111"/><circle cx="420.5" cy="889.9" r="1.25" fill="#ee1111"/><circle cx="425" cy="888.9" r="1.25" fill="#ee1111"/><circle cx="429.2" cy="891.8" r="1.25" fill="#ee1111"/><circle cx="424" cy="896.3" r="1.25" fill="#ee1111"/><circle cx="406.6" cy="906.9" r="1.25" fill="#ee1111"/><path d="M475.4 535.7V719M482 535.7V719M488.6 535.7V719M495.2 535.7V719M501.9 535.7V719M508.5 535.7V719M515.1 535.7V719M521.7 535.7V719M528.3 535.7V719M535 535.7V719M541.6 535.7V719M548.2 535.7V719M554.8 535.7V719M561.4 535.7V719M568.1 535.7V719M574.7 535.7V719M581.3 535.7V719M587.9 535.7V719M594.5 535.7V719M601.2 535.7V719M607.8 535.7V719M614.4 535.7V719M621 535.7V719M627.6 535.7V719M634.3 535.7V719M640.9 535.7V719M647.5 535.7V719M654.1 535.7V719M660.7 535.7V719M667.4 535.7V719M674 535.7V719M680.6 535.7V719M687.2 535.7V719M693.8 535.7V719M700.5 535.7V719M474.3 714.8H707.4M474.3 710.4H707.4M474.3 706H707.4M474.3 701.6H707.4M474.3 697.1H707.4M474.3 692.7H707.4M474.3 688.3H707.4M474.3 683.9H707.4M474.3 679.5H707.4M474.3 675.1H707.4M474.3 670.7H707.4M474.3 666.3H707.4M474.3 661.9H707.4M474.3 657.4H707.4M474.3 653H707.4M474.3 648.6H707.4M474.3 644.2H707.4M474.3 639.8H707.4M474.3 635.4H707.4M474.3 631H707.4M474.3 626.5H707.4M474.3 622.1H707.4M474.3 617.7H707.4M474.3 613.3H707.4M474.3 608.9H707.4M474.3 604.5H707.4M474.3 600.1H707.4M474.3 595.7H707.4M474.3 591.2H707.4M474.3 586.8H707.4M474.3 582.4H707.4M474.3 578H707.4M474.3 573.6H707.4M474.3 569.2H707.4M474.3 564.8H707.4M474.3 560.4H707.4M474.3 555.9H707.4M474.3 551.5H707.4M474.3 547.1H707.4M474.3 542.7H707.4M474.3 538.3H707.4" stroke="#dedede" stroke-width="0.6" fill="none"/><path d="M475.4 611.3l1 1.8l1 -2.3l1 -4.7l1 -5l0 4.1l1 -0.5l1 7.1l1 3.8l1 6.5l0.6 1.7l0.4 -12.7l1 -22.6l1 -40.2l0.2 -4.8l0.8 37.6l1 40.9l0.7 33.8l0.3 -6.7l1 -11.6l1 -19l1 -14l1 -14.3l0.9 -15.9l0.1 2.3l1 13.1l1 3.6l1 8l1 5.8l1.1 8.4l1 14.4l1 4l1 14.9l1 4.3l0.3 -0.2l0.7 -3l1 -3.2l1 -14.3l1 -5l1 -7.4l1 2l1 2.2l0 2.7l1 -8l1 -3.1l1 -7.9l0.9 -6.3l0.1 1.1l1 25.5l0.3 9.2l0.7 -9.4l1 -4.8l1 -2.4l1 -6.6l1 -10.2l0.3 -0.2l0.7 0.1l1 4.2l1 8.1l1 7.6l1 0.1l1 4.5l1 4.2l1 8.3l0.5 0.6l0.5 -1.4l1 4.5l1 2.5l1.1 13l1 2.1l1 2.1l1 8.7l1 0.3l0.1 -0.7l0.9 -18.8l1 -23.1l0.3 -10.3l0.7 4.7l1 11.6l1 13.6l1 -11.9l1 -5l1 -9.9l1 -7.3l0.9 -10.8l0.1 0.8l1 13.5l1 6.3l1 7.7l1 9.4l1 2.9l1 8.2l0.9 9.7l0.1 -5l1 3.9l1 1l1 -5.8l1 3.4l1 -2.3l0.2 3.3l0.8 -2.4l1 -7.8l1 -5.6l1 -2.7l1 -11.6l0.5 8.5l0.5 -1.5l0.8 8.4l0.3 -0.2l1 -7.8l1 -9.4l1 -2.3l1 -4.5l1 -8l0.3 -8.7l0.7 6.1l1 16.2l1 1.5l1 10.2l1 0.2l1 10.2l1 16.3l1 -1.1l1 14.3l0.3 -0.1l0.7 -1.9l1 -9.5l0.9 -5.8l0.1 3.5l1 3.6l1 6.8l0.6 -5.1l0.4 -0.3l1 -0.5l1 -6.4l0.2 -3.4l0.8 4l1 -5.7l1 6l1 -3.5l0.2 1.9l0.8 -13.8l1 -11.3l1 -9.4l1 -9.9l0.7 -6.8l0.3 -2.7l1 12l1.1 8.5l1 11.6l1 12.7l1 5.3l0 0.9l1 2.2l1 5.1l1 0.9l1 2.9l1 -2.6l1 3.4l1 0.8l1 -4.2l1 2.9l0.3 -9l0.7 6.4l1 -5.9l1 6.6l0.6 -2.7l0.4 -5.9l1 6.5l1 -3.7l1 -6.9l1 3.4l1 -7.3l1 -1.5l1 1.9l1 3l1 -11.9l1 -0.7l1 5.4l1 -5.3l0.2 0l0.8 0.5l1 -0.7l1 -0.1l1 -26.1l1.1 2.8l1 -0.4l1 -7.9l1 -5.7l1 -17.8l1 14.5l0 -6.3l1 4.5l1 1l1 -6.2l1 -8.4l1 7l1 -0.2l1 -3.4l1 2.8l1 7.3l1 -12.3l0.6 7.9l0.4 -10.3l1 1.2l1 -5.8l1 8.4l1 -13.9l0.2 11.4l0.8 3.5l1 0.1l1 -3.5l1 -11.8l1 6.5l1 8.8l1 -9.8l1 7.3l1 12l1 3.6l1 -4.6l1 -6l1.1 1.2l0.4 4.5l0.6 5.6l1 -6.2l1 6l1 -19.1l1 17.6l1 -0.1l1 -16.9l1 15.9l1 -4.1l1 1.4l1 -9l1 -0.5l1 3.2l1 13.7l1 5.5l0.6 -26.6l0.4 21.8l1 1l1 -15.2l1 5.7l1 4.3l1 1.2l1 -6.6l1 -0.3l1 9.6l1 -9.2l1 12.9l1 7.6l1 -13.1l0.8 -12.2l0.2 12l1 -0.2l1 11.6l1 -17.2l1.1 10.3l1 5.1l1 -4.5l1 10.9l1 -11.1l0.3 3l0.7 -4.1l1 18l1 -15.3l1 15.9l1 -1" stroke="#f4a3ab" stroke-width="5.0" stroke-opacity="0.55" fill="none" stroke-linejoin="round"/><path d="M475.4 611.3l1 1.8l1 -2.3l1 -4.7l1 -5l0 4.1l1 -0.5l1 7.1l1 3.8l1 6.5l0.6 1.7l0.4 -12.7l1 -22.6l1 -40.2l0.2 -4.8l0.8 37.6l1 40.9l0.7 33.8l0.3 -6.7l1 -11.6l1 -19l1 -14l1 -14.3l0.9 -15.9l0.1 2.3l1 13.1l1 3.6l1 8l1 5.8l1.1 8.4l1 14.4l1 4l1 14.9l1 4.3l0.3 -0.2l0.7 -3l1 -3.2l1 -14.3l1 -5l1 -7.4l1 2l1 2.2l0 2.7l1 -8l1 -3.1l1 -7.9l0.9 -6.3l0.1 1.1l1 25.5l0.3 9.2l0.7 -9.4l1 -4.8l1 -2.4l1 -6.6l1 -10.2l0.3 -0.2l0.7 0.1l1 4.2l1 8.1l1 7.6l1 0.1l1 4.5l1 4.2l1 8.3l0.5 0.6l0.5 -1.4l1 4.5l1 2.5l1.1 13l1 2.1l1 2.1l1 8.7l1 0.3l0.1 -0.7l0.9 -18.8l1 -23.1l0.3 -10.3l0.7 4.7l1 11.6l1 13.6l1 -11.9l1 -5l1 -9.9l1 -7.3l0.9 -10.8l0.1 0.8l1 13.5l1 6.3l1 7.7l1 9.4l1 2.9l1 8.2l0.9 9.7l0.1 -5l1 3.9l1 1l1 -5.8l1 3.4l1 -2.3l0.2 3.3l0.8 -2.4l1 -7.8l1 -5.6l1 -2.7l1 -11.6l0.5 8.5l0.5 -1.5l0.8 8.4l0.3 -0.2l1 -7.8l1 -9.4l1 -2.3l1 -4.5l1 -8l0.3 -8.7l0.7 6.1l1 16.2l1 1.5l1 10.2l1 0.2l1 10.2l1 16.3l1 -1.1l1 14.3l0.3 -0.1l0.7 -1.9l1 -9.5l0.9 -5.8l0.1 3.5l1 3.6l1 6.8l0.6 -5.1l0.4 -0.3l1 -0.5l1 -6.4l0.2 -3.4l0.8 4l1 -5.7l1 6l1 -3.5l0.2 1.9l0.8 -13.8l1 -11.3l1 -9.4l1 -9.9l0.7 -6.8l0.3 -2.7l1 12l1.1 8.5l1 11.6l1 12.7l1 5.3l0 0.9l1 2.2l1 5.1l1 0.9l1 2.9l1 -2.6l1 3.4l1 0.8l1 -4.2l1 2.9l0.3 -9l0.7 6.4l1 -5.9l1 6.6l0.6 -2.7l0.4 -5.9l1 6.5l1 -3.7l1 -6.9l1 3.4l1 -7.3l1 -1.5l1 1.9l1 3l1 -11.9l1 -0.7l1 5.4l1 -5.3l0.2 0l0.8 0.5l1 -0.7l1 -0.1l1 -26.1l1.1 2.8l1 -0.4l1 -7.9l1 -5.7l1 -17.8l1 14.5l0 -6.3l1 4.5l1 1l1 -6.2l1 -8.4l1 7l1 -0.2l1 -3.4l1 2.8l1 7.3l1 -12.3l0.6 7.9l0.4 -10.3l1 1.2l1 -5.8l1 8.4l1 -13.9l0.2 11.4l0.8 3.5l1 0.1l1 -3.5l1 -11.8l1 6.5l1 8.8l1 -9.8l1 7.3l1 12l1 3.6l1 -4.6l1 -6l1.1 1.2l0.4 4.5l0.6 5.6l1 -6.2l1 6l1 -19.1l1 17.6l1 -0.1l1 -16.9l1 15.9l1 -4.1l1 1.4l1 -9l1 -0.5l1 3.2l1 13.7l1 5.5l0.6 -26.6l0.4 21.8l1 1l1 -15.2l1 5.7l1 4.3l1 1.2l1 -6.6l1 -0.3l1 9.6l1 -9.2l1 12.9l1 7.6l1 -13.1l0.8 -12.2l0.2 12l1 -0.2l1 11.6l1 -17.2l1.1 10.3l1 5.1l1 -4.5l1 10.9l1 -11.1l0.3 3l0.7 -4.1l1 18l1 -15.3l1 15.9l1 -1" stroke="#e8464f" stroke-width="1.2" fill="none" stroke-linejoin="round"/><path d="M475.4 612.3l1 -1.4l1 1.1l1 -7.9l1 -2.1l0 -4.9l1 5.6l1 6.6l1 0.7l1 6.7l0.6 5.2l0.4 -6.6l1 -32.8l1 -32.5l0.2 -3.6l0.8 30.9l1 49.4l0.7 29.6l0.3 -3.5l1 -20.9l1 -9.8l1 -18.8l1 -18l0.9 -12.2l0.1 5.9l1 4l1 11.8l1 2.9l1 11.2l1.1 9.5l1 5.8l1 6.2l0.8 8.7l0.2 2.7l1 4.2l0.3 1.3l0.7 -2.2l1 -10.1l1 -0.2l1 -9l1 -5.8l1 3.8l1 0.6l0 5.7l1 -10.6l1 -6.1l1 -5.3l0.9 -0.4l0.1 0.2l1 23.5l0.3 2.1l0.7 -8.7l1 -13.2l1 -13.1l1 -14.9l1 -13.2l0.3 -8.8l0.7 3.1l1 6l1 0.3l1 6.1l1 5.9l1 6.1l1 0.6l1 5.9l0.5 -2.9l0.5 6.3l1 7.4l1 -0.7l1.1 6.4l1 4.7l1 -1l1 10.1l1 1.3l0.1 1.7l0.9 -2.9l1 -5.8l0.3 -2.7l0.7 5.1l1 2.5l1 7.6l1 -8.3l1 -9.4l1 -16l1 -7.3l0.9 -8.4l0.1 0.4l1 4.5l1 9.3l1 8.1l1 8.5l1 10.7l1 0.8l0.9 8.2l0.1 1.9l1 -1l1 3.1l1 -0.9l1 1.5l1 1.3l0.2 -0.4l0.8 -2.7l1 -2.7l1 -2.7l1 -3.7l1 2.1l0.5 -2.2l0.5 -1.2l1.1 -8.9l1 -1.1l1 -2.4l1 -2.5l1 -9l1 -3.9l0.3 4.2l0.7 0.2l1 4l1 7.3l1 -2l1 10l1 6.9l1 3.3l1 4.1l1 2.7l0.3 3.4l0.7 6.2l1 4.1l0.9 4l0.1 -0.1l1 -0.4l1 -1.6l0.6 -2.5l0.4 0.8l1 -0.1l1 1.5l0.2 6.3l0.8 2.2l1 -2l1 5.2l1 -6.5l0.2 2l0.8 -16l1 -9.1l1 -13.5l1 -11.7l0.7 -11.4l0.3 0.1l1 10.7l1.1 -3.6l1 1.5l1 2.2l1 6.6l0 -2.6l1 -0.3l1 2.5l1 3l1 -5l1 6.6l0.3 0.3l0.7 2.7l1 10.9l1 6.1l0.6 6.9l0.4 0.2l1 -5l1 7.5l1 -5.6l0.6 -5.1l0.4 3.3l1 0.8l1 -1.7l1 2.8l1 -5.6l1 5.1l1 -1.3l1 -4.3l1 -1.2l1 0l1 0.1l1 -2.6l1 -1.3l0.2 -1.8l0.8 -2.7l1 -3.1l1 2.6l1 -7.7l1.1 -8.9l1 6l1 -4.1l1 -1.3l1 -16.1l1 -0.5l0 0.3l1 10.9l1 -12.5l1 6.9l1 -14.6l1 8.1l1 -9.9l1 2.5l1 9.6l1 -7.5l1 -1l0.6 1.1l0.4 -3.9l1 6.4l1 -8.7l1 5.6l1 -1.1l0.2 -2.9l0.8 0.3l1 -1.8l1 5.8l1 1.6l1 2.5l1 -18.7l1 8.7l1 6.7l1 -9.1l1 13.4l1 2.6l1 -10l1.1 -3.6l0.4 10.9l0.6 -15l1 10.7l1 9.1l1 -2.1l1 -4.9l1 -3.5l1 4.7l1 7.9l1 4.7l1 -11.7l1 3.1l1 2l1 6.3l1 5.4l1 -12.4l0.6 -2.1l0.4 9.2l1 -3.7l1 -4.3l1 -11.6l1 16.1l1 5.7l1 -9.9l1 4.9l1 -3.6l1 -9.2l1 4.7l1 5.2l1 -5.6l0.2 7.8l0.8 -12.6l1 10.1l1 -13.8l1 12.3l1.1 12.2l1 -2.5l1 2l1 -9.9l1 -5.2l1 1.5l1 -6.1l1 -0.2l1 12.1l1 -2.9" stroke="#c2dde9" stroke-width="5.0" stroke-opacity="0.55" fill="none" stroke-linejoin="round"/><path d="M475.4 612.3l1 -1.4l1 1.1l1 -7.9l1 -2.1l0 -4.9l1 5.6l1 6.6l1 0.7l1 6.7l0.6 5.2l0.4 -6.6l1 -32.8l1 -32.5l0.2 -3.6l0.8 30.9l1 49.4l0.7 29.6l0.3 -3.5l1 -20.9l1 -9.8l1 -18.8l1 -18l0.9 -12.2l0.1 5.9l1 4l1 11.8l1 2.9l1 11.2l1.1 9.5l1 5.8l1 6.2l0.8 8.7l0.2 2.7l1 4.2l0.3 1.3l0.7 -2.2l1 -10.1l1 -0.2l1 -9l1 -5.8l1 3.8l1 0.6l0 5.7l1 -10.6l1 -6.1l1 -5.3l0.9 -0.4l0.1 0.2l1 23.5l0.3 2.1l0.7 -8.7l1 -13.2l1 -13.1l1 -14.9l1 -13.2l0.3 -8.8l0.7 3.1l1 6l1 0.3l1 6.1l1 5.9l1 6.1l1 0.6l1 5.9l0.5 -2.9l0.5 6.3l1 7.4l1 -0.7l1.1 6.4l1 4.7l1 -1l1 10.1l1 1.3l0.1 1.7l0.9 -2.9l1 -5.8l0.3 -2.7l0.7 5.1l1 2.5l1 7.6l1 -8.3l1 -9.4l1 -16l1 -7.3l0.9 -8.4l0.1 0.4l1 4.5l1 9.3l1 8.1l1 8.5l1 10.7l1 0.8l0.9 8.2l0.1 1.9l1 -1l1 3.1l1 -0.9l1 1.5l1 1.3l0.2 -0.4l0.8 -2.7l1 -2.7l1 -2.7l1 -3.7l1 2.1l0.5 -2.2l0.5 -1.2l1.1 -8.9l1 -1.1l1 -2.4l1 -2.5l1 -9l1 -3.9l0.3 4.2l0.7 0.2l1 4l1 7.3l1 -2l1 10l1 6.9l1 3.3l1 4.1l1 2.7l0.3 3.4l0.7 6.2l1 4.1l0.9 4l0.1 -0.1l1 -0.4l1 -1.6l0.6 -2.5l0.4 0.8l1 -0.1l1 1.5l0.2 6.3l0.8 2.2l1 -2l1 5.2l1 -6.5l0.2 2l0.8 -16l1 -9.1l1 -13.5l1 -11.7l0.7 -11.4l0.3 0.1l1 10.7l1.1 -3.6l1 1.5l1 2.2l1 6.6l0 -2.6l1 -0.3l1 2.5l1 3l1 -5l1 6.6l0.3 0.3l0.7 2.7l1 10.9l1 6.1l0.6 6.9l0.4 0.2l1 -5l1 7.5l1 -5.6l0.6 -5.1l0.4 3.3l1 0.8l1 -1.7l1 2.8l1 -5.6l1 5.1l1 -1.3l1 -4.3l1 -1.2l1 0l1 0.1l1 -2.6l1 -1.3l0.2 -1.8l0.8 -2.7l1 -3.1l1 2.6l1 -7.7l1.1 -8.9l1 6l1 -4.1l1 -1.3l1 -16.1l1 -0.5l0 0.3l1 10.9l1 -12.5l1 6.9l1 -14.6l1 8.1l1 -9.9l1 2.5l1 9.6l1 -7.5l1 -1l0.6 1.1l0.4 -3.9l1 6.4l1 -8.7l1 5.6l1 -1.1l0.2 -2.9l0.8 0.3l1 -1.8l1 5.8l1 1.6l1 2.5l1 -18.7l1 8.7l1 6.7l1 -9.1l1 13.4l1 2.6l1 -10l1.1 -3.6l0.4 10.9l0.6 -15l1 10.7l1 9.1l1 -2.1l1 -4.9l1 -3.5l1 4.7l1 7.9l1 4.7l1 -11.7l1 3.1l1 2l1 6.3l1 5.4l1 -12.4l0.6 -2.1l0.4 9.2l1 -3.7l1 -4.3l1 -11.6l1 16.1l1 5.7l1 -9.9l1 4.9l1 -3.6l1 -9.2l1 4.7l1 5.2l1 -5.6l0.2 7.8l0.8 -12.6l1 10.1l1 -13.8l1 12.3l1.1 12.2l1 -2.5l1 2l1 -9.9l1 -5.2l1 1.5l1 -6.1l1 -0.2l1 12.1l1 -2.9" stroke="#4aa0c0" stroke-width="1.2" fill="none" stroke-linejoin="round"/><path d="M475.4 614l1 -3.6l1 -1.9l1 -5.4l1 -0.6l0 -5.1l1 11l1 4.6l1 5.5l1 0.8l0.6 6.4l0.4 -17.8l1 -25.8l1 -33.6l0.2 -9.4l0.8 42.4l1 51.7l0.7 21.9l0.3 -5.3l1 -13.9l1 -15.8l1 -18.3l1 -8.9l0.9 -17.5l0.1 -3.4l1 13.7l1 6.7l1 8l1 5.3l1.1 14.3l1 5l1 5l0.8 5.8l0.2 6.8l1 2.5l0.3 3.9l0.7 -5.4l1 -8.9l1 1l1 -7.9l1 -7.6l1 7.9l1 2.7l0 -3.9l1 -8.3l1 -5.1l1 -4.7l0.9 -7l0.1 0.3l1 25.6l0.3 11.2l0.7 -4.5l1 -12.2l1 0.1l1 -12.9l1 -5.7l0.3 1.6l0.7 1.3l1 3.2l1 7l1 5.6l1 0.9l1 4.8l1 3.2l1 9.9l0.5 -1.4l0.5 2.9l1 1.2l1 6.9l1.1 5.6l1 0.2l1 8.8l1 1.9l1 1.6l0.1 -2.9l0.9 -12.5l1 -24.1l0.3 -7.9l0.7 10.8l1 4.7l1 13.2l1 -19.5l1 -20l1 -15l1 -18.8l0.9 -24.4l0.1 4.1l1 6l1 8l1 11.6l1 12.4l1 1.6l1 14.3l0.9 8.7l0.1 -2.2l1 1.2l1 3.4l1 5l1 -1l1 6.9l0.2 -2.6l0.8 0.3l1 0.1l1 -5.9l1 -1.2l1 1l0.5 -0.6l0.5 -3.9l1.1 -6.2l1 -5l1 1.2l1 -6.8l1 -4.9l1 1.9l0.3 -4.1l0.7 7.7l1 2.8l1 4.4l1 7.4l1 4.8l1 8.7l1 9.7l1 3.5l1 2.3l0.3 9.1l0.7 -8l1 7.8l0.9 1.6l0.1 2.2l1 -6.5l1 12.7l0.6 -10.1l0.4 -2.3l1 4.3l1 0.3l0.2 -4.6l0.8 9.5l1 -5.1l1 5.3l1 -1.7l0.2 -3.4l0.8 -5.1l1 -15.9l1 -8.8l1 -15.4l0.7 -10.2l0.3 0.8l1 4.2l1.1 1.3l1 0.7l1 3.3l1 2.7l0 -7.8l1 8.4l1 6.4l1 -8.2l1 9.8l1 6.6l0.3 -0.8l0.7 5.8l1 1.3l1 5.9l0.6 13.2l0.4 -2.1l1 -5.4l1 2.2l1 -3.9l0.6 -1.1l0.4 -5.5l1 -1l1 1l1 7.6l1 -3.5l1 1l1 -3.8l1 -0.4l1 1l1 -5.5l1 2.1l1 4.6l1 -7.3l0.2 2.4l0.8 -4l1 -5l1 0.8l1 -10.2l1.1 4.9l1 -20.6l1 4.4l1 -4l1 7.7l1 -10.4l0 7.5l1 -2.1l1 -9.8l1 -7.2l1 6l1 -2.7l1 7.7l1 6.6l1 -25.5l1 17.9l1 -4.8l0.6 -4.6l0.4 11.3l1 -3.1l1 -10.8l1 5.7l1 -5.7l0.2 -6.4l0.8 4.6l1 2.1l1 -1.5l1 14l1 -7.1l1 -15.1l1 7.3l1 9.6l1 9.7l1 -6.8l1 -4.3l1 10.2l1.1 -15.9l0.4 16.7l0.6 -3.4l1 -1.2l1 -3.5l1 4l1 -18l1 26.5l1 -13.5l1 0.6l1 12l1 -5.5l1 3.7l1 0.3l1 -7.4l1 -7.4l1 13.2l0.6 -7.6l0.4 4.4l1 8.5l1 -7.5l1 -1.9l1 -16.1l1 13.7l1 2.7l1 -4.9l1 -3.9l1 6.1l1 -3.7l1 20.1l1 -10.7l0.2 0.7l0.8 -5.1l1 -0.4l1 -2l1 3.3l1.1 -0.7l1 3.5l1 -6.1l1 5.9l1 8.9l1 -15.6l1 8.7l1 -8.7l1 7.7l1 1.8" stroke="#bcd5f0" stroke-width="5.0" stroke-opacity="0.55" fill="none" stroke-linejoin="round"/><path d="M475.4 614l1 -3.6l1 -1.9l1 -5.4l1 -0.6l0 -5.1l1 11l1 4.6l1 5.5l1 0.8l0.6 6.4l0.4 -17.8l1 -25.8l1 -33.6l0.2 -9.4l0.8 42.4l1 51.7l0.7 21.9l0.3 -5.3l1 -13.9l1 -15.8l1 -18.3l1 -8.9l0.9 -17.5l0.1 -3.4l1 13.7l1 6.7l1 8l1 5.3l1.1 14.3l1 5l1 5l0.8 5.8l0.2 6.8l1 2.5l0.3 3.9l0.7 -5.4l1 -8.9l1 1l1 -7.9l1 -7.6l1 7.9l1 2.7l0 -3.9l1 -8.3l1 -5.1l1 -4.7l0.9 -7l0.1 0.3l1 25.6l0.3 11.2l0.7 -4.5l1 -12.2l1 0.1l1 -12.9l1 -5.7l0.3 1.6l0.7 1.3l1 3.2l1 7l1 5.6l1 0.9l1 4.8l1 3.2l1 9.9l0.5 -1.4l0.5 2.9l1 1.2l1 6.9l1.1 5.6l1 0.2l1 8.8l1 1.9l1 1.6l0.1 -2.9l0.9 -12.5l1 -24.1l0.3 -7.9l0.7 10.8l1 4.7l1 13.2l1 -19.5l1 -20l1 -15l1 -18.8l0.9 -24.4l0.1 4.1l1 6l1 8l1 11.6l1 12.4l1 1.6l1 14.3l0.9 8.7l0.1 -2.2l1 1.2l1 3.4l1 5l1 -1l1 6.9l0.2 -2.6l0.8 0.3l1 0.1l1 -5.9l1 -1.2l1 1l0.5 -0.6l0.5 -3.9l1.1 -6.2l1 -5l1 1.2l1 -6.8l1 -4.9l1 1.9l0.3 -4.1l0.7 7.7l1 2.8l1 4.4l1 7.4l1 4.8l1 8.7l1 9.7l1 3.5l1 2.3l0.3 9.1l0.7 -8l1 7.8l0.9 1.6l0.1 2.2l1 -6.5l1 12.7l0.6 -10.1l0.4 -2.3l1 4.3l1 0.3l0.2 -4.6l0.8 9.5l1 -5.1l1 5.3l1 -1.7l0.2 -3.4l0.8 -5.1l1 -15.9l1 -8.8l1 -15.4l0.7 -10.2l0.3 0.8l1 4.2l1.1 1.3l1 0.7l1 3.3l1 2.7l0 -7.8l1 8.4l1 6.4l1 -8.2l1 9.8l1 6.6l0.3 -0.8l0.7 5.8l1 1.3l1 5.9l0.6 13.2l0.4 -2.1l1 -5.4l1 2.2l1 -3.9l0.6 -1.1l0.4 -5.5l1 -1l1 1l1 7.6l1 -3.5l1 1l1 -3.8l1 -0.4l1 1l1 -5.5l1 2.1l1 4.6l1 -7.3l0.2 2.4l0.8 -4l1 -5l1 0.8l1 -10.2l1.1 4.9l1 -20.6l1 4.4l1 -4l1 7.7l1 -10.4l0 7.5l1 -2.1l1 -9.8l1 -7.2l1 6l1 -2.7l1 7.7l1 6.6l1 -25.5l1 17.9l1 -4.8l0.6 -4.6l0.4 11.3l1 -3.1l1 -10.8l1 5.7l1 -5.7l0.2 -6.4l0.8 4.6l1 2.1l1 -1.5l1 14l1 -7.1l1 -15.1l1 7.3l1 9.6l1 9.7l1 -6.8l1 -4.3l1 10.2l1.1 -15.9l0.4 16.7l0.6 -3.4l1 -1.2l1 -3.5l1 4l1 -18l1 26.5l1 -13.5l1 0.6l1 12l1 -5.5l1 3.7l1 0.3l1 -7.4l1 -7.4l1 13.2l0.6 -7.6l0.4 4.4l1 8.5l1 -7.5l1 -1.9l1 -16.1l1 13.7l1 2.7l1 -4.9l1 -3.9l1 6.1l1 -3.7l1 20.1l1 -10.7l0.2 0.7l0.8 -5.1l1 -0.4l1 -2l1 3.3l1.1 -0.7l1 3.5l1 -6.1l1 5.9l1 8.9l1 -15.6l1 8.7l1 -8.7l1 7.7l1 1.8" stroke="#3a87d6" stroke-width="1.2" fill="none" stroke-linejoin="round"/><path d="M475.4 614.7l1 -4.6l1 -3.4l1 -3.1l1 -1.6l0 0.4l1 2.7l1 5.8l1 2l1 6.6l0.6 3.9l0.4 -13.3l1 -32.2l1 -29.3l0.2 -2.4l0.8 34l1 41.9l0.7 33.8l0.3 2.1l1 -20.9l1 -18.5l1 -17.9l1 -13.9l0.9 -7.9l0.1 -2l1 6.3l1 7.2l1 12.3l1 8.6l1.1 3.5l1 4.3l1 14.6l0.8 4.7l0.2 2.4l1 5.1l0.3 6.7l0.7 -5l1 -5l1 -10.8l1 -10.9l1 -1.7l1 4.1l1 4.8l0 0.3l1 -13.9l1 -1.9l1 -5.3l0.9 -8.3l0.1 9.1l1 21.9l0.3 4.2l0.7 -7.1l1 -4.1l1 -6.8l1 -5.4l1 -3l0.3 -2.9l0.7 4l1 3.3l1 6.9l1 0.5l1 8.1l1 2l1 3.9l1 0.3l0.5 6.9l0.5 7l1 -6.5l1 6.2l1.1 5.8l1 6.9l1 1.8l1 0.5l1 0.1l0.1 2.9l0.9 -20.3l1 -18.4l0.3 -5.1l0.7 8.7l1 4.1l1 18.7l1 -16l1 -15.8l1 -8.9l1 -4.3l0.9 -17.5l0.1 7.1l1 11l1 5.6l1 9.1l1 2l1 15.4l1 12.5l0.9 9.7l0.1 -2.3l1 -2.9l1 2.4l1 -1.5l1 -0.1l1 -5.2l0.2 5.2l0.8 -8.1l1 0.6l1 -6.1l1 -10.6l1 -0.9l0.5 -2l0.5 7.4l0.8 12.1l0.3 -7.5l1 -12.9l1 -25.1l1 -16.8l1 -15.7l1 -16.9l0.3 -6.3l0.7 4.4l1 10.8l1 8.4l1 9.8l1 7l1 11.7l1 6.9l1 15.4l1 0.2l0.3 1.5l0.7 2.4l1 3.6l0.9 -3.7l0.1 -0.4l1 6.4l1 5.8l0.6 2.5l0.4 -3.4l1 -3.8l1 0.8l0.2 0.4l0.8 5.1l1 5.3l1 7.7l1 7.9l0.2 -0.4l0.8 -13.3l1 -8.8l1 -14.7l1 -19.6l0.7 -6.9l0.3 0.2l1 8.9l1.1 4.2l1 -7.2l1 12.1l1 4l0 -3.2l1 4.2l1 1.6l1 -5.9l1 -1.3l1 -0.4l0.3 0.7l0.7 9.8l1 7.5l1 5.5l0.6 4.4l0.4 1.5l1 -7l1 -0.9l1 -1.8l0.6 -1.9l0.4 1.6l1 1.4l1 -0.3l1 -3.7l1 2.4l1 -4.1l1 -2.7l1 0.2l1 -8.1l1 8.3l1 10.5l1 -6l1 -0.8l0.2 -13.4l0.8 5.6l1 -7.1l1 1.9l1 1.7l1.1 -7l1 -12.4l1 -6.2l1 10.7l1 -9.2l1 1.4l0 -8.1l1 2.3l1 6.7l1 -13.1l1 7.4l1 0.2l1 -2.9l1 -6l1 4.9l1 -3.7l1 10l0.6 -19l0.4 8.2l1 -6.1l1 0.8l1 15.9l1 -10.4l0.2 1.6l0.8 3.7l1 -6.2l1 6.8l1 6l1 -9.9l1 -4.3l1 11l1 -1.1l1 -9.6l1 14l1 1.6l1 -10.5l1.1 0l0.4 0.2l0.6 4.4l1 7.9l1 19l1 -26.6l1 1l1 7.3l1 -0.1l1 3l1 -8.5l1 -0.6l1 20.3l1 -16l1 -1.7l1 10.9l1 -20.3l0.6 8.9l0.4 -0.5l1 7.1l1 -0.5l1 -6l1 0.1l1 4.3l1 -0.9l1 1.3l1 0.9l1 -7.9l1 0.9l1 -4l1 4.2l0.2 -0.1l0.8 3.6l1 1.5l1 -13.8l1 7.1l1.1 3.7l1 0.8l1 -9l1 -6.6l1 2.9l1 6.8l1 -6.7l1 7.6l1 10.2l1 -8.6" stroke="#b9bcdf" stroke-width="5.0" stroke-opacity="0.55" fill="none" stroke-linejoin="round"/><path d="M475.4 614.7l1 -4.6l1 -3.4l1 -3.1l1 -1.6l0 0.4l1 2.7l1 5.8l1 2l1 6.6l0.6 3.9l0.4 -13.3l1 -32.2l1 -29.3l0.2 -2.4l0.8 34l1 41.9l0.7 33.8l0.3 2.1l1 -20.9l1 -18.5l1 -17.9l1 -13.9l0.9 -7.9l0.1 -2l1 6.3l1 7.2l1 12.3l1 8.6l1.1 3.5l1 4.3l1 14.6l0.8 4.7l0.2 2.4l1 5.1l0.3 6.7l0.7 -5l1 -5l1 -10.8l1 -10.9l1 -1.7l1 4.1l1 4.8l0 0.3l1 -13.9l1 -1.9l1 -5.3l0.9 -8.3l0.1 9.1l1 21.9l0.3 4.2l0.7 -7.1l1 -4.1l1 -6.8l1 -5.4l1 -3l0.3 -2.9l0.7 4l1 3.3l1 6.9l1 0.5l1 8.1l1 2l1 3.9l1 0.3l0.5 6.9l0.5 7l1 -6.5l1 6.2l1.1 5.8l1 6.9l1 1.8l1 0.5l1 0.1l0.1 2.9l0.9 -20.3l1 -18.4l0.3 -5.1l0.7 8.7l1 4.1l1 18.7l1 -16l1 -15.8l1 -8.9l1 -4.3l0.9 -17.5l0.1 7.1l1 11l1 5.6l1 9.1l1 2l1 15.4l1 12.5l0.9 9.7l0.1 -2.3l1 -2.9l1 2.4l1 -1.5l1 -0.1l1 -5.2l0.2 5.2l0.8 -8.1l1 0.6l1 -6.1l1 -10.6l1 -0.9l0.5 -2l0.5 7.4l0.8 12.1l0.3 -7.5l1 -12.9l1 -25.1l1 -16.8l1 -15.7l1 -16.9l0.3 -6.3l0.7 4.4l1 10.8l1 8.4l1 9.8l1 7l1 11.7l1 6.9l1 15.4l1 0.2l0.3 1.5l0.7 2.4l1 3.6l0.9 -3.7l0.1 -0.4l1 6.4l1 5.8l0.6 2.5l0.4 -3.4l1 -3.8l1 0.8l0.2 0.4l0.8 5.1l1 5.3l1 7.7l1 7.9l0.2 -0.4l0.8 -13.3l1 -8.8l1 -14.7l1 -19.6l0.7 -6.9l0.3 0.2l1 8.9l1.1 4.2l1 -7.2l1 12.1l1 4l0 -3.2l1 4.2l1 1.6l1 -5.9l1 -1.3l1 -0.4l0.3 0.7l0.7 9.8l1 7.5l1 5.5l0.6 4.4l0.4 1.5l1 -7l1 -0.9l1 -1.8l0.6 -1.9l0.4 1.6l1 1.4l1 -0.3l1 -3.7l1 2.4l1 -4.1l1 -2.7l1 0.2l1 -8.1l1 8.3l1 10.5l1 -6l1 -0.8l0.2 -13.4l0.8 5.6l1 -7.1l1 1.9l1 1.7l1.1 -7l1 -12.4l1 -6.2l1 10.7l1 -9.2l1 1.4l0 -8.1l1 2.3l1 6.7l1 -13.1l1 7.4l1 0.2l1 -2.9l1 -6l1 4.9l1 -3.7l1 10l0.6 -19l0.4 8.2l1 -6.1l1 0.8l1 15.9l1 -10.4l0.2 1.6l0.8 3.7l1 -6.2l1 6.8l1 6l1 -9.9l1 -4.3l1 11l1 -1.1l1 -9.6l1 14l1 1.6l1 -10.5l1.1 0l0.4 0.2l0.6 4.4l1 7.9l1 19l1 -26.6l1 1l1 7.3l1 -0.1l1 3l1 -8.5l1 -0.6l1 20.3l1 -16l1 -1.7l1 10.9l1 -20.3l0.6 8.9l0.4 -0.5l1 7.1l1 -0.5l1 -6l1 0.1l1 4.3l1 -0.9l1 1.3l1 0.9l1 -7.9l1 0.9l1 -4l1 4.2l0.2 -0.1l0.8 3.6l1 1.5l1 -13.8l1 7.1l1.1 3.7l1 0.8l1 -9l1 -6.6l1 2.9l1 6.8l1 -6.7l1 7.6l1 10.2l1 -8.6" stroke="#2f3a96" stroke-width="1.2" fill="none" stroke-linejoin="round"/><path d="M475.4 608.3l1 3.1l1 -7.3l1 -0.7l1 -3.8l0 5l1 3.9l1 2l1 2.5l1 7.7l0.6 2.4l0.4 -13.5l1 -29.8l1 -29.9l0.2 -6.5l0.8 36.6l1 46.7l0.7 30.8l0.3 -6.5l1 -13.6l1 -20.7l1 -12.9l1 -12.5l0.9 -20.7l0.1 5.8l1 12.5l1 6.8l1 3.8l1 10.7l1.1 3.9l1 12.1l1 4l0.8 11.3l0.2 -5.3l1 8.3l0.3 3.9l0.7 -4.4l1 -6.8l1 -6.8l1 -0.9l1 -10.3l1 2.9l1 2.6l0 -0.3l1 -1.4l1 -10.5l1 -2.7l0.9 -8.6l0.1 3.7l1 21.1l0.3 9.5l0.7 -5.1l1 -3l1 -8.9l1 -9.3l1 -6.1l0.3 2.1l0.7 0.2l1 7.5l1 5.6l1 0.1l1 2.7l1 8.1l1 7.3l1 -2.5l0.5 5.9l0.5 2.6l1 1.3l1 6.3l1.1 7.6l1 0.7l1 2.4l1 1.3l1 6.8l0.1 0.6l0.9 -18.1l1 -21.3l0.3 -10.2l0.7 6l1 13.8l1 7l1 -7.1l1 -15.5l1 -4.5l1 -9.4l0.9 -13.7l0.1 -5.3l1 12.6l1 5.4l1 14.2l1 8.8l1 9.4l1 6.4l0.9 7.2l0.1 -2.8l1 6.5l1 -7.4l1 4.8l1 -1.4l1 0.4l0.2 2l0.8 -9l1 -0.7l1 -5.4l1 -3.4l1 0.8l0.5 -9.8l0.5 10.5l0.8 7.3l0.3 -3.7l1 -7.8l1 -11.5l1 -11l1 -13.8l1 -7.9l0.3 -2.5l0.7 5.8l1 7.3l1 10.7l1 5.2l1 16.4l1 13.4l1 8.1l1 6.6l1 10.6l0.3 -0.8l0.7 0.9l1 -10.3l0.9 -8.5l0.1 6.4l1 0.2l1 7.7l0.6 5.1l0.4 -1.7l1 -6.4l1 -10.8l0.2 2.7l0.8 -4.4l1 7.3l1 3.3l1 -3l0.2 -2l0.8 -18.5l1 -31.3l1 -20.7l1 -21.9l0.7 -19.5l0.3 8.5l1 8.9l1.1 12.9l1 12.8l1 7.8l1 16.8l0 1.3l1 5.6l1 0.5l1 9.9l1 4.2l1 1.7l0.3 2.9l0.7 11.5l1 8.3l1 10.6l0.6 2.2l0.4 5.3l1 -2.6l1 -8l1 5.4l0.6 -13l0.4 -1l1 1.4l1 5.4l1 -13.7l1 4.9l1 1.2l1 5.7l1 -15.2l1 0.8l1 4.5l1 -7l1 0.6l1 0.1l0.2 -0.9l0.8 -1.8l1 2.3l1 -17.3l1 2.7l1.1 -7.1l1 -1.1l1 -11.8l1 -6.3l1 -4.2l1 -12.1l0 -2.1l1 -0.4l1 10.1l1 -6.1l1 -4.3l1 0.6l1 -14l1 6l1 -3l1 -10.2l1 16.8l0.6 -2.5l0.4 0.5l1 -7.3l1 5.9l1 4l1 -4.2l0.2 6.1l0.8 -0.9l1 9.4l1 -9.7l1 -1.4l1 4.3l1 8.2l1 -8l1 6.3l1 -4.2l1 -6.9l1 10.8l1 -0.1l1.1 -8.9l0.4 22.1l0.6 -6.2l1 3.6l1 -5l1 -4.7l1 -2.2l1 5.1l1 1.2l1 6.8l1 -6.9l1 -1l1 3.4l1 -4.5l1 -3.3l1 5.6l1 -7.9l0.6 13.8l0.4 -2.9l1 3l1 -3.3l1 11.2l1 -10.9l1 3.3l1 -11.3l1 1.7l1 10.4l1 -16.3l1 8.1l1 2.3l1 1.7l0.2 -4.4l0.8 8.2l1 -3.8l1 -3.4l1 3.3l1.1 5.7l1 -11.8l1 13.1l1 -5.9l1 7.2l1 -8.2l1 3.7l1 -6.1l1 -10.2l1 14.8" stroke="#a8a8a8" stroke-width="5.0" stroke-opacity="0.55" fill="none" stroke-linejoin="round"/><path d="M475.4 608.3l1 3.1l1 -7.3l1 -0.7l1 -3.8l0 5l1 3.9l1 2l1 2.5l1 7.7l0.6 2.4l0.4 -13.5l1 -29.8l1 -29.9l0.2 -6.5l0.8 36.6l1 46.7l0.7 30.8l0.3 -6.5l1 -13.6l1 -20.7l1 -12.9l1 -12.5l0.9 -20.7l0.1 5.8l1 12.5l1 6.8l1 3.8l1 10.7l1.1 3.9l1 12.1l1 4l0.8 11.3l0.2 -5.3l1 8.3l0.3 3.9l0.7 -4.4l1 -6.8l1 -6.8l1 -0.9l1 -10.3l1 2.9l1 2.6l0 -0.3l1 -1.4l1 -10.5l1 -2.7l0.9 -8.6l0.1 3.7l1 21.1l0.3 9.5l0.7 -5.1l1 -3l1 -8.9l1 -9.3l1 -6.1l0.3 2.1l0.7 0.2l1 7.5l1 5.6l1 0.1l1 2.7l1 8.1l1 7.3l1 -2.5l0.5 5.9l0.5 2.6l1 1.3l1 6.3l1.1 7.6l1 0.7l1 2.4l1 1.3l1 6.8l0.1 0.6l0.9 -18.1l1 -21.3l0.3 -10.2l0.7 6l1 13.8l1 7l1 -7.1l1 -15.5l1 -4.5l1 -9.4l0.9 -13.7l0.1 -5.3l1 12.6l1 5.4l1 14.2l1 8.8l1 9.4l1 6.4l0.9 7.2l0.1 -2.8l1 6.5l1 -7.4l1 4.8l1 -1.4l1 0.4l0.2 2l0.8 -9l1 -0.7l1 -5.4l1 -3.4l1 0.8l0.5 -9.8l0.5 10.5l0.8 7.3l0.3 -3.7l1 -7.8l1 -11.5l1 -11l1 -13.8l1 -7.9l0.3 -2.5l0.7 5.8l1 7.3l1 10.7l1 5.2l1 16.4l1 13.4l1 8.1l1 6.6l1 10.6l0.3 -0.8l0.7 0.9l1 -10.3l0.9 -8.5l0.1 6.4l1 0.2l1 7.7l0.6 5.1l0.4 -1.7l1 -6.4l1 -10.8l0.2 2.7l0.8 -4.4l1 7.3l1 3.3l1 -3l0.2 -2l0.8 -18.5l1 -31.3l1 -20.7l1 -21.9l0.7 -19.5l0.3 8.5l1 8.9l1.1 12.9l1 12.8l1 7.8l1 16.8l0 1.3l1 5.6l1 0.5l1 9.9l1 4.2l1 1.7l0.3 2.9l0.7 11.5l1 8.3l1 10.6l0.6 2.2l0.4 5.3l1 -2.6l1 -8l1 5.4l0.6 -13l0.4 -1l1 1.4l1 5.4l1 -13.7l1 4.9l1 1.2l1 5.7l1 -15.2l1 0.8l1 4.5l1 -7l1 0.6l1 0.1l0.2 -0.9l0.8 -1.8l1 2.3l1 -17.3l1 2.7l1.1 -7.1l1 -1.1l1 -11.8l1 -6.3l1 -4.2l1 -12.1l0 -2.1l1 -0.4l1 10.1l1 -6.1l1 -4.3l1 0.6l1 -14l1 6l1 -3l1 -10.2l1 16.8l0.6 -2.5l0.4 0.5l1 -7.3l1 5.9l1 4l1 -4.2l0.2 6.1l0.8 -0.9l1 9.4l1 -9.7l1 -1.4l1 4.3l1 8.2l1 -8l1 6.3l1 -4.2l1 -6.9l1 10.8l1 -0.1l1.1 -8.9l0.4 22.1l0.6 -6.2l1 3.6l1 -5l1 -4.7l1 -2.2l1 5.1l1 1.2l1 6.8l1 -6.9l1 -1l1 3.4l1 -4.5l1 -3.3l1 5.6l1 -7.9l0.6 13.8l0.4 -2.9l1 3l1 -3.3l1 11.2l1 -10.9l1 3.3l1 -11.3l1 1.7l1 10.4l1 -16.3l1 8.1l1 2.3l1 1.7l0.2 -4.4l0.8 8.2l1 -3.8l1 -3.4l1 3.3l1.1 5.7l1 -11.8l1 13.1l1 -5.9l1 7.2l1 -8.2l1 3.7l1 -6.1l1 -10.2l1 14.8" stroke="#141414" stroke-width="1.2" fill="none" stroke-linejoin="round"/><rect x="474.3" y="535.7" width="233.1" height="183.3" fill="none" stroke="#555" stroke-width="0.8"/><path d="M482 719v-2.2M482 535.7v2.2M515.1 719v-2.2M515.1 535.7v2.2M548.2 719v-2.2M548.2 535.7v2.2M581.3 719v-2.2M581.3 535.7v2.2M614.4 719v-2.2M614.4 535.7v2.2M647.5 719v-2.2M647.5 535.7v2.2M680.6 719v-2.2M680.6 535.7v2.2M474.3 714.8h2.2M707.4 714.8h-2.2M474.3 697.1h2.2M707.4 697.1h-2.2M474.3 679.5h2.2M707.4 679.5h-2.2M474.3 661.9h2.2M707.4 661.9h-2.2M474.3 644.2h2.2M707.4 644.2h-2.2M474.3 626.5h2.2M707.4 626.5h-2.2M474.3 608.9h2.2M707.4 608.9h-2.2M474.3 591.2h2.2M707.4 591.2h-2.2M474.3 573.6h2.2M707.4 573.6h-2.2M474.3 555.9h2.2M707.4 555.9h-2.2M474.3 538.3h2.2M707.4 538.3h-2.2" stroke="#555" stroke-width="0.7" fill="none"/><text x="482" y="727.6" font-size="7" text-anchor="middle" fill="#2a2a2a" font-weight="normal" font-style="normal" >0</text><text x="515.1" y="727.6" font-size="7" text-anchor="middle" fill="#2a2a2a" font-weight="normal" font-style="normal" >0.5</text><text x="548.2" y="727.6" font-size="7" text-anchor="middle" fill="#2a2a2a" font-weight="normal" font-style="normal" >1</text><text x="581.3" y="727.6" font-size="7" text-anchor="middle" fill="#2a2a2a" font-weight="normal" font-style="normal" >1.5</text><text x="614.4" y="727.6" font-size="7" text-anchor="middle" fill="#2a2a2a" font-weight="normal" font-style="normal" >2</text><text x="647.5" y="727.6" font-size="7" text-anchor="middle" fill="#2a2a2a" font-weight="normal" font-style="normal" >2.5</text><text x="680.6" y="727.6" font-size="7" text-anchor="middle" fill="#2a2a2a" font-weight="normal" font-style="normal" >3</text><text x="472.5" y="717.3" font-size="7" text-anchor="end" fill="#2a2a2a" font-weight="normal" font-style="normal" >-120</text><text x="472.5" y="699.6" font-size="7" text-anchor="end" fill="#2a2a2a" font-weight="normal" font-style="normal" >-100</text><text x="472.5" y="682" font-size="7" text-anchor="end" fill="#2a2a2a" font-weight="normal" font-style="normal" >-80</text><text x="472.5" y="664.4" font-size="7" text-anchor="end" fill="#2a2a2a" font-weight="normal" font-style="normal" >-60</text><text x="472.5" y="646.7" font-size="7" text-anchor="end" fill="#2a2a2a" font-weight="normal" font-style="normal" >-40</text><text x="472.5" y="629" font-size="7" text-anchor="end" fill="#2a2a2a" font-weight="normal" font-style="normal" >-20</text><text x="472.5" y="611.4" font-size="7" text-anchor="end" fill="#2a2a2a" font-weight="normal" font-style="normal" >0</text><text x="472.5" y="593.8" font-size="7" text-anchor="end" fill="#2a2a2a" font-weight="normal" font-style="normal" >20</text><text x="472.5" y="576.1" font-size="7" text-anchor="end" fill="#2a2a2a" font-weight="normal" font-style="normal" >40</text><text x="472.5" y="558.4" font-size="7" text-anchor="end" fill="#2a2a2a" font-weight="normal" font-style="normal" >60</text><text x="472.5" y="540.8" font-size="7" text-anchor="end" fill="#2a2a2a" font-weight="normal" font-style="normal" >80</text><text transform="translate(456 626.4) rotate(-90)" font-size="7" text-anchor="middle" fill="#2a2a2a">Amplitude (fT)</text><text x="590" y="758.5" font-size="7" text-anchor="middle" fill="#2a2a2a" font-weight="normal" font-style="normal" >Time (s)</text><rect x="667.9" y="658" width="33" height="56" fill="#fff" stroke="#333" stroke-width="0.7"/><rect x="671.6" y="662.6" width="9.8" height="5.6" fill="#f4a3ab"/><path d="M671.6 665.4h9.8" stroke="#e8464f" stroke-width="1.2"/><text x="684.4" y="667.9" font-size="7" text-anchor="start" fill="#2a2a2a" font-weight="normal" font-style="normal" >M</text><rect x="671.6" y="673" width="9.8" height="5.6" fill="#c2dde9"/><path d="M671.6 675.8h9.8" stroke="#4aa0c0" stroke-width="1.2"/><text x="684.4" y="678.3" font-size="7" text-anchor="start" fill="#2a2a2a" font-weight="normal" font-style="normal" >NT1</text><rect x="671.6" y="683.2" width="9.8" height="5.6" fill="#bcd5f0"/><path d="M671.6 686h9.8" stroke="#3a87d6" stroke-width="1.2"/><text x="684.4" y="688.5" font-size="7" text-anchor="start" fill="#2a2a2a" font-weight="normal" font-style="normal" >NT2</text><rect x="671.6" y="693.6" width="9.8" height="5.6" fill="#b9bcdf"/><path d="M671.6 696.4h9.8" stroke="#2f3a96" stroke-width="1.2"/><text x="684.4" y="698.9" font-size="7" text-anchor="start" fill="#2a2a2a" font-weight="normal" font-style="normal" >NT3</text><rect x="671.6" y="703.9" width="9.8" height="5.6" fill="#a8a8a8"/><path d="M671.6 706.7h9.8" stroke="#141414" stroke-width="1.2"/><text x="684.4" y="709.2" font-size="7" text-anchor="start" fill="#2a2a2a" font-weight="normal" font-style="normal" >NT4</text><path d="M594.2 691.9H607.3M617.6 691.9H626.4" stroke="#111" stroke-width="1.5" stroke-opacity="1.0" fill="none"/><path d="M568.6 697.6H583.6M595.5 697.6H611.9" stroke="#4d52a8" stroke-width="1.5" stroke-opacity="1.0" fill="none"/><path d="M544.3 703.3H557M571.2 703.3H580M582.2 703.3H586.2M588.9 703.3H591.5M597.2 703.3H608.7M622.9 703.3H625.5" stroke="#4a88d8" stroke-width="1.5" stroke-opacity="1.0" fill="none"/><path d="M520.3 708.6H538M546.1 708.6H560.6M570.3 708.6H586.2M596 708.6H612.3M704 708.6H708" stroke="#5aa5c8" stroke-width="1.5" stroke-opacity="1.0" fill="none"/><ellipse cx="480.7" cy="741.8" rx="2.4" ry="1.7" transform="rotate(-24 480.7 741.8)" fill="#111"/><path d="M482.6 741.5V733" stroke="#111" stroke-width="0.9" fill="none"/><path d="M482.1 733C482.9 735.1 486.1 736 485.6 739.5C485.3 737.4 483.8 736.8 482.1 736.5z" fill="#111"/><ellipse cx="504.7" cy="741.8" rx="2.4" ry="1.7" transform="rotate(-24 504.7 741.8)" fill="#111"/><path d="M506.6 741.5V733" stroke="#111" stroke-width="0.9" fill="none"/><path d="M506.1 733C506.9 735.1 510.1 736 509.6 739.5C509.3 737.4 507.8 736.8 506.1 736.5z" fill="#111"/><path d="M500.3 744.3V746.2H510.3V744.3" stroke="#5ab0d8" stroke-width="1.0" fill="none"/><ellipse cx="528.2" cy="741.8" rx="2.4" ry="1.7" transform="rotate(-24 528.2 741.8)" fill="#111"/><path d="M530.1 741.5V733" stroke="#111" stroke-width="0.9" fill="none"/><path d="M529.6 733C530.4 735.1 533.6 736 533.1 739.5C532.8 737.4 531.3 736.8 529.6 736.5z" fill="#111"/><path d="M523.8 744.3V746.2H533.8V744.3" stroke="#4a8ad6" stroke-width="1.0" fill="none"/><ellipse cx="552.2" cy="741.8" rx="2.4" ry="1.7" transform="rotate(-24 552.2 741.8)" fill="#111"/><path d="M554.1 741.5V733" stroke="#111" stroke-width="0.9" fill="none"/><path d="M553.6 733C554.4 735.1 557.6 736 557.1 739.5C556.8 737.4 555.3 736.8 553.6 736.5z" fill="#111"/><path d="M547.8 744.3V746.2H557.8V744.3" stroke="#3a3f9c" stroke-width="1.0" fill="none"/><ellipse cx="576.7" cy="741.8" rx="2.4" ry="1.7" transform="rotate(-24 576.7 741.8)" fill="#111"/><path d="M578.6 741.5V733" stroke="#111" stroke-width="0.9" fill="none"/><path d="M578.1 733C578.9 735.1 582.1 736 581.6 739.5C581.3 737.4 579.8 736.8 578.1 736.5z" fill="#111"/><path d="M572.3 744.3V746.2H582.3V744.3" stroke="#222" stroke-width="1.0" fill="none"/><path d="M132.9 796.4V980.2M139.6 796.4V980.2M146.2 796.4V980.2M152.9 796.4V980.2M159.5 796.4V980.2M166.2 796.4V980.2M172.8 796.4V980.2M179.5 796.4V980.2M186.1 796.4V980.2M192.8 796.4V980.2M199.4 796.4V980.2M206.1 796.4V980.2M212.7 796.4V980.2M219.4 796.4V980.2M226 796.4V980.2M232.7 796.4V980.2M239.3 796.4V980.2M245.9 796.4V980.2M252.6 796.4V980.2M259.2 796.4V980.2M265.9 796.4V980.2M272.6 796.4V980.2M279.2 796.4V980.2M285.9 796.4V980.2M292.5 796.4V980.2M299.1 796.4V980.2M305.8 796.4V980.2M312.5 796.4V980.2M319.1 796.4V980.2M325.8 796.4V980.2M332.4 796.4V980.2M339.1 796.4V980.2M345.7 796.4V980.2M352.4 796.4V980.2M126.1 974.4H359.3M126.1 969H359.3M126.1 963.6H359.3M126.1 958.2H359.3M126.1 952.8H359.3M126.1 947.4H359.3M126.1 942H359.3M126.1 936.7H359.3M126.1 931.3H359.3M126.1 925.9H359.3M126.1 920.5H359.3M126.1 915.1H359.3M126.1 909.7H359.3M126.1 904.3H359.3M126.1 898.9H359.3M126.1 893.5H359.3M126.1 888.1H359.3M126.1 882.8H359.3M126.1 877.4H359.3M126.1 872H359.3M126.1 866.6H359.3M126.1 861.2H359.3M126.1 855.8H359.3M126.1 850.4H359.3M126.1 845H359.3M126.1 839.6H359.3M126.1 834.2H359.3M126.1 828.9H359.3M126.1 823.5H359.3M126.1 818.1H359.3M126.1 812.7H359.3M126.1 807.3H359.3M126.1 801.9H359.3" stroke="#dedede" stroke-width="0.6" fill="none"/><path d="M126.2 914.1l1.1 -1.6l1 -1.4l1 2l0.3 -0.8l0.7 3.3l1 -0.7l0.9 2l0.1 0.7l1 -4.9l1 -7.7l1 -3.9l0.3 -0.4l0.7 11.8l1 18.7l1 16.4l1 18l0 1.8l1 -21.1l1 -15.5l1 -20.4l0.8 -14.8l0.2 -0.7l1 6.7l1 3.4l1 5l0.9 3.7l0.1 -0.1l1 -1.1l1 -1.6l1 0.6l1 -0.8l1 -0.7l0.2 -1.4l0.8 2.9l1 2.3l1 3l1 3.3l1.1 1.2l1 3.1l1 4l1 0.9l1 3.1l0.8 0.5l0.2 -0.9l1 -3.4l1 -3.2l1 -5.2l0.1 -1.6l0.9 0.6l1 3.4l0.7 3.3l0.3 -3.7l1 -0.2l1 -0.4l1 -4.4l1 2.2l1 -5.6l1 0.8l1 -2.8l1 -1.7l1 0.7l1 -2l0.4 1.7l0.6 -1.1l1 -1.4l1 3.2l1 -2.8l1 3.6l1 3.5l1 -0.6l0 1.3l1 -3.4l1 -3l1.1 -2.6l0.3 -1.2l0.7 2.8l1 1.9l1 5.3l1 5.6l1 -2l1 3.1l1 3.3l0.3 4.5l0.7 -1.1l1 -7.1l1 0.3l1 -3.5l1 -1.8l1 2.3l1 -8l1 -0.4l1 -3.1l0.9 0.6l0.1 -1.1l1 -0.8l1 1.8l1 1.1l1 0.5l1 0.1l1 0.9l1 0l0.2 0l0.8 1.1l1 1.3l1 3.3l1 -0.6l1 0l1 2.4l1.1 -2.1l0.1 1.3l0.9 -1.3l1 0l1 -3.9l1 2.6l1 -3.1l1 -3.7l1 -1.9l1 -1.4l1 -1.1l0.7 -2.7l0.3 -0.2l1 2.3l1 0.5l1 3.5l1 0.1l1 0.5l0.7 3.6l0.3 -0.3l1 -1.8l1 -0.7l1 -5.7l0.7 1.2l0.3 3.5l1 -0.3l1 2.9l1 6.3l0.5 -0.5l0.5 0.6l1 -1.4l1 0l1 -6.8l0.7 0.4l0.3 0.3l1 -2.6l1 -2.4l1.1 0.1l1 -4.7l0.9 -1.3l0.1 3.8l1 9.5l1 5.9l0.6 4.2l0.4 -3.1l1 -3.1l1 -0.8l1 -4.8l0.5 1.3l0.5 -5.3l1 4l1 0.9l1 4.6l1 1.5l1 2.4l1 -0.4l1 4.9l1 -0.5l0.2 -1.1l0.8 -0.5l1 1.8l1 -5.9l1 1.4l1 0.3l1 -0.2l1 -4.8l1 4.6l1 -5.8l1 -0.1l0.8 -1.7l0.2 0.8l1 2.5l1 -2.7l1.1 2.3l1 2.8l1 -2.3l1 -1.9l1 4l0 1.4l1 1.8l1 -3.7l1 1.5l1 5.4l1 -2.9l1 -7.6l0.7 -1.3l0.3 5.4l1 3l1 -6l1 7l1 -1.7l1 -4.5l0 5.5l1 2.7l1 -3.2l1 -6.2l1 4.7l1 2.9l1 -0.2l1 1.6l1 -1.9l1 5.5l1 -8.3l1 0.3l1 4.2l1 -10.6l1 2.5l0.7 8.7l0.4 -6.1l1 5.4l1 -1.5l1 -1.1l1 -6l1 0.5l1 7.7l1 -0.6l1 -0.1l1 -4.7l1 1.2l1 -0.5l1 0.9l1 1.7l1 -3.3l1 -1.9l1 1.1l1 0l1 0.3l1 4l0.5 2.4l0.5 -3.1l1 -1.7l1 0.8l1 -1.4l1 -1l1 3.4l1 4.3l1 -8.9l1 0.4l1 -4.6l1 5.8l1.1 5l1 -6l1 1.2l1 4.2l1 0.4l1 0.5l1 -5.9l1 3.1l1 0.7l1 4.2l1 -3.4l1 -2.5l1 3.9l1 -14l1 11.6l1 -2.2" stroke="#f4a3ab" stroke-width="5.0" stroke-opacity="0.55" fill="none" stroke-linejoin="round"/><path d="M126.2 914.1l1.1 -1.6l1 -1.4l1 2l0.3 -0.8l0.7 3.3l1 -0.7l0.9 2l0.1 0.7l1 -4.9l1 -7.7l1 -3.9l0.3 -0.4l0.7 11.8l1 18.7l1 16.4l1 18l0 1.8l1 -21.1l1 -15.5l1 -20.4l0.8 -14.8l0.2 -0.7l1 6.7l1 3.4l1 5l0.9 3.7l0.1 -0.1l1 -1.1l1 -1.6l1 0.6l1 -0.8l1 -0.7l0.2 -1.4l0.8 2.9l1 2.3l1 3l1 3.3l1.1 1.2l1 3.1l1 4l1 0.9l1 3.1l0.8 0.5l0.2 -0.9l1 -3.4l1 -3.2l1 -5.2l0.1 -1.6l0.9 0.6l1 3.4l0.7 3.3l0.3 -3.7l1 -0.2l1 -0.4l1 -4.4l1 2.2l1 -5.6l1 0.8l1 -2.8l1 -1.7l1 0.7l1 -2l0.4 1.7l0.6 -1.1l1 -1.4l1 3.2l1 -2.8l1 3.6l1 3.5l1 -0.6l0 1.3l1 -3.4l1 -3l1.1 -2.6l0.3 -1.2l0.7 2.8l1 1.9l1 5.3l1 5.6l1 -2l1 3.1l1 3.3l0.3 4.5l0.7 -1.1l1 -7.1l1 0.3l1 -3.5l1 -1.8l1 2.3l1 -8l1 -0.4l1 -3.1l0.9 0.6l0.1 -1.1l1 -0.8l1 1.8l1 1.1l1 0.5l1 0.1l1 0.9l1 0l0.2 0l0.8 1.1l1 1.3l1 3.3l1 -0.6l1 0l1 2.4l1.1 -2.1l0.1 1.3l0.9 -1.3l1 0l1 -3.9l1 2.6l1 -3.1l1 -3.7l1 -1.9l1 -1.4l1 -1.1l0.7 -2.7l0.3 -0.2l1 2.3l1 0.5l1 3.5l1 0.1l1 0.5l0.7 3.6l0.3 -0.3l1 -1.8l1 -0.7l1 -5.7l0.7 1.2l0.3 3.5l1 -0.3l1 2.9l1 6.3l0.5 -0.5l0.5 0.6l1 -1.4l1 0l1 -6.8l0.7 0.4l0.3 0.3l1 -2.6l1 -2.4l1.1 0.1l1 -4.7l0.9 -1.3l0.1 3.8l1 9.5l1 5.9l0.6 4.2l0.4 -3.1l1 -3.1l1 -0.8l1 -4.8l0.5 1.3l0.5 -5.3l1 4l1 0.9l1 4.6l1 1.5l1 2.4l1 -0.4l1 4.9l1 -0.5l0.2 -1.1l0.8 -0.5l1 1.8l1 -5.9l1 1.4l1 0.3l1 -0.2l1 -4.8l1 4.6l1 -5.8l1 -0.1l0.8 -1.7l0.2 0.8l1 2.5l1 -2.7l1.1 2.3l1 2.8l1 -2.3l1 -1.9l1 4l0 1.4l1 1.8l1 -3.7l1 1.5l1 5.4l1 -2.9l1 -7.6l0.7 -1.3l0.3 5.4l1 3l1 -6l1 7l1 -1.7l1 -4.5l0 5.5l1 2.7l1 -3.2l1 -6.2l1 4.7l1 2.9l1 -0.2l1 1.6l1 -1.9l1 5.5l1 -8.3l1 0.3l1 4.2l1 -10.6l1 2.5l0.7 8.7l0.4 -6.1l1 5.4l1 -1.5l1 -1.1l1 -6l1 0.5l1 7.7l1 -0.6l1 -0.1l1 -4.7l1 1.2l1 -0.5l1 0.9l1 1.7l1 -3.3l1 -1.9l1 1.1l1 0l1 0.3l1 4l0.5 2.4l0.5 -3.1l1 -1.7l1 0.8l1 -1.4l1 -1l1 3.4l1 4.3l1 -8.9l1 0.4l1 -4.6l1 5.8l1.1 5l1 -6l1 1.2l1 4.2l1 0.4l1 0.5l1 -5.9l1 3.1l1 0.7l1 4.2l1 -3.4l1 -2.5l1 3.9l1 -14l1 11.6l1 -2.2" stroke="#e8464f" stroke-width="1.2" fill="none" stroke-linejoin="round"/><path d="M126.2 912.7l1.1 1.4l1 0.9l1 -3.9l0.3 3.5l0.7 -1.9l1 4l0.9 0.5l0.1 2.5l1 -6l1 -5.3l1 -6.9l0.3 -2.1l0.7 12.7l1 18.8l1 16.4l1 16.3l0 1.6l1 -17.7l1 -20.2l1 -18.6l0.8 -12.9l0.2 0.9l1 2.8l1 5.6l1 6.8l0.9 1.8l0.1 -0.5l1 -2.8l1 -0.8l1 1l1 -7.4l1 3.3l0.2 -2.3l0.8 5l1 3.3l1 -0.3l1 3.2l1.1 5l1 4.4l1 3.4l1 0.3l1 2.8l0.8 3l0.2 -2.3l1 -3.9l1 -3.2l1 -5l0.1 -0.3l0.9 7.3l1 7l0.7 3.4l0.3 1.5l1 -4.6l1 4.8l1 -2.9l1 -3.6l0.4 4.1l0.6 -2l1 -6.6l1 2.9l1 -3.5l1 -2.9l1 -4l0.4 -2.6l0.6 5.5l1 -1.3l1 0.8l1 3.2l1 -0.6l0.7 0.1l0.3 -2.9l1 0.5l1 -6.3l1 3.2l1.1 -3.1l0.3 -0.2l0.7 1.7l1 3.6l1 2l1 5.1l1 4.4l1 1.6l1 4l0.3 3.3l0.7 -6.9l1 1.7l1 -3.1l1 -2.3l1 0.1l1 -3.5l1 -1.3l1 -6.4l1 0.7l0.9 -4.6l0.1 3.9l1 -1.2l1 2l1 -0.7l1 0l1 2.3l1 -3.4l1 -1.1l0.2 2.9l0.8 2.6l1 2.9l1 1.3l1 -0.1l1 5.1l1 2.2l1.1 -0.7l0.1 2.5l0.9 -2.4l1 -3.5l1 -3l1 2.5l1 -4.6l1 -5l1 -2.4l1 -0.5l1 -2l0.7 -0.8l0.3 -1.3l1 1.6l1 -1.2l1 0l1 3.7l1 -0.8l0.7 0.3l0.3 -1l1 1.2l1 0.6l1 -1.6l0.7 1.1l0.3 0.4l1 0.7l1 9.3l1 -3.5l1 -1.3l1 8.1l0 -1.4l1 3.4l1 6.5l0.7 4.4l0.3 1.3l1 -5.1l1 -10l1.1 -8.5l1 0.8l1 -8.5l0.6 -2.5l0.4 0.5l1 4.7l0.6 1.4l0.4 1.6l1 2l1 -0.7l1 1.8l1 0.6l1 -2.8l1 2.4l0.9 1.4l0.1 -0.9l1 -2.9l1 0.8l1 -3.2l0.2 -4.3l0.8 -0.4l1 1.4l1 -3.7l1 -4l1 7.3l1 -7.3l1 -2.4l1 2.7l1 2l1 -2.3l1 -6.2l1 -3l0.8 5.2l0.2 0.4l1 0.4l1 -0.5l1.1 -0.2l0.1 -4.7l0.9 8.9l1 1.7l1 0.6l1 0.6l0 5.6l1 2.3l1 -3.1l1 0.5l1 -0.5l1 0.2l1 -2.4l1 -0.2l1 3.8l1 -1.6l1 0.1l0 -3.2l1 -2.1l1 0.3l1 -2l1 5.3l1 -1.7l1 4.6l1 -8.1l1 11.9l1 -6.9l1 3.6l1 -1.4l1 0.1l1 4.6l1 -7.6l1 4.3l1 -0.5l0.7 1.9l0.4 -4l1 6.5l1 -1.2l1 -0.5l1 -3.7l1 1.2l1 2.9l1 -5.8l1 1.1l1 4.8l1 -9.3l1 5.6l1 -2.8l1 3.7l1 -0.4l1 0.5l1 2.8l1 -3.8l1 2.6l1 -1.2l0.5 -0.2l0.5 0.9l1 -1.8l1 1.6l1 -5.2l1 5.7l1 -1.2l1 -2.2l1 5.9l1 -2.9l1 -2.8l1 2.6l1.1 -1.5l1 2.7l1 1.5l1 -5.7l1 4l1 -0.7l1 -2.1l1 2.6l1 1l1 -3.7l1 1l1 -6.8l1 7.5l1 -3.3l1 3.4l1 -1.6" stroke="#c2dde9" stroke-width="5.0" stroke-opacity="0.55" fill="none" stroke-linejoin="round"/><path d="M126.2 912.7l1.1 1.4l1 0.9l1 -3.9l0.3 3.5l0.7 -1.9l1 4l0.9 0.5l0.1 2.5l1 -6l1 -5.3l1 -6.9l0.3 -2.1l0.7 12.7l1 18.8l1 16.4l1 16.3l0 1.6l1 -17.7l1 -20.2l1 -18.6l0.8 -12.9l0.2 0.9l1 2.8l1 5.6l1 6.8l0.9 1.8l0.1 -0.5l1 -2.8l1 -0.8l1 1l1 -7.4l1 3.3l0.2 -2.3l0.8 5l1 3.3l1 -0.3l1 3.2l1.1 5l1 4.4l1 3.4l1 0.3l1 2.8l0.8 3l0.2 -2.3l1 -3.9l1 -3.2l1 -5l0.1 -0.3l0.9 7.3l1 7l0.7 3.4l0.3 1.5l1 -4.6l1 4.8l1 -2.9l1 -3.6l0.4 4.1l0.6 -2l1 -6.6l1 2.9l1 -3.5l1 -2.9l1 -4l0.4 -2.6l0.6 5.5l1 -1.3l1 0.8l1 3.2l1 -0.6l0.7 0.1l0.3 -2.9l1 0.5l1 -6.3l1 3.2l1.1 -3.1l0.3 -0.2l0.7 1.7l1 3.6l1 2l1 5.1l1 4.4l1 1.6l1 4l0.3 3.3l0.7 -6.9l1 1.7l1 -3.1l1 -2.3l1 0.1l1 -3.5l1 -1.3l1 -6.4l1 0.7l0.9 -4.6l0.1 3.9l1 -1.2l1 2l1 -0.7l1 0l1 2.3l1 -3.4l1 -1.1l0.2 2.9l0.8 2.6l1 2.9l1 1.3l1 -0.1l1 5.1l1 2.2l1.1 -0.7l0.1 2.5l0.9 -2.4l1 -3.5l1 -3l1 2.5l1 -4.6l1 -5l1 -2.4l1 -0.5l1 -2l0.7 -0.8l0.3 -1.3l1 1.6l1 -1.2l1 0l1 3.7l1 -0.8l0.7 0.3l0.3 -1l1 1.2l1 0.6l1 -1.6l0.7 1.1l0.3 0.4l1 0.7l1 9.3l1 -3.5l1 -1.3l1 8.1l0 -1.4l1 3.4l1 6.5l0.7 4.4l0.3 1.3l1 -5.1l1 -10l1.1 -8.5l1 0.8l1 -8.5l0.6 -2.5l0.4 0.5l1 4.7l0.6 1.4l0.4 1.6l1 2l1 -0.7l1 1.8l1 0.6l1 -2.8l1 2.4l0.9 1.4l0.1 -0.9l1 -2.9l1 0.8l1 -3.2l0.2 -4.3l0.8 -0.4l1 1.4l1 -3.7l1 -4l1 7.3l1 -7.3l1 -2.4l1 2.7l1 2l1 -2.3l1 -6.2l1 -3l0.8 5.2l0.2 0.4l1 0.4l1 -0.5l1.1 -0.2l0.1 -4.7l0.9 8.9l1 1.7l1 0.6l1 0.6l0 5.6l1 2.3l1 -3.1l1 0.5l1 -0.5l1 0.2l1 -2.4l1 -0.2l1 3.8l1 -1.6l1 0.1l0 -3.2l1 -2.1l1 0.3l1 -2l1 5.3l1 -1.7l1 4.6l1 -8.1l1 11.9l1 -6.9l1 3.6l1 -1.4l1 0.1l1 4.6l1 -7.6l1 4.3l1 -0.5l0.7 1.9l0.4 -4l1 6.5l1 -1.2l1 -0.5l1 -3.7l1 1.2l1 2.9l1 -5.8l1 1.1l1 4.8l1 -9.3l1 5.6l1 -2.8l1 3.7l1 -0.4l1 0.5l1 2.8l1 -3.8l1 2.6l1 -1.2l0.5 -0.2l0.5 0.9l1 -1.8l1 1.6l1 -5.2l1 5.7l1 -1.2l1 -2.2l1 5.9l1 -2.9l1 -2.8l1 2.6l1.1 -1.5l1 2.7l1 1.5l1 -5.7l1 4l1 -0.7l1 -2.1l1 2.6l1 1l1 -3.7l1 1l1 -6.8l1 7.5l1 -3.3l1 3.4l1 -1.6" stroke="#4aa0c0" stroke-width="1.2" fill="none" stroke-linejoin="round"/><path d="M126.2 912.1l1.1 -0.4l1 1l1 -1.2l0.3 -0.9l0.7 1.9l1 4.8l0.9 1.1l0.1 -0.2l1 -5.1l1 -7.9l1 -1l0.3 -7l0.7 14.7l1 18.6l1 17.6l1 18.1l0 0.7l1 -22.3l1 -15.7l1 -16.9l0.8 -14.9l0.2 -1.4l1 6.4l1 -0.1l1 7.1l0.9 5.1l0.1 -1.7l1 1.3l1 -2.6l1 -4.1l1 -1l1 -4.3l0.2 3.5l0.8 1l1 3.1l1 -0.2l1 4.6l1.1 3.4l1 5.1l1 3.8l1 0.7l1 4.3l0.8 1.1l0.2 0.9l1 -5l1 -2.5l1 -4.8l0.1 -2.3l0.9 5.5l1 5.5l0.7 1.2l0.3 1l1 -1.5l1 -2.2l1 5l1 -3.9l0.4 2.3l0.6 -3l1 -0.2l1 -3.2l1 -1.1l1 -1.6l1 -4.9l0.4 0.3l0.6 0.9l1 -0.6l1 0.1l1 -1.1l1 3.2l0.7 2.4l0.3 -0.9l1 -4.8l1 1.5l1 -3.2l1.1 0.1l0.3 -1.1l0.7 4.9l1 0.1l1 6.7l1 3.9l1 4l1 4.9l1 1.6l0.3 0.4l0.7 -2.2l1 -0.6l1 -1.2l1 -2.4l1 -0.6l1 -2.6l1 -2.5l1 -3.2l1 -3.9l0.9 -1.9l0.1 -0.1l1 1.3l1 0.2l1 2.1l1 2.1l1 -4.9l1 2.9l1 -2.1l0.2 -0.7l0.8 2.1l1 1.4l1 1.2l1 -1.2l1 4.9l1 2l1.1 3.4l0.1 -1.4l0.9 0l1 -5.2l1 -0.8l1 -3.7l1 -1.6l1 1.9l1 -5.6l1 -2.6l1 -0.9l0.7 -4.6l0.3 3.6l1 1.6l1 3.4l1 -1.6l1 0.3l1 -0.7l0.7 5.1l0.3 -3.3l1 0l1 -1.1l1 -1.2l0.7 -0.2l0.3 2.1l1 2.8l1 0.5l1 1.2l1 5.1l1 -0.3l0 -2l1 13l1 2l0.7 6.1l0.3 -1l1 -6.5l1 -5.4l1.1 -4.6l1 -7.2l1 -5.8l0.6 -2.2l0.4 1.6l1 5.2l0.6 1.4l0.4 -1.8l1 1.3l1 3.6l1 -1.2l1 -3.6l1 3.8l1 1l0.9 3.2l0.1 -5.2l1 -0.6l1 -5.3l1 -4.1l0.2 7l0.8 -4.8l1 0.3l1 -7.4l1 1.6l1 0.2l1 0.8l1 -2.6l1 1.7l1 -3.1l1 3.8l1 -6.2l1 -1l0.8 0.6l0.2 -1.8l1 2.6l1 4.4l1.1 0.5l0.1 -0.1l0.9 3.1l1 -1.9l1 2.8l1 -3.9l0 6.6l1 2.6l1 -3.8l1 -1.5l1 5.1l1 -6.6l1 4.1l1 3.1l1 -6.6l1 8.3l1 -3.7l0 -5.4l1 -1.1l1 2.1l1 2.9l1 2l1 3.4l1 -4.4l1 -4.2l1 1.8l1 1.6l1 1.2l1 0.2l1 1.8l1 0l1 2.5l1 -1.5l1 2.7l0.7 -3.3l0.4 -5l1 3l1 0l1 5.3l1 -3.2l1 0l1 1.9l1 -7.3l1 4.7l1 -4.9l1 2.2l1 2.4l1 -2.7l1 -0.3l1 1.4l1 -2.6l1 1l1 3.8l1 4.2l1 -5.4l0.5 2.3l0.5 -0.1l1 -5.5l1 -1.2l1 8.5l1 -4.5l1 -3.2l1 4.2l1 -1l1 4.2l1 -7.4l1 3.2l1.1 4.7l1 -6.3l1 2.3l1 1.4l1 -6.9l1 0.6l1 0.7l1 1.4l1 2.3l1 6.8l1 -10.3l1 2.1l1 2.9l1 -5.3l1 8.3l1 -9.1" stroke="#bcd5f0" stroke-width="5.0" stroke-opacity="0.55" fill="none" stroke-linejoin="round"/><path d="M126.2 912.1l1.1 -0.4l1 1l1 -1.2l0.3 -0.9l0.7 1.9l1 4.8l0.9 1.1l0.1 -0.2l1 -5.1l1 -7.9l1 -1l0.3 -7l0.7 14.7l1 18.6l1 17.6l1 18.1l0 0.7l1 -22.3l1 -15.7l1 -16.9l0.8 -14.9l0.2 -1.4l1 6.4l1 -0.1l1 7.1l0.9 5.1l0.1 -1.7l1 1.3l1 -2.6l1 -4.1l1 -1l1 -4.3l0.2 3.5l0.8 1l1 3.1l1 -0.2l1 4.6l1.1 3.4l1 5.1l1 3.8l1 0.7l1 4.3l0.8 1.1l0.2 0.9l1 -5l1 -2.5l1 -4.8l0.1 -2.3l0.9 5.5l1 5.5l0.7 1.2l0.3 1l1 -1.5l1 -2.2l1 5l1 -3.9l0.4 2.3l0.6 -3l1 -0.2l1 -3.2l1 -1.1l1 -1.6l1 -4.9l0.4 0.3l0.6 0.9l1 -0.6l1 0.1l1 -1.1l1 3.2l0.7 2.4l0.3 -0.9l1 -4.8l1 1.5l1 -3.2l1.1 0.1l0.3 -1.1l0.7 4.9l1 0.1l1 6.7l1 3.9l1 4l1 4.9l1 1.6l0.3 0.4l0.7 -2.2l1 -0.6l1 -1.2l1 -2.4l1 -0.6l1 -2.6l1 -2.5l1 -3.2l1 -3.9l0.9 -1.9l0.1 -0.1l1 1.3l1 0.2l1 2.1l1 2.1l1 -4.9l1 2.9l1 -2.1l0.2 -0.7l0.8 2.1l1 1.4l1 1.2l1 -1.2l1 4.9l1 2l1.1 3.4l0.1 -1.4l0.9 0l1 -5.2l1 -0.8l1 -3.7l1 -1.6l1 1.9l1 -5.6l1 -2.6l1 -0.9l0.7 -4.6l0.3 3.6l1 1.6l1 3.4l1 -1.6l1 0.3l1 -0.7l0.7 5.1l0.3 -3.3l1 0l1 -1.1l1 -1.2l0.7 -0.2l0.3 2.1l1 2.8l1 0.5l1 1.2l1 5.1l1 -0.3l0 -2l1 13l1 2l0.7 6.1l0.3 -1l1 -6.5l1 -5.4l1.1 -4.6l1 -7.2l1 -5.8l0.6 -2.2l0.4 1.6l1 5.2l0.6 1.4l0.4 -1.8l1 1.3l1 3.6l1 -1.2l1 -3.6l1 3.8l1 1l0.9 3.2l0.1 -5.2l1 -0.6l1 -5.3l1 -4.1l0.2 7l0.8 -4.8l1 0.3l1 -7.4l1 1.6l1 0.2l1 0.8l1 -2.6l1 1.7l1 -3.1l1 3.8l1 -6.2l1 -1l0.8 0.6l0.2 -1.8l1 2.6l1 4.4l1.1 0.5l0.1 -0.1l0.9 3.1l1 -1.9l1 2.8l1 -3.9l0 6.6l1 2.6l1 -3.8l1 -1.5l1 5.1l1 -6.6l1 4.1l1 3.1l1 -6.6l1 8.3l1 -3.7l0 -5.4l1 -1.1l1 2.1l1 2.9l1 2l1 3.4l1 -4.4l1 -4.2l1 1.8l1 1.6l1 1.2l1 0.2l1 1.8l1 0l1 2.5l1 -1.5l1 2.7l0.7 -3.3l0.4 -5l1 3l1 0l1 5.3l1 -3.2l1 0l1 1.9l1 -7.3l1 4.7l1 -4.9l1 2.2l1 2.4l1 -2.7l1 -0.3l1 1.4l1 -2.6l1 1l1 3.8l1 4.2l1 -5.4l0.5 2.3l0.5 -0.1l1 -5.5l1 -1.2l1 8.5l1 -4.5l1 -3.2l1 4.2l1 -1l1 4.2l1 -7.4l1 3.2l1.1 4.7l1 -6.3l1 2.3l1 1.4l1 -6.9l1 0.6l1 0.7l1 1.4l1 2.3l1 6.8l1 -10.3l1 2.1l1 2.9l1 -5.3l1 8.3l1 -9.1" stroke="#3a87d6" stroke-width="1.2" fill="none" stroke-linejoin="round"/><path d="M126.2 912.5l1.1 0.9l1 -1.8l1 -0.9l0.3 0.6l0.7 2.2l1 2.1l0.9 1.1l0.1 3.5l1 -9.7l1 -2.7l1 -5.9l0.3 -1.3l0.7 13l1 17.1l1 16.8l1 17.6l0 -0.1l1 -17.7l1 -19.7l1 -15.9l0.8 -16.1l0.2 1.2l1 3.8l1 3.8l1 8.9l0.9 1.1l0.1 0l1 -0.2l1 0.3l1 -4.9l1 -1.3l1 -0.5l0.2 0.4l0.8 2.9l1 1.9l1 2.7l1 6.9l1.1 -2.6l1 2.1l1 4.5l1 2.4l1 -0.8l0.8 6.9l0.2 -1.3l1 -5.3l1 -4.4l1 -4.9l0.1 -0.2l0.9 2l1 5.4l0.7 3.5l0.3 -3.2l1 -0.8l1 -0.4l1 -4.3l1 -1.5l1 -1.9l1 -0.2l1 -2.4l1 -2.5l1 -4.3l1 2.9l0.4 -4.9l0.6 0.8l1 -0.3l1 4l1 1.9l1 1.7l1 0l1 -0.7l0 3.1l1 -5.6l1 -2l1.1 -4.3l0.3 0.4l0.7 2.5l1 4.8l1 3.6l1 2.8l1 4.8l1 0.7l1 5.8l0.3 1l0.7 -1.7l1 -4.8l1 -1.3l1 -3.4l1 0.6l1 -2.3l1 -3.4l1 -1l1 -4.4l0.9 -0.1l0.1 1.7l1 0.6l1 2.2l1 -0.5l1 -1l1 2.2l1 1.1l1 0l0.2 -1l0.8 4.5l1 3.9l1 2.9l1 6.1l1 5.4l1 1l1.1 5l0.1 -0.9l0.9 0.1l1 -3.8l1 -3.4l1 -3.5l1 -3.4l1 -2.4l1 -7l1 -1.1l1 -1.2l0.7 -1.1l0.3 -1.7l1 1l1 2.8l1 -3.7l1 1.2l1 2.3l0.7 1.3l0.3 -3.3l1 4.7l1 -0.8l1 -1.5l0.7 -0.5l0.3 0.4l1 2.5l1 1.5l1 2.2l1 3.9l1 -0.9l0 -0.6l1 8.1l1 6.4l0.7 4.2l0.3 -2.7l1 -3.6l1 -5.6l1.1 -4l1 -6.4l1 -10.5l0.6 -0.7l0.4 3.1l1 2.2l0.6 5.4l0.4 -0.5l1 -3.9l1 6.2l1 -0.6l1 0.6l1 0.8l1 2.3l0.9 -3.4l0.1 3.5l1 -5.5l1 -3.6l1 -1.2l0.2 -2.2l0.8 3.9l1 -5.6l1 3.1l1 -3.9l1 -0.6l1 -5.9l1 3l1 -3.2l1 -1.4l1 1.2l1 0.4l1 -2.1l0.8 2.1l0.2 -6.5l1 9.2l1 -5.1l1.1 9.5l0.1 -4.2l0.9 2.5l1 0.6l1 1.4l1 7.7l0 -10.5l1 0.8l1 9l1 -4.8l1 -0.7l1 -2.1l1 4.5l1 2.7l1 -6.8l1 1.8l1 -2.8l0 2.5l1 0.4l1 -0.4l1 5.3l1 -7.9l1 2.5l1 0.1l1 -0.8l1 5.1l1 -0.8l1 -5.6l1 2.2l1 4.5l1 -3.9l1 6.8l1 -0.5l1 -12.8l0.7 10.8l0.4 -2l1 3.7l1 1.8l1 -4.5l1 1.2l1 -7l1 7l1 -6.6l1 10.4l1 -2.6l1 1.8l1 1.2l1 -8.1l1 7.4l1 -9l1 2.3l1 1.6l1 -11.6l1 6.3l1 0.8l0.5 1.6l0.5 5.7l1 -0.1l1 -6.7l1 -0.3l1 -6.7l1 13.7l1 -5.9l1 5.5l1 1l1 -6.9l1 3.6l1.1 -0.5l1 3.6l1 -1.7l1 -11l1 -1.7l1 6.5l1 7.7l1 -1.5l1 3.9l1 -8l1 3.1l1 0.7l1 -4.7l1 5.1l1 -1.6l1 3.2" stroke="#b9bcdf" stroke-width="5.0" stroke-opacity="0.55" fill="none" stroke-linejoin="round"/><path d="M126.2 912.5l1.1 0.9l1 -1.8l1 -0.9l0.3 0.6l0.7 2.2l1 2.1l0.9 1.1l0.1 3.5l1 -9.7l1 -2.7l1 -5.9l0.3 -1.3l0.7 13l1 17.1l1 16.8l1 17.6l0 -0.1l1 -17.7l1 -19.7l1 -15.9l0.8 -16.1l0.2 1.2l1 3.8l1 3.8l1 8.9l0.9 1.1l0.1 0l1 -0.2l1 0.3l1 -4.9l1 -1.3l1 -0.5l0.2 0.4l0.8 2.9l1 1.9l1 2.7l1 6.9l1.1 -2.6l1 2.1l1 4.5l1 2.4l1 -0.8l0.8 6.9l0.2 -1.3l1 -5.3l1 -4.4l1 -4.9l0.1 -0.2l0.9 2l1 5.4l0.7 3.5l0.3 -3.2l1 -0.8l1 -0.4l1 -4.3l1 -1.5l1 -1.9l1 -0.2l1 -2.4l1 -2.5l1 -4.3l1 2.9l0.4 -4.9l0.6 0.8l1 -0.3l1 4l1 1.9l1 1.7l1 0l1 -0.7l0 3.1l1 -5.6l1 -2l1.1 -4.3l0.3 0.4l0.7 2.5l1 4.8l1 3.6l1 2.8l1 4.8l1 0.7l1 5.8l0.3 1l0.7 -1.7l1 -4.8l1 -1.3l1 -3.4l1 0.6l1 -2.3l1 -3.4l1 -1l1 -4.4l0.9 -0.1l0.1 1.7l1 0.6l1 2.2l1 -0.5l1 -1l1 2.2l1 1.1l1 0l0.2 -1l0.8 4.5l1 3.9l1 2.9l1 6.1l1 5.4l1 1l1.1 5l0.1 -0.9l0.9 0.1l1 -3.8l1 -3.4l1 -3.5l1 -3.4l1 -2.4l1 -7l1 -1.1l1 -1.2l0.7 -1.1l0.3 -1.7l1 1l1 2.8l1 -3.7l1 1.2l1 2.3l0.7 1.3l0.3 -3.3l1 4.7l1 -0.8l1 -1.5l0.7 -0.5l0.3 0.4l1 2.5l1 1.5l1 2.2l1 3.9l1 -0.9l0 -0.6l1 8.1l1 6.4l0.7 4.2l0.3 -2.7l1 -3.6l1 -5.6l1.1 -4l1 -6.4l1 -10.5l0.6 -0.7l0.4 3.1l1 2.2l0.6 5.4l0.4 -0.5l1 -3.9l1 6.2l1 -0.6l1 0.6l1 0.8l1 2.3l0.9 -3.4l0.1 3.5l1 -5.5l1 -3.6l1 -1.2l0.2 -2.2l0.8 3.9l1 -5.6l1 3.1l1 -3.9l1 -0.6l1 -5.9l1 3l1 -3.2l1 -1.4l1 1.2l1 0.4l1 -2.1l0.8 2.1l0.2 -6.5l1 9.2l1 -5.1l1.1 9.5l0.1 -4.2l0.9 2.5l1 0.6l1 1.4l1 7.7l0 -10.5l1 0.8l1 9l1 -4.8l1 -0.7l1 -2.1l1 4.5l1 2.7l1 -6.8l1 1.8l1 -2.8l0 2.5l1 0.4l1 -0.4l1 5.3l1 -7.9l1 2.5l1 0.1l1 -0.8l1 5.1l1 -0.8l1 -5.6l1 2.2l1 4.5l1 -3.9l1 6.8l1 -0.5l1 -12.8l0.7 10.8l0.4 -2l1 3.7l1 1.8l1 -4.5l1 1.2l1 -7l1 7l1 -6.6l1 10.4l1 -2.6l1 1.8l1 1.2l1 -8.1l1 7.4l1 -9l1 2.3l1 1.6l1 -11.6l1 6.3l1 0.8l0.5 1.6l0.5 5.7l1 -0.1l1 -6.7l1 -0.3l1 -6.7l1 13.7l1 -5.9l1 5.5l1 1l1 -6.9l1 3.6l1.1 -0.5l1 3.6l1 -1.7l1 -11l1 -1.7l1 6.5l1 7.7l1 -1.5l1 3.9l1 -8l1 3.1l1 0.7l1 -4.7l1 5.1l1 -1.6l1 3.2" stroke="#2f3a96" stroke-width="1.2" fill="none" stroke-linejoin="round"/><path d="M126.2 912.8l1.1 -3.2l1 3.9l1 -1.6l0.3 1.9l0.7 1.4l1 2.1l0.9 1.4l0.1 -2.1l1 -4l1 -7.1l1 -4.1l0.3 -2.8l0.7 11.2l1 18.4l1 17.8l1 20.2l0 -0.2l1 -21.3l1 -17.6l1 -16.8l0.8 -15.4l0.2 4.6l1 1.4l1 4.7l1 3.4l0.9 7.6l0.1 -2.8l1 1.2l1 -2.9l1 -1l1 -1.5l1 -2l0.2 1l0.8 2.8l1 0.5l1 8.1l1 -0.6l1.1 3.6l1 1.6l1 2.2l1 4.7l1 -0.3l0.8 3.5l0.2 -2.4l1 -3.6l1 -4.9l1 -4.4l0.1 1.1l0.9 0.7l1 5.8l0.7 3.1l0.3 -5.4l1 1l1 -1.8l1 -1.2l1 -2l1 -3.2l1 -3.7l1 0.4l1 -2.3l1 -0.7l1 -2.7l0.4 -0.6l0.6 -0.1l1 1.6l1 1.4l1 1.4l1 0.5l1 2l1 -1l0 0.9l1 0l1 -6.3l1.1 -0.6l0.3 -1.5l0.7 1.3l1 3.2l1 0.9l1 4.2l1 4.8l1 3.2l1 2.7l0.3 1.1l0.7 -1.1l1 -3l1 -1.9l1 -4l1 -0.2l1 -2.1l1 -0.3l1 -1.9l1 -1.9l0.9 -2.7l0.1 -1.1l1 0.1l1 3.1l1 1.5l1 -2.5l1 1l1 2l1 0.5l0.2 0.3l0.8 2.8l1 0.7l1 1.1l1 0.7l1 0.2l1 3.3l1.1 2.2l0.1 2.2l0.9 -4.9l1 -2.3l1 -4l1 1.8l1 -4.9l1 -0.4l1 -5.9l1 -2.3l1 1l0.7 -3.1l0.3 -1.6l1 3l1 0.8l1 1.6l1 4l1 2.1l0.7 -2.2l0.3 1.9l1 -0.2l1 -6.2l1 2.4l0.7 -3.1l0.3 2.4l1 4.4l1 7.7l1 7.9l0.5 8.4l0.5 -1.5l1 8.3l1 1l1 2.3l0.7 3.2l0.3 -2.8l1 -8.1l1 -4.9l1.1 -4.7l1 -5l0.2 -1.6l0.8 -1.3l1 -1.6l1 2.9l0.6 2.6l0.4 -0.2l1 -0.3l1 -2.8l1 -2.2l1 -2.1l1 2.1l1 -1.2l1 1.2l1 4.2l1 -8.8l1 3.7l0.2 -1.3l0.8 -0.3l1 -1.1l1 -2.9l1 1.7l1 -3.3l1 -2.1l1 5.8l1 -11.1l1 8.7l1 -6.2l1 -0.7l1 1.2l0.8 -3.6l0.2 4.5l1 2.7l1 -4l1.1 6.5l1 -1.1l1 -4.4l1 7.1l1 3.6l0 -2.9l1 -0.5l1 4l1 1.8l1 -3l1 3.8l1 1.2l1 -4.7l1 1.1l1 6.9l1 0.6l1 -7.3l1 -2l0 8.1l1 -3.4l1 -6.5l1 12.2l1 -7.1l1 6.6l1 -3.6l1 1l1 -5.6l1 3.5l1 -1.3l1 2l1 -6.5l1 2.7l1 2.6l0.7 -7.2l0.4 7.7l1 -3.8l1 1l1 2.4l1 -4.2l1 5l1 -9.9l1 2.4l1 6.6l1 1.5l1 -2.8l1 -1.5l1 1.1l1 6.1l1 -3.3l1 -7l1 8.3l1 -5.2l1 1.8l1 -1.9l0.5 -3.3l0.5 2.7l1 2.1l1 -1.2l1 -0.8l1 -2.4l1 -0.6l1 5.1l1 -6.8l1 6.8l1 -6.1l1 4.9l1.1 2.4l1 -8.9l1 2.2l1 4.9l1 1.2l1 -3.9l1 0.2l1 -1.9l1 2.4l1 -4.4l1 -1.6l1 10.2l1 -5.4l1 2.5l1 -8.8l1 13.2" stroke="#a8a8a8" stroke-width="5.0" stroke-opacity="0.55" fill="none" stroke-linejoin="round"/><path d="M126.2 912.8l1.1 -3.2l1 3.9l1 -1.6l0.3 1.9l0.7 1.4l1 2.1l0.9 1.4l0.1 -2.1l1 -4l1 -7.1l1 -4.1l0.3 -2.8l0.7 11.2l1 18.4l1 17.8l1 20.2l0 -0.2l1 -21.3l1 -17.6l1 -16.8l0.8 -15.4l0.2 4.6l1 1.4l1 4.7l1 3.4l0.9 7.6l0.1 -2.8l1 1.2l1 -2.9l1 -1l1 -1.5l1 -2l0.2 1l0.8 2.8l1 0.5l1 8.1l1 -0.6l1.1 3.6l1 1.6l1 2.2l1 4.7l1 -0.3l0.8 3.5l0.2 -2.4l1 -3.6l1 -4.9l1 -4.4l0.1 1.1l0.9 0.7l1 5.8l0.7 3.1l0.3 -5.4l1 1l1 -1.8l1 -1.2l1 -2l1 -3.2l1 -3.7l1 0.4l1 -2.3l1 -0.7l1 -2.7l0.4 -0.6l0.6 -0.1l1 1.6l1 1.4l1 1.4l1 0.5l1 2l1 -1l0 0.9l1 0l1 -6.3l1.1 -0.6l0.3 -1.5l0.7 1.3l1 3.2l1 0.9l1 4.2l1 4.8l1 3.2l1 2.7l0.3 1.1l0.7 -1.1l1 -3l1 -1.9l1 -4l1 -0.2l1 -2.1l1 -0.3l1 -1.9l1 -1.9l0.9 -2.7l0.1 -1.1l1 0.1l1 3.1l1 1.5l1 -2.5l1 1l1 2l1 0.5l0.2 0.3l0.8 2.8l1 0.7l1 1.1l1 0.7l1 0.2l1 3.3l1.1 2.2l0.1 2.2l0.9 -4.9l1 -2.3l1 -4l1 1.8l1 -4.9l1 -0.4l1 -5.9l1 -2.3l1 1l0.7 -3.1l0.3 -1.6l1 3l1 0.8l1 1.6l1 4l1 2.1l0.7 -2.2l0.3 1.9l1 -0.2l1 -6.2l1 2.4l0.7 -3.1l0.3 2.4l1 4.4l1 7.7l1 7.9l0.5 8.4l0.5 -1.5l1 8.3l1 1l1 2.3l0.7 3.2l0.3 -2.8l1 -8.1l1 -4.9l1.1 -4.7l1 -5l0.2 -1.6l0.8 -1.3l1 -1.6l1 2.9l0.6 2.6l0.4 -0.2l1 -0.3l1 -2.8l1 -2.2l1 -2.1l1 2.1l1 -1.2l1 1.2l1 4.2l1 -8.8l1 3.7l0.2 -1.3l0.8 -0.3l1 -1.1l1 -2.9l1 1.7l1 -3.3l1 -2.1l1 5.8l1 -11.1l1 8.7l1 -6.2l1 -0.7l1 1.2l0.8 -3.6l0.2 4.5l1 2.7l1 -4l1.1 6.5l1 -1.1l1 -4.4l1 7.1l1 3.6l0 -2.9l1 -0.5l1 4l1 1.8l1 -3l1 3.8l1 1.2l1 -4.7l1 1.1l1 6.9l1 0.6l1 -7.3l1 -2l0 8.1l1 -3.4l1 -6.5l1 12.2l1 -7.1l1 6.6l1 -3.6l1 1l1 -5.6l1 3.5l1 -1.3l1 2l1 -6.5l1 2.7l1 2.6l0.7 -7.2l0.4 7.7l1 -3.8l1 1l1 2.4l1 -4.2l1 5l1 -9.9l1 2.4l1 6.6l1 1.5l1 -2.8l1 -1.5l1 1.1l1 6.1l1 -3.3l1 -7l1 8.3l1 -5.2l1 1.8l1 -1.9l0.5 -3.3l0.5 2.7l1 2.1l1 -1.2l1 -0.8l1 -2.4l1 -0.6l1 5.1l1 -6.8l1 6.8l1 -6.1l1 4.9l1.1 2.4l1 -8.9l1 2.2l1 4.9l1 1.2l1 -3.9l1 0.2l1 -1.9l1 2.4l1 -4.4l1 -1.6l1 10.2l1 -5.4l1 2.5l1 -8.8l1 13.2" stroke="#141414" stroke-width="1.2" fill="none" stroke-linejoin="round"/><rect x="126.1" y="796.4" width="233.2" height="183.8" fill="none" stroke="#555" stroke-width="0.8"/><path d="M132.9 980.2v-2.2M132.9 796.4v2.2M166.2 980.2v-2.2M166.2 796.4v2.2M199.4 980.2v-2.2M199.4 796.4v2.2M232.7 980.2v-2.2M232.7 796.4v2.2M265.9 980.2v-2.2M265.9 796.4v2.2M299.1 980.2v-2.2M299.1 796.4v2.2M332.4 980.2v-2.2M332.4 796.4v2.2M126.1 969h2.2M359.3 969h-2.2M126.1 942.1h2.2M359.3 942.1h-2.2M126.1 915.1h2.2M359.3 915.1h-2.2M126.1 888.1h2.2M359.3 888.1h-2.2M126.1 861.2h2.2M359.3 861.2h-2.2M126.1 834.2h2.2M359.3 834.2h-2.2M126.1 807.3h2.2M359.3 807.3h-2.2" stroke="#555" stroke-width="0.7" fill="none"/><text x="132.9" y="987.5" font-size="7" text-anchor="middle" fill="#2a2a2a" font-weight="normal" font-style="normal" >0</text><text x="166.2" y="987.5" font-size="7" text-anchor="middle" fill="#2a2a2a" font-weight="normal" font-style="normal" >0.5</text><text x="199.4" y="987.5" font-size="7" text-anchor="middle" fill="#2a2a2a" font-weight="normal" font-style="normal" >1</text><text x="232.7" y="987.5" font-size="7" text-anchor="middle" fill="#2a2a2a" font-weight="normal" font-style="normal" >1.5</text><text x="265.9" y="987.5" font-size="7" text-anchor="middle" fill="#2a2a2a" font-weight="normal" font-style="normal" >2</text><text x="299.1" y="987.5" font-size="7" text-anchor="middle" fill="#2a2a2a" font-weight="normal" font-style="normal" >2.5</text><text x="332.4" y="987.5" font-size="7" text-anchor="middle" fill="#2a2a2a" font-weight="normal" font-style="normal" >3</text><text x="124.3" y="971.5" font-size="7" text-anchor="end" fill="#2a2a2a" font-weight="normal" font-style="normal" >-1</text><text x="124.3" y="944.6" font-size="7" text-anchor="end" fill="#2a2a2a" font-weight="normal" font-style="normal" >-0.5</text><text x="124.3" y="917.6" font-size="7" text-anchor="end" fill="#2a2a2a" font-weight="normal" font-style="normal" >0</text><text x="124.3" y="890.6" font-size="7" text-anchor="end" fill="#2a2a2a" font-weight="normal" font-style="normal" >0.5</text><text x="124.3" y="863.7" font-size="7" text-anchor="end" fill="#2a2a2a" font-weight="normal" font-style="normal" >1</text><text x="124.3" y="836.8" font-size="7" text-anchor="end" fill="#2a2a2a" font-weight="normal" font-style="normal" >1.5</text><text x="124.3" y="809.8" font-size="7" text-anchor="end" fill="#2a2a2a" font-weight="normal" font-style="normal" >2</text><text transform="translate(109 889) rotate(-90)" font-size="7" text-anchor="middle" fill="#2a2a2a">Amplitude (fT)</text><text x="242.5" y="1017.5" font-size="7" text-anchor="middle" fill="#2a2a2a" font-weight="normal" font-style="normal" >Time (s)</text><rect x="319.3" y="802.2" width="37.8" height="56" fill="#fff" stroke="#333" stroke-width="0.7"/><rect x="322" y="806.8" width="9.8" height="5.6" fill="#f4a3ab"/><path d="M322 809.6h9.8" stroke="#e8464f" stroke-width="1.2"/><text x="335" y="812.1" font-size="7" text-anchor="start" fill="#2a2a2a" font-weight="normal" font-style="normal" >M</text><rect x="322" y="817.3" width="9.8" height="5.6" fill="#c2dde9"/><path d="M322 820.1h9.8" stroke="#4aa0c0" stroke-width="1.2"/><text x="335" y="822.6" font-size="7" text-anchor="start" fill="#2a2a2a" font-weight="normal" font-style="normal" >NT1</text><rect x="322" y="827.6" width="9.8" height="5.6" fill="#bcd5f0"/><path d="M322 830.4h9.8" stroke="#3a87d6" stroke-width="1.2"/><text x="335" y="832.9" font-size="7" text-anchor="start" fill="#2a2a2a" font-weight="normal" font-style="normal" >NT2</text><rect x="322" y="837.8" width="9.8" height="5.6" fill="#b9bcdf"/><path d="M322 840.6h9.8" stroke="#2f3a96" stroke-width="1.2"/><text x="335" y="843.1" font-size="7" text-anchor="start" fill="#2a2a2a" font-weight="normal" font-style="normal" >NT3</text><rect x="322" y="848.2" width="9.8" height="5.6" fill="#a8a8a8"/><path d="M322 851h9.8" stroke="#141414" stroke-width="1.2"/><text x="335" y="853.5" font-size="7" text-anchor="start" fill="#2a2a2a" font-weight="normal" font-style="normal" >NT4</text><path d="M242 964H257" stroke="#111" stroke-width="1.5" stroke-opacity="1.0" fill="none"/><path d="M218.5 967.2H235M241 967.2H262.5" stroke="#4d52a8" stroke-width="1.5" stroke-opacity="1.0" fill="none"/><path d="M194 970.5H212.5M215 970.5H237.5M241 970.5H254" stroke="#4a88d8" stroke-width="1.5" stroke-opacity="1.0" fill="none"/><path d="M167 974H189.6M192.5 974H212.5M215 974H237.5M240 974H252.5" stroke="#5aa5c8" stroke-width="1.5" stroke-opacity="1.0" fill="none"/><ellipse cx="131.7" cy="1000.8" rx="2.4" ry="1.7" transform="rotate(-24 131.7 1000.8)" fill="#111"/><path d="M133.6 1000.5V992" stroke="#111" stroke-width="0.9" fill="none"/><path d="M133.1 992C133.9 994.1 137.1 995 136.6 998.5C136.3 996.4 134.8 995.8 133.1 995.5z" fill="#111"/><ellipse cx="155.2" cy="1000.8" rx="2.4" ry="1.7" transform="rotate(-24 155.2 1000.8)" fill="#111"/><path d="M157.1 1000.5V992" stroke="#111" stroke-width="0.9" fill="none"/><path d="M156.6 992C157.4 994.1 160.6 995 160.1 998.5C159.8 996.4 158.3 995.8 156.6 995.5z" fill="#111"/><path d="M150.8 1003.9V1005.8H160.8V1003.9" stroke="#5ab0d8" stroke-width="1.0" fill="none"/><ellipse cx="179.2" cy="1000.8" rx="2.4" ry="1.7" transform="rotate(-24 179.2 1000.8)" fill="#111"/><path d="M181.1 1000.5V992" stroke="#111" stroke-width="0.9" fill="none"/><path d="M180.6 992C181.4 994.1 184.6 995 184.1 998.5C183.8 996.4 182.3 995.8 180.6 995.5z" fill="#111"/><path d="M174.8 1003.9V1005.8H184.8V1003.9" stroke="#4a8ad6" stroke-width="1.0" fill="none"/><ellipse cx="203.2" cy="1000.8" rx="2.4" ry="1.7" transform="rotate(-24 203.2 1000.8)" fill="#111"/><path d="M205.1 1000.5V992" stroke="#111" stroke-width="0.9" fill="none"/><path d="M204.6 992C205.4 994.1 208.6 995 208.1 998.5C207.8 996.4 206.3 995.8 204.6 995.5z" fill="#111"/><path d="M198.8 1003.9V1005.8H208.8V1003.9" stroke="#3a3f9c" stroke-width="1.0" fill="none"/><ellipse cx="228.2" cy="1000.8" rx="2.4" ry="1.7" transform="rotate(-24 228.2 1000.8)" fill="#111"/><path d="M230.1 1000.5V992" stroke="#111" stroke-width="0.9" fill="none"/><path d="M229.6 992C230.4 994.1 233.6 995 233.1 998.5C232.8 996.4 231.3 995.8 229.6 995.5z" fill="#111"/><path d="M223.8 1003.9V1005.8H233.8V1003.9" stroke="#222" stroke-width="1.0" fill="none"/><path d="M475.4 796.2V980.3M482 796.2V980.3M488.6 796.2V980.3M495.2 796.2V980.3M501.9 796.2V980.3M508.5 796.2V980.3M515.1 796.2V980.3M521.7 796.2V980.3M528.3 796.2V980.3M535 796.2V980.3M541.6 796.2V980.3M548.2 796.2V980.3M554.8 796.2V980.3M561.4 796.2V980.3M568.1 796.2V980.3M574.7 796.2V980.3M581.3 796.2V980.3M587.9 796.2V980.3M594.5 796.2V980.3M601.2 796.2V980.3M607.8 796.2V980.3M614.4 796.2V980.3M621 796.2V980.3M627.6 796.2V980.3M634.3 796.2V980.3M640.9 796.2V980.3M647.5 796.2V980.3M654.1 796.2V980.3M660.7 796.2V980.3M667.4 796.2V980.3M674 796.2V980.3M680.6 796.2V980.3M687.2 796.2V980.3M693.8 796.2V980.3M700.5 796.2V980.3M473.3 974.7H707.4M473.3 969.3H707.4M473.3 963.9H707.4M473.3 958.5H707.4M473.3 953.1H707.4M473.3 947.7H707.4M473.3 942.2H707.4M473.3 936.8H707.4M473.3 931.4H707.4M473.3 926H707.4M473.3 920.6H707.4M473.3 915.2H707.4M473.3 909.8H707.4M473.3 904.4H707.4M473.3 899H707.4M473.3 893.6H707.4M473.3 888.1H707.4M473.3 882.7H707.4M473.3 877.3H707.4M473.3 871.9H707.4M473.3 866.5H707.4M473.3 861.1H707.4M473.3 855.7H707.4M473.3 850.3H707.4M473.3 844.9H707.4M473.3 839.5H707.4M473.3 834H707.4M473.3 828.6H707.4M473.3 823.2H707.4M473.3 817.8H707.4M473.3 812.4H707.4M473.3 807H707.4M473.3 801.6H707.4" stroke="#dedede" stroke-width="0.6" fill="none"/><path d="M475.4 917.4l1 -2.5l1 0l1 -0.8l0.3 -1.5l0.7 5.9l1 7.6l1 10.1l1 8.2l0.5 2.1l0.5 -20l1 -32.3l1 -37.4l1 -36.8l0.5 -18.1l0.5 20.2l1 33.7l1 36.9l1 34.7l0.4 15.1l0.6 -5.7l1 -5.1l1 -6.3l1 -10.1l0.8 -6.2l0.2 4l1 -7.7l1 -0.1l1 -6l1.1 -2.4l1 -3.9l1 -4.6l1 -2.2l1 -1.2l0.3 -1.6l0.7 -5.1l1 -1.8l1 -5.6l1 -1.4l1 -9.4l1 -0.6l0.7 -2l0.3 4.6l1 17.6l1 19.5l0 -1.1l1 -12.1l1 -7.8l1 -12.2l0 1.2l1 8.5l1 8.5l1 8.2l1 9.7l1 9.3l1 8.1l0.2 3.6l0.8 -3.4l1 -4.4l1 -1l1 -2.8l1 0l1 -2.7l0.8 -2.7l0.2 -0.2l1 -3.6l1 -3.4l1 -4l1.1 -3.7l1 -4.4l0.7 -1.9l0.3 1.4l1 11.6l1 10.9l0.3 3.6l0.7 -8.9l1 -10.7l1 -13.3l0.7 -10.2l0.3 6.7l1 2.2l1 4.6l1 7.9l1 4.1l1 5.7l1 8.1l0.9 2.1l0.1 3.5l1 -6.5l1 -0.1l1 -4.8l1 3.1l1 -12.4l1 3.3l1 -3.9l1 -1.1l1 -4.8l1 0.7l1 -2.1l0.9 -5.2l0.1 1.4l1 8.7l1 10.7l1 9.2l0.2 6.5l0.8 -11.6l1 -6.1l1.1 -16.4l0.4 -4.2l0.6 6.6l1 3.5l1 4.4l1 6.6l1 6.9l1 3.7l1 9.1l0 -0.5l1 -6.3l1 1.1l1 -1.3l1 -7.4l1 0.3l1 -2.4l1 -3.2l1 -2.5l1 -1.2l1 -2.5l0.6 0.8l0.4 2.6l1 8.9l1 11.3l0.9 9l0.1 -3.2l1 -11.1l1 -4.8l1 -8.4l1 -11.3l0.5 -4.2l0.5 2.5l1 4.3l1 9.7l1 5.9l1 5.7l1 2.9l1 5.8l0.8 6.1l0.3 0.2l1 -3.2l1 -2.7l1 -6l1 -5.2l1 -1.3l0.7 -3.7l0.3 -1.2l1 0.7l1 -4.8l1 -5.6l1 1.9l1 -2.2l1 -6.3l1 1.5l0.6 -2.5l0.4 0l1 2.7l1 2.9l1 -0.4l0.6 5.5l0.4 0.5l1 0.3l1 8.1l1 3.5l1 -1.2l0.2 8.3l0.8 3.9l1 -1.5l1 1.1l1 8l1 -4.9l1 12l0.8 -0.8l0.2 -0.8l1 -1.6l1 6.6l1 -3.6l1.1 -2.8l1 -2.8l1 -2.1l1 -1.8l1 0.8l1 -4.1l1 3.9l1 0.8l1 -1.2l1 6.1l1 -9.5l1 -3.4l1 9.2l1 -3.4l1 -0.3l1 -0.2l0.6 -4.7l0.4 -1.7l1 3.3l1 8.6l1 -12.9l1 6.1l1 -5.4l1 4.8l1 -3.2l1 -4.1l1 7.6l1 -1.2l1 -2.7l1 -1.9l1 -0.9l1 6.8l1 -3.3l1 0.3l1.1 -4.9l1 2.8l1 -0.1l1 -0.9l1 -2.9l1 1.4l1 2.6l1 -3.9l1 5.5l1 -9.5l1 1.9l1 -1.2l1 5.1l1 -0.7l1 1.1l1 -4.6l0.6 5l0.4 -4.6l1 -1.3l1 4.7l1 -2.9l1 -0.3l1 -1.6l1 0.9l1 2.2l1 -1.1l1 -0.4l1 -2.9l1 -1.6l1 2l1 -0.6l1 5.7l1 -9.8l1 11.5l1.1 -7.9l0.4 2.4l0.6 4.6l1 -3.8l1 1.8l1 -1.5l1 0.9l1 4.5l1 -10l1 1.8l1 4.8" stroke="#f4a3ab" stroke-width="5.0" stroke-opacity="0.55" fill="none" stroke-linejoin="round"/><path d="M475.4 917.4l1 -2.5l1 0l1 -0.8l0.3 -1.5l0.7 5.9l1 7.6l1 10.1l1 8.2l0.5 2.1l0.5 -20l1 -32.3l1 -37.4l1 -36.8l0.5 -18.1l0.5 20.2l1 33.7l1 36.9l1 34.7l0.4 15.1l0.6 -5.7l1 -5.1l1 -6.3l1 -10.1l0.8 -6.2l0.2 4l1 -7.7l1 -0.1l1 -6l1.1 -2.4l1 -3.9l1 -4.6l1 -2.2l1 -1.2l0.3 -1.6l0.7 -5.1l1 -1.8l1 -5.6l1 -1.4l1 -9.4l1 -0.6l0.7 -2l0.3 4.6l1 17.6l1 19.5l0 -1.1l1 -12.1l1 -7.8l1 -12.2l0 1.2l1 8.5l1 8.5l1 8.2l1 9.7l1 9.3l1 8.1l0.2 3.6l0.8 -3.4l1 -4.4l1 -1l1 -2.8l1 0l1 -2.7l0.8 -2.7l0.2 -0.2l1 -3.6l1 -3.4l1 -4l1.1 -3.7l1 -4.4l0.7 -1.9l0.3 1.4l1 11.6l1 10.9l0.3 3.6l0.7 -8.9l1 -10.7l1 -13.3l0.7 -10.2l0.3 6.7l1 2.2l1 4.6l1 7.9l1 4.1l1 5.7l1 8.1l0.9 2.1l0.1 3.5l1 -6.5l1 -0.1l1 -4.8l1 3.1l1 -12.4l1 3.3l1 -3.9l1 -1.1l1 -4.8l1 0.7l1 -2.1l0.9 -5.2l0.1 1.4l1 8.7l1 10.7l1 9.2l0.2 6.5l0.8 -11.6l1 -6.1l1.1 -16.4l0.4 -4.2l0.6 6.6l1 3.5l1 4.4l1 6.6l1 6.9l1 3.7l1 9.1l0 -0.5l1 -6.3l1 1.1l1 -1.3l1 -7.4l1 0.3l1 -2.4l1 -3.2l1 -2.5l1 -1.2l1 -2.5l0.6 0.8l0.4 2.6l1 8.9l1 11.3l0.9 9l0.1 -3.2l1 -11.1l1 -4.8l1 -8.4l1 -11.3l0.5 -4.2l0.5 2.5l1 4.3l1 9.7l1 5.9l1 5.7l1 2.9l1 5.8l0.8 6.1l0.3 0.2l1 -3.2l1 -2.7l1 -6l1 -5.2l1 -1.3l0.7 -3.7l0.3 -1.2l1 0.7l1 -4.8l1 -5.6l1 1.9l1 -2.2l1 -6.3l1 1.5l0.6 -2.5l0.4 0l1 2.7l1 2.9l1 -0.4l0.6 5.5l0.4 0.5l1 0.3l1 8.1l1 3.5l1 -1.2l0.2 8.3l0.8 3.9l1 -1.5l1 1.1l1 8l1 -4.9l1 12l0.8 -0.8l0.2 -0.8l1 -1.6l1 6.6l1 -3.6l1.1 -2.8l1 -2.8l1 -2.1l1 -1.8l1 0.8l1 -4.1l1 3.9l1 0.8l1 -1.2l1 6.1l1 -9.5l1 -3.4l1 9.2l1 -3.4l1 -0.3l1 -0.2l0.6 -4.7l0.4 -1.7l1 3.3l1 8.6l1 -12.9l1 6.1l1 -5.4l1 4.8l1 -3.2l1 -4.1l1 7.6l1 -1.2l1 -2.7l1 -1.9l1 -0.9l1 6.8l1 -3.3l1 0.3l1.1 -4.9l1 2.8l1 -0.1l1 -0.9l1 -2.9l1 1.4l1 2.6l1 -3.9l1 5.5l1 -9.5l1 1.9l1 -1.2l1 5.1l1 -0.7l1 1.1l1 -4.6l0.6 5l0.4 -4.6l1 -1.3l1 4.7l1 -2.9l1 -0.3l1 -1.6l1 0.9l1 2.2l1 -1.1l1 -0.4l1 -2.9l1 -1.6l1 2l1 -0.6l1 5.7l1 -9.8l1 11.5l1.1 -7.9l0.4 2.4l0.6 4.6l1 -3.8l1 1.8l1 -1.5l1 0.9l1 4.5l1 -10l1 1.8l1 4.8" stroke="#e8464f" stroke-width="1.2" fill="none" stroke-linejoin="round"/><path d="M475.4 915.7l1 -0.4l1 -0.2l1 0.1l0.3 -0.8l0.7 2.2l1 -1.5l1 2.8l0.6 -2l0.4 12.1l0.5 15l0.5 -19.4l1 -35.3l1 -36.8l1 -33.1l0.5 -18l0.5 20.6l1 35.9l1 35l1 35.6l0.4 14.6l0.6 -4.2l1 -8.2l1 -4.5l1 -7.6l0.8 -6.1l0.2 -3.2l1 -2.8l1 -4l1 -2l1.1 -4.8l1 -0.9l1 -3.3l1 -4.2l1 -2.2l0.3 -1.3l0.7 -4l1 -1.9l1 -2.4l1 -5.9l1 -6.2l1 -5l0.7 -1.6l0.3 6l1 17.9l1 17.9l0 -2.8l1 -11.6l1 -18.9l1 -12.1l0 2.4l1 2.1l1 8.7l1 7.9l1 4.1l1 7.3l1 5.6l0.2 -0.9l0.8 -0.9l1 4.6l1 0.5l1 2.9l1 1.5l1 1l0.8 -0.5l0.2 -2.1l1 -2.5l1 -2.2l1 -1.6l1.1 -3.9l1 -0.7l0.7 -2.4l0.3 4.4l1 8l1 11.2l0.3 2.9l0.7 -10.8l1 -13.4l1 -14.3l0.7 -11l0.3 6l1 1.7l1 4.7l1 7.2l1 3.8l1 8.2l1 3.6l0.9 7.1l0.1 -2.2l1 -0.3l1 -1.6l1 -4l1 2.8l1 -1.1l1 -3.4l1 -3.6l1 2.4l1 -4.1l1 -3.5l1 -0.7l0.9 2.2l0.1 2.8l1 6.2l1 10.2l1 10.3l0.2 -0.2l0.8 -11.4l1 -10.2l1.1 -9.6l0.4 -4.2l0.6 5.8l1 6.7l1 2.7l1 4.6l1 8.7l1 5.3l1 6.7l0 -1.9l1 -3.4l1 -3.6l1 -1.3l1 -2.1l1 -0.2l1 -2.8l1 -2.3l1 -1l1 -6.9l1 -3l0.6 -2.1l0.4 4l1 15.6l1 7.7l0.9 10.2l0.1 -0.1l1 -17.9l1 -14.2l1 -11.1l1 -14.4l0.5 -8.6l0.5 2.9l1 7.2l1 6l1 5.5l1 4.8l1 6.6l1 4.9l0.8 6.4l0.3 -4.9l1 -1.7l1 -1.8l1 -1.7l1 -3.9l1 -0.7l0.7 -2.3l0.3 1.7l1 -0.2l1 1.1l1 -1.1l1 2.4l1 -0.6l1 -0.4l1 5.1l0.6 0.7l0.4 1.6l1 3.3l1 2.8l1 3.2l0.6 1.7l0.4 3.9l1 -3.1l1 6.8l1 0.4l1 0.2l1 1.3l1 5.2l1 1.1l1 2.3l1 3.9l1 1.3l0.8 1.2l0.2 0.3l1 -4.3l1 3.8l1 2.6l1.1 -8.7l1 3.3l1 2.9l1 -9.9l1 6l1 -2.6l1 -2.8l1 4.6l1 -1.9l1 1.4l1 -4.4l1 0.5l1 -1.3l1 -0.2l1 0.8l1 -3l0.6 -3.5l0.4 -5.5l1 10l1 -1.4l1 -2.7l1 3.6l1 -7l1 8.5l1 -5.1l1 0.1l1 1l1 -0.7l1 2l1 -4.1l1 1.6l1 0.8l1 2l1 -0.8l1.1 -6.3l1 1.2l1 1.8l1 2.2l1 -0.9l1 -0.9l1 -1l1 -2.7l1 5.5l1 -6.8l1 3.7l1 -3.9l1 3.5l1 4.1l1 -4.9l1 -4.5l0.6 -3.6l0.4 8l1 -0.9l1 -0.9l1 -0.5l1 0.3l1 -0.8l1 5.6l1 -6.6l1 2.7l1 -3.2l1 -0.1l1 5.9l1 -6.5l1 -1.2l1 1.3l1 -1.3l1 4.2l1.1 -3.2l0.4 1.8l0.6 3.2l1 -2.2l1 -5.6l1 5.7l1 2.7l1 2.7l1 -5.5l1 1.5l1 -0.2" stroke="#c2dde9" stroke-width="5.0" stroke-opacity="0.55" fill="none" stroke-linejoin="round"/><path d="M475.4 915.7l1 -0.4l1 -0.2l1 0.1l0.3 -0.8l0.7 2.2l1 -1.5l1 2.8l0.6 -2l0.4 12.1l0.5 15l0.5 -19.4l1 -35.3l1 -36.8l1 -33.1l0.5 -18l0.5 20.6l1 35.9l1 35l1 35.6l0.4 14.6l0.6 -4.2l1 -8.2l1 -4.5l1 -7.6l0.8 -6.1l0.2 -3.2l1 -2.8l1 -4l1 -2l1.1 -4.8l1 -0.9l1 -3.3l1 -4.2l1 -2.2l0.3 -1.3l0.7 -4l1 -1.9l1 -2.4l1 -5.9l1 -6.2l1 -5l0.7 -1.6l0.3 6l1 17.9l1 17.9l0 -2.8l1 -11.6l1 -18.9l1 -12.1l0 2.4l1 2.1l1 8.7l1 7.9l1 4.1l1 7.3l1 5.6l0.2 -0.9l0.8 -0.9l1 4.6l1 0.5l1 2.9l1 1.5l1 1l0.8 -0.5l0.2 -2.1l1 -2.5l1 -2.2l1 -1.6l1.1 -3.9l1 -0.7l0.7 -2.4l0.3 4.4l1 8l1 11.2l0.3 2.9l0.7 -10.8l1 -13.4l1 -14.3l0.7 -11l0.3 6l1 1.7l1 4.7l1 7.2l1 3.8l1 8.2l1 3.6l0.9 7.1l0.1 -2.2l1 -0.3l1 -1.6l1 -4l1 2.8l1 -1.1l1 -3.4l1 -3.6l1 2.4l1 -4.1l1 -3.5l1 -0.7l0.9 2.2l0.1 2.8l1 6.2l1 10.2l1 10.3l0.2 -0.2l0.8 -11.4l1 -10.2l1.1 -9.6l0.4 -4.2l0.6 5.8l1 6.7l1 2.7l1 4.6l1 8.7l1 5.3l1 6.7l0 -1.9l1 -3.4l1 -3.6l1 -1.3l1 -2.1l1 -0.2l1 -2.8l1 -2.3l1 -1l1 -6.9l1 -3l0.6 -2.1l0.4 4l1 15.6l1 7.7l0.9 10.2l0.1 -0.1l1 -17.9l1 -14.2l1 -11.1l1 -14.4l0.5 -8.6l0.5 2.9l1 7.2l1 6l1 5.5l1 4.8l1 6.6l1 4.9l0.8 6.4l0.3 -4.9l1 -1.7l1 -1.8l1 -1.7l1 -3.9l1 -0.7l0.7 -2.3l0.3 1.7l1 -0.2l1 1.1l1 -1.1l1 2.4l1 -0.6l1 -0.4l1 5.1l0.6 0.7l0.4 1.6l1 3.3l1 2.8l1 3.2l0.6 1.7l0.4 3.9l1 -3.1l1 6.8l1 0.4l1 0.2l1 1.3l1 5.2l1 1.1l1 2.3l1 3.9l1 1.3l0.8 1.2l0.2 0.3l1 -4.3l1 3.8l1 2.6l1.1 -8.7l1 3.3l1 2.9l1 -9.9l1 6l1 -2.6l1 -2.8l1 4.6l1 -1.9l1 1.4l1 -4.4l1 0.5l1 -1.3l1 -0.2l1 0.8l1 -3l0.6 -3.5l0.4 -5.5l1 10l1 -1.4l1 -2.7l1 3.6l1 -7l1 8.5l1 -5.1l1 0.1l1 1l1 -0.7l1 2l1 -4.1l1 1.6l1 0.8l1 2l1 -0.8l1.1 -6.3l1 1.2l1 1.8l1 2.2l1 -0.9l1 -0.9l1 -1l1 -2.7l1 5.5l1 -6.8l1 3.7l1 -3.9l1 3.5l1 4.1l1 -4.9l1 -4.5l0.6 -3.6l0.4 8l1 -0.9l1 -0.9l1 -0.5l1 0.3l1 -0.8l1 5.6l1 -6.6l1 2.7l1 -3.2l1 -0.1l1 5.9l1 -6.5l1 -1.2l1 1.3l1 -1.3l1 4.2l1.1 -3.2l0.4 1.8l0.6 3.2l1 -2.2l1 -5.6l1 5.7l1 2.7l1 2.7l1 -5.5l1 1.5l1 -0.2" stroke="#4aa0c0" stroke-width="1.2" fill="none" stroke-linejoin="round"/><path d="M475.4 915.6l1 2.1l1 -1.7l1 -2l0.3 -0.3l0.7 0.6l1 -0.8l1 2.5l0.6 -2.5l0.4 11.6l0.5 15.5l0.5 -17l1 -34.1l1 -37.4l1 -33.8l0.5 -13.4l0.5 15.9l1 36l1 35.4l1 37.3l0.4 15.7l0.6 -7.5l1 -6.7l1 -6.1l1 -9.1l0.8 -6l0.2 -1l1 -2.3l1 -4.7l1 -1.1l1.1 -4.9l1 -4.3l1 -0.5l1 -2.7l1 -4.1l0.3 -1.9l0.7 -0.1l1 -9.1l1 -2.7l1 -2.3l1 -6.5l1 -2.6l0.7 -2.6l0.3 4.5l1 18.8l1 17.5l0 -1.8l1 -8.3l1 -10.5l1 -7.4l0 -1.4l1 4.6l1 9.9l1 7.1l1 8.3l1 9.8l1 5.6l0.2 2.4l0.8 -0.1l1 -1.4l1 -5l1 2.2l1 -3.3l1 -1.9l0.8 -1.1l0.2 1.7l1 -5l1 -4.1l1 -3.2l1.1 -2.1l1 -5.6l0.7 -2.8l0.3 3.4l1 9.7l1 13.6l0.3 1.2l0.7 -8.2l1 -20.6l1 -23.7l0.7 -9.7l0.3 4.1l1 4l1 8.3l1 9.1l1 6.2l1 3.7l1 9.4l0.9 5.6l0.1 0.6l1 -0.6l1 -5.2l1 -6.6l1 5.6l1 -2.6l1 -3.3l1 0.2l1 -5.3l1 4l1 -3.7l1 -4.7l0.9 -0.3l0.1 -0.2l1 6.9l1 6.9l1 6.4l0.2 0.9l0.8 -7.8l1 -14.5l1.1 -9l0.4 -0.1l0.6 0.6l1 4.2l1 8.1l1 3.7l1 4.2l1 5l1 5.5l0 -0.7l1 1.3l1 0.4l1 -3.9l1 -0.2l1 -0.7l1 0.3l1 -1.4l1 -2.5l1 2l1 -4.5l0.6 2l0.4 3.5l1 8.5l1 10.4l0.9 6.7l0.1 0.2l1 -13.4l1 -9.3l1 -12.5l1 -4.2l0.5 -8.2l0.5 0.5l1 5.8l1 6.3l1 1.6l1 5.3l1 4.8l1 9.2l0.8 -1l0.3 0.1l1 -3.4l1 -0.6l1 -6.7l1 -2.1l1 -4.2l0.7 3l0.3 -1.6l1 0.1l1 -0.1l1 1.5l1 4.1l1 -3.8l1 -4l1 5l0.6 2.1l0.4 -2.5l1 8.8l1 1.1l1 9.1l0.6 1.9l0.4 -2.4l1 3.7l1 1l1 2l1 2.4l1 1.9l1 3.9l1 0.6l1 2.3l1 1.2l1 1.5l0.8 6.3l0.2 -5l1 2l1 -3.5l1 -0.5l1.1 0.2l1 4l1 -5l1 0.3l1 -3.4l1 4.2l1 -1.3l1 5l1 -9.9l1 -4.5l1 8.6l1 -4.8l1 0.1l1 -3.2l1 1.7l1 -3.9l0.6 4.2l0.4 1.3l1 -3.5l1 1.8l1 -3.1l1 1.7l1 2l1 -7.2l1 4.8l1 -3.6l1 -5.6l1 5.3l1 4.3l1 -0.3l1 -3.1l1 -5.4l1 9.5l1 -8.6l1.1 -1.6l1 11.8l1 -3.8l1 -4.5l1 -4.9l1 4.2l1 7.1l1 -1.8l1 -12.8l1 16.7l1 -13l1 6.8l1 -5.4l1 -3.1l1 4.4l1 -2.2l0.6 -0.6l0.4 -5.3l1 0.3l1 9.2l1 -1.6l1 -4.5l1 1.6l1 1.7l1 -2.6l1 4.1l1 3.4l1 -3.4l1 1.1l1 -6.7l1 8.1l1 -8.3l1 -0.8l1 7.1l1.1 -7.6l0.4 1.7l0.6 1.3l1 5.1l1 -1.8l1 -8.7l1 5l1 -3.7l1 11.7l1 -0.7l1 -0.5" stroke="#bcd5f0" stroke-width="5.0" stroke-opacity="0.55" fill="none" stroke-linejoin="round"/><path d="M475.4 915.6l1 2.1l1 -1.7l1 -2l0.3 -0.3l0.7 0.6l1 -0.8l1 2.5l0.6 -2.5l0.4 11.6l0.5 15.5l0.5 -17l1 -34.1l1 -37.4l1 -33.8l0.5 -13.4l0.5 15.9l1 36l1 35.4l1 37.3l0.4 15.7l0.6 -7.5l1 -6.7l1 -6.1l1 -9.1l0.8 -6l0.2 -1l1 -2.3l1 -4.7l1 -1.1l1.1 -4.9l1 -4.3l1 -0.5l1 -2.7l1 -4.1l0.3 -1.9l0.7 -0.1l1 -9.1l1 -2.7l1 -2.3l1 -6.5l1 -2.6l0.7 -2.6l0.3 4.5l1 18.8l1 17.5l0 -1.8l1 -8.3l1 -10.5l1 -7.4l0 -1.4l1 4.6l1 9.9l1 7.1l1 8.3l1 9.8l1 5.6l0.2 2.4l0.8 -0.1l1 -1.4l1 -5l1 2.2l1 -3.3l1 -1.9l0.8 -1.1l0.2 1.7l1 -5l1 -4.1l1 -3.2l1.1 -2.1l1 -5.6l0.7 -2.8l0.3 3.4l1 9.7l1 13.6l0.3 1.2l0.7 -8.2l1 -20.6l1 -23.7l0.7 -9.7l0.3 4.1l1 4l1 8.3l1 9.1l1 6.2l1 3.7l1 9.4l0.9 5.6l0.1 0.6l1 -0.6l1 -5.2l1 -6.6l1 5.6l1 -2.6l1 -3.3l1 0.2l1 -5.3l1 4l1 -3.7l1 -4.7l0.9 -0.3l0.1 -0.2l1 6.9l1 6.9l1 6.4l0.2 0.9l0.8 -7.8l1 -14.5l1.1 -9l0.4 -0.1l0.6 0.6l1 4.2l1 8.1l1 3.7l1 4.2l1 5l1 5.5l0 -0.7l1 1.3l1 0.4l1 -3.9l1 -0.2l1 -0.7l1 0.3l1 -1.4l1 -2.5l1 2l1 -4.5l0.6 2l0.4 3.5l1 8.5l1 10.4l0.9 6.7l0.1 0.2l1 -13.4l1 -9.3l1 -12.5l1 -4.2l0.5 -8.2l0.5 0.5l1 5.8l1 6.3l1 1.6l1 5.3l1 4.8l1 9.2l0.8 -1l0.3 0.1l1 -3.4l1 -0.6l1 -6.7l1 -2.1l1 -4.2l0.7 3l0.3 -1.6l1 0.1l1 -0.1l1 1.5l1 4.1l1 -3.8l1 -4l1 5l0.6 2.1l0.4 -2.5l1 8.8l1 1.1l1 9.1l0.6 1.9l0.4 -2.4l1 3.7l1 1l1 2l1 2.4l1 1.9l1 3.9l1 0.6l1 2.3l1 1.2l1 1.5l0.8 6.3l0.2 -5l1 2l1 -3.5l1 -0.5l1.1 0.2l1 4l1 -5l1 0.3l1 -3.4l1 4.2l1 -1.3l1 5l1 -9.9l1 -4.5l1 8.6l1 -4.8l1 0.1l1 -3.2l1 1.7l1 -3.9l0.6 4.2l0.4 1.3l1 -3.5l1 1.8l1 -3.1l1 1.7l1 2l1 -7.2l1 4.8l1 -3.6l1 -5.6l1 5.3l1 4.3l1 -0.3l1 -3.1l1 -5.4l1 9.5l1 -8.6l1.1 -1.6l1 11.8l1 -3.8l1 -4.5l1 -4.9l1 4.2l1 7.1l1 -1.8l1 -12.8l1 16.7l1 -13l1 6.8l1 -5.4l1 -3.1l1 4.4l1 -2.2l0.6 -0.6l0.4 -5.3l1 0.3l1 9.2l1 -1.6l1 -4.5l1 1.6l1 1.7l1 -2.6l1 4.1l1 3.4l1 -3.4l1 1.1l1 -6.7l1 8.1l1 -8.3l1 -0.8l1 7.1l1.1 -7.6l0.4 1.7l0.6 1.3l1 5.1l1 -1.8l1 -8.7l1 5l1 -3.7l1 11.7l1 -0.7l1 -0.5" stroke="#3a87d6" stroke-width="1.2" fill="none" stroke-linejoin="round"/><path d="M475.4 916l1 -0.3l1 -3.3l1 2.8l0.3 -2.2l0.7 0.6l1 1.9l1 -1.5l0.6 1.1l0.4 12.6l0.5 14.9l0.5 -19.7l1 -35.8l1 -33.5l1 -36l0.5 -16.5l0.5 19.3l1 37.8l1 36.5l1 36.8l0.4 11.6l0.6 -6.7l1 -6.3l1 -7.9l1 -4.2l0.8 -8.8l0.2 -0.9l1 -2.5l1 -3.8l1 -1.6l1.1 -2.8l1 -4.6l1 -1.6l1 -6.7l1 -0.7l0.3 -1.7l0.7 -2.9l1 -3.6l1 -5.5l1 -3.6l1 -4.1l1 -1.3l0.7 -3.3l0.3 4.3l1 19.8l1 15.4l0 -1.1l1 -9.7l1 -12.5l1 -9.6l0 2.9l1 4.8l1 13l1 5.6l1 5.5l1 8.1l1 9l0.2 3.5l0.8 -1.3l1 -5l1 0.4l1 -1.5l1 -3.8l1 1.6l0.8 -2l0.2 -0.3l1 -2.1l1 -6.7l1 -2.9l1.1 -3.7l1 -2.6l0.7 -2.3l0.3 1.8l1 10.6l1 10.4l0.3 3.8l0.7 -7.5l1 -13.8l1 -12.5l0.7 -7.6l0.3 0.1l1 6.7l1 6l1 6l1 7.7l1 5.2l1 4.8l0.9 7l0.1 -2.9l1 0.4l1 -3.1l1 -4.7l1 -1.8l1 -5.7l1 0.3l1 -3.8l1 0.2l1 -5.1l1 -2.1l1 -2.8l0.9 -1.3l0.1 -1l1 9.4l1 13.5l1 8.2l0.2 3.3l0.8 -12.5l1 -20.8l1.1 -13.9l0.4 -6.1l0.6 2.6l1 2.5l1 6.4l1 7.4l1 5.6l1 1.5l1 6.8l0 1.5l1 -2.1l1 -0.3l1 1.7l1 -2.7l1 1.7l1 -4.6l1 2.6l1 -4.4l1 0.3l1 -0.8l0.6 -0.3l0.4 7.2l1 9.3l1 12.8l0.9 15l0.1 -0.5l1 -15.8l1 -12l1 -12.5l1 -10.7l0.5 -8.7l0.5 1.6l1 6.5l1 5l1 9.1l1 0.8l1 9.2l1 4.1l0.8 3l0.3 0.2l1 -8.9l1 3.5l1 -5.9l1 0.8l1 -4.1l0.7 -5.9l0.3 3.7l1 -1.6l1 -0.4l1 1.5l1 -2.6l1 6.4l1 -4l1 -0.5l0.6 -0.4l0.4 0.3l1 11.6l1 0.2l1 3.5l0.6 3.7l0.4 -3.3l1 4.2l1 5.9l1 -0.8l1 0.1l1 -2.1l1 9.4l1 4.3l1 3.2l1 -5.1l1 3.1l0.8 4.3l0.2 0.4l1 -0.5l1 -1.2l1 -4.9l1.1 9.8l1 -9.1l1 2.3l1 -2.3l1 1.7l1 -4.2l1 2.3l1 -2.9l1 5.7l1 -3l1 -2.8l1 -1l1 -4.1l1 3.9l1 -1.9l1 3.5l0.6 -2.7l0.4 -3.6l1 -1.4l1 4.7l1 -4.6l1 -0.4l1 4.7l1 -3.2l1 0.4l1 0.2l1 -6.2l1 1.2l1 4.8l1 -1.5l1 -0.9l1 -1.6l1 -4.8l1 4.5l1.1 7.8l1 -7.1l1 -3.1l1 1.9l1 0.6l1 -0.1l1 7.7l1 -11.5l1 6.4l1 -5.2l1 4.2l1 -5.5l1 -0.6l1 -2.1l1 2.8l1 3.3l0.6 -4.7l0.4 4.7l1 2.1l1 -0.2l1 -4.7l1 4.3l1 -4.1l1 -0.5l1 -6.4l1 -2.4l1 7.2l1 2.3l1 0l1 3.8l1 -10.3l1 8.5l1 -6.1l1 -0.7l1.1 4.4l0.4 2.1l0.6 -2.2l1 -5.1l1 -0.1l1 5.2l1 -2.1l1 1.6l1 3l1 3l1 -8.8" stroke="#b9bcdf" stroke-width="5.0" stroke-opacity="0.55" fill="none" stroke-linejoin="round"/><path d="M475.4 916l1 -0.3l1 -3.3l1 2.8l0.3 -2.2l0.7 0.6l1 1.9l1 -1.5l0.6 1.1l0.4 12.6l0.5 14.9l0.5 -19.7l1 -35.8l1 -33.5l1 -36l0.5 -16.5l0.5 19.3l1 37.8l1 36.5l1 36.8l0.4 11.6l0.6 -6.7l1 -6.3l1 -7.9l1 -4.2l0.8 -8.8l0.2 -0.9l1 -2.5l1 -3.8l1 -1.6l1.1 -2.8l1 -4.6l1 -1.6l1 -6.7l1 -0.7l0.3 -1.7l0.7 -2.9l1 -3.6l1 -5.5l1 -3.6l1 -4.1l1 -1.3l0.7 -3.3l0.3 4.3l1 19.8l1 15.4l0 -1.1l1 -9.7l1 -12.5l1 -9.6l0 2.9l1 4.8l1 13l1 5.6l1 5.5l1 8.1l1 9l0.2 3.5l0.8 -1.3l1 -5l1 0.4l1 -1.5l1 -3.8l1 1.6l0.8 -2l0.2 -0.3l1 -2.1l1 -6.7l1 -2.9l1.1 -3.7l1 -2.6l0.7 -2.3l0.3 1.8l1 10.6l1 10.4l0.3 3.8l0.7 -7.5l1 -13.8l1 -12.5l0.7 -7.6l0.3 0.1l1 6.7l1 6l1 6l1 7.7l1 5.2l1 4.8l0.9 7l0.1 -2.9l1 0.4l1 -3.1l1 -4.7l1 -1.8l1 -5.7l1 0.3l1 -3.8l1 0.2l1 -5.1l1 -2.1l1 -2.8l0.9 -1.3l0.1 -1l1 9.4l1 13.5l1 8.2l0.2 3.3l0.8 -12.5l1 -20.8l1.1 -13.9l0.4 -6.1l0.6 2.6l1 2.5l1 6.4l1 7.4l1 5.6l1 1.5l1 6.8l0 1.5l1 -2.1l1 -0.3l1 1.7l1 -2.7l1 1.7l1 -4.6l1 2.6l1 -4.4l1 0.3l1 -0.8l0.6 -0.3l0.4 7.2l1 9.3l1 12.8l0.9 15l0.1 -0.5l1 -15.8l1 -12l1 -12.5l1 -10.7l0.5 -8.7l0.5 1.6l1 6.5l1 5l1 9.1l1 0.8l1 9.2l1 4.1l0.8 3l0.3 0.2l1 -8.9l1 3.5l1 -5.9l1 0.8l1 -4.1l0.7 -5.9l0.3 3.7l1 -1.6l1 -0.4l1 1.5l1 -2.6l1 6.4l1 -4l1 -0.5l0.6 -0.4l0.4 0.3l1 11.6l1 0.2l1 3.5l0.6 3.7l0.4 -3.3l1 4.2l1 5.9l1 -0.8l1 0.1l1 -2.1l1 9.4l1 4.3l1 3.2l1 -5.1l1 3.1l0.8 4.3l0.2 0.4l1 -0.5l1 -1.2l1 -4.9l1.1 9.8l1 -9.1l1 2.3l1 -2.3l1 1.7l1 -4.2l1 2.3l1 -2.9l1 5.7l1 -3l1 -2.8l1 -1l1 -4.1l1 3.9l1 -1.9l1 3.5l0.6 -2.7l0.4 -3.6l1 -1.4l1 4.7l1 -4.6l1 -0.4l1 4.7l1 -3.2l1 0.4l1 0.2l1 -6.2l1 1.2l1 4.8l1 -1.5l1 -0.9l1 -1.6l1 -4.8l1 4.5l1.1 7.8l1 -7.1l1 -3.1l1 1.9l1 0.6l1 -0.1l1 7.7l1 -11.5l1 6.4l1 -5.2l1 4.2l1 -5.5l1 -0.6l1 -2.1l1 2.8l1 3.3l0.6 -4.7l0.4 4.7l1 2.1l1 -0.2l1 -4.7l1 4.3l1 -4.1l1 -0.5l1 -6.4l1 -2.4l1 7.2l1 2.3l1 0l1 3.8l1 -10.3l1 8.5l1 -6.1l1 -0.7l1.1 4.4l0.4 2.1l0.6 -2.2l1 -5.1l1 -0.1l1 5.2l1 -2.1l1 1.6l1 3l1 3l1 -8.8" stroke="#2f3a96" stroke-width="1.2" fill="none" stroke-linejoin="round"/><path d="M475.4 914.2l1 2.6l1 -2.9l1 2l0.3 -2l0.7 0.3l1 -0.6l1 2.2l0.6 -1.5l0.4 14.8l0.5 14l0.5 -18.3l1 -38.6l1 -29.1l1 -39l0.5 -13.7l0.5 16.2l1 35.8l1 34.8l1 36.5l0.4 16.1l0.6 -6.6l1 -8.2l1 -8.1l1 -4.6l0.8 -5.8l0.2 -1.7l1 -1.2l1 -5.5l1 -4.1l1.1 -0.7l1 -4.8l1 -3.3l1 -3.9l1 -0.5l0.3 -0.2l0.7 -2l1 -7.4l1 -5.2l1 -3.3l1 -5l1 -1.8l0.7 -5.2l0.3 8.3l1 17.3l1 19.7l0 -3.9l1 -9.3l1 -9.3l1 -11l0 1.6l1 3.6l1 11.8l1 3.6l1 9.4l1 8.7l1 5.9l0.2 3.6l0.8 -1.2l1 -2.9l1 1.3l1 -2.9l1 -4.8l1 2.4l0.8 0.7l0.2 -0.7l1 -3.8l1 -5.5l1 -5.2l1.1 -3.5l1 -0.9l0.7 -5.6l0.3 1.4l1 14.5l1 8.5l0.3 3.9l0.7 -7.7l1 -7.2l1 -16.8l0.7 -7.8l0.3 1.6l1 7.6l1 0.4l1 9.8l1 3.8l1 5.9l1 7.3l0.9 4.9l0.1 -2.1l1 1.4l1 -2.8l1 -4.3l1 -4.5l1 -0.3l1 -5.2l1 -0.8l1 -1.1l1 -4.6l1 -1.8l1 -4l0.9 0.3l0.1 -1.2l1 10.3l1 11.8l1 11.2l0.2 0.7l0.8 -7.7l1 -13.4l1.1 -7.4l0.4 -5.4l0.6 3.2l1 2.4l1 8.6l1 5.2l1 6.6l1 2l1 4.9l0 2.9l1 -2l1 -1.7l1 -4.4l1 -1.8l1 -1.3l1 -0.4l1 -4.5l1 -3.5l1 -3.1l1 -2.5l0.6 -1.1l0.4 4.7l1 11.5l1 9.1l0.9 11.7l0.1 -2.9l1 -15.7l1 -14.1l1 -12.6l1 -13.4l0.5 -8.5l0.5 2.5l1 8.2l1 4l1 4.1l1 8l1 4.2l1 6.7l0.8 4.9l0.3 -2.8l1 -3l1 -1.3l1 -2.3l1 -1.7l1 -3.8l0.7 -2.1l0.3 -0.9l1 0.7l1 1.8l1 3l1 1.2l1 1.1l1 -2.8l1 2.8l0.6 -0.2l0.4 0.8l1 5.1l1 6.2l1 3.6l0.6 -0.6l0.4 1.6l1 6l1 -0.8l1 2.1l1 -2.4l1 4.8l1 6.1l1 -0.2l1 8.1l1 0.8l1 -1.9l0.8 1.8l0.2 -6.2l1 -0.6l1 8.1l1 -5.1l1.1 -2.3l1 1.9l1 -1.2l1 -2.7l1 1.5l1 -1.3l1 6.2l1 -6.2l1 2.1l1 -4.6l1 -1.2l1 4.5l1 3.4l1 -5.7l1 -7l1 -0.9l0.6 -3.6l0.4 10.8l1 -7.7l1 10.4l1 -4.2l1 2.7l1 -5.6l1 5.1l1 -11.3l1 6.7l1 -0.8l1 -1.3l1 -0.8l1 4.7l1 -2.3l1 2.7l1 -8l1 -4.6l1.1 7.7l1 -5.6l1 6.6l1 -4.1l1 2.8l1 0.8l1 -7.2l1 12.4l1 -8.4l1 -2.7l1 4l1 -0.2l1 -0.2l1 -0.2l1 -5.2l1 -6.5l0.6 9.5l0.4 0.5l1 0.6l1 -3.4l1 -2l1 5.2l1 -9l1 12.9l1 -9.6l1 0.7l1 -2.2l1 4.8l1 -1.1l1 -1.1l1 -3.2l1 5.7l1 -4.5l1 -2.2l1.1 4.4l0.4 0l0.6 -0.7l1 -0.2l1 6l1 -4.8l1 -1.5l1 -7.4l1 8.7l1 5.2l1 -4.6" stroke="#a8a8a8" stroke-width="5.0" stroke-opacity="0.55" fill="none" stroke-linejoin="round"/><path d="M475.4 914.2l1 2.6l1 -2.9l1 2l0.3 -2l0.7 0.3l1 -0.6l1 2.2l0.6 -1.5l0.4 14.8l0.5 14l0.5 -18.3l1 -38.6l1 -29.1l1 -39l0.5 -13.7l0.5 16.2l1 35.8l1 34.8l1 36.5l0.4 16.1l0.6 -6.6l1 -8.2l1 -8.1l1 -4.6l0.8 -5.8l0.2 -1.7l1 -1.2l1 -5.5l1 -4.1l1.1 -0.7l1 -4.8l1 -3.3l1 -3.9l1 -0.5l0.3 -0.2l0.7 -2l1 -7.4l1 -5.2l1 -3.3l1 -5l1 -1.8l0.7 -5.2l0.3 8.3l1 17.3l1 19.7l0 -3.9l1 -9.3l1 -9.3l1 -11l0 1.6l1 3.6l1 11.8l1 3.6l1 9.4l1 8.7l1 5.9l0.2 3.6l0.8 -1.2l1 -2.9l1 1.3l1 -2.9l1 -4.8l1 2.4l0.8 0.7l0.2 -0.7l1 -3.8l1 -5.5l1 -5.2l1.1 -3.5l1 -0.9l0.7 -5.6l0.3 1.4l1 14.5l1 8.5l0.3 3.9l0.7 -7.7l1 -7.2l1 -16.8l0.7 -7.8l0.3 1.6l1 7.6l1 0.4l1 9.8l1 3.8l1 5.9l1 7.3l0.9 4.9l0.1 -2.1l1 1.4l1 -2.8l1 -4.3l1 -4.5l1 -0.3l1 -5.2l1 -0.8l1 -1.1l1 -4.6l1 -1.8l1 -4l0.9 0.3l0.1 -1.2l1 10.3l1 11.8l1 11.2l0.2 0.7l0.8 -7.7l1 -13.4l1.1 -7.4l0.4 -5.4l0.6 3.2l1 2.4l1 8.6l1 5.2l1 6.6l1 2l1 4.9l0 2.9l1 -2l1 -1.7l1 -4.4l1 -1.8l1 -1.3l1 -0.4l1 -4.5l1 -3.5l1 -3.1l1 -2.5l0.6 -1.1l0.4 4.7l1 11.5l1 9.1l0.9 11.7l0.1 -2.9l1 -15.7l1 -14.1l1 -12.6l1 -13.4l0.5 -8.5l0.5 2.5l1 8.2l1 4l1 4.1l1 8l1 4.2l1 6.7l0.8 4.9l0.3 -2.8l1 -3l1 -1.3l1 -2.3l1 -1.7l1 -3.8l0.7 -2.1l0.3 -0.9l1 0.7l1 1.8l1 3l1 1.2l1 1.1l1 -2.8l1 2.8l0.6 -0.2l0.4 0.8l1 5.1l1 6.2l1 3.6l0.6 -0.6l0.4 1.6l1 6l1 -0.8l1 2.1l1 -2.4l1 4.8l1 6.1l1 -0.2l1 8.1l1 0.8l1 -1.9l0.8 1.8l0.2 -6.2l1 -0.6l1 8.1l1 -5.1l1.1 -2.3l1 1.9l1 -1.2l1 -2.7l1 1.5l1 -1.3l1 6.2l1 -6.2l1 2.1l1 -4.6l1 -1.2l1 4.5l1 3.4l1 -5.7l1 -7l1 -0.9l0.6 -3.6l0.4 10.8l1 -7.7l1 10.4l1 -4.2l1 2.7l1 -5.6l1 5.1l1 -11.3l1 6.7l1 -0.8l1 -1.3l1 -0.8l1 4.7l1 -2.3l1 2.7l1 -8l1 -4.6l1.1 7.7l1 -5.6l1 6.6l1 -4.1l1 2.8l1 0.8l1 -7.2l1 12.4l1 -8.4l1 -2.7l1 4l1 -0.2l1 -0.2l1 -0.2l1 -5.2l1 -6.5l0.6 9.5l0.4 0.5l1 0.6l1 -3.4l1 -2l1 5.2l1 -9l1 12.9l1 -9.6l1 0.7l1 -2.2l1 4.8l1 -1.1l1 -1.1l1 -3.2l1 5.7l1 -4.5l1 -2.2l1.1 4.4l0.4 0l0.6 -0.7l1 -0.2l1 6l1 -4.8l1 -1.5l1 -7.4l1 8.7l1 5.2l1 -4.6" stroke="#141414" stroke-width="1.2" fill="none" stroke-linejoin="round"/><rect x="473.3" y="796.2" width="234.1" height="184.1" fill="none" stroke="#555" stroke-width="0.8"/><path d="M482 980.3v-2.2M482 796.2v2.2M515.1 980.3v-2.2M515.1 796.2v2.2M548.2 980.3v-2.2M548.2 796.2v2.2M581.3 980.3v-2.2M581.3 796.2v2.2M614.4 980.3v-2.2M614.4 796.2v2.2M647.5 980.3v-2.2M647.5 796.2v2.2M680.6 980.3v-2.2M680.6 796.2v2.2M473.3 969.3h2.2M707.4 969.3h-2.2M473.3 942.2h2.2M707.4 942.2h-2.2M473.3 915.2h2.2M707.4 915.2h-2.2M473.3 888.2h2.2M707.4 888.2h-2.2M473.3 861.1h2.2M707.4 861.1h-2.2M473.3 834.1h2.2M707.4 834.1h-2.2M473.3 807h2.2M707.4 807h-2.2" stroke="#555" stroke-width="0.7" fill="none"/><text x="482" y="987.5" font-size="7" text-anchor="middle" fill="#2a2a2a" font-weight="normal" font-style="normal" >0</text><text x="515.1" y="987.5" font-size="7" text-anchor="middle" fill="#2a2a2a" font-weight="normal" font-style="normal" >0.5</text><text x="548.2" y="987.5" font-size="7" text-anchor="middle" fill="#2a2a2a" font-weight="normal" font-style="normal" >1</text><text x="581.3" y="987.5" font-size="7" text-anchor="middle" fill="#2a2a2a" font-weight="normal" font-style="normal" >1.5</text><text x="614.4" y="987.5" font-size="7" text-anchor="middle" fill="#2a2a2a" font-weight="normal" font-style="normal" >2</text><text x="647.5" y="987.5" font-size="7" text-anchor="middle" fill="#2a2a2a" font-weight="normal" font-style="normal" >2.5</text><text x="680.6" y="987.5" font-size="7" text-anchor="middle" fill="#2a2a2a" font-weight="normal" font-style="normal" >3</text><text x="471.5" y="971.8" font-size="7" text-anchor="end" fill="#2a2a2a" font-weight="normal" font-style="normal" >-1</text><text x="471.5" y="944.8" font-size="7" text-anchor="end" fill="#2a2a2a" font-weight="normal" font-style="normal" >-0.5</text><text x="471.5" y="917.7" font-size="7" text-anchor="end" fill="#2a2a2a" font-weight="normal" font-style="normal" >0</text><text x="471.5" y="890.7" font-size="7" text-anchor="end" fill="#2a2a2a" font-weight="normal" font-style="normal" >0.5</text><text x="471.5" y="863.6" font-size="7" text-anchor="end" fill="#2a2a2a" font-weight="normal" font-style="normal" >1</text><text x="471.5" y="836.6" font-size="7" text-anchor="end" fill="#2a2a2a" font-weight="normal" font-style="normal" >1.5</text><text x="471.5" y="809.5" font-size="7" text-anchor="end" fill="#2a2a2a" font-weight="normal" font-style="normal" >2</text><text transform="translate(456 889.2) rotate(-90)" font-size="7" text-anchor="middle" fill="#2a2a2a">Amplitude (fT)</text><text x="591" y="1017.5" font-size="7" text-anchor="middle" fill="#2a2a2a" font-weight="normal" font-style="normal" >Time (s)</text><rect x="668.4" y="802.8" width="32" height="55.5" fill="#fff" stroke="#333" stroke-width="0.7"/><rect x="671.3" y="807" width="9.8" height="5.6" fill="#f4a3ab"/><path d="M671.3 809.8h9.8" stroke="#e8464f" stroke-width="1.2"/><text x="684.4" y="812.3" font-size="7" text-anchor="start" fill="#2a2a2a" font-weight="normal" font-style="normal" >M</text><rect x="671.3" y="817.6" width="9.8" height="5.6" fill="#c2dde9"/><path d="M671.3 820.4h9.8" stroke="#4aa0c0" stroke-width="1.2"/><text x="684.4" y="822.9" font-size="7" text-anchor="start" fill="#2a2a2a" font-weight="normal" font-style="normal" >NT1</text><rect x="671.3" y="827.6" width="9.8" height="5.6" fill="#bcd5f0"/><path d="M671.3 830.4h9.8" stroke="#3a87d6" stroke-width="1.2"/><text x="684.4" y="832.9" font-size="7" text-anchor="start" fill="#2a2a2a" font-weight="normal" font-style="normal" >NT2</text><rect x="671.3" y="838.1" width="9.8" height="5.6" fill="#b9bcdf"/><path d="M671.3 840.9h9.8" stroke="#2f3a96" stroke-width="1.2"/><text x="684.4" y="843.4" font-size="7" text-anchor="start" fill="#2a2a2a" font-weight="normal" font-style="normal" >NT3</text><rect x="671.3" y="848.6" width="9.8" height="5.6" fill="#a8a8a8"/><path d="M671.3 851.4h9.8" stroke="#141414" stroke-width="1.2"/><text x="684.4" y="853.9" font-size="7" text-anchor="start" fill="#2a2a2a" font-weight="normal" font-style="normal" >NT4</text><path d="M589.4 964.2H605.8M611.1 964.2H615.7" stroke="#111" stroke-width="1.5" stroke-opacity="1.0" fill="none"/><path d="M563.7 967.4H580.1M590 967.4H601.8M611.1 967.4H620.6" stroke="#4d52a8" stroke-width="1.5" stroke-opacity="1.0" fill="none"/><path d="M540.5 970.8H547.5M551 970.8H554.4M563.7 970.8H574.2M590.6 970.8H601.8M611.1 970.8H615.7M617 970.8H620" stroke="#4a88d8" stroke-width="1.5" stroke-opacity="1.0" fill="none"/><path d="M515.4 974.1H529.3M540.5 974.1H547.5M564.3 974.1H569.2M590 974.1H604.8M611.1 974.1H621.6" stroke="#5aa5c8" stroke-width="1.5" stroke-opacity="1.0" fill="none"/><ellipse cx="479.2" cy="1000.8" rx="2.4" ry="1.7" transform="rotate(-24 479.2 1000.8)" fill="#111"/><path d="M481.1 1000.5V992" stroke="#111" stroke-width="0.9" fill="none"/><path d="M480.6 992C481.4 994.1 484.6 995 484.1 998.5C483.8 996.4 482.3 995.8 480.6 995.5z" fill="#111"/><ellipse cx="503.2" cy="1000.8" rx="2.4" ry="1.7" transform="rotate(-24 503.2 1000.8)" fill="#111"/><path d="M505.1 1000.5V992" stroke="#111" stroke-width="0.9" fill="none"/><path d="M504.6 992C505.4 994.1 508.6 995 508.1 998.5C507.8 996.4 506.3 995.8 504.6 995.5z" fill="#111"/><path d="M498.8 1003.9V1005.8H508.8V1003.9" stroke="#5ab0d8" stroke-width="1.0" fill="none"/><ellipse cx="528.2" cy="1000.8" rx="2.4" ry="1.7" transform="rotate(-24 528.2 1000.8)" fill="#111"/><path d="M530.1 1000.5V992" stroke="#111" stroke-width="0.9" fill="none"/><path d="M529.6 992C530.4 994.1 533.6 995 533.1 998.5C532.8 996.4 531.3 995.8 529.6 995.5z" fill="#111"/><path d="M523.8 1003.9V1005.8H533.8V1003.9" stroke="#4a8ad6" stroke-width="1.0" fill="none"/><ellipse cx="552.2" cy="1000.8" rx="2.4" ry="1.7" transform="rotate(-24 552.2 1000.8)" fill="#111"/><path d="M554.1 1000.5V992" stroke="#111" stroke-width="0.9" fill="none"/><path d="M553.6 992C554.4 994.1 557.6 995 557.1 998.5C556.8 996.4 555.3 995.8 553.6 995.5z" fill="#111"/><path d="M547.8 1003.9V1005.8H557.8V1003.9" stroke="#3a3f9c" stroke-width="1.0" fill="none"/><ellipse cx="575.7" cy="1000.8" rx="2.4" ry="1.7" transform="rotate(-24 575.7 1000.8)" fill="#111"/><path d="M577.6 1000.5V992" stroke="#111" stroke-width="0.9" fill="none"/><path d="M577.1 992C577.9 994.1 581.1 995 580.6 998.5C580.3 996.4 578.8 995.8 577.1 995.5z" fill="#111"/><path d="M571.3 1003.9V1005.8H581.3V1003.9" stroke="#222" stroke-width="1.0" fill="none"/></g>
</svg></body></html>
